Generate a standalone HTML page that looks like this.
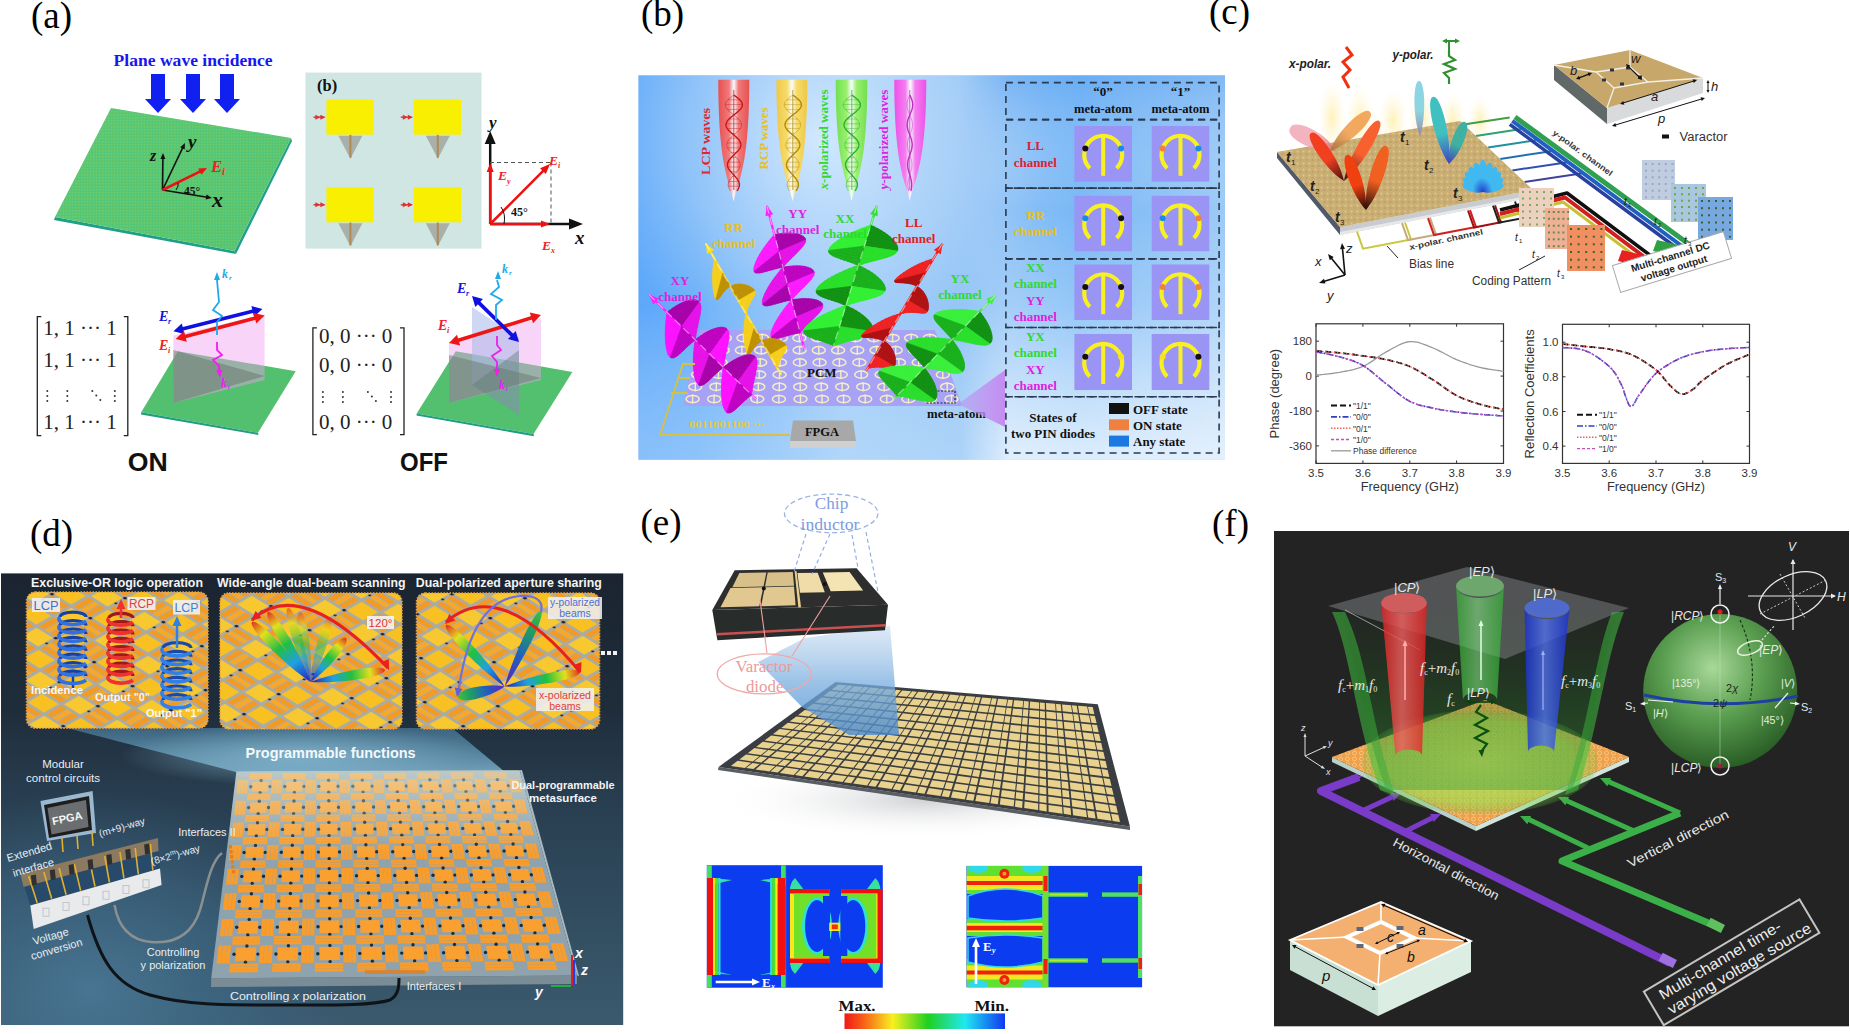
<!DOCTYPE html>
<html><head><meta charset="utf-8"><title>Programmable metasurfaces figure</title>
<style>html,body{margin:0;padding:0;background:#fff;overflow:hidden;width:1850px;height:1034px}svg{display:block}</style>
</head><body>
<svg width="1850" height="1034" viewBox="0 0 1850 1034">
<defs>
<linearGradient id="gplate" x1="0" y1="0" x2="1" y2="1"><stop offset="0" stop-color="#5cc874"/><stop offset="1" stop-color="#56c472"/></linearGradient>
<pattern id="gdots" width="3" height="3" patternUnits="userSpaceOnUse"><rect width="1.5" height="1.5" fill="#c8e040"/><rect x="1.5" y="1.5" width="1.5" height="1.5" fill="#30c8a0"/></pattern>
<linearGradient id="hfade" gradientUnits="userSpaceOnUse" x1="960" y1="0" x2="1010" y2="0"><stop offset="0" stop-color="#000"/><stop offset="1" stop-color="#fff"/></linearGradient>
<mask id="tmask" maskUnits="userSpaceOnUse" x="0" y="0" width="1850" height="1034"><rect x="960" y="75" width="270" height="390" fill="url(#hfade)"/></mask>
<linearGradient id="btable" x1="0" y1="0" x2="0" y2="1"><stop offset="0" stop-color="#4a98f0" stop-opacity="0.35"/><stop offset="0.35" stop-color="#ffffff" stop-opacity="0"/><stop offset="0.7" stop-color="#ffffff" stop-opacity="0.3"/><stop offset="1" stop-color="#ffffff" stop-opacity="0.65"/></linearGradient>
<linearGradient id="bbg" x1="0" y1="0" x2="1" y2="0"><stop offset="0" stop-color="#5ea8fa"/><stop offset="0.1" stop-color="#66aef8"/><stop offset="0.35" stop-color="#9ccaf8"/><stop offset="0.6" stop-color="#92c4f6"/><stop offset="0.75" stop-color="#78b8f6"/><stop offset="1" stop-color="#9ccaf6"/></linearGradient>
<radialGradient id="bglow" cx="820" cy="140" r="230" gradientUnits="userSpaceOnUse"><stop offset="0" stop-color="#d8ecff" stop-opacity="0.9"/><stop offset="0.6" stop-color="#c0dcfa" stop-opacity="0.45"/><stop offset="1" stop-color="#a8d0f8" stop-opacity="0"/></radialGradient>
<linearGradient id="bglow2" x1="0" y1="0" x2="0" y2="1"><stop offset="0" stop-color="#ffffff" stop-opacity="0"/><stop offset="0.6" stop-color="#ffffff" stop-opacity="0"/><stop offset="1" stop-color="#d8ecfc" stop-opacity="0.35"/></linearGradient>
<linearGradient id="tri" x1="0" y1="0" x2="1" y2="0"><stop offset="0" stop-color="#b890f0" stop-opacity="0.5"/><stop offset="1" stop-color="#c48cf0"/></linearGradient>
<radialGradient id="yglow"><stop offset="0" stop-color="#fff0b0" stop-opacity="0.9"/><stop offset="1" stop-color="#fff8e0" stop-opacity="0"/></radialGradient>
<pattern id="sand" width="6" height="6" patternUnits="userSpaceOnUse"><rect width="6" height="6" fill="#c8ac70"/><circle cx="1.5" cy="1.5" r="1" fill="#e8d8a8"/><circle cx="4.5" cy="4" r="0.9" fill="#a89058"/></pattern>
<clipPath id="dclip"><rect x="1" y="573.4" width="622.2" height="451.6"/></clipPath>
<linearGradient id="dbg" x1="0" y1="0" x2="0" y2="1"><stop offset="0" stop-color="#1b2430"/><stop offset="0.3" stop-color="#1f2d3b"/><stop offset="0.5" stop-color="#283e50"/><stop offset="1" stop-color="#3b5a6e"/></linearGradient>
<radialGradient id="dlow"><stop offset="0" stop-color="#4a7896" stop-opacity="0.9"/><stop offset="0.6" stop-color="#3e6a88" stop-opacity="0.5"/><stop offset="1" stop-color="#3a6080" stop-opacity="0"/></radialGradient>
<linearGradient id="dspot" x1="0" y1="0" x2="0" y2="1"><stop offset="0" stop-color="#4e86a8" stop-opacity="0.6"/><stop offset="1" stop-color="#78aac4" stop-opacity="0.9"/></linearGradient>
<radialGradient id="dspot2"><stop offset="0" stop-color="#8cc0d8" stop-opacity="0.7"/><stop offset="1" stop-color="#8cc0d8" stop-opacity="0"/></radialGradient>
<linearGradient id="dboardlight" x1="0" y1="0" x2="0" y2="1"><stop offset="0" stop-color="#e8f0e0" stop-opacity="0.5"/><stop offset="1" stop-color="#e8f0e0" stop-opacity="0"/></linearGradient>
<pattern id="tiles" width="40" height="40" patternUnits="userSpaceOnUse" patternTransform="rotate(-30) skewX(28)"><rect x="2" y="2" width="17" height="17" fill="#f8c830"/><rect x="22" y="2" width="17" height="5" fill="#f59a20"/><rect x="22" y="8" width="17" height="5" fill="#f8a828"/><rect x="22" y="14" width="17" height="5" fill="#f59a20"/><rect x="2" y="22" width="5" height="17" fill="#f59a20"/><rect x="8" y="22" width="5" height="17" fill="#f8a828"/><rect x="14" y="22" width="5" height="17" fill="#f59a20"/><rect x="22" y="22" width="17" height="17" fill="#f8c020"/><circle cx="20.5" cy="20.5" r="1.6" fill="#223"/><circle cx="10" cy="20.5" r="1.2" fill="#223"/></pattern>
<radialGradient id="eshadow"><stop offset="0" stop-color="#b0b4b8" stop-opacity="0.6"/><stop offset="1" stop-color="#ffffff" stop-opacity="0"/></radialGradient>
<linearGradient id="econe" x1="0" y1="0" x2="0" y2="1"><stop offset="0" stop-color="#c8dcf0" stop-opacity="0.6"/><stop offset="0.5" stop-color="#7cb0e0" stop-opacity="0.75"/><stop offset="1" stop-color="#4a8ad0" stop-opacity="0.8"/></linearGradient>
<linearGradient id="jet" x1="0" y1="0" x2="1" y2="0"><stop offset="0" stop-color="#f01818"/><stop offset="0.12" stop-color="#f86018"/><stop offset="0.3" stop-color="#f8f020"/><stop offset="0.52" stop-color="#20d020"/><stop offset="0.75" stop-color="#20e8f0"/><stop offset="1" stop-color="#1038f0"/></linearGradient>
<linearGradient id="funnel" x1="0" y1="0" x2="0" y2="1"><stop offset="0" stop-color="#1a5a1a" stop-opacity="0.05"/><stop offset="0.5" stop-color="#207820" stop-opacity="0.3"/><stop offset="1" stop-color="#40a040" stop-opacity="0.45"/></linearGradient>
<pattern id="hexp" width="7" height="6" patternUnits="userSpaceOnUse"><circle cx="3.5" cy="3" r="2" fill="none" stroke="#fde0b0" stroke-width="0.8"/></pattern>
<radialGradient id="fglow"><stop offset="0" stop-color="#c8f060" stop-opacity="0.75"/><stop offset="0.8" stop-color="#90e050" stop-opacity="0.6"/><stop offset="1" stop-color="#60c040" stop-opacity="0.2"/></radialGradient>
<radialGradient id="sph" cx="0.45" cy="0.35" r="0.65"><stop offset="0" stop-color="#a8d898"/><stop offset="0.5" stop-color="#5a9e50"/><stop offset="1" stop-color="#2a5e26"/></radialGradient>
<linearGradient id="cr" x1="0" y1="0" x2="1" y2="0"><stop offset="0" stop-color="#e85050"/><stop offset="0.35" stop-color="#f07a7a"/><stop offset="0.5" stop-color="#ffffff" stop-opacity="0.9"/><stop offset="0.65" stop-color="#f07a7a"/><stop offset="1" stop-color="#e85050"/></linearGradient>
<linearGradient id="cy" x1="0" y1="0" x2="1" y2="0"><stop offset="0" stop-color="#eec848"/><stop offset="0.35" stop-color="#f7dc6a"/><stop offset="0.5" stop-color="#ffffff" stop-opacity="0.9"/><stop offset="0.65" stop-color="#f7dc6a"/><stop offset="1" stop-color="#eec848"/></linearGradient>
<linearGradient id="cg" x1="0" y1="0" x2="1" y2="0"><stop offset="0" stop-color="#70e050"/><stop offset="0.35" stop-color="#9cf070"/><stop offset="0.5" stop-color="#ffffff" stop-opacity="0.9"/><stop offset="0.65" stop-color="#9cf070"/><stop offset="1" stop-color="#70e050"/></linearGradient>
<linearGradient id="cm" x1="0" y1="0" x2="1" y2="0"><stop offset="0" stop-color="#ee50e8"/><stop offset="0.35" stop-color="#f57ef0"/><stop offset="0.5" stop-color="#ffffff" stop-opacity="0.9"/><stop offset="0.65" stop-color="#f57ef0"/><stop offset="1" stop-color="#ee50e8"/></linearGradient>
<linearGradient id="lb1" gradientUnits="userSpaceOnUse" x1="0" y1="0" x2="51.4" y2="0"><stop offset="0" stop-color="#e07070"/><stop offset="0.45" stop-color="#f0a0b0"/><stop offset="1" stop-color="#f0a0b0"/></linearGradient>
<linearGradient id="lb2" gradientUnits="userSpaceOnUse" x1="0" y1="0" x2="55.9" y2="0"><stop offset="0" stop-color="#a07040"/><stop offset="0.45" stop-color="#f0a050"/><stop offset="1" stop-color="#f0a050"/></linearGradient>
<linearGradient id="lb3" gradientUnits="userSpaceOnUse" x1="0" y1="0" x2="58.2" y2="0"><stop offset="0" stop-color="#401010"/><stop offset="0.45" stop-color="#f04020"/><stop offset="1" stop-color="#f04020"/></linearGradient>
<linearGradient id="lb4" gradientUnits="userSpaceOnUse" x1="0" y1="0" x2="69.5" y2="0"><stop offset="0" stop-color="#401010"/><stop offset="0.45" stop-color="#f86030"/><stop offset="1" stop-color="#f86030"/></linearGradient>
<linearGradient id="lb5" gradientUnits="userSpaceOnUse" x1="0" y1="0" x2="58.2" y2="0"><stop offset="0" stop-color="#200808"/><stop offset="0.45" stop-color="#f04010"/><stop offset="1" stop-color="#f04010"/></linearGradient>
<linearGradient id="lb6" gradientUnits="userSpaceOnUse" x1="0" y1="0" x2="67.1" y2="0"><stop offset="0" stop-color="#200808"/><stop offset="0.45" stop-color="#f06020"/><stop offset="1" stop-color="#f06020"/></linearGradient>
<linearGradient id="lb7" gradientUnits="userSpaceOnUse" x1="0" y1="0" x2="55" y2="0"><stop offset="0" stop-color="#9080b0"/><stop offset="0.45" stop-color="#80d0e0"/><stop offset="1" stop-color="#80d0e0"/></linearGradient>
<linearGradient id="lb8" gradientUnits="userSpaceOnUse" x1="0" y1="0" x2="68.9" y2="0"><stop offset="0" stop-color="#4040c0"/><stop offset="0.45" stop-color="#40c0c0"/><stop offset="1" stop-color="#40c0c0"/></linearGradient>
<linearGradient id="lb9" gradientUnits="userSpaceOnUse" x1="0" y1="0" x2="44.9" y2="0"><stop offset="0" stop-color="#4040c0"/><stop offset="0.45" stop-color="#40b0a0"/><stop offset="1" stop-color="#40b0a0"/></linearGradient>
<linearGradient id="lbb0" gradientUnits="userSpaceOnUse" x1="0" y1="0" x2="21.6" y2="0"><stop offset="0" stop-color="#2040d0"/><stop offset="0.45" stop-color="#40b8f0"/><stop offset="1" stop-color="#40b8f0"/></linearGradient>
<linearGradient id="lbb1" gradientUnits="userSpaceOnUse" x1="0" y1="0" x2="23.9" y2="0"><stop offset="0" stop-color="#2040d0"/><stop offset="0.45" stop-color="#40b8f0"/><stop offset="1" stop-color="#40b8f0"/></linearGradient>
<linearGradient id="lbb2" gradientUnits="userSpaceOnUse" x1="0" y1="0" x2="26.1" y2="0"><stop offset="0" stop-color="#2040d0"/><stop offset="0.45" stop-color="#40b8f0"/><stop offset="1" stop-color="#40b8f0"/></linearGradient>
<linearGradient id="lbb3" gradientUnits="userSpaceOnUse" x1="0" y1="0" x2="28.1" y2="0"><stop offset="0" stop-color="#2040d0"/><stop offset="0.45" stop-color="#40b8f0"/><stop offset="1" stop-color="#40b8f0"/></linearGradient>
<linearGradient id="lbb4" gradientUnits="userSpaceOnUse" x1="0" y1="0" x2="30.1" y2="0"><stop offset="0" stop-color="#2040d0"/><stop offset="0.45" stop-color="#40b8f0"/><stop offset="1" stop-color="#40b8f0"/></linearGradient>
<linearGradient id="lbb5" gradientUnits="userSpaceOnUse" x1="0" y1="0" x2="32" y2="0"><stop offset="0" stop-color="#2040d0"/><stop offset="0.45" stop-color="#40b8f0"/><stop offset="1" stop-color="#40b8f0"/></linearGradient>
<linearGradient id="lbb6" gradientUnits="userSpaceOnUse" x1="0" y1="0" x2="30.1" y2="0"><stop offset="0" stop-color="#2040d0"/><stop offset="0.45" stop-color="#40b8f0"/><stop offset="1" stop-color="#40b8f0"/></linearGradient>
<linearGradient id="lbb7" gradientUnits="userSpaceOnUse" x1="0" y1="0" x2="28.1" y2="0"><stop offset="0" stop-color="#2040d0"/><stop offset="0.45" stop-color="#40b8f0"/><stop offset="1" stop-color="#40b8f0"/></linearGradient>
<linearGradient id="lbb8" gradientUnits="userSpaceOnUse" x1="0" y1="0" x2="26.1" y2="0"><stop offset="0" stop-color="#2040d0"/><stop offset="0.45" stop-color="#40b8f0"/><stop offset="1" stop-color="#40b8f0"/></linearGradient>
<linearGradient id="lbb9" gradientUnits="userSpaceOnUse" x1="0" y1="0" x2="23.9" y2="0"><stop offset="0" stop-color="#2040d0"/><stop offset="0.45" stop-color="#40b8f0"/><stop offset="1" stop-color="#40b8f0"/></linearGradient>
<linearGradient id="lbb10" gradientUnits="userSpaceOnUse" x1="0" y1="0" x2="21.6" y2="0"><stop offset="0" stop-color="#2040d0"/><stop offset="0.45" stop-color="#40b8f0"/><stop offset="1" stop-color="#40b8f0"/></linearGradient>
<clipPath id="ins0"><rect x="26.5" y="592" width="181.5" height="136.2" rx="9"/></clipPath>
<clipPath id="ins1"><rect x="220" y="592.9" width="182" height="136.1" rx="9"/></clipPath>
<clipPath id="ins2"><rect x="416.5" y="592.9" width="183.1" height="136.1" rx="9"/></clipPath>
<linearGradient id="rb2_0" gradientUnits="userSpaceOnUse" x1="0" y1="0" x2="83.8" y2="0"><stop offset="0" stop-color="#2020c0"/><stop offset="0.3" stop-color="#20a0e0"/><stop offset="0.55" stop-color="#20c040"/><stop offset="0.8" stop-color="#e0e020"/><stop offset="1" stop-color="#e03020"/></linearGradient>
<linearGradient id="rb2_1" gradientUnits="userSpaceOnUse" x1="0" y1="0" x2="81.9" y2="0"><stop offset="0" stop-color="#2020c0"/><stop offset="0.3" stop-color="#20a0e0"/><stop offset="0.55" stop-color="#20c040"/><stop offset="0.8" stop-color="#e0e020"/><stop offset="1" stop-color="#e03020"/></linearGradient>
<linearGradient id="rb2_2" gradientUnits="userSpaceOnUse" x1="0" y1="0" x2="77.3" y2="0"><stop offset="0" stop-color="#2020c0"/><stop offset="0.3" stop-color="#20a0e0"/><stop offset="0.55" stop-color="#20c040"/><stop offset="0.8" stop-color="#e0e020"/><stop offset="1" stop-color="#e03020"/></linearGradient>
<linearGradient id="rb2_3" gradientUnits="userSpaceOnUse" x1="0" y1="0" x2="70.8" y2="0"><stop offset="0" stop-color="#2020c0"/><stop offset="0.3" stop-color="#20a0e0"/><stop offset="0.55" stop-color="#20c040"/><stop offset="0.8" stop-color="#e0e020"/><stop offset="1" stop-color="#e03020"/></linearGradient>
<linearGradient id="rb2_4" gradientUnits="userSpaceOnUse" x1="0" y1="0" x2="67.9" y2="0"><stop offset="0" stop-color="#2020c0"/><stop offset="0.3" stop-color="#20a0e0"/><stop offset="0.55" stop-color="#20c040"/><stop offset="0.8" stop-color="#e0e020"/><stop offset="1" stop-color="#e03020"/></linearGradient>
<linearGradient id="rb2_5" gradientUnits="userSpaceOnUse" x1="0" y1="0" x2="56.5" y2="0"><stop offset="0" stop-color="#2020c0"/><stop offset="0.3" stop-color="#20a0e0"/><stop offset="0.55" stop-color="#20c040"/><stop offset="0.8" stop-color="#e0e020"/><stop offset="1" stop-color="#e03020"/></linearGradient>
<linearGradient id="rb2_6" gradientUnits="userSpaceOnUse" x1="0" y1="0" x2="75.5" y2="0"><stop offset="0" stop-color="#2020c0"/><stop offset="0.3" stop-color="#20a0e0"/><stop offset="0.55" stop-color="#20c040"/><stop offset="0.8" stop-color="#e0e020"/><stop offset="1" stop-color="#e03020"/></linearGradient>
<linearGradient id="rb3_0" gradientUnits="userSpaceOnUse" x1="0" y1="0" x2="85.1" y2="0"><stop offset="0" stop-color="#2020c0"/><stop offset="0.3" stop-color="#20a0e0"/><stop offset="0.55" stop-color="#20c040"/><stop offset="0.8" stop-color="#e0e020"/><stop offset="1" stop-color="#e03020"/></linearGradient>
<linearGradient id="rb3_1" gradientUnits="userSpaceOnUse" x1="0" y1="0" x2="76.7" y2="0"><stop offset="0" stop-color="#2020c0"/><stop offset="0.3" stop-color="#20a0e0"/><stop offset="0.55" stop-color="#20c040"/><stop offset="0.8" stop-color="#e0e020"/><stop offset="1" stop-color="#e03020"/></linearGradient>
<linearGradient id="rb3_2" gradientUnits="userSpaceOnUse" x1="0" y1="0" x2="83.9" y2="0"><stop offset="0" stop-color="#6020c0"/><stop offset="0.4" stop-color="#2060c0"/><stop offset="0.75" stop-color="#20a060"/><stop offset="1" stop-color="#40c040"/></linearGradient>
<linearGradient id="rb3_3" gradientUnits="userSpaceOnUse" x1="0" y1="0" x2="47.8" y2="0"><stop offset="0" stop-color="#6020c0"/><stop offset="0.4" stop-color="#2060c0"/><stop offset="0.75" stop-color="#20a060"/><stop offset="1" stop-color="#40c040"/></linearGradient>
<clipPath id="fp1"><rect x="706.8" y="865.2" width="176" height="122.5"/></clipPath>
<clipPath id="fp2"><rect x="966.5" y="865.9" width="175.6" height="121.4"/></clipPath>
<linearGradient id="cylr" x1="0" y1="0" x2="1" y2="0"><stop offset="0" stop-color="#e02020"/><stop offset="0.45" stop-color="#f06060"/><stop offset="1" stop-color="#e02020"/></linearGradient>
<linearGradient id="cylg" x1="0" y1="0" x2="1" y2="0"><stop offset="0" stop-color="#30c030"/><stop offset="0.45" stop-color="#80e080"/><stop offset="1" stop-color="#30c030"/></linearGradient>
<linearGradient id="cylb" x1="0" y1="0" x2="1" y2="0"><stop offset="0" stop-color="#1830d0"/><stop offset="0.45" stop-color="#5070e8"/><stop offset="1" stop-color="#1830d0"/></linearGradient>
</defs>
<rect x="0" y="0" width="1850" height="1034" fill="#ffffff" />
<text x="31" y="27.9" font-family="'Liberation Serif', 'Times New Roman', serif" font-size="37" fill="#000" font-weight="normal" font-style="normal" text-anchor="start" >(a)</text>
<text x="113.6" y="66" font-family="'Liberation Serif', 'Times New Roman', serif" font-size="17.5" fill="#1717ee" font-weight="bold" font-style="normal" text-anchor="start" textLength="159" lengthAdjust="spacingAndGlyphs" >Plane wave incidence</text>
<polygon points="151,74 165,74 165,99 171,99 158,113 145,99 151,99" fill="#1020f0" />
<polygon points="186,74 200,74 200,99 206,99 193,113 180,99 186,99" fill="#1020f0" />
<polygon points="220,74 234,74 234,99 240,99 227,113 214,99 220,99" fill="#1020f0" />
<polygon points="55,217 234.5,251 236,254 54,220" fill="#1f9f86" />
<polygon points="234.5,251 291,138 292,141 236,254" fill="#23a08a" />
<polygon points="111,108 291,138 234.5,251 55,217" fill="url(#gplate)" />
<polygon points="111,108 291,138 234.5,251 55,217" fill="url(#gdots)" opacity="0.18"/>
<line x1="162.5" y1="190" x2="162.9" y2="157.8" stroke="#111" stroke-width="1.6" />
<polygon points="163,153 165.4,159 160.4,159" fill="#111" />
<line x1="162.5" y1="190" x2="182.9" y2="147.3" stroke="#111" stroke-width="1.6" />
<polygon points="185,143 184.7,149.5 180.2,147.3" fill="#111" />
<line x1="162.5" y1="190" x2="207.3" y2="197.2" stroke="#111" stroke-width="1.6" />
<polygon points="212,198 205.7,199.5 206.5,194.6" fill="#111" />
<line x1="162.5" y1="190" x2="201.3" y2="170.8" stroke="#ee1111" stroke-width="2.6" />
<polygon points="207,168 201.4,174.7 198.3,168.4" fill="#ee1111" />
<path d="M 176,190 Q 179,186 178,183" fill="none" stroke="#111" stroke-width="1" />
<text x="150" y="161" font-family="'Liberation Serif', 'Times New Roman', serif" font-size="16" fill="#111" font-weight="bold" font-style="italic" text-anchor="start" >z</text>
<text x="188" y="148" font-family="'Liberation Serif', 'Times New Roman', serif" font-size="19" fill="#111" font-weight="bold" font-style="italic" text-anchor="start" >y</text>
<text x="212" y="207" font-family="'Liberation Serif', 'Times New Roman', serif" font-size="22" fill="#111" font-weight="bold" font-style="italic" text-anchor="start" >x</text>
<text x="211" y="172" font-family="'Liberation Serif', 'Times New Roman', serif" font-size="17" fill="#ee2222" font-weight="bold" font-style="italic" text-anchor="start" >E</text>
<text x="222" y="175" font-family="'Liberation Serif', 'Times New Roman', serif" font-size="10" fill="#ee2222" font-weight="bold" font-style="italic" text-anchor="start" >i</text>
<text x="184" y="195" font-family="'Liberation Serif', 'Times New Roman', serif" font-size="11.5" fill="#111" font-weight="bold" font-style="normal" text-anchor="start" >45°</text>
<rect x="305.5" y="72.6" width="176" height="176" fill="#cfe6e2" />
<text x="317" y="91" font-family="'Liberation Serif', 'Times New Roman', serif" font-size="16.5" fill="#111" font-weight="bold" font-style="normal" text-anchor="start" >(b)</text>
<polygon points="338.4,135.7 362.4,135.7 350.4,158.7" fill="#a9b0aa" />
<line x1="350.4" y1="134.7" x2="350.4" y2="157.7" stroke="#b08a50" stroke-width="2" />
<rect x="326.4" y="99.7" width="47.2" height="35" fill="#f8f000" />
<line x1="313.4" y1="117.2" x2="324.4" y2="117.2" stroke="#e04040" stroke-width="1.5" />
<polygon points="325.4,117.2 320.4,114.7 320.4,119.7" fill="#e03030" />
<polygon points="320.4,117.2 315.4,114.7 315.4,119.7" fill="#e03030" />
<polygon points="425.8,135.7 449.8,135.7 437.8,158.7" fill="#a9b0aa" />
<line x1="437.8" y1="134.7" x2="437.8" y2="157.7" stroke="#b08a50" stroke-width="2" />
<rect x="413.8" y="99.7" width="47.2" height="35" fill="#f8f000" />
<line x1="400.8" y1="117.2" x2="411.8" y2="117.2" stroke="#e04040" stroke-width="1.5" />
<polygon points="412.8,117.2 407.8,114.7 407.8,119.7" fill="#e03030" />
<polygon points="407.8,117.2 402.8,114.7 402.8,119.7" fill="#e03030" />
<polygon points="338.4,223.3 362.4,223.3 350.4,246.3" fill="#a9b0aa" />
<line x1="350.4" y1="222.3" x2="350.4" y2="245.3" stroke="#b08a50" stroke-width="2" />
<rect x="326.4" y="187.3" width="47.2" height="35" fill="#f8f000" />
<line x1="313.4" y1="204.8" x2="324.4" y2="204.8" stroke="#e04040" stroke-width="1.5" />
<polygon points="325.4,204.8 320.4,202.3 320.4,207.3" fill="#e03030" />
<polygon points="320.4,204.8 315.4,202.3 315.4,207.3" fill="#e03030" />
<polygon points="425.8,223.3 449.8,223.3 437.8,246.3" fill="#a9b0aa" />
<line x1="437.8" y1="222.3" x2="437.8" y2="245.3" stroke="#b08a50" stroke-width="2" />
<rect x="413.8" y="187.3" width="47.2" height="35" fill="#f8f000" />
<line x1="400.8" y1="204.8" x2="411.8" y2="204.8" stroke="#e04040" stroke-width="1.5" />
<polygon points="412.8,204.8 407.8,202.3 407.8,207.3" fill="#e03030" />
<polygon points="407.8,204.8 402.8,202.3 402.8,207.3" fill="#e03030" />
<line x1="490.2" y1="224" x2="490.2" y2="141.4" stroke="#111" stroke-width="2.5" />
<polygon points="490.2,131 495.7,144 484.7,144" fill="#111" />
<line x1="490.2" y1="224" x2="571.8" y2="224" stroke="#111" stroke-width="2.5" />
<polygon points="583,224 569,229.5 569,218.5" fill="#111" />
<line x1="490" y1="162.5" x2="551" y2="162.5" stroke="#555" stroke-width="1" stroke-dasharray="4,3"/>
<line x1="551" y1="162.5" x2="551" y2="224" stroke="#555" stroke-width="1" stroke-dasharray="4,3"/>
<line x1="490.2" y1="224" x2="490.2" y2="170.2" stroke="#ee1111" stroke-width="2.5" />
<polygon points="490.2,163 493.7,172 486.7,172" fill="#ee1111" />
<line x1="490.2" y1="224" x2="542.8" y2="224" stroke="#ee1111" stroke-width="2.5" />
<polygon points="550,224 541,227.5 541,220.5" fill="#ee1111" />
<line x1="490.2" y1="224" x2="544.4" y2="169.7" stroke="#ee1111" stroke-width="2.5" />
<polygon points="550,164 545.8,173.9 540.1,168.3" fill="#ee1111" />
<path d="M 504,224 Q 506,214 501,207" fill="none" stroke="#111" stroke-width="1" />
<text x="489" y="128" font-family="'Liberation Serif', 'Times New Roman', serif" font-size="17" fill="#111" font-weight="bold" font-style="italic" text-anchor="start" >y</text>
<text x="575" y="244" font-family="'Liberation Serif', 'Times New Roman', serif" font-size="19" fill="#111" font-weight="bold" font-style="italic" text-anchor="start" >x</text>
<text x="549" y="165" font-family="'Liberation Serif', 'Times New Roman', serif" font-size="13.5" fill="#ee2222" font-weight="bold" font-style="italic" text-anchor="start" >E</text>
<text x="558" y="168" font-family="'Liberation Serif', 'Times New Roman', serif" font-size="8" fill="#ee2222" font-weight="bold" font-style="italic" text-anchor="start" >i</text>
<text x="498" y="180" font-family="'Liberation Serif', 'Times New Roman', serif" font-size="13.5" fill="#ee2222" font-weight="bold" font-style="italic" text-anchor="start" >E</text>
<text x="507" y="184" font-family="'Liberation Serif', 'Times New Roman', serif" font-size="8" fill="#ee2222" font-weight="bold" font-style="italic" text-anchor="start" >y</text>
<text x="542" y="250" font-family="'Liberation Serif', 'Times New Roman', serif" font-size="13.5" fill="#ee2222" font-weight="bold" font-style="italic" text-anchor="start" >E</text>
<text x="551" y="253" font-family="'Liberation Serif', 'Times New Roman', serif" font-size="8" fill="#ee2222" font-weight="bold" font-style="italic" text-anchor="start" >x</text>
<text x="511" y="216" font-family="'Liberation Serif', 'Times New Roman', serif" font-size="12" fill="#111" font-weight="bold" font-style="normal" text-anchor="start" >45°</text>
<path d="M 41.3,316.7 h -4 v 119 h 4" fill="none" stroke="#222" stroke-width="1.3"/>
<path d="M 123.8,316.7 h 4 v 119 h -4" fill="none" stroke="#222" stroke-width="1.3"/>
<text x="43.3" y="334.5" font-family="'Liberation Serif', 'Times New Roman', serif" font-size="21" fill="#222" font-weight="normal" font-style="normal" text-anchor="start" >1, 1 ··· 1</text>
<text x="43.3" y="366.7" font-family="'Liberation Serif', 'Times New Roman', serif" font-size="21" fill="#222" font-weight="normal" font-style="normal" text-anchor="start" >1, 1 ··· 1</text>
<circle cx="47.3" cy="391" r="1" fill="#333"/>
<circle cx="47.3" cy="396" r="1" fill="#333"/>
<circle cx="47.3" cy="401" r="1" fill="#333"/>
<circle cx="67.3" cy="391" r="1" fill="#333"/>
<circle cx="67.3" cy="396" r="1" fill="#333"/>
<circle cx="67.3" cy="401" r="1" fill="#333"/>
<circle cx="92.3" cy="391" r="1" fill="#333"/>
<circle cx="96.3" cy="395.5" r="1" fill="#333"/>
<circle cx="100.3" cy="400" r="1" fill="#333"/>
<circle cx="114.8" cy="391" r="1" fill="#333"/>
<circle cx="114.8" cy="396" r="1" fill="#333"/>
<circle cx="114.8" cy="401" r="1" fill="#333"/>
<text x="43.3" y="429" font-family="'Liberation Serif', 'Times New Roman', serif" font-size="21" fill="#222" font-weight="normal" font-style="normal" text-anchor="start" >1, 1 ··· 1</text>
<path d="M 316.9,327.8 h -4 v 106.8 h 4" fill="none" stroke="#222" stroke-width="1.3"/>
<path d="M 400,327.8 h 4 v 106.8 h -4" fill="none" stroke="#222" stroke-width="1.3"/>
<text x="318.9" y="343.4" font-family="'Liberation Serif', 'Times New Roman', serif" font-size="21" fill="#222" font-weight="normal" font-style="normal" text-anchor="start" >0, 0 ··· 0</text>
<text x="318.9" y="372.3" font-family="'Liberation Serif', 'Times New Roman', serif" font-size="21" fill="#222" font-weight="normal" font-style="normal" text-anchor="start" >0, 0 ··· 0</text>
<circle cx="322.9" cy="392" r="1" fill="#333"/>
<circle cx="322.9" cy="397" r="1" fill="#333"/>
<circle cx="322.9" cy="402" r="1" fill="#333"/>
<circle cx="342.9" cy="392" r="1" fill="#333"/>
<circle cx="342.9" cy="397" r="1" fill="#333"/>
<circle cx="342.9" cy="402" r="1" fill="#333"/>
<circle cx="367.9" cy="392" r="1" fill="#333"/>
<circle cx="371.9" cy="396.5" r="1" fill="#333"/>
<circle cx="375.9" cy="401" r="1" fill="#333"/>
<circle cx="391" cy="392" r="1" fill="#333"/>
<circle cx="391" cy="397" r="1" fill="#333"/>
<circle cx="391" cy="402" r="1" fill="#333"/>
<text x="318.9" y="429" font-family="'Liberation Serif', 'Times New Roman', serif" font-size="21" fill="#222" font-weight="normal" font-style="normal" text-anchor="start" >0, 0 ··· 0</text>
<text x="127.8" y="471.3" font-family="'Liberation Sans', Arial, sans-serif" font-size="26" fill="#111" font-weight="bold" font-style="normal" text-anchor="start" textLength="40" lengthAdjust="spacingAndGlyphs" >ON</text>
<text x="400" y="471" font-family="'Liberation Sans', Arial, sans-serif" font-size="26" fill="#111" font-weight="bold" font-style="normal" text-anchor="start" textLength="48" lengthAdjust="spacingAndGlyphs" >OFF</text>
<polygon points="177.9,351.2 295.7,371.2 258,432.8 141.2,412.3" fill="#52c06e" />
<polygon points="141.2,412.3 258,432.8 258.5,435 141,414.5" fill="#1e9d80" />
<polygon points="173.4,335.6 264.6,314.5 264.6,380 173.4,403" fill="#f0a0f0" opacity="0.45"/>
<polygon points="173.4,350 264.6,376 173.4,403" fill="#6a7a70" opacity="0.55"/>
<line x1="181.2" y1="329.3" x2="254.6" y2="310.8" stroke="#1010e0" stroke-width="3.6" />
<polygon points="262.4,308.9 254,316.7 251.4,306" fill="#1010e0" />
<polygon points="173.4,331.2 181.8,323.4 184.4,334.1" fill="#1010e0" />
<line x1="183.4" y1="337" x2="256.9" y2="317.6" stroke="#ee1515" stroke-width="3.6" />
<polygon points="264.6,315.6 256.3,323.5 253.5,312.8" fill="#ee1515" />
<polygon points="175.7,339 184,331.1 186.8,341.8" fill="#ee1515" />
<path d="M 217,335 L 217,322 L 222,316 L 213,310 L 219,302 L 217,280" fill="none" stroke="#20aae8" stroke-width="1.8" />
<polygon points="217,272 220,280 214,280" fill="#20aae8" />
<path d="M 217,342 L 217,350 L 222,355 L 213,360 L 219,366 L 219,372" fill="none" stroke="#ee20ee" stroke-width="1.8" />
<polygon points="220,378 216.3,370.3 222.3,369.8" fill="#ee20ee" />
<text x="159" y="321" font-family="'Liberation Serif', 'Times New Roman', serif" font-size="14" fill="#1515dd" font-weight="bold" font-style="italic" text-anchor="start" >E</text>
<text x="168" y="324" font-family="'Liberation Serif', 'Times New Roman', serif" font-size="8" fill="#1515dd" font-weight="bold" font-style="italic" text-anchor="start" >r</text>
<text x="159" y="350" font-family="'Liberation Serif', 'Times New Roman', serif" font-size="14" fill="#ee2222" font-weight="bold" font-style="italic" text-anchor="start" >E</text>
<text x="168" y="353" font-family="'Liberation Serif', 'Times New Roman', serif" font-size="8" fill="#ee2222" font-weight="bold" font-style="italic" text-anchor="start" >i</text>
<text x="222" y="278" font-family="'Liberation Serif', 'Times New Roman', serif" font-size="12" fill="#20aae8" font-weight="bold" font-style="italic" text-anchor="start" >k</text>
<text x="229" y="280" font-family="'Liberation Serif', 'Times New Roman', serif" font-size="7" fill="#20aae8" font-weight="bold" font-style="italic" text-anchor="start" >r</text>
<text x="221" y="387" font-family="'Liberation Serif', 'Times New Roman', serif" font-size="12" fill="#ee20ee" font-weight="bold" font-style="italic" text-anchor="start" >k</text>
<text x="228" y="389" font-family="'Liberation Serif', 'Times New Roman', serif" font-size="7" fill="#ee20ee" font-weight="bold" font-style="italic" text-anchor="start" >i</text>
<polygon points="455.7,351.2 572.4,371.9 533.5,434.1 416.7,413.4" fill="#52c06e" />
<polygon points="416.7,413.4 533.5,434.1 534,436.3 416.5,415.6" fill="#1e9d80" />
<polygon points="449,342 541,318 541,380 449,403" fill="#f0a0f0" opacity="0.45"/>
<polygon points="472,307 519,338 519,415 472,385" fill="#a8b8e8" opacity="0.55"/>
<polygon points="449,355 541,378 449,403" fill="#6a7a70" opacity="0.5"/>
<polygon points="472,385 519,415 519,350" fill="#5a7a68" opacity="0.4"/>
<line x1="456.7" y1="340.7" x2="533.3" y2="317.3" stroke="#ee1515" stroke-width="3.6" />
<polygon points="541,315 533,323.2 529.8,312.6" fill="#ee1515" />
<polygon points="449,343 457,334.8 460.2,345.4" fill="#ee1515" />
<line x1="477.7" y1="301.6" x2="513.3" y2="336.4" stroke="#1010e0" stroke-width="3.6" />
<polygon points="519,342 508,338.9 515.7,331.1" fill="#1010e0" />
<polygon points="472,296 483,299.1 475.3,306.9" fill="#1010e0" />
<path d="M 496,320 L 496,305 L 502,300 L 491,294 L 499,287 L 497,280" fill="none" stroke="#20aae8" stroke-width="1.8" />
<polygon points="498,271 501,279 495,279" fill="#20aae8" />
<path d="M 497,336 L 497,345 L 501,350 L 492,356 L 497,362 L 497,370" fill="none" stroke="#ee20ee" stroke-width="1.8" />
<polygon points="497,377 494,369 500,369" fill="#ee20ee" />
<text x="457" y="293" font-family="'Liberation Serif', 'Times New Roman', serif" font-size="14" fill="#1515dd" font-weight="bold" font-style="italic" text-anchor="start" >E</text>
<text x="466" y="296" font-family="'Liberation Serif', 'Times New Roman', serif" font-size="8" fill="#1515dd" font-weight="bold" font-style="italic" text-anchor="start" >r</text>
<text x="438" y="330" font-family="'Liberation Serif', 'Times New Roman', serif" font-size="14" fill="#ee2222" font-weight="bold" font-style="italic" text-anchor="start" >E</text>
<text x="447" y="333" font-family="'Liberation Serif', 'Times New Roman', serif" font-size="8" fill="#ee2222" font-weight="bold" font-style="italic" text-anchor="start" >i</text>
<text x="502" y="273" font-family="'Liberation Serif', 'Times New Roman', serif" font-size="12" fill="#20aae8" font-weight="bold" font-style="italic" text-anchor="start" >k</text>
<text x="509" y="275" font-family="'Liberation Serif', 'Times New Roman', serif" font-size="7" fill="#20aae8" font-weight="bold" font-style="italic" text-anchor="start" >r</text>
<text x="499" y="389" font-family="'Liberation Serif', 'Times New Roman', serif" font-size="12" fill="#ee20ee" font-weight="bold" font-style="italic" text-anchor="start" >k</text>
<text x="506" y="391" font-family="'Liberation Serif', 'Times New Roman', serif" font-size="7" fill="#ee20ee" font-weight="bold" font-style="italic" text-anchor="start" >i</text>
<text x="641" y="26.3" font-family="'Liberation Serif', 'Times New Roman', serif" font-size="37" fill="#000" font-weight="normal" font-style="normal" text-anchor="start" >(b)</text>
<rect x="638.4" y="75.3" width="586.6" height="384.5" fill="url(#bbg)" />
<rect x="638.4" y="75.3" width="586.6" height="384.5" fill="url(#bglow)" />
<rect x="638.4" y="75.3" width="586.6" height="384.5" fill="url(#bglow2)" />
<rect x="960" y="75.3" width="265" height="384.5" fill="url(#btable)" mask="url(#tmask)"/>
<path d="M 718.3,79.7 L 749.3,79.7 C 749.3,164.7 738.8,179.5 733.8,201.5 C 728.8,179.5 718.3,164.7 718.3,79.7 Z" fill="url(#cr)" stroke="none" stroke-width="1" />
<path d="M 776.4,79.7 L 807.3,79.7 C 807.3,164.7 797.8,179.5 792.8,201.5 C 787.8,179.5 776.4,164.7 776.4,79.7 Z" fill="url(#cy)" stroke="none" stroke-width="1" />
<path d="M 835.7,79.7 L 867.3,79.7 C 867.3,164.7 856.8,179 851.8,201 C 846.8,179 835.7,164.7 835.7,79.7 Z" fill="url(#cg)" stroke="none" stroke-width="1" />
<path d="M 894.3,79.7 L 926.3,79.7 C 926.3,164.7 914.8,179 909.8,201 C 904.8,179 894.3,164.7 894.3,79.7 Z" fill="url(#cm)" stroke="none" stroke-width="1" />
<path d="M 733.8,95 L 736,96.6 L 738.1,98.2 L 739.8,99.8 L 741.2,101.4 L 742.1,103 L 742.4,104.6 L 742.2,106.2 L 741.5,107.8 L 740.3,109.4 L 738.7,111 L 736.9,112.6 L 734.8,114.2 L 732.8,115.8 L 730.8,117.4 L 729,119 L 727.6,120.6 L 726.6,122.2 L 726,123.8 L 726,125.4 L 726.4,127 L 727.3,128.6 L 728.5,130.2 L 730.1,131.8 L 731.9,133.4 L 733.8,135 L 735.7,136.6 L 737.4,138.2 L 738.8,139.8 L 739.9,141.4 L 740.6,143 L 740.9,144.6 L 740.8,146.2 L 740.2,147.8 L 739.2,149.4 L 737.9,151 L 736.3,152.6 L 734.6,154.2 L 733,155.8 L 731.3,157.4 L 729.9,159 L 728.8,160.6 L 727.9,162.2 L 727.5,163.8 L 727.5,165.4 L 727.8,167 L 728.5,168.6 L 729.6,170.2 L 730.9,171.8 L 732.3,173.4 L 733.8,175 L 735.3,176.6 L 736.6,178.2 L 737.8,179.8 L 738.7,181.4 L 739.2,183 L 739.4,184.6 L 739.3,186.2 L 738.8,187.8 L 738,189.4 L 737,191" fill="none" stroke="#c81818" stroke-width="1.4" />
<path d="M 733.8,95 L 731.6,96.6 L 729.5,98.2 L 727.8,99.8 L 726.4,101.4 L 725.5,103 L 725.2,104.6 L 725.4,106.2 L 726.1,107.8 L 727.3,109.4 L 728.9,111 L 730.7,112.6 L 732.8,114.2 L 734.8,115.8 L 736.8,117.4 L 738.6,119 L 740,120.6 L 741,122.2 L 741.6,123.8 L 741.6,125.4 L 741.2,127 L 740.3,128.6 L 739.1,130.2 L 737.5,131.8 L 735.7,133.4 L 733.8,135 L 731.9,136.6 L 730.2,138.2 L 728.8,139.8 L 727.7,141.4 L 727,143 L 726.7,144.6 L 726.8,146.2 L 727.4,147.8 L 728.4,149.4 L 729.7,151 L 731.3,152.6 L 733,154.2 L 734.6,155.8 L 736.3,157.4 L 737.7,159 L 738.8,160.6 L 739.7,162.2 L 740.1,163.8 L 740.1,165.4 L 739.8,167 L 739.1,168.6 L 738,170.2 L 736.7,171.8 L 735.3,173.4 L 733.8,175 L 732.3,176.6 L 731,178.2 L 729.8,179.8 L 728.9,181.4 L 728.4,183 L 728.2,184.6 L 728.3,186.2 L 728.8,187.8 L 729.6,189.4 L 730.6,191" fill="none" stroke="#c81818" stroke-width="0.8" opacity="0.6"/>
<line x1="733.8" y1="95" x2="733.8" y2="95" stroke="#c81818" stroke-width="0.6" opacity="0.7"/>
<line x1="727.8" y1="99.8" x2="739.8" y2="99.8" stroke="#c81818" stroke-width="0.6" opacity="0.7"/>
<line x1="725.2" y1="104.6" x2="742.4" y2="104.6" stroke="#c81818" stroke-width="0.6" opacity="0.7"/>
<line x1="727.3" y1="109.4" x2="740.3" y2="109.4" stroke="#c81818" stroke-width="0.6" opacity="0.7"/>
<line x1="732.8" y1="114.2" x2="734.8" y2="114.2" stroke="#c81818" stroke-width="0.6" opacity="0.7"/>
<line x1="738.6" y1="119" x2="729" y2="119" stroke="#c81818" stroke-width="0.6" opacity="0.7"/>
<line x1="741.6" y1="123.8" x2="726" y2="123.8" stroke="#c81818" stroke-width="0.6" opacity="0.7"/>
<line x1="740.3" y1="128.6" x2="727.3" y2="128.6" stroke="#c81818" stroke-width="0.6" opacity="0.7"/>
<line x1="735.7" y1="133.4" x2="731.9" y2="133.4" stroke="#c81818" stroke-width="0.6" opacity="0.7"/>
<line x1="730.2" y1="138.2" x2="737.4" y2="138.2" stroke="#c81818" stroke-width="0.6" opacity="0.7"/>
<line x1="727" y1="143" x2="740.6" y2="143" stroke="#c81818" stroke-width="0.6" opacity="0.7"/>
<line x1="727.4" y1="147.8" x2="740.2" y2="147.8" stroke="#c81818" stroke-width="0.6" opacity="0.7"/>
<line x1="731.3" y1="152.6" x2="736.3" y2="152.6" stroke="#c81818" stroke-width="0.6" opacity="0.7"/>
<line x1="736.3" y1="157.4" x2="731.3" y2="157.4" stroke="#c81818" stroke-width="0.6" opacity="0.7"/>
<line x1="739.7" y1="162.2" x2="727.9" y2="162.2" stroke="#c81818" stroke-width="0.6" opacity="0.7"/>
<line x1="739.8" y1="167" x2="727.8" y2="167" stroke="#c81818" stroke-width="0.6" opacity="0.7"/>
<line x1="736.7" y1="171.8" x2="730.9" y2="171.8" stroke="#c81818" stroke-width="0.6" opacity="0.7"/>
<line x1="732.3" y1="176.6" x2="735.3" y2="176.6" stroke="#c81818" stroke-width="0.6" opacity="0.7"/>
<line x1="728.9" y1="181.4" x2="738.7" y2="181.4" stroke="#c81818" stroke-width="0.6" opacity="0.7"/>
<line x1="728.3" y1="186.2" x2="739.3" y2="186.2" stroke="#c81818" stroke-width="0.6" opacity="0.7"/>
<line x1="733.8" y1="90" x2="733.8" y2="190" stroke="#c81818" stroke-width="0.8" />
<path d="M 792.8,95 L 795,96.6 L 797.1,98.2 L 798.8,99.8 L 800.2,101.4 L 801.1,103 L 801.4,104.6 L 801.2,106.2 L 800.5,107.8 L 799.3,109.4 L 797.7,111 L 795.9,112.6 L 793.8,114.2 L 791.8,115.8 L 789.8,117.4 L 788,119 L 786.6,120.6 L 785.6,122.2 L 785,123.8 L 785,125.4 L 785.4,127 L 786.3,128.6 L 787.5,130.2 L 789.1,131.8 L 790.9,133.4 L 792.8,135 L 794.7,136.6 L 796.4,138.2 L 797.8,139.8 L 798.9,141.4 L 799.6,143 L 799.9,144.6 L 799.8,146.2 L 799.2,147.8 L 798.2,149.4 L 796.9,151 L 795.3,152.6 L 793.6,154.2 L 792,155.8 L 790.3,157.4 L 788.9,159 L 787.8,160.6 L 786.9,162.2 L 786.5,163.8 L 786.5,165.4 L 786.8,167 L 787.5,168.6 L 788.6,170.2 L 789.9,171.8 L 791.3,173.4 L 792.8,175 L 794.3,176.6 L 795.6,178.2 L 796.8,179.8 L 797.7,181.4 L 798.2,183 L 798.4,184.6 L 798.3,186.2 L 797.8,187.8 L 797,189.4 L 796,191" fill="none" stroke="#b08a10" stroke-width="1.4" />
<path d="M 792.8,95 L 790.6,96.6 L 788.5,98.2 L 786.8,99.8 L 785.4,101.4 L 784.5,103 L 784.2,104.6 L 784.4,106.2 L 785.1,107.8 L 786.3,109.4 L 787.9,111 L 789.7,112.6 L 791.8,114.2 L 793.8,115.8 L 795.8,117.4 L 797.6,119 L 799,120.6 L 800,122.2 L 800.6,123.8 L 800.6,125.4 L 800.2,127 L 799.3,128.6 L 798.1,130.2 L 796.5,131.8 L 794.7,133.4 L 792.8,135 L 790.9,136.6 L 789.2,138.2 L 787.8,139.8 L 786.7,141.4 L 786,143 L 785.7,144.6 L 785.8,146.2 L 786.4,147.8 L 787.4,149.4 L 788.7,151 L 790.3,152.6 L 792,154.2 L 793.6,155.8 L 795.3,157.4 L 796.7,159 L 797.8,160.6 L 798.7,162.2 L 799.1,163.8 L 799.1,165.4 L 798.8,167 L 798.1,168.6 L 797,170.2 L 795.7,171.8 L 794.3,173.4 L 792.8,175 L 791.3,176.6 L 790,178.2 L 788.8,179.8 L 787.9,181.4 L 787.4,183 L 787.2,184.6 L 787.3,186.2 L 787.8,187.8 L 788.6,189.4 L 789.6,191" fill="none" stroke="#b08a10" stroke-width="0.8" opacity="0.6"/>
<line x1="792.8" y1="95" x2="792.8" y2="95" stroke="#b08a10" stroke-width="0.6" opacity="0.7"/>
<line x1="786.8" y1="99.8" x2="798.8" y2="99.8" stroke="#b08a10" stroke-width="0.6" opacity="0.7"/>
<line x1="784.2" y1="104.6" x2="801.4" y2="104.6" stroke="#b08a10" stroke-width="0.6" opacity="0.7"/>
<line x1="786.3" y1="109.4" x2="799.3" y2="109.4" stroke="#b08a10" stroke-width="0.6" opacity="0.7"/>
<line x1="791.8" y1="114.2" x2="793.8" y2="114.2" stroke="#b08a10" stroke-width="0.6" opacity="0.7"/>
<line x1="797.6" y1="119" x2="788" y2="119" stroke="#b08a10" stroke-width="0.6" opacity="0.7"/>
<line x1="800.6" y1="123.8" x2="785" y2="123.8" stroke="#b08a10" stroke-width="0.6" opacity="0.7"/>
<line x1="799.3" y1="128.6" x2="786.3" y2="128.6" stroke="#b08a10" stroke-width="0.6" opacity="0.7"/>
<line x1="794.7" y1="133.4" x2="790.9" y2="133.4" stroke="#b08a10" stroke-width="0.6" opacity="0.7"/>
<line x1="789.2" y1="138.2" x2="796.4" y2="138.2" stroke="#b08a10" stroke-width="0.6" opacity="0.7"/>
<line x1="786" y1="143" x2="799.6" y2="143" stroke="#b08a10" stroke-width="0.6" opacity="0.7"/>
<line x1="786.4" y1="147.8" x2="799.2" y2="147.8" stroke="#b08a10" stroke-width="0.6" opacity="0.7"/>
<line x1="790.3" y1="152.6" x2="795.3" y2="152.6" stroke="#b08a10" stroke-width="0.6" opacity="0.7"/>
<line x1="795.3" y1="157.4" x2="790.3" y2="157.4" stroke="#b08a10" stroke-width="0.6" opacity="0.7"/>
<line x1="798.7" y1="162.2" x2="786.9" y2="162.2" stroke="#b08a10" stroke-width="0.6" opacity="0.7"/>
<line x1="798.8" y1="167" x2="786.8" y2="167" stroke="#b08a10" stroke-width="0.6" opacity="0.7"/>
<line x1="795.7" y1="171.8" x2="789.9" y2="171.8" stroke="#b08a10" stroke-width="0.6" opacity="0.7"/>
<line x1="791.3" y1="176.6" x2="794.3" y2="176.6" stroke="#b08a10" stroke-width="0.6" opacity="0.7"/>
<line x1="787.9" y1="181.4" x2="797.7" y2="181.4" stroke="#b08a10" stroke-width="0.6" opacity="0.7"/>
<line x1="787.3" y1="186.2" x2="798.3" y2="186.2" stroke="#b08a10" stroke-width="0.6" opacity="0.7"/>
<line x1="792.8" y1="90" x2="792.8" y2="190" stroke="#b08a10" stroke-width="0.8" />
<path d="M 851.8,95 L 854,96.6 L 856.1,98.2 L 857.8,99.8 L 859.2,101.4 L 860.1,103 L 860.4,104.6 L 860.2,106.2 L 859.5,107.8 L 858.3,109.4 L 856.7,111 L 854.9,112.6 L 852.8,114.2 L 850.8,115.8 L 848.8,117.4 L 847,119 L 845.6,120.6 L 844.6,122.2 L 844,123.8 L 844,125.4 L 844.4,127 L 845.3,128.6 L 846.5,130.2 L 848.1,131.8 L 849.9,133.4 L 851.8,135 L 853.7,136.6 L 855.4,138.2 L 856.8,139.8 L 857.9,141.4 L 858.6,143 L 858.9,144.6 L 858.8,146.2 L 858.2,147.8 L 857.2,149.4 L 855.9,151 L 854.3,152.6 L 852.6,154.2 L 851,155.8 L 849.3,157.4 L 847.9,159 L 846.8,160.6 L 845.9,162.2 L 845.5,163.8 L 845.5,165.4 L 845.8,167 L 846.5,168.6 L 847.6,170.2 L 848.9,171.8 L 850.3,173.4 L 851.8,175 L 853.3,176.6 L 854.6,178.2 L 855.8,179.8 L 856.7,181.4 L 857.2,183 L 857.4,184.6 L 857.3,186.2 L 856.8,187.8 L 856,189.4 L 855,191" fill="none" stroke="#30b030" stroke-width="1.4" />
<path d="M 851.8,95 L 849.6,96.6 L 847.5,98.2 L 845.8,99.8 L 844.4,101.4 L 843.5,103 L 843.2,104.6 L 843.4,106.2 L 844.1,107.8 L 845.3,109.4 L 846.9,111 L 848.7,112.6 L 850.8,114.2 L 852.8,115.8 L 854.8,117.4 L 856.6,119 L 858,120.6 L 859,122.2 L 859.6,123.8 L 859.6,125.4 L 859.2,127 L 858.3,128.6 L 857.1,130.2 L 855.5,131.8 L 853.7,133.4 L 851.8,135 L 849.9,136.6 L 848.2,138.2 L 846.8,139.8 L 845.7,141.4 L 845,143 L 844.7,144.6 L 844.8,146.2 L 845.4,147.8 L 846.4,149.4 L 847.7,151 L 849.3,152.6 L 851,154.2 L 852.6,155.8 L 854.3,157.4 L 855.7,159 L 856.8,160.6 L 857.7,162.2 L 858.1,163.8 L 858.1,165.4 L 857.8,167 L 857.1,168.6 L 856,170.2 L 854.7,171.8 L 853.3,173.4 L 851.8,175 L 850.3,176.6 L 849,178.2 L 847.8,179.8 L 846.9,181.4 L 846.4,183 L 846.2,184.6 L 846.3,186.2 L 846.8,187.8 L 847.6,189.4 L 848.6,191" fill="none" stroke="#30b030" stroke-width="0.8" opacity="0.6"/>
<line x1="851.8" y1="95" x2="851.8" y2="95" stroke="#30b030" stroke-width="0.6" opacity="0.7"/>
<line x1="845.8" y1="99.8" x2="857.8" y2="99.8" stroke="#30b030" stroke-width="0.6" opacity="0.7"/>
<line x1="843.2" y1="104.6" x2="860.4" y2="104.6" stroke="#30b030" stroke-width="0.6" opacity="0.7"/>
<line x1="845.3" y1="109.4" x2="858.3" y2="109.4" stroke="#30b030" stroke-width="0.6" opacity="0.7"/>
<line x1="850.8" y1="114.2" x2="852.8" y2="114.2" stroke="#30b030" stroke-width="0.6" opacity="0.7"/>
<line x1="856.6" y1="119" x2="847" y2="119" stroke="#30b030" stroke-width="0.6" opacity="0.7"/>
<line x1="859.6" y1="123.8" x2="844" y2="123.8" stroke="#30b030" stroke-width="0.6" opacity="0.7"/>
<line x1="858.3" y1="128.6" x2="845.3" y2="128.6" stroke="#30b030" stroke-width="0.6" opacity="0.7"/>
<line x1="853.7" y1="133.4" x2="849.9" y2="133.4" stroke="#30b030" stroke-width="0.6" opacity="0.7"/>
<line x1="848.2" y1="138.2" x2="855.4" y2="138.2" stroke="#30b030" stroke-width="0.6" opacity="0.7"/>
<line x1="845" y1="143" x2="858.6" y2="143" stroke="#30b030" stroke-width="0.6" opacity="0.7"/>
<line x1="845.4" y1="147.8" x2="858.2" y2="147.8" stroke="#30b030" stroke-width="0.6" opacity="0.7"/>
<line x1="849.3" y1="152.6" x2="854.3" y2="152.6" stroke="#30b030" stroke-width="0.6" opacity="0.7"/>
<line x1="854.3" y1="157.4" x2="849.3" y2="157.4" stroke="#30b030" stroke-width="0.6" opacity="0.7"/>
<line x1="857.7" y1="162.2" x2="845.9" y2="162.2" stroke="#30b030" stroke-width="0.6" opacity="0.7"/>
<line x1="857.8" y1="167" x2="845.8" y2="167" stroke="#30b030" stroke-width="0.6" opacity="0.7"/>
<line x1="854.7" y1="171.8" x2="848.9" y2="171.8" stroke="#30b030" stroke-width="0.6" opacity="0.7"/>
<line x1="850.3" y1="176.6" x2="853.3" y2="176.6" stroke="#30b030" stroke-width="0.6" opacity="0.7"/>
<line x1="846.9" y1="181.4" x2="856.7" y2="181.4" stroke="#30b030" stroke-width="0.6" opacity="0.7"/>
<line x1="846.3" y1="186.2" x2="857.3" y2="186.2" stroke="#30b030" stroke-width="0.6" opacity="0.7"/>
<line x1="851.8" y1="90" x2="851.8" y2="190" stroke="#30b030" stroke-width="0.8" />
<path d="M 909.8,95 L 910.5,96.6 L 911.2,98.2 L 911.8,99.8 L 912.3,101.4 L 912.6,103 L 912.7,104.6 L 912.6,106.2 L 912.4,107.8 L 912,109.4 L 911.4,111 L 910.8,112.6 L 910.1,114.2 L 909.5,115.8 L 908.8,117.4 L 908.2,119 L 907.7,120.6 L 907.4,122.2 L 907.2,123.8 L 907.2,125.4 L 907.3,127 L 907.6,128.6 L 908,130.2 L 908.6,131.8 L 909.2,133.4 L 909.8,135 L 910.4,136.6 L 911,138.2 L 911.5,139.8 L 911.8,141.4 L 912.1,143 L 912.2,144.6 L 912.1,146.2 L 911.9,147.8 L 911.6,149.4 L 911.2,151 L 910.6,152.6 L 910.1,154.2 L 909.5,155.8 L 909,157.4 L 908.5,159 L 908.1,160.6 L 907.8,162.2 L 907.7,163.8 L 907.7,165.4 L 907.8,167 L 908,168.6 L 908.4,170.2 L 908.8,171.8 L 909.3,173.4 L 909.8,175 L 910.3,176.6 L 910.7,178.2 L 911.1,179.8 L 911.4,181.4 L 911.6,183 L 911.7,184.6 L 911.6,186.2 L 911.5,187.8 L 911.2,189.4 L 910.9,191" fill="none" stroke="#c030c0" stroke-width="1.4" />
<path d="M 909.8,95 L 909.1,96.6 L 908.4,98.2 L 907.8,99.8 L 907.3,101.4 L 907,103 L 906.9,104.6 L 907,106.2 L 907.2,107.8 L 907.6,109.4 L 908.2,111 L 908.8,112.6 L 909.5,114.2 L 910.1,115.8 L 910.8,117.4 L 911.4,119 L 911.9,120.6 L 912.2,122.2 L 912.4,123.8 L 912.4,125.4 L 912.3,127 L 912,128.6 L 911.6,130.2 L 911,131.8 L 910.4,133.4 L 909.8,135 L 909.2,136.6 L 908.6,138.2 L 908.1,139.8 L 907.8,141.4 L 907.5,143 L 907.4,144.6 L 907.5,146.2 L 907.7,147.8 L 908,149.4 L 908.4,151 L 909,152.6 L 909.5,154.2 L 910.1,155.8 L 910.6,157.4 L 911.1,159 L 911.5,160.6 L 911.8,162.2 L 911.9,163.8 L 911.9,165.4 L 911.8,167 L 911.6,168.6 L 911.2,170.2 L 910.8,171.8 L 910.3,173.4 L 909.8,175 L 909.3,176.6 L 908.9,178.2 L 908.5,179.8 L 908.2,181.4 L 908,183 L 907.9,184.6 L 908,186.2 L 908.1,187.8 L 908.4,189.4 L 908.7,191" fill="none" stroke="#c030c0" stroke-width="0.8" opacity="0.6"/>
<line x1="909.8" y1="90" x2="909.8" y2="190" stroke="#c030c0" stroke-width="0.8" />
<text x="705.8" y="141.5" font-family="'Liberation Serif', 'Times New Roman', serif" font-size="12.5" fill="#e02828" font-weight="bold" font-style="normal" text-anchor="middle" textLength="67" lengthAdjust="spacingAndGlyphs" transform="rotate(-90 705.8 141.5)" dominant-baseline="central">LCP waves</text>
<text x="763.8" y="138.5" font-family="'Liberation Serif', 'Times New Roman', serif" font-size="12.5" fill="#e8c020" font-weight="bold" font-style="normal" text-anchor="middle" textLength="62" lengthAdjust="spacingAndGlyphs" transform="rotate(-90 763.8 138.5)" dominant-baseline="central">RCP waves</text>
<text x="823.8" y="139.5" font-family="'Liberation Serif', 'Times New Roman', serif" font-size="12.5" fill="#30d830" font-weight="bold" font-style="normal" text-anchor="middle" textLength="100" lengthAdjust="spacingAndGlyphs" transform="rotate(-90 823.8 139.5)" dominant-baseline="central"><tspan font-style="italic">x</tspan>-polarized waves</text>
<text x="883.7" y="139.5" font-family="'Liberation Serif', 'Times New Roman', serif" font-size="12.5" fill="#e020e0" font-weight="bold" font-style="normal" text-anchor="middle" textLength="100" lengthAdjust="spacingAndGlyphs" transform="rotate(-90 883.7 139.5)" dominant-baseline="central"><tspan font-style="italic">y</tspan>-polarized waves</text>
<polygon points="700,330 935,330 962,406 683,406" fill="#a8a2f6" />
<ellipse cx="706.2" cy="338" rx="6.5" ry="3.6" fill="none" stroke="#f4eec0" stroke-width="1.5"/>
<line x1="706.2" y1="333.5" x2="706.2" y2="342.5" stroke="#f4eec0" stroke-width="1.4" />
<ellipse cx="724.8" cy="338" rx="6.5" ry="3.6" fill="none" stroke="#f4eec0" stroke-width="1.5"/>
<line x1="724.8" y1="333.5" x2="724.8" y2="342.5" stroke="#f4eec0" stroke-width="1.4" />
<ellipse cx="743.5" cy="338" rx="6.5" ry="3.6" fill="none" stroke="#f4eec0" stroke-width="1.5"/>
<line x1="743.5" y1="333.5" x2="743.5" y2="342.5" stroke="#f4eec0" stroke-width="1.4" />
<ellipse cx="762.1" cy="338" rx="6.5" ry="3.6" fill="none" stroke="#f4eec0" stroke-width="1.5"/>
<line x1="762.1" y1="333.5" x2="762.1" y2="342.5" stroke="#f4eec0" stroke-width="1.4" />
<ellipse cx="780.8" cy="338" rx="6.5" ry="3.6" fill="none" stroke="#f4eec0" stroke-width="1.5"/>
<line x1="780.8" y1="333.5" x2="780.8" y2="342.5" stroke="#f4eec0" stroke-width="1.4" />
<ellipse cx="799.4" cy="338" rx="6.5" ry="3.6" fill="none" stroke="#f4eec0" stroke-width="1.5"/>
<line x1="799.4" y1="333.5" x2="799.4" y2="342.5" stroke="#f4eec0" stroke-width="1.4" />
<ellipse cx="818" cy="338" rx="6.5" ry="3.6" fill="none" stroke="#f4eec0" stroke-width="1.5"/>
<line x1="818" y1="333.5" x2="818" y2="342.5" stroke="#f4eec0" stroke-width="1.4" />
<ellipse cx="836.7" cy="338" rx="6.5" ry="3.6" fill="none" stroke="#f4eec0" stroke-width="1.5"/>
<line x1="836.7" y1="333.5" x2="836.7" y2="342.5" stroke="#f4eec0" stroke-width="1.4" />
<ellipse cx="855.3" cy="338" rx="6.5" ry="3.6" fill="none" stroke="#f4eec0" stroke-width="1.5"/>
<line x1="855.3" y1="333.5" x2="855.3" y2="342.5" stroke="#f4eec0" stroke-width="1.4" />
<ellipse cx="873.9" cy="338" rx="6.5" ry="3.6" fill="none" stroke="#f4eec0" stroke-width="1.5"/>
<line x1="873.9" y1="333.5" x2="873.9" y2="342.5" stroke="#f4eec0" stroke-width="1.4" />
<ellipse cx="892.6" cy="338" rx="6.5" ry="3.6" fill="none" stroke="#f4eec0" stroke-width="1.5"/>
<line x1="892.6" y1="333.5" x2="892.6" y2="342.5" stroke="#f4eec0" stroke-width="1.4" />
<ellipse cx="911.2" cy="338" rx="6.5" ry="3.6" fill="none" stroke="#f4eec0" stroke-width="1.5"/>
<line x1="911.2" y1="333.5" x2="911.2" y2="342.5" stroke="#f4eec0" stroke-width="1.4" />
<ellipse cx="929.8" cy="338" rx="6.5" ry="3.6" fill="none" stroke="#f4eec0" stroke-width="1.5"/>
<line x1="929.8" y1="333.5" x2="929.8" y2="342.5" stroke="#f4eec0" stroke-width="1.4" />
<ellipse cx="703.5" cy="350.2" rx="6.5" ry="3.6" fill="none" stroke="#f4eec0" stroke-width="1.5"/>
<line x1="703.5" y1="345.7" x2="703.5" y2="354.7" stroke="#f4eec0" stroke-width="1.4" />
<ellipse cx="722.7" cy="350.2" rx="6.5" ry="3.6" fill="none" stroke="#f4eec0" stroke-width="1.5"/>
<line x1="722.7" y1="345.7" x2="722.7" y2="354.7" stroke="#f4eec0" stroke-width="1.4" />
<ellipse cx="741.9" cy="350.2" rx="6.5" ry="3.6" fill="none" stroke="#f4eec0" stroke-width="1.5"/>
<line x1="741.9" y1="345.7" x2="741.9" y2="354.7" stroke="#f4eec0" stroke-width="1.4" />
<ellipse cx="761.2" cy="350.2" rx="6.5" ry="3.6" fill="none" stroke="#f4eec0" stroke-width="1.5"/>
<line x1="761.2" y1="345.7" x2="761.2" y2="354.7" stroke="#f4eec0" stroke-width="1.4" />
<ellipse cx="780.4" cy="350.2" rx="6.5" ry="3.6" fill="none" stroke="#f4eec0" stroke-width="1.5"/>
<line x1="780.4" y1="345.7" x2="780.4" y2="354.7" stroke="#f4eec0" stroke-width="1.4" />
<ellipse cx="799.6" cy="350.2" rx="6.5" ry="3.6" fill="none" stroke="#f4eec0" stroke-width="1.5"/>
<line x1="799.6" y1="345.7" x2="799.6" y2="354.7" stroke="#f4eec0" stroke-width="1.4" />
<ellipse cx="818.8" cy="350.2" rx="6.5" ry="3.6" fill="none" stroke="#f4eec0" stroke-width="1.5"/>
<line x1="818.8" y1="345.7" x2="818.8" y2="354.7" stroke="#f4eec0" stroke-width="1.4" />
<ellipse cx="838.1" cy="350.2" rx="6.5" ry="3.6" fill="none" stroke="#f4eec0" stroke-width="1.5"/>
<line x1="838.1" y1="345.7" x2="838.1" y2="354.7" stroke="#f4eec0" stroke-width="1.4" />
<ellipse cx="857.3" cy="350.2" rx="6.5" ry="3.6" fill="none" stroke="#f4eec0" stroke-width="1.5"/>
<line x1="857.3" y1="345.7" x2="857.3" y2="354.7" stroke="#f4eec0" stroke-width="1.4" />
<ellipse cx="876.5" cy="350.2" rx="6.5" ry="3.6" fill="none" stroke="#f4eec0" stroke-width="1.5"/>
<line x1="876.5" y1="345.7" x2="876.5" y2="354.7" stroke="#f4eec0" stroke-width="1.4" />
<ellipse cx="895.7" cy="350.2" rx="6.5" ry="3.6" fill="none" stroke="#f4eec0" stroke-width="1.5"/>
<line x1="895.7" y1="345.7" x2="895.7" y2="354.7" stroke="#f4eec0" stroke-width="1.4" />
<ellipse cx="915" cy="350.2" rx="6.5" ry="3.6" fill="none" stroke="#f4eec0" stroke-width="1.5"/>
<line x1="915" y1="345.7" x2="915" y2="354.7" stroke="#f4eec0" stroke-width="1.4" />
<ellipse cx="934.2" cy="350.2" rx="6.5" ry="3.6" fill="none" stroke="#f4eec0" stroke-width="1.5"/>
<line x1="934.2" y1="345.7" x2="934.2" y2="354.7" stroke="#f4eec0" stroke-width="1.4" />
<ellipse cx="700.8" cy="362.4" rx="6.5" ry="3.6" fill="none" stroke="#f4eec0" stroke-width="1.5"/>
<line x1="700.8" y1="357.9" x2="700.8" y2="366.9" stroke="#f4eec0" stroke-width="1.4" />
<ellipse cx="720.6" cy="362.4" rx="6.5" ry="3.6" fill="none" stroke="#f4eec0" stroke-width="1.5"/>
<line x1="720.6" y1="357.9" x2="720.6" y2="366.9" stroke="#f4eec0" stroke-width="1.4" />
<ellipse cx="740.4" cy="362.4" rx="6.5" ry="3.6" fill="none" stroke="#f4eec0" stroke-width="1.5"/>
<line x1="740.4" y1="357.9" x2="740.4" y2="366.9" stroke="#f4eec0" stroke-width="1.4" />
<ellipse cx="760.2" cy="362.4" rx="6.5" ry="3.6" fill="none" stroke="#f4eec0" stroke-width="1.5"/>
<line x1="760.2" y1="357.9" x2="760.2" y2="366.9" stroke="#f4eec0" stroke-width="1.4" />
<ellipse cx="780" cy="362.4" rx="6.5" ry="3.6" fill="none" stroke="#f4eec0" stroke-width="1.5"/>
<line x1="780" y1="357.9" x2="780" y2="366.9" stroke="#f4eec0" stroke-width="1.4" />
<ellipse cx="799.8" cy="362.4" rx="6.5" ry="3.6" fill="none" stroke="#f4eec0" stroke-width="1.5"/>
<line x1="799.8" y1="357.9" x2="799.8" y2="366.9" stroke="#f4eec0" stroke-width="1.4" />
<ellipse cx="819.6" cy="362.4" rx="6.5" ry="3.6" fill="none" stroke="#f4eec0" stroke-width="1.5"/>
<line x1="819.6" y1="357.9" x2="819.6" y2="366.9" stroke="#f4eec0" stroke-width="1.4" />
<ellipse cx="839.4" cy="362.4" rx="6.5" ry="3.6" fill="none" stroke="#f4eec0" stroke-width="1.5"/>
<line x1="839.4" y1="357.9" x2="839.4" y2="366.9" stroke="#f4eec0" stroke-width="1.4" />
<ellipse cx="859.3" cy="362.4" rx="6.5" ry="3.6" fill="none" stroke="#f4eec0" stroke-width="1.5"/>
<line x1="859.3" y1="357.9" x2="859.3" y2="366.9" stroke="#f4eec0" stroke-width="1.4" />
<ellipse cx="879.1" cy="362.4" rx="6.5" ry="3.6" fill="none" stroke="#f4eec0" stroke-width="1.5"/>
<line x1="879.1" y1="357.9" x2="879.1" y2="366.9" stroke="#f4eec0" stroke-width="1.4" />
<ellipse cx="898.9" cy="362.4" rx="6.5" ry="3.6" fill="none" stroke="#f4eec0" stroke-width="1.5"/>
<line x1="898.9" y1="357.9" x2="898.9" y2="366.9" stroke="#f4eec0" stroke-width="1.4" />
<ellipse cx="918.7" cy="362.4" rx="6.5" ry="3.6" fill="none" stroke="#f4eec0" stroke-width="1.5"/>
<line x1="918.7" y1="357.9" x2="918.7" y2="366.9" stroke="#f4eec0" stroke-width="1.4" />
<ellipse cx="938.5" cy="362.4" rx="6.5" ry="3.6" fill="none" stroke="#f4eec0" stroke-width="1.5"/>
<line x1="938.5" y1="357.9" x2="938.5" y2="366.9" stroke="#f4eec0" stroke-width="1.4" />
<ellipse cx="698" cy="374.6" rx="6.5" ry="3.6" fill="none" stroke="#f4eec0" stroke-width="1.5"/>
<line x1="698" y1="370.1" x2="698" y2="379.1" stroke="#f4eec0" stroke-width="1.4" />
<ellipse cx="718.4" cy="374.6" rx="6.5" ry="3.6" fill="none" stroke="#f4eec0" stroke-width="1.5"/>
<line x1="718.4" y1="370.1" x2="718.4" y2="379.1" stroke="#f4eec0" stroke-width="1.4" />
<ellipse cx="738.8" cy="374.6" rx="6.5" ry="3.6" fill="none" stroke="#f4eec0" stroke-width="1.5"/>
<line x1="738.8" y1="370.1" x2="738.8" y2="379.1" stroke="#f4eec0" stroke-width="1.4" />
<ellipse cx="759.2" cy="374.6" rx="6.5" ry="3.6" fill="none" stroke="#f4eec0" stroke-width="1.5"/>
<line x1="759.2" y1="370.1" x2="759.2" y2="379.1" stroke="#f4eec0" stroke-width="1.4" />
<ellipse cx="779.6" cy="374.6" rx="6.5" ry="3.6" fill="none" stroke="#f4eec0" stroke-width="1.5"/>
<line x1="779.6" y1="370.1" x2="779.6" y2="379.1" stroke="#f4eec0" stroke-width="1.4" />
<ellipse cx="800" cy="374.6" rx="6.5" ry="3.6" fill="none" stroke="#f4eec0" stroke-width="1.5"/>
<line x1="800" y1="370.1" x2="800" y2="379.1" stroke="#f4eec0" stroke-width="1.4" />
<ellipse cx="820.4" cy="374.6" rx="6.5" ry="3.6" fill="none" stroke="#f4eec0" stroke-width="1.5"/>
<line x1="820.4" y1="370.1" x2="820.4" y2="379.1" stroke="#f4eec0" stroke-width="1.4" />
<ellipse cx="840.8" cy="374.6" rx="6.5" ry="3.6" fill="none" stroke="#f4eec0" stroke-width="1.5"/>
<line x1="840.8" y1="370.1" x2="840.8" y2="379.1" stroke="#f4eec0" stroke-width="1.4" />
<ellipse cx="861.2" cy="374.6" rx="6.5" ry="3.6" fill="none" stroke="#f4eec0" stroke-width="1.5"/>
<line x1="861.2" y1="370.1" x2="861.2" y2="379.1" stroke="#f4eec0" stroke-width="1.4" />
<ellipse cx="881.6" cy="374.6" rx="6.5" ry="3.6" fill="none" stroke="#f4eec0" stroke-width="1.5"/>
<line x1="881.6" y1="370.1" x2="881.6" y2="379.1" stroke="#f4eec0" stroke-width="1.4" />
<ellipse cx="902" cy="374.6" rx="6.5" ry="3.6" fill="none" stroke="#f4eec0" stroke-width="1.5"/>
<line x1="902" y1="370.1" x2="902" y2="379.1" stroke="#f4eec0" stroke-width="1.4" />
<ellipse cx="922.4" cy="374.6" rx="6.5" ry="3.6" fill="none" stroke="#f4eec0" stroke-width="1.5"/>
<line x1="922.4" y1="370.1" x2="922.4" y2="379.1" stroke="#f4eec0" stroke-width="1.4" />
<ellipse cx="942.8" cy="374.6" rx="6.5" ry="3.6" fill="none" stroke="#f4eec0" stroke-width="1.5"/>
<line x1="942.8" y1="370.1" x2="942.8" y2="379.1" stroke="#f4eec0" stroke-width="1.4" />
<ellipse cx="695.3" cy="386.8" rx="6.5" ry="3.6" fill="none" stroke="#f4eec0" stroke-width="1.5"/>
<line x1="695.3" y1="382.3" x2="695.3" y2="391.3" stroke="#f4eec0" stroke-width="1.4" />
<ellipse cx="716.3" cy="386.8" rx="6.5" ry="3.6" fill="none" stroke="#f4eec0" stroke-width="1.5"/>
<line x1="716.3" y1="382.3" x2="716.3" y2="391.3" stroke="#f4eec0" stroke-width="1.4" />
<ellipse cx="737.3" cy="386.8" rx="6.5" ry="3.6" fill="none" stroke="#f4eec0" stroke-width="1.5"/>
<line x1="737.3" y1="382.3" x2="737.3" y2="391.3" stroke="#f4eec0" stroke-width="1.4" />
<ellipse cx="758.3" cy="386.8" rx="6.5" ry="3.6" fill="none" stroke="#f4eec0" stroke-width="1.5"/>
<line x1="758.3" y1="382.3" x2="758.3" y2="391.3" stroke="#f4eec0" stroke-width="1.4" />
<ellipse cx="779.3" cy="386.8" rx="6.5" ry="3.6" fill="none" stroke="#f4eec0" stroke-width="1.5"/>
<line x1="779.3" y1="382.3" x2="779.3" y2="391.3" stroke="#f4eec0" stroke-width="1.4" />
<ellipse cx="800.2" cy="386.8" rx="6.5" ry="3.6" fill="none" stroke="#f4eec0" stroke-width="1.5"/>
<line x1="800.2" y1="382.3" x2="800.2" y2="391.3" stroke="#f4eec0" stroke-width="1.4" />
<ellipse cx="821.2" cy="386.8" rx="6.5" ry="3.6" fill="none" stroke="#f4eec0" stroke-width="1.5"/>
<line x1="821.2" y1="382.3" x2="821.2" y2="391.3" stroke="#f4eec0" stroke-width="1.4" />
<ellipse cx="842.2" cy="386.8" rx="6.5" ry="3.6" fill="none" stroke="#f4eec0" stroke-width="1.5"/>
<line x1="842.2" y1="382.3" x2="842.2" y2="391.3" stroke="#f4eec0" stroke-width="1.4" />
<ellipse cx="863.2" cy="386.8" rx="6.5" ry="3.6" fill="none" stroke="#f4eec0" stroke-width="1.5"/>
<line x1="863.2" y1="382.3" x2="863.2" y2="391.3" stroke="#f4eec0" stroke-width="1.4" />
<ellipse cx="884.2" cy="386.8" rx="6.5" ry="3.6" fill="none" stroke="#f4eec0" stroke-width="1.5"/>
<line x1="884.2" y1="382.3" x2="884.2" y2="391.3" stroke="#f4eec0" stroke-width="1.4" />
<ellipse cx="905.2" cy="386.8" rx="6.5" ry="3.6" fill="none" stroke="#f4eec0" stroke-width="1.5"/>
<line x1="905.2" y1="382.3" x2="905.2" y2="391.3" stroke="#f4eec0" stroke-width="1.4" />
<ellipse cx="926.2" cy="386.8" rx="6.5" ry="3.6" fill="none" stroke="#f4eec0" stroke-width="1.5"/>
<line x1="926.2" y1="382.3" x2="926.2" y2="391.3" stroke="#f4eec0" stroke-width="1.4" />
<ellipse cx="947.2" cy="386.8" rx="6.5" ry="3.6" fill="none" stroke="#f4eec0" stroke-width="1.5"/>
<line x1="947.2" y1="382.3" x2="947.2" y2="391.3" stroke="#f4eec0" stroke-width="1.4" />
<ellipse cx="692.6" cy="399" rx="6.5" ry="3.6" fill="none" stroke="#f4eec0" stroke-width="1.5"/>
<line x1="692.6" y1="394.5" x2="692.6" y2="403.5" stroke="#f4eec0" stroke-width="1.4" />
<ellipse cx="714.1" cy="399" rx="6.5" ry="3.6" fill="none" stroke="#f4eec0" stroke-width="1.5"/>
<line x1="714.1" y1="394.5" x2="714.1" y2="403.5" stroke="#f4eec0" stroke-width="1.4" />
<ellipse cx="735.7" cy="399" rx="6.5" ry="3.6" fill="none" stroke="#f4eec0" stroke-width="1.5"/>
<line x1="735.7" y1="394.5" x2="735.7" y2="403.5" stroke="#f4eec0" stroke-width="1.4" />
<ellipse cx="757.3" cy="399" rx="6.5" ry="3.6" fill="none" stroke="#f4eec0" stroke-width="1.5"/>
<line x1="757.3" y1="394.5" x2="757.3" y2="403.5" stroke="#f4eec0" stroke-width="1.4" />
<ellipse cx="778.9" cy="399" rx="6.5" ry="3.6" fill="none" stroke="#f4eec0" stroke-width="1.5"/>
<line x1="778.9" y1="394.5" x2="778.9" y2="403.5" stroke="#f4eec0" stroke-width="1.4" />
<ellipse cx="800.5" cy="399" rx="6.5" ry="3.6" fill="none" stroke="#f4eec0" stroke-width="1.5"/>
<line x1="800.5" y1="394.5" x2="800.5" y2="403.5" stroke="#f4eec0" stroke-width="1.4" />
<ellipse cx="822" cy="399" rx="6.5" ry="3.6" fill="none" stroke="#f4eec0" stroke-width="1.5"/>
<line x1="822" y1="394.5" x2="822" y2="403.5" stroke="#f4eec0" stroke-width="1.4" />
<ellipse cx="843.6" cy="399" rx="6.5" ry="3.6" fill="none" stroke="#f4eec0" stroke-width="1.5"/>
<line x1="843.6" y1="394.5" x2="843.6" y2="403.5" stroke="#f4eec0" stroke-width="1.4" />
<ellipse cx="865.2" cy="399" rx="6.5" ry="3.6" fill="none" stroke="#f4eec0" stroke-width="1.5"/>
<line x1="865.2" y1="394.5" x2="865.2" y2="403.5" stroke="#f4eec0" stroke-width="1.4" />
<ellipse cx="886.8" cy="399" rx="6.5" ry="3.6" fill="none" stroke="#f4eec0" stroke-width="1.5"/>
<line x1="886.8" y1="394.5" x2="886.8" y2="403.5" stroke="#f4eec0" stroke-width="1.4" />
<ellipse cx="908.4" cy="399" rx="6.5" ry="3.6" fill="none" stroke="#f4eec0" stroke-width="1.5"/>
<line x1="908.4" y1="394.5" x2="908.4" y2="403.5" stroke="#f4eec0" stroke-width="1.4" />
<ellipse cx="929.9" cy="399" rx="6.5" ry="3.6" fill="none" stroke="#f4eec0" stroke-width="1.5"/>
<line x1="929.9" y1="394.5" x2="929.9" y2="403.5" stroke="#f4eec0" stroke-width="1.4" />
<ellipse cx="951.5" cy="399" rx="6.5" ry="3.6" fill="none" stroke="#f4eec0" stroke-width="1.5"/>
<line x1="951.5" y1="394.5" x2="951.5" y2="403.5" stroke="#f4eec0" stroke-width="1.4" />
<rect x="927" y="391" width="28" height="12" fill="none" stroke="#223" stroke-width="1.2" stroke-dasharray="2,1.5"/>
<line x1="804.6" y1="350" x2="766.8" y2="205.6" stroke="#ff20ff" stroke-width="2.2" />
<polygon points="766.8,205.6 773.2,214.3 765.5,216.3" fill="#ff20ff" />
<polygon points="774.4,234.5 774.4,234.5 778,233.9 774.7,235.8" fill="#a800a8" stroke="#a800a8" stroke-width="0.7"/>
<polygon points="774.7,235.8 778,233.9 781.5,233.4 775,237.1" fill="#a800a8" stroke="#a800a8" stroke-width="0.7"/>
<polygon points="775,237.1 781.5,233.4 785.1,233.2 775.4,238.4" fill="#a800a8" stroke="#a800a8" stroke-width="0.7"/>
<polygon points="775.4,238.4 785.1,233.2 788.4,233.1 775.7,239.7" fill="#a800a8" stroke="#a800a8" stroke-width="0.7"/>
<polygon points="775.7,239.7 788.4,233.1 791.6,233.2 776.1,241" fill="#a800a8" stroke="#a800a8" stroke-width="0.7"/>
<polygon points="776.1,241 791.6,233.2 794.6,233.5 776.4,242.3" fill="#a800a8" stroke="#a800a8" stroke-width="0.7"/>
<polygon points="776.4,242.3 794.6,233.5 797.3,234 776.8,243.6" fill="#a800a8" stroke="#a800a8" stroke-width="0.7"/>
<polygon points="776.8,243.6 797.3,234 799.7,234.6 777.1,245" fill="#a800a8" stroke="#a800a8" stroke-width="0.7"/>
<polygon points="777.1,245 799.7,234.6 801.7,235.4 777.4,246.3" fill="#a800a8" stroke="#a800a8" stroke-width="0.7"/>
<polygon points="777.4,246.3 801.7,235.4 803.4,236.4 777.8,247.6" fill="#a800a8" stroke="#a800a8" stroke-width="0.7"/>
<polygon points="777.8,247.6 803.4,236.4 804.6,237.5 778.1,248.9" fill="#a800a8" stroke="#a800a8" stroke-width="0.7"/>
<polygon points="778.1,248.9 804.6,237.5 805.4,238.7 778.5,250.2" fill="#a800a8" stroke="#a800a8" stroke-width="0.7"/>
<polygon points="778.5,250.2 805.4,238.7 805.7,240 778.8,251.5" fill="#a800a8" stroke="#a800a8" stroke-width="0.7"/>
<polygon points="778.8,251.5 805.7,240 805.6,241.4 779.2,252.8" fill="#e810e8" stroke="#e810e8" stroke-width="0.7"/>
<polygon points="779.2,252.8 805.6,241.4 805.1,242.9 779.5,254.1" fill="#e810e8" stroke="#e810e8" stroke-width="0.7"/>
<polygon points="779.5,254.1 805.1,242.9 804.1,244.6 779.8,255.4" fill="#e810e8" stroke="#e810e8" stroke-width="0.7"/>
<polygon points="779.8,255.4 804.1,244.6 802.8,246.4 780.2,256.7" fill="#e810e8" stroke="#e810e8" stroke-width="0.7"/>
<polygon points="780.2,256.7 802.8,246.4 801.1,248.4 780.5,258" fill="#e810e8" stroke="#e810e8" stroke-width="0.7"/>
<polygon points="780.5,258 801.1,248.4 799.1,250.5 780.9,259.4" fill="#e810e8" stroke="#e810e8" stroke-width="0.7"/>
<polygon points="780.9,259.4 799.1,250.5 796.8,252.9 781.2,260.7" fill="#e810e8" stroke="#e810e8" stroke-width="0.7"/>
<polygon points="781.2,260.7 796.8,252.9 794.3,255.4 781.6,262" fill="#e810e8" stroke="#e810e8" stroke-width="0.7"/>
<polygon points="781.6,262 794.3,255.4 791.6,258.1 781.9,263.3" fill="#e810e8" stroke="#e810e8" stroke-width="0.7"/>
<polygon points="781.9,263.3 791.6,258.1 788.7,260.9 782.2,264.6" fill="#e810e8" stroke="#e810e8" stroke-width="0.7"/>
<polygon points="782.2,264.6 788.7,260.9 785.8,264 782.6,265.9" fill="#e810e8" stroke="#e810e8" stroke-width="0.7"/>
<polygon points="782.6,265.9 785.8,264 782.9,267.2 782.9,267.2" fill="#e810e8" stroke="#e810e8" stroke-width="0.7"/>
<polygon points="782.9,267.2 782.9,267.2 780,270.6 783.3,268.5" fill="#e810e8" stroke="#e810e8" stroke-width="0.7"/>
<polygon points="783.3,268.5 780,270.6 777.3,274 783.6,269.8" fill="#e810e8" stroke="#e810e8" stroke-width="0.7"/>
<polygon points="783.6,269.8 777.3,274 774.6,277.5 784,271.1" fill="#e810e8" stroke="#e810e8" stroke-width="0.7"/>
<polygon points="784,271.1 774.6,277.5 772.1,281 784.3,272.4" fill="#e810e8" stroke="#e810e8" stroke-width="0.7"/>
<polygon points="784.3,272.4 772.1,281 769.8,284.5 784.6,273.8" fill="#e810e8" stroke="#e810e8" stroke-width="0.7"/>
<polygon points="784.6,273.8 769.8,284.5 767.8,287.8 785,275.1" fill="#e810e8" stroke="#e810e8" stroke-width="0.7"/>
<polygon points="785,275.1 767.8,287.8 766.1,291 785.3,276.4" fill="#e810e8" stroke="#e810e8" stroke-width="0.7"/>
<polygon points="785.3,276.4 766.1,291 764.6,294 785.7,277.7" fill="#e810e8" stroke="#e810e8" stroke-width="0.7"/>
<polygon points="785.7,277.7 764.6,294 763.5,296.7 786,279" fill="#e810e8" stroke="#e810e8" stroke-width="0.7"/>
<polygon points="786,279 763.5,296.7 762.8,299.1 786.4,280.3" fill="#e810e8" stroke="#e810e8" stroke-width="0.7"/>
<polygon points="786.4,280.3 762.8,299.1 762.4,301.2 786.7,281.6" fill="#e810e8" stroke="#e810e8" stroke-width="0.7"/>
<polygon points="786.7,281.6 762.4,301.2 762.3,302.8 787,282.9" fill="#e810e8" stroke="#e810e8" stroke-width="0.7"/>
<polygon points="787,282.9 762.3,302.8 762.7,304.2 787.4,284.2" fill="#e810e8" stroke="#e810e8" stroke-width="0.7"/>
<polygon points="787.4,284.2 762.7,304.2 763.4,305.1 787.7,285.5" fill="#a800a8" stroke="#a800a8" stroke-width="0.7"/>
<polygon points="787.7,285.5 763.4,305.1 764.5,305.6 788.1,286.8" fill="#a800a8" stroke="#a800a8" stroke-width="0.7"/>
<polygon points="788.1,286.8 764.5,305.6 765.9,305.9 788.4,288.2" fill="#a800a8" stroke="#a800a8" stroke-width="0.7"/>
<polygon points="788.4,288.2 765.9,305.9 767.7,305.8 788.8,289.5" fill="#a800a8" stroke="#a800a8" stroke-width="0.7"/>
<polygon points="788.8,289.5 767.7,305.8 769.8,305.4 789.1,290.8" fill="#a800a8" stroke="#a800a8" stroke-width="0.7"/>
<polygon points="789.1,290.8 769.8,305.4 772.3,304.8 789.4,292.1" fill="#a800a8" stroke="#a800a8" stroke-width="0.7"/>
<polygon points="789.4,292.1 772.3,304.8 775,304.1 789.8,293.4" fill="#a800a8" stroke="#a800a8" stroke-width="0.7"/>
<polygon points="789.8,293.4 775,304.1 777.9,303.3 790.1,294.7" fill="#a800a8" stroke="#a800a8" stroke-width="0.7"/>
<polygon points="790.1,294.7 777.9,303.3 781.1,302.4 790.5,296" fill="#a800a8" stroke="#a800a8" stroke-width="0.7"/>
<polygon points="790.5,296 781.1,302.4 784.4,301.5 790.8,297.3" fill="#a800a8" stroke="#a800a8" stroke-width="0.7"/>
<polygon points="790.8,297.3 784.4,301.5 787.9,300.7 791.2,298.6" fill="#a800a8" stroke="#a800a8" stroke-width="0.7"/>
<polygon points="791.2,298.6 787.9,300.7 791.5,299.9 791.5,299.9" fill="#a800a8" stroke="#a800a8" stroke-width="0.7"/>
<polygon points="791.5,299.9 791.5,299.9 795.1,299.3 791.8,301.3" fill="#a800a8" stroke="#a800a8" stroke-width="0.7"/>
<polygon points="791.8,301.3 795.1,299.3 798.7,298.9 792.2,302.6" fill="#a800a8" stroke="#a800a8" stroke-width="0.7"/>
<polygon points="792.2,302.6 798.7,298.9 802.2,298.6 792.5,303.9" fill="#a800a8" stroke="#a800a8" stroke-width="0.7"/>
<polygon points="792.5,303.9 802.2,298.6 805.6,298.6 792.9,305.2" fill="#a800a8" stroke="#a800a8" stroke-width="0.7"/>
<polygon points="792.9,305.2 805.6,298.6 808.8,298.7 793.2,306.5" fill="#a800a8" stroke="#a800a8" stroke-width="0.7"/>
<polygon points="793.2,306.5 808.8,298.7 811.8,299 793.6,307.8" fill="#a800a8" stroke="#a800a8" stroke-width="0.7"/>
<polygon points="793.6,307.8 811.8,299 814.5,299.5 793.9,309.1" fill="#a800a8" stroke="#a800a8" stroke-width="0.7"/>
<polygon points="793.9,309.1 814.5,299.5 816.9,300.1 794.2,310.4" fill="#a800a8" stroke="#a800a8" stroke-width="0.7"/>
<polygon points="794.2,310.4 816.9,300.1 818.9,300.9 794.6,311.7" fill="#a800a8" stroke="#a800a8" stroke-width="0.7"/>
<polygon points="794.6,311.7 818.9,300.9 820.5,301.9 794.9,313" fill="#a800a8" stroke="#a800a8" stroke-width="0.7"/>
<polygon points="794.9,313 820.5,301.9 821.7,302.9 795.3,314.3" fill="#a800a8" stroke="#a800a8" stroke-width="0.7"/>
<polygon points="795.3,314.3 821.7,302.9 822.5,304.1 795.6,315.7" fill="#a800a8" stroke="#a800a8" stroke-width="0.7"/>
<polygon points="795.6,315.7 822.5,304.1 822.8,305.4 796,317" fill="#a800a8" stroke="#a800a8" stroke-width="0.7"/>
<polygon points="796,317 822.8,305.4 822.8,306.8 796.3,318.3" fill="#e810e8" stroke="#e810e8" stroke-width="0.7"/>
<polygon points="796.3,318.3 822.8,306.8 822.2,308.4 796.6,319.6" fill="#e810e8" stroke="#e810e8" stroke-width="0.7"/>
<polygon points="796.6,319.6 822.2,308.4 821.3,310.1 797,320.9" fill="#e810e8" stroke="#e810e8" stroke-width="0.7"/>
<polygon points="797,320.9 821.3,310.1 819.9,311.9 797.3,322.2" fill="#e810e8" stroke="#e810e8" stroke-width="0.7"/>
<polygon points="797.3,322.2 819.9,311.9 818.2,313.9 797.7,323.5" fill="#e810e8" stroke="#e810e8" stroke-width="0.7"/>
<polygon points="797.7,323.5 818.2,313.9 816.2,316 798,324.8" fill="#e810e8" stroke="#e810e8" stroke-width="0.7"/>
<polygon points="798,324.8 816.2,316 813.9,318.3 798.4,326.1" fill="#e810e8" stroke="#e810e8" stroke-width="0.7"/>
<polygon points="798.4,326.1 813.9,318.3 811.4,320.8 798.7,327.4" fill="#e810e8" stroke="#e810e8" stroke-width="0.7"/>
<polygon points="798.7,327.4 811.4,320.8 808.7,323.5 799,328.7" fill="#e810e8" stroke="#e810e8" stroke-width="0.7"/>
<polygon points="799,328.7 808.7,323.5 805.9,326.4 799.4,330.1" fill="#e810e8" stroke="#e810e8" stroke-width="0.7"/>
<polygon points="799.4,330.1 805.9,326.4 803,329.5 799.7,331.4" fill="#e810e8" stroke="#e810e8" stroke-width="0.7"/>
<polygon points="799.7,331.4 803,329.5 800.1,332.7 800.1,332.7" fill="#e810e8" stroke="#e810e8" stroke-width="0.7"/>
<polygon points="774.4,234.5 774.4,234.5 771.5,237.8 774.7,235.8" fill="#ff18ff" stroke="#ff18ff" stroke-width="0.7"/>
<polygon points="774.7,235.8 771.5,237.8 768.7,241.3 775,237.1" fill="#ff18ff" stroke="#ff18ff" stroke-width="0.7"/>
<polygon points="775,237.1 768.7,241.3 766,244.8 775.4,238.4" fill="#ff18ff" stroke="#ff18ff" stroke-width="0.7"/>
<polygon points="775.4,238.4 766,244.8 763.5,248.3 775.7,239.7" fill="#ff18ff" stroke="#ff18ff" stroke-width="0.7"/>
<polygon points="775.7,239.7 763.5,248.3 761.3,251.7 776.1,241" fill="#ff18ff" stroke="#ff18ff" stroke-width="0.7"/>
<polygon points="776.1,241 761.3,251.7 759.2,255.1 776.4,242.3" fill="#ff18ff" stroke="#ff18ff" stroke-width="0.7"/>
<polygon points="776.4,242.3 759.2,255.1 757.5,258.3 776.8,243.6" fill="#ff18ff" stroke="#ff18ff" stroke-width="0.7"/>
<polygon points="776.8,243.6 757.5,258.3 756.1,261.3 777.1,245" fill="#ff18ff" stroke="#ff18ff" stroke-width="0.7"/>
<polygon points="777.1,245 756.1,261.3 755,264 777.4,246.3" fill="#ff18ff" stroke="#ff18ff" stroke-width="0.7"/>
<polygon points="777.4,246.3 755,264 754.2,266.4 777.8,247.6" fill="#ff18ff" stroke="#ff18ff" stroke-width="0.7"/>
<polygon points="777.8,247.6 754.2,266.4 753.8,268.4 778.1,248.9" fill="#ff18ff" stroke="#ff18ff" stroke-width="0.7"/>
<polygon points="778.1,248.9 753.8,268.4 753.8,270.1 778.5,250.2" fill="#ff18ff" stroke="#ff18ff" stroke-width="0.7"/>
<polygon points="778.5,250.2 753.8,270.1 754.1,271.4 778.8,251.5" fill="#ff18ff" stroke="#ff18ff" stroke-width="0.7"/>
<polygon points="778.8,251.5 754.1,271.4 754.8,272.4 779.2,252.8" fill="#c000c0" stroke="#c000c0" stroke-width="0.7"/>
<polygon points="779.2,252.8 754.8,272.4 755.9,272.9 779.5,254.1" fill="#c000c0" stroke="#c000c0" stroke-width="0.7"/>
<polygon points="779.5,254.1 755.9,272.9 757.4,273.1 779.8,255.4" fill="#c000c0" stroke="#c000c0" stroke-width="0.7"/>
<polygon points="779.8,255.4 757.4,273.1 759.1,273 780.2,256.7" fill="#c000c0" stroke="#c000c0" stroke-width="0.7"/>
<polygon points="780.2,256.7 759.1,273 761.3,272.7 780.5,258" fill="#c000c0" stroke="#c000c0" stroke-width="0.7"/>
<polygon points="780.5,258 761.3,272.7 763.7,272.1 780.9,259.4" fill="#c000c0" stroke="#c000c0" stroke-width="0.7"/>
<polygon points="780.9,259.4 763.7,272.1 766.4,271.4 781.2,260.7" fill="#c000c0" stroke="#c000c0" stroke-width="0.7"/>
<polygon points="781.2,260.7 766.4,271.4 769.4,270.5 781.6,262" fill="#c000c0" stroke="#c000c0" stroke-width="0.7"/>
<polygon points="781.6,262 769.4,270.5 772.5,269.7 781.9,263.3" fill="#c000c0" stroke="#c000c0" stroke-width="0.7"/>
<polygon points="781.9,263.3 772.5,269.7 775.9,268.8 782.2,264.6" fill="#c000c0" stroke="#c000c0" stroke-width="0.7"/>
<polygon points="782.2,264.6 775.9,268.8 779.4,267.9 782.6,265.9" fill="#c000c0" stroke="#c000c0" stroke-width="0.7"/>
<polygon points="782.6,265.9 779.4,267.9 782.9,267.2 782.9,267.2" fill="#c000c0" stroke="#c000c0" stroke-width="0.7"/>
<polygon points="782.9,267.2 782.9,267.2 786.5,266.6 783.3,268.5" fill="#c000c0" stroke="#c000c0" stroke-width="0.7"/>
<polygon points="783.3,268.5 786.5,266.6 790.1,266.2 783.6,269.8" fill="#c000c0" stroke="#c000c0" stroke-width="0.7"/>
<polygon points="783.6,269.8 790.1,266.2 793.6,265.9 784,271.1" fill="#c000c0" stroke="#c000c0" stroke-width="0.7"/>
<polygon points="784,271.1 793.6,265.9 797,265.8 784.3,272.4" fill="#c000c0" stroke="#c000c0" stroke-width="0.7"/>
<polygon points="784.3,272.4 797,265.8 800.2,265.9 784.6,273.8" fill="#c000c0" stroke="#c000c0" stroke-width="0.7"/>
<polygon points="784.6,273.8 800.2,265.9 803.2,266.2 785,275.1" fill="#c000c0" stroke="#c000c0" stroke-width="0.7"/>
<polygon points="785,275.1 803.2,266.2 805.9,266.7 785.3,276.4" fill="#c000c0" stroke="#c000c0" stroke-width="0.7"/>
<polygon points="785.3,276.4 805.9,266.7 808.3,267.4 785.7,277.7" fill="#c000c0" stroke="#c000c0" stroke-width="0.7"/>
<polygon points="785.7,277.7 808.3,267.4 810.3,268.2 786,279" fill="#c000c0" stroke="#c000c0" stroke-width="0.7"/>
<polygon points="786,279 810.3,268.2 811.9,269.1 786.4,280.3" fill="#c000c0" stroke="#c000c0" stroke-width="0.7"/>
<polygon points="786.4,280.3 811.9,269.1 813.2,270.2 786.7,281.6" fill="#c000c0" stroke="#c000c0" stroke-width="0.7"/>
<polygon points="786.7,281.6 813.2,270.2 813.9,271.4 787,282.9" fill="#c000c0" stroke="#c000c0" stroke-width="0.7"/>
<polygon points="787,282.9 813.9,271.4 814.3,272.7 787.4,284.2" fill="#c000c0" stroke="#c000c0" stroke-width="0.7"/>
<polygon points="787.4,284.2 814.3,272.7 814.2,274.1 787.7,285.5" fill="#ff18ff" stroke="#ff18ff" stroke-width="0.7"/>
<polygon points="787.7,285.5 814.2,274.1 813.7,275.7 788.1,286.8" fill="#ff18ff" stroke="#ff18ff" stroke-width="0.7"/>
<polygon points="788.1,286.8 813.7,275.7 812.7,277.3 788.4,288.2" fill="#ff18ff" stroke="#ff18ff" stroke-width="0.7"/>
<polygon points="788.4,288.2 812.7,277.3 811.4,279.2 788.8,289.5" fill="#ff18ff" stroke="#ff18ff" stroke-width="0.7"/>
<polygon points="788.8,289.5 811.4,279.2 809.7,281.1 789.1,290.8" fill="#ff18ff" stroke="#ff18ff" stroke-width="0.7"/>
<polygon points="789.1,290.8 809.7,281.1 807.7,283.3 789.4,292.1" fill="#ff18ff" stroke="#ff18ff" stroke-width="0.7"/>
<polygon points="789.4,292.1 807.7,283.3 805.4,285.6 789.8,293.4" fill="#ff18ff" stroke="#ff18ff" stroke-width="0.7"/>
<polygon points="789.8,293.4 805.4,285.6 802.8,288.1 790.1,294.7" fill="#ff18ff" stroke="#ff18ff" stroke-width="0.7"/>
<polygon points="790.1,294.7 802.8,288.1 800.1,290.8 790.5,296" fill="#ff18ff" stroke="#ff18ff" stroke-width="0.7"/>
<polygon points="790.5,296 800.1,290.8 797.3,293.7 790.8,297.3" fill="#ff18ff" stroke="#ff18ff" stroke-width="0.7"/>
<polygon points="790.8,297.3 797.3,293.7 794.4,296.7 791.2,298.6" fill="#ff18ff" stroke="#ff18ff" stroke-width="0.7"/>
<polygon points="791.2,298.6 794.4,296.7 791.5,299.9 791.5,299.9" fill="#ff18ff" stroke="#ff18ff" stroke-width="0.7"/>
<polygon points="791.5,299.9 791.5,299.9 788.6,303.3 791.8,301.3" fill="#ff18ff" stroke="#ff18ff" stroke-width="0.7"/>
<polygon points="791.8,301.3 788.6,303.3 785.8,306.7 792.2,302.6" fill="#ff18ff" stroke="#ff18ff" stroke-width="0.7"/>
<polygon points="792.2,302.6 785.8,306.7 783.2,310.2 792.5,303.9" fill="#ff18ff" stroke="#ff18ff" stroke-width="0.7"/>
<polygon points="792.5,303.9 783.2,310.2 780.7,313.7 792.9,305.2" fill="#ff18ff" stroke="#ff18ff" stroke-width="0.7"/>
<polygon points="792.9,305.2 780.7,313.7 778.4,317.2 793.2,306.5" fill="#ff18ff" stroke="#ff18ff" stroke-width="0.7"/>
<polygon points="793.2,306.5 778.4,317.2 776.4,320.6 793.6,307.8" fill="#ff18ff" stroke="#ff18ff" stroke-width="0.7"/>
<polygon points="793.6,307.8 776.4,320.6 774.6,323.7 793.9,309.1" fill="#ff18ff" stroke="#ff18ff" stroke-width="0.7"/>
<polygon points="793.9,309.1 774.6,323.7 773.2,326.7 794.2,310.4" fill="#ff18ff" stroke="#ff18ff" stroke-width="0.7"/>
<polygon points="794.2,310.4 773.2,326.7 772.1,329.4 794.6,311.7" fill="#ff18ff" stroke="#ff18ff" stroke-width="0.7"/>
<polygon points="794.6,311.7 772.1,329.4 771.3,331.8 794.9,313" fill="#ff18ff" stroke="#ff18ff" stroke-width="0.7"/>
<polygon points="794.9,313 771.3,331.8 770.9,333.9 795.3,314.3" fill="#ff18ff" stroke="#ff18ff" stroke-width="0.7"/>
<polygon points="795.3,314.3 770.9,333.9 770.9,335.6 795.6,315.7" fill="#ff18ff" stroke="#ff18ff" stroke-width="0.7"/>
<polygon points="795.6,315.7 770.9,335.6 771.2,336.9 796,317" fill="#ff18ff" stroke="#ff18ff" stroke-width="0.7"/>
<polygon points="796,317 771.2,336.9 772,337.8 796.3,318.3" fill="#c000c0" stroke="#c000c0" stroke-width="0.7"/>
<polygon points="796.3,318.3 772,337.8 773,338.4 796.6,319.6" fill="#c000c0" stroke="#c000c0" stroke-width="0.7"/>
<polygon points="796.6,319.6 773,338.4 774.5,338.6 797,320.9" fill="#c000c0" stroke="#c000c0" stroke-width="0.7"/>
<polygon points="797,320.9 774.5,338.6 776.3,338.5 797.3,322.2" fill="#c000c0" stroke="#c000c0" stroke-width="0.7"/>
<polygon points="797.3,322.2 776.3,338.5 778.4,338.1 797.7,323.5" fill="#c000c0" stroke="#c000c0" stroke-width="0.7"/>
<polygon points="797.7,323.5 778.4,338.1 780.8,337.6 798,324.8" fill="#c000c0" stroke="#c000c0" stroke-width="0.7"/>
<polygon points="798,324.8 780.8,337.6 783.5,336.8 798.4,326.1" fill="#c000c0" stroke="#c000c0" stroke-width="0.7"/>
<polygon points="798.4,326.1 783.5,336.8 786.5,336 798.7,327.4" fill="#c000c0" stroke="#c000c0" stroke-width="0.7"/>
<polygon points="798.7,327.4 786.5,336 789.7,335.1 799,328.7" fill="#c000c0" stroke="#c000c0" stroke-width="0.7"/>
<polygon points="799,328.7 789.7,335.1 793,334.2 799.4,330.1" fill="#c000c0" stroke="#c000c0" stroke-width="0.7"/>
<polygon points="799.4,330.1 793,334.2 796.5,333.4 799.7,331.4" fill="#c000c0" stroke="#c000c0" stroke-width="0.7"/>
<polygon points="799.7,331.4 796.5,333.4 800.1,332.7 800.1,332.7" fill="#c000c0" stroke="#c000c0" stroke-width="0.7"/>
<line x1="833.5" y1="345.7" x2="876.9" y2="205.6" stroke="#30e030" stroke-width="2.2" />
<polygon points="876.9,205.6 877.8,216.3 870.1,214" fill="#30e030" />
<polygon points="870.8,225.2 870.8,225.2 874.6,226.9 870.3,226.8" fill="#109010" stroke="#109010" stroke-width="0.7"/>
<polygon points="870.3,226.8 874.6,226.9 878.3,228.8 869.8,228.4" fill="#109010" stroke="#109010" stroke-width="0.7"/>
<polygon points="869.8,228.4 878.3,228.8 881.8,230.8 869.3,230" fill="#109010" stroke="#109010" stroke-width="0.7"/>
<polygon points="869.3,230 881.8,230.8 885.1,232.9 868.8,231.6" fill="#109010" stroke="#109010" stroke-width="0.7"/>
<polygon points="868.8,231.6 885.1,232.9 888.1,235.1 868.3,233.2" fill="#109010" stroke="#109010" stroke-width="0.7"/>
<polygon points="868.3,233.2 888.1,235.1 890.7,237.3 867.8,234.9" fill="#109010" stroke="#109010" stroke-width="0.7"/>
<polygon points="867.8,234.9 890.7,237.3 893,239.5 867.3,236.5" fill="#109010" stroke="#109010" stroke-width="0.7"/>
<polygon points="867.3,236.5 893,239.5 894.9,241.7 866.8,238.1" fill="#109010" stroke="#109010" stroke-width="0.7"/>
<polygon points="866.8,238.1 894.9,241.7 896.3,243.8 866.3,239.7" fill="#109010" stroke="#109010" stroke-width="0.7"/>
<polygon points="866.3,239.7 896.3,243.8 897.3,245.8 865.8,241.3" fill="#109010" stroke="#109010" stroke-width="0.7"/>
<polygon points="865.8,241.3 897.3,245.8 897.8,247.8 865.3,242.9" fill="#109010" stroke="#109010" stroke-width="0.7"/>
<polygon points="865.3,242.9 897.8,247.8 897.8,249.5 864.9,244.5" fill="#109010" stroke="#109010" stroke-width="0.7"/>
<polygon points="864.9,244.5 897.8,249.5 897.3,251.1 864.4,246.1" fill="#109010" stroke="#109010" stroke-width="0.7"/>
<polygon points="864.4,246.1 897.3,251.1 896.3,252.6 863.9,247.7" fill="#28e028" stroke="#28e028" stroke-width="0.7"/>
<polygon points="863.9,247.7 896.3,252.6 894.8,253.9 863.4,249.3" fill="#28e028" stroke="#28e028" stroke-width="0.7"/>
<polygon points="863.4,249.3 894.8,253.9 892.8,255.1 862.9,250.9" fill="#28e028" stroke="#28e028" stroke-width="0.7"/>
<polygon points="862.9,250.9 892.8,255.1 890.4,256.2 862.4,252.5" fill="#28e028" stroke="#28e028" stroke-width="0.7"/>
<polygon points="862.4,252.5 890.4,256.2 887.5,257.2 861.9,254.1" fill="#28e028" stroke="#28e028" stroke-width="0.7"/>
<polygon points="861.9,254.1 887.5,257.2 884.3,258.2 861.4,255.7" fill="#28e028" stroke="#28e028" stroke-width="0.7"/>
<polygon points="861.4,255.7 884.3,258.2 880.6,259.2 860.9,257.3" fill="#28e028" stroke="#28e028" stroke-width="0.7"/>
<polygon points="860.9,257.3 880.6,259.2 876.6,260.2 860.4,259" fill="#28e028" stroke="#28e028" stroke-width="0.7"/>
<polygon points="860.4,259 876.6,260.2 872.4,261.3 859.9,260.6" fill="#28e028" stroke="#28e028" stroke-width="0.7"/>
<polygon points="859.9,260.6 872.4,261.3 867.9,262.5 859.4,262.2" fill="#28e028" stroke="#28e028" stroke-width="0.7"/>
<polygon points="859.4,262.2 867.9,262.5 863.2,263.9 858.9,263.8" fill="#28e028" stroke="#28e028" stroke-width="0.7"/>
<polygon points="858.9,263.8 863.2,263.9 858.4,265.4 858.4,265.4" fill="#28e028" stroke="#28e028" stroke-width="0.7"/>
<polygon points="858.4,265.4 858.4,265.4 853.5,267 857.9,267" fill="#28e028" stroke="#28e028" stroke-width="0.7"/>
<polygon points="857.9,267 853.5,267 848.7,268.8 857.4,268.6" fill="#28e028" stroke="#28e028" stroke-width="0.7"/>
<polygon points="857.4,268.6 848.7,268.8 844,270.7 856.9,270.2" fill="#28e028" stroke="#28e028" stroke-width="0.7"/>
<polygon points="856.9,270.2 844,270.7 839.5,272.8 856.4,271.8" fill="#28e028" stroke="#28e028" stroke-width="0.7"/>
<polygon points="856.4,271.8 839.5,272.8 835.1,274.9 855.9,273.4" fill="#28e028" stroke="#28e028" stroke-width="0.7"/>
<polygon points="855.9,273.4 835.1,274.9 831.1,277 855.4,275" fill="#28e028" stroke="#28e028" stroke-width="0.7"/>
<polygon points="855.4,275 831.1,277 827.5,279.2 854.9,276.6" fill="#28e028" stroke="#28e028" stroke-width="0.7"/>
<polygon points="854.9,276.6 827.5,279.2 824.3,281.3 854.4,278.2" fill="#28e028" stroke="#28e028" stroke-width="0.7"/>
<polygon points="854.4,278.2 824.3,281.3 821.5,283.4 853.9,279.8" fill="#28e028" stroke="#28e028" stroke-width="0.7"/>
<polygon points="853.9,279.8 821.5,283.4 819.3,285.4 853.4,281.4" fill="#28e028" stroke="#28e028" stroke-width="0.7"/>
<polygon points="853.4,281.4 819.3,285.4 817.7,287.3 852.9,283" fill="#28e028" stroke="#28e028" stroke-width="0.7"/>
<polygon points="852.9,283 817.7,287.3 816.6,289.1 852.4,284.7" fill="#28e028" stroke="#28e028" stroke-width="0.7"/>
<polygon points="852.4,284.7 816.6,289.1 816.1,290.7 851.9,286.3" fill="#28e028" stroke="#28e028" stroke-width="0.7"/>
<polygon points="851.9,286.3 816.1,290.7 816.2,292.1 851.4,287.9" fill="#109010" stroke="#109010" stroke-width="0.7"/>
<polygon points="851.4,287.9 816.2,292.1 816.8,293.5 850.9,289.5" fill="#109010" stroke="#109010" stroke-width="0.7"/>
<polygon points="850.9,289.5 816.8,293.5 818,294.7 850.4,291.1" fill="#109010" stroke="#109010" stroke-width="0.7"/>
<polygon points="850.4,291.1 818,294.7 819.8,295.8 849.9,292.7" fill="#109010" stroke="#109010" stroke-width="0.7"/>
<polygon points="849.9,292.7 819.8,295.8 822,296.9 849.4,294.3" fill="#109010" stroke="#109010" stroke-width="0.7"/>
<polygon points="849.4,294.3 822,296.9 824.7,297.9 848.9,295.9" fill="#109010" stroke="#109010" stroke-width="0.7"/>
<polygon points="848.9,295.9 824.7,297.9 827.7,299 848.4,297.5" fill="#109010" stroke="#109010" stroke-width="0.7"/>
<polygon points="848.4,297.5 827.7,299 831,300.1 847.9,299.1" fill="#109010" stroke="#109010" stroke-width="0.7"/>
<polygon points="847.9,299.1 831,300.1 834.6,301.2 847.4,300.7" fill="#109010" stroke="#109010" stroke-width="0.7"/>
<polygon points="847.4,300.7 834.6,301.2 838.3,302.5 846.9,302.3" fill="#109010" stroke="#109010" stroke-width="0.7"/>
<polygon points="846.9,302.3 838.3,302.5 842.1,304 846.4,303.9" fill="#109010" stroke="#109010" stroke-width="0.7"/>
<polygon points="846.4,303.9 842.1,304 845.9,305.5 845.9,305.5" fill="#109010" stroke="#109010" stroke-width="0.7"/>
<polygon points="845.9,305.5 845.9,305.5 849.7,307.3 845.4,307.1" fill="#109010" stroke="#109010" stroke-width="0.7"/>
<polygon points="845.4,307.1 849.7,307.3 853.4,309.1 844.9,308.8" fill="#109010" stroke="#109010" stroke-width="0.7"/>
<polygon points="844.9,308.8 853.4,309.1 856.9,311.1 844.4,310.4" fill="#109010" stroke="#109010" stroke-width="0.7"/>
<polygon points="844.4,310.4 856.9,311.1 860.2,313.2 844,312" fill="#109010" stroke="#109010" stroke-width="0.7"/>
<polygon points="844,312 860.2,313.2 863.2,315.4 843.5,313.6" fill="#109010" stroke="#109010" stroke-width="0.7"/>
<polygon points="843.5,313.6 863.2,315.4 865.9,317.6 843,315.2" fill="#109010" stroke="#109010" stroke-width="0.7"/>
<polygon points="843,315.2 865.9,317.6 868.1,319.8 842.5,316.8" fill="#109010" stroke="#109010" stroke-width="0.7"/>
<polygon points="842.5,316.8 868.1,319.8 870,322 842,318.4" fill="#109010" stroke="#109010" stroke-width="0.7"/>
<polygon points="842,318.4 870,322 871.4,324.1 841.5,320" fill="#109010" stroke="#109010" stroke-width="0.7"/>
<polygon points="841.5,320 871.4,324.1 872.4,326.2 841,321.6" fill="#109010" stroke="#109010" stroke-width="0.7"/>
<polygon points="841,321.6 872.4,326.2 872.9,328.1 840.5,323.2" fill="#109010" stroke="#109010" stroke-width="0.7"/>
<polygon points="840.5,323.2 872.9,328.1 872.9,329.8 840,324.8" fill="#109010" stroke="#109010" stroke-width="0.7"/>
<polygon points="840,324.8 872.9,329.8 872.4,331.4 839.5,326.4" fill="#109010" stroke="#109010" stroke-width="0.7"/>
<polygon points="839.5,326.4 872.4,331.4 871.4,332.9 839,328" fill="#28e028" stroke="#28e028" stroke-width="0.7"/>
<polygon points="839,328 871.4,332.9 869.9,334.2 838.5,329.6" fill="#28e028" stroke="#28e028" stroke-width="0.7"/>
<polygon points="838.5,329.6 869.9,334.2 868,335.4 838,331.2" fill="#28e028" stroke="#28e028" stroke-width="0.7"/>
<polygon points="838,331.2 868,335.4 865.5,336.5 837.5,332.8" fill="#28e028" stroke="#28e028" stroke-width="0.7"/>
<polygon points="837.5,332.8 865.5,336.5 862.7,337.5 837,334.5" fill="#28e028" stroke="#28e028" stroke-width="0.7"/>
<polygon points="837,334.5 862.7,337.5 859.4,338.5 836.5,336.1" fill="#28e028" stroke="#28e028" stroke-width="0.7"/>
<polygon points="836.5,336.1 859.4,338.5 855.7,339.5 836,337.7" fill="#28e028" stroke="#28e028" stroke-width="0.7"/>
<polygon points="836,337.7 855.7,339.5 851.7,340.5 835.5,339.3" fill="#28e028" stroke="#28e028" stroke-width="0.7"/>
<polygon points="835.5,339.3 851.7,340.5 847.5,341.6 835,340.9" fill="#28e028" stroke="#28e028" stroke-width="0.7"/>
<polygon points="835,340.9 847.5,341.6 843,342.9 834.5,342.5" fill="#28e028" stroke="#28e028" stroke-width="0.7"/>
<polygon points="834.5,342.5 843,342.9 838.3,344.2 834,344.1" fill="#28e028" stroke="#28e028" stroke-width="0.7"/>
<polygon points="834,344.1 838.3,344.2 833.5,345.7 833.5,345.7" fill="#28e028" stroke="#28e028" stroke-width="0.7"/>
<polygon points="870.8,225.2 870.8,225.2 866,226.9 870.3,226.8" fill="#30f030" stroke="#30f030" stroke-width="0.7"/>
<polygon points="870.3,226.8 866,226.9 861.2,228.6 869.8,228.4" fill="#30f030" stroke="#30f030" stroke-width="0.7"/>
<polygon points="869.8,228.4 861.2,228.6 856.5,230.6 869.3,230" fill="#30f030" stroke="#30f030" stroke-width="0.7"/>
<polygon points="869.3,230 856.5,230.6 851.9,232.6 868.8,231.6" fill="#30f030" stroke="#30f030" stroke-width="0.7"/>
<polygon points="868.8,231.6 851.9,232.6 847.6,234.7 868.3,233.2" fill="#30f030" stroke="#30f030" stroke-width="0.7"/>
<polygon points="868.3,233.2 847.6,234.7 843.6,236.9 867.8,234.9" fill="#30f030" stroke="#30f030" stroke-width="0.7"/>
<polygon points="867.8,234.9 843.6,236.9 839.9,239 867.3,236.5" fill="#30f030" stroke="#30f030" stroke-width="0.7"/>
<polygon points="867.3,236.5 839.9,239 836.7,241.2 866.8,238.1" fill="#30f030" stroke="#30f030" stroke-width="0.7"/>
<polygon points="866.8,238.1 836.7,241.2 834,243.3 866.3,239.7" fill="#30f030" stroke="#30f030" stroke-width="0.7"/>
<polygon points="866.3,239.7 834,243.3 831.8,245.3 865.8,241.3" fill="#30f030" stroke="#30f030" stroke-width="0.7"/>
<polygon points="865.8,241.3 831.8,245.3 830.1,247.1 865.3,242.9" fill="#30f030" stroke="#30f030" stroke-width="0.7"/>
<polygon points="865.3,242.9 830.1,247.1 829,248.9 864.9,244.5" fill="#30f030" stroke="#30f030" stroke-width="0.7"/>
<polygon points="864.9,244.5 829,248.9 828.5,250.5 864.4,246.1" fill="#30f030" stroke="#30f030" stroke-width="0.7"/>
<polygon points="864.4,246.1 828.5,250.5 828.6,252 863.9,247.7" fill="#18b018" stroke="#18b018" stroke-width="0.7"/>
<polygon points="863.9,247.7 828.6,252 829.3,253.3 863.4,249.3" fill="#18b018" stroke="#18b018" stroke-width="0.7"/>
<polygon points="863.4,249.3 829.3,253.3 830.5,254.5 862.9,250.9" fill="#18b018" stroke="#18b018" stroke-width="0.7"/>
<polygon points="862.9,250.9 830.5,254.5 832.2,255.6 862.4,252.5" fill="#18b018" stroke="#18b018" stroke-width="0.7"/>
<polygon points="862.4,252.5 832.2,255.6 834.5,256.7 861.9,254.1" fill="#18b018" stroke="#18b018" stroke-width="0.7"/>
<polygon points="861.9,254.1 834.5,256.7 837.1,257.7 861.4,255.7" fill="#18b018" stroke="#18b018" stroke-width="0.7"/>
<polygon points="861.4,255.7 837.1,257.7 840.1,258.8 860.9,257.3" fill="#18b018" stroke="#18b018" stroke-width="0.7"/>
<polygon points="860.9,257.3 840.1,258.8 843.4,259.9 860.4,259" fill="#18b018" stroke="#18b018" stroke-width="0.7"/>
<polygon points="860.4,259 843.4,259.9 847,261.1 859.9,260.6" fill="#18b018" stroke="#18b018" stroke-width="0.7"/>
<polygon points="859.9,260.6 847,261.1 850.7,262.4 859.4,262.2" fill="#18b018" stroke="#18b018" stroke-width="0.7"/>
<polygon points="859.4,262.2 850.7,262.4 854.5,263.8 858.9,263.8" fill="#18b018" stroke="#18b018" stroke-width="0.7"/>
<polygon points="858.9,263.8 854.5,263.8 858.4,265.4 858.4,265.4" fill="#18b018" stroke="#18b018" stroke-width="0.7"/>
<polygon points="858.4,265.4 858.4,265.4 862.2,267.1 857.9,267" fill="#18b018" stroke="#18b018" stroke-width="0.7"/>
<polygon points="857.9,267 862.2,267.1 865.9,269 857.4,268.6" fill="#18b018" stroke="#18b018" stroke-width="0.7"/>
<polygon points="857.4,268.6 865.9,269 869.4,270.9 856.9,270.2" fill="#18b018" stroke="#18b018" stroke-width="0.7"/>
<polygon points="856.9,270.2 869.4,270.9 872.6,273 856.4,271.8" fill="#18b018" stroke="#18b018" stroke-width="0.7"/>
<polygon points="856.4,271.8 872.6,273 875.6,275.2 855.9,273.4" fill="#18b018" stroke="#18b018" stroke-width="0.7"/>
<polygon points="855.9,273.4 875.6,275.2 878.3,277.4 855.4,275" fill="#18b018" stroke="#18b018" stroke-width="0.7"/>
<polygon points="855.4,275 878.3,277.4 880.6,279.7 854.9,276.6" fill="#18b018" stroke="#18b018" stroke-width="0.7"/>
<polygon points="854.9,276.6 880.6,279.7 882.4,281.9 854.4,278.2" fill="#18b018" stroke="#18b018" stroke-width="0.7"/>
<polygon points="854.4,278.2 882.4,281.9 883.9,284 853.9,279.8" fill="#18b018" stroke="#18b018" stroke-width="0.7"/>
<polygon points="853.9,279.8 883.9,284 884.8,286 853.4,281.4" fill="#18b018" stroke="#18b018" stroke-width="0.7"/>
<polygon points="853.4,281.4 884.8,286 885.3,287.9 852.9,283" fill="#18b018" stroke="#18b018" stroke-width="0.7"/>
<polygon points="852.9,283 885.3,287.9 885.3,289.7 852.4,284.7" fill="#18b018" stroke="#18b018" stroke-width="0.7"/>
<polygon points="852.4,284.7 885.3,289.7 884.8,291.3 851.9,286.3" fill="#18b018" stroke="#18b018" stroke-width="0.7"/>
<polygon points="851.9,286.3 884.8,291.3 883.8,292.7 851.4,287.9" fill="#30f030" stroke="#30f030" stroke-width="0.7"/>
<polygon points="851.4,287.9 883.8,292.7 882.4,294 850.9,289.5" fill="#30f030" stroke="#30f030" stroke-width="0.7"/>
<polygon points="850.9,289.5 882.4,294 880.4,295.2 850.4,291.1" fill="#30f030" stroke="#30f030" stroke-width="0.7"/>
<polygon points="850.4,291.1 880.4,295.2 878,296.3 849.9,292.7" fill="#30f030" stroke="#30f030" stroke-width="0.7"/>
<polygon points="849.9,292.7 878,296.3 875.1,297.3 849.4,294.3" fill="#30f030" stroke="#30f030" stroke-width="0.7"/>
<polygon points="849.4,294.3 875.1,297.3 871.8,298.3 848.9,295.9" fill="#30f030" stroke="#30f030" stroke-width="0.7"/>
<polygon points="848.9,295.9 871.8,298.3 868.2,299.3 848.4,297.5" fill="#30f030" stroke="#30f030" stroke-width="0.7"/>
<polygon points="848.4,297.5 868.2,299.3 864.2,300.4 847.9,299.1" fill="#30f030" stroke="#30f030" stroke-width="0.7"/>
<polygon points="847.9,299.1 864.2,300.4 859.9,301.5 847.4,300.7" fill="#30f030" stroke="#30f030" stroke-width="0.7"/>
<polygon points="847.4,300.7 859.9,301.5 855.4,302.7 846.9,302.3" fill="#30f030" stroke="#30f030" stroke-width="0.7"/>
<polygon points="846.9,302.3 855.4,302.7 850.7,304 846.4,303.9" fill="#30f030" stroke="#30f030" stroke-width="0.7"/>
<polygon points="846.4,303.9 850.7,304 845.9,305.5 845.9,305.5" fill="#30f030" stroke="#30f030" stroke-width="0.7"/>
<polygon points="845.9,305.5 845.9,305.5 841.1,307.2 845.4,307.1" fill="#30f030" stroke="#30f030" stroke-width="0.7"/>
<polygon points="845.4,307.1 841.1,307.2 836.3,309 844.9,308.8" fill="#30f030" stroke="#30f030" stroke-width="0.7"/>
<polygon points="844.9,308.8 836.3,309 831.6,310.9 844.4,310.4" fill="#30f030" stroke="#30f030" stroke-width="0.7"/>
<polygon points="844.4,310.4 831.6,310.9 827,312.9 844,312" fill="#30f030" stroke="#30f030" stroke-width="0.7"/>
<polygon points="844,312 827,312.9 822.7,315 843.5,313.6" fill="#30f030" stroke="#30f030" stroke-width="0.7"/>
<polygon points="843.5,313.6 822.7,315 818.7,317.2 843,315.2" fill="#30f030" stroke="#30f030" stroke-width="0.7"/>
<polygon points="843,315.2 818.7,317.2 815,319.4 842.5,316.8" fill="#30f030" stroke="#30f030" stroke-width="0.7"/>
<polygon points="842.5,316.8 815,319.4 811.8,321.5 842,318.4" fill="#30f030" stroke="#30f030" stroke-width="0.7"/>
<polygon points="842,318.4 811.8,321.5 809.1,323.6 841.5,320" fill="#30f030" stroke="#30f030" stroke-width="0.7"/>
<polygon points="841.5,320 809.1,323.6 806.9,325.6 841,321.6" fill="#30f030" stroke="#30f030" stroke-width="0.7"/>
<polygon points="841,321.6 806.9,325.6 805.2,327.5 840.5,323.2" fill="#30f030" stroke="#30f030" stroke-width="0.7"/>
<polygon points="840.5,323.2 805.2,327.5 804.1,329.2 840,324.8" fill="#30f030" stroke="#30f030" stroke-width="0.7"/>
<polygon points="840,324.8 804.1,329.2 803.6,330.8 839.5,326.4" fill="#30f030" stroke="#30f030" stroke-width="0.7"/>
<polygon points="839.5,326.4 803.6,330.8 803.7,332.3 839,328" fill="#18b018" stroke="#18b018" stroke-width="0.7"/>
<polygon points="839,328 803.7,332.3 804.4,333.6 838.5,329.6" fill="#18b018" stroke="#18b018" stroke-width="0.7"/>
<polygon points="838.5,329.6 804.4,333.6 805.6,334.8 838,331.2" fill="#18b018" stroke="#18b018" stroke-width="0.7"/>
<polygon points="838,331.2 805.6,334.8 807.3,336 837.5,332.8" fill="#18b018" stroke="#18b018" stroke-width="0.7"/>
<polygon points="837.5,332.8 807.3,336 809.6,337 837,334.5" fill="#18b018" stroke="#18b018" stroke-width="0.7"/>
<polygon points="837,334.5 809.6,337 812.2,338.1 836.5,336.1" fill="#18b018" stroke="#18b018" stroke-width="0.7"/>
<polygon points="836.5,336.1 812.2,338.1 815.2,339.1 836,337.7" fill="#18b018" stroke="#18b018" stroke-width="0.7"/>
<polygon points="836,337.7 815.2,339.1 818.6,340.2 835.5,339.3" fill="#18b018" stroke="#18b018" stroke-width="0.7"/>
<polygon points="835.5,339.3 818.6,340.2 822.1,341.4 835,340.9" fill="#18b018" stroke="#18b018" stroke-width="0.7"/>
<polygon points="835,340.9 822.1,341.4 825.8,342.7 834.5,342.5" fill="#18b018" stroke="#18b018" stroke-width="0.7"/>
<polygon points="834.5,342.5 825.8,342.7 829.7,344.1 834,344.1" fill="#18b018" stroke="#18b018" stroke-width="0.7"/>
<polygon points="834,344.1 829.7,344.1 833.5,345.7 833.5,345.7" fill="#18b018" stroke="#18b018" stroke-width="0.7"/>
<line x1="781.2" y1="374.6" x2="705.6" y2="243.4" stroke="#f8e020" stroke-width="2.2" />
<polygon points="705.6,243.4 714.1,250.1 707.1,254.1" fill="#f8e020" />
<polygon points="714.7,259.1 714.7,259.1 713.9,262.6 715.3,260.2" fill="#f8d018" stroke="#f8d018" stroke-width="0.7"/>
<polygon points="715.3,260.2 713.9,262.6 713.3,266.2 715.9,261.3" fill="#f8d018" stroke="#f8d018" stroke-width="0.7"/>
<polygon points="715.9,261.3 713.3,266.2 712.9,270 716.6,262.4" fill="#f8d018" stroke="#f8d018" stroke-width="0.7"/>
<polygon points="716.6,262.4 712.9,270 712.6,273.9 717.2,263.5" fill="#f8d018" stroke="#f8d018" stroke-width="0.7"/>
<polygon points="717.2,263.5 712.6,273.9 712.6,277.8 717.8,264.6" fill="#f8d018" stroke="#f8d018" stroke-width="0.7"/>
<polygon points="717.8,264.6 712.6,277.8 712.6,281.7 718.4,265.7" fill="#f8d018" stroke="#f8d018" stroke-width="0.7"/>
<polygon points="718.4,265.7 712.6,281.7 712.9,285.3 719.1,266.8" fill="#f8d018" stroke="#f8d018" stroke-width="0.7"/>
<polygon points="719.1,266.8 712.9,285.3 713.2,288.7 719.7,267.9" fill="#f8d018" stroke="#f8d018" stroke-width="0.7"/>
<polygon points="719.7,267.9 713.2,288.7 713.6,291.7 720.3,268.9" fill="#f8d018" stroke="#f8d018" stroke-width="0.7"/>
<polygon points="720.3,268.9 713.6,291.7 714.1,294.3 720.9,270" fill="#f8d018" stroke="#f8d018" stroke-width="0.7"/>
<polygon points="720.9,270 714.1,294.3 714.6,296.5 721.6,271.1" fill="#f8d018" stroke="#f8d018" stroke-width="0.7"/>
<polygon points="721.6,271.1 714.6,296.5 715.2,298.1 722.2,272.2" fill="#f8d018" stroke="#f8d018" stroke-width="0.7"/>
<polygon points="722.2,272.2 715.2,298.1 715.9,299.2 722.8,273.3" fill="#f8d018" stroke="#f8d018" stroke-width="0.7"/>
<polygon points="722.8,273.3 715.9,299.2 716.5,299.7 723.5,274.4" fill="#c09000" stroke="#c09000" stroke-width="0.7"/>
<polygon points="723.5,274.4 716.5,299.7 717.2,299.8 724.1,275.5" fill="#c09000" stroke="#c09000" stroke-width="0.7"/>
<polygon points="724.1,275.5 717.2,299.8 718,299.3 724.7,276.6" fill="#c09000" stroke="#c09000" stroke-width="0.7"/>
<polygon points="724.7,276.6 718,299.3 718.8,298.5 725.3,277.7" fill="#c09000" stroke="#c09000" stroke-width="0.7"/>
<polygon points="725.3,277.7 718.8,298.5 719.8,297.3 726,278.7" fill="#c09000" stroke="#c09000" stroke-width="0.7"/>
<polygon points="726,278.7 719.8,297.3 720.8,295.8 726.6,279.8" fill="#c09000" stroke="#c09000" stroke-width="0.7"/>
<polygon points="726.6,279.8 720.8,295.8 722,294.2 727.2,280.9" fill="#c09000" stroke="#c09000" stroke-width="0.7"/>
<polygon points="727.2,280.9 722,294.2 723.3,292.5 727.8,282" fill="#c09000" stroke="#c09000" stroke-width="0.7"/>
<polygon points="727.8,282 723.3,292.5 724.8,290.7 728.5,283.1" fill="#c09000" stroke="#c09000" stroke-width="0.7"/>
<polygon points="728.5,283.1 724.8,290.7 726.5,289.1 729.1,284.2" fill="#c09000" stroke="#c09000" stroke-width="0.7"/>
<polygon points="729.1,284.2 726.5,289.1 728.3,287.6 729.7,285.3" fill="#c09000" stroke="#c09000" stroke-width="0.7"/>
<polygon points="729.7,285.3 728.3,287.6 730.4,286.4 730.4,286.4" fill="#c09000" stroke="#c09000" stroke-width="0.7"/>
<polygon points="730.4,286.4 730.4,286.4 732.5,285.4 731,287.5" fill="#c09000" stroke="#c09000" stroke-width="0.7"/>
<polygon points="731,287.5 732.5,285.4 734.8,284.6 731.6,288.5" fill="#c09000" stroke="#c09000" stroke-width="0.7"/>
<polygon points="731.6,288.5 734.8,284.6 737.2,284.2 732.2,289.6" fill="#c09000" stroke="#c09000" stroke-width="0.7"/>
<polygon points="732.2,289.6 737.2,284.2 739.6,284.1 732.9,290.7" fill="#c09000" stroke="#c09000" stroke-width="0.7"/>
<polygon points="732.9,290.7 739.6,284.1 742,284.2 733.5,291.8" fill="#c09000" stroke="#c09000" stroke-width="0.7"/>
<polygon points="733.5,291.8 742,284.2 744.4,284.6 734.1,292.9" fill="#c09000" stroke="#c09000" stroke-width="0.7"/>
<polygon points="734.1,292.9 744.4,284.6 746.6,285.2 734.8,294" fill="#c09000" stroke="#c09000" stroke-width="0.7"/>
<polygon points="734.8,294 746.6,285.2 748.7,286 735.4,295.1" fill="#c09000" stroke="#c09000" stroke-width="0.7"/>
<polygon points="735.4,295.1 748.7,286 750.5,286.9 736,296.2" fill="#c09000" stroke="#c09000" stroke-width="0.7"/>
<polygon points="736,296.2 750.5,286.9 752.1,287.9 736.6,297.3" fill="#c09000" stroke="#c09000" stroke-width="0.7"/>
<polygon points="736.6,297.3 752.1,287.9 753.3,288.9 737.3,298.3" fill="#c09000" stroke="#c09000" stroke-width="0.7"/>
<polygon points="737.3,298.3 753.3,288.9 754.3,290 737.9,299.4" fill="#c09000" stroke="#c09000" stroke-width="0.7"/>
<polygon points="737.9,299.4 754.3,290 754.9,291 738.5,300.5" fill="#c09000" stroke="#c09000" stroke-width="0.7"/>
<polygon points="738.5,300.5 754.9,291 755.2,292.2 739.1,301.6" fill="#f8d018" stroke="#f8d018" stroke-width="0.7"/>
<polygon points="739.1,301.6 755.2,292.2 755.2,293.3 739.8,302.7" fill="#f8d018" stroke="#f8d018" stroke-width="0.7"/>
<polygon points="739.8,302.7 755.2,293.3 754.9,294.5 740.4,303.8" fill="#f8d018" stroke="#f8d018" stroke-width="0.7"/>
<polygon points="740.4,303.8 754.9,294.5 754.3,295.8 741,304.9" fill="#f8d018" stroke="#f8d018" stroke-width="0.7"/>
<polygon points="741,304.9 754.3,295.8 753.5,297.2 741.7,306" fill="#f8d018" stroke="#f8d018" stroke-width="0.7"/>
<polygon points="741.7,306 753.5,297.2 752.5,298.8 742.3,307.1" fill="#f8d018" stroke="#f8d018" stroke-width="0.7"/>
<polygon points="742.3,307.1 752.5,298.8 751.4,300.6 742.9,308.1" fill="#f8d018" stroke="#f8d018" stroke-width="0.7"/>
<polygon points="742.9,308.1 751.4,300.6 750.3,302.6 743.5,309.2" fill="#f8d018" stroke="#f8d018" stroke-width="0.7"/>
<polygon points="743.5,309.2 750.3,302.6 749.1,304.9 744.2,310.3" fill="#f8d018" stroke="#f8d018" stroke-width="0.7"/>
<polygon points="744.2,310.3 749.1,304.9 748,307.5 744.8,311.4" fill="#f8d018" stroke="#f8d018" stroke-width="0.7"/>
<polygon points="744.8,311.4 748,307.5 747,310.4 745.4,312.5" fill="#f8d018" stroke="#f8d018" stroke-width="0.7"/>
<polygon points="745.4,312.5 747,310.4 746,313.6 746,313.6" fill="#f8d018" stroke="#f8d018" stroke-width="0.7"/>
<polygon points="746,313.6 746,313.6 745.3,317 746.7,314.7" fill="#f8d018" stroke="#f8d018" stroke-width="0.7"/>
<polygon points="746.7,314.7 745.3,317 744.7,320.7 747.3,315.8" fill="#f8d018" stroke="#f8d018" stroke-width="0.7"/>
<polygon points="747.3,315.8 744.7,320.7 744.3,324.5 747.9,316.9" fill="#f8d018" stroke="#f8d018" stroke-width="0.7"/>
<polygon points="747.9,316.9 744.3,324.5 744,328.4 748.6,317.9" fill="#f8d018" stroke="#f8d018" stroke-width="0.7"/>
<polygon points="748.6,317.9 744,328.4 743.9,332.3 749.2,319" fill="#f8d018" stroke="#f8d018" stroke-width="0.7"/>
<polygon points="749.2,319 743.9,332.3 744,336.1 749.8,320.1" fill="#f8d018" stroke="#f8d018" stroke-width="0.7"/>
<polygon points="749.8,320.1 744,336.1 744.2,339.8 750.4,321.2" fill="#f8d018" stroke="#f8d018" stroke-width="0.7"/>
<polygon points="750.4,321.2 744.2,339.8 744.6,343.1 751.1,322.3" fill="#f8d018" stroke="#f8d018" stroke-width="0.7"/>
<polygon points="751.1,322.3 744.6,343.1 745,346.2 751.7,323.4" fill="#f8d018" stroke="#f8d018" stroke-width="0.7"/>
<polygon points="751.7,323.4 745,346.2 745.5,348.8 752.3,324.5" fill="#f8d018" stroke="#f8d018" stroke-width="0.7"/>
<polygon points="752.3,324.5 745.5,348.8 746,350.9 752.9,325.6" fill="#f8d018" stroke="#f8d018" stroke-width="0.7"/>
<polygon points="752.9,325.6 746,350.9 746.6,352.5 753.6,326.7" fill="#f8d018" stroke="#f8d018" stroke-width="0.7"/>
<polygon points="753.6,326.7 746.6,352.5 747.2,353.6 754.2,327.7" fill="#f8d018" stroke="#f8d018" stroke-width="0.7"/>
<polygon points="754.2,327.7 747.2,353.6 747.9,354.2 754.8,328.8" fill="#c09000" stroke="#c09000" stroke-width="0.7"/>
<polygon points="754.8,328.8 747.9,354.2 748.6,354.2 755.5,329.9" fill="#c09000" stroke="#c09000" stroke-width="0.7"/>
<polygon points="755.5,329.9 748.6,354.2 749.4,353.8 756.1,331" fill="#c09000" stroke="#c09000" stroke-width="0.7"/>
<polygon points="756.1,331 749.4,353.8 750.2,352.9 756.7,332.1" fill="#c09000" stroke="#c09000" stroke-width="0.7"/>
<polygon points="756.7,332.1 750.2,352.9 751.1,351.7 757.3,333.2" fill="#c09000" stroke="#c09000" stroke-width="0.7"/>
<polygon points="757.3,333.2 751.1,351.7 752.2,350.3 758,334.3" fill="#c09000" stroke="#c09000" stroke-width="0.7"/>
<polygon points="758,334.3 752.2,350.3 753.3,348.6 758.6,335.4" fill="#c09000" stroke="#c09000" stroke-width="0.7"/>
<polygon points="758.6,335.4 753.3,348.6 754.7,346.9 759.2,336.5" fill="#c09000" stroke="#c09000" stroke-width="0.7"/>
<polygon points="759.2,336.5 754.7,346.9 756.2,345.2 759.9,337.5" fill="#c09000" stroke="#c09000" stroke-width="0.7"/>
<polygon points="759.9,337.5 756.2,345.2 757.9,343.6 760.5,338.6" fill="#c09000" stroke="#c09000" stroke-width="0.7"/>
<polygon points="760.5,338.6 757.9,343.6 759.7,342.1 761.1,339.7" fill="#c09000" stroke="#c09000" stroke-width="0.7"/>
<polygon points="761.1,339.7 759.7,342.1 761.7,340.8 761.7,340.8" fill="#c09000" stroke="#c09000" stroke-width="0.7"/>
<polygon points="761.7,340.8 761.7,340.8 763.9,339.8 762.4,341.9" fill="#c09000" stroke="#c09000" stroke-width="0.7"/>
<polygon points="762.4,341.9 763.9,339.8 766.2,339.1 763,343" fill="#c09000" stroke="#c09000" stroke-width="0.7"/>
<polygon points="763,343 766.2,339.1 768.6,338.7 763.6,344.1" fill="#c09000" stroke="#c09000" stroke-width="0.7"/>
<polygon points="763.6,344.1 768.6,338.7 771,338.5 764.2,345.2" fill="#c09000" stroke="#c09000" stroke-width="0.7"/>
<polygon points="764.2,345.2 771,338.5 773.4,338.7 764.9,346.3" fill="#c09000" stroke="#c09000" stroke-width="0.7"/>
<polygon points="764.9,346.3 773.4,338.7 775.7,339.1 765.5,347.3" fill="#c09000" stroke="#c09000" stroke-width="0.7"/>
<polygon points="765.5,347.3 775.7,339.1 778,339.7 766.1,348.4" fill="#c09000" stroke="#c09000" stroke-width="0.7"/>
<polygon points="766.1,348.4 778,339.7 780,340.4 766.8,349.5" fill="#c09000" stroke="#c09000" stroke-width="0.7"/>
<polygon points="766.8,349.5 780,340.4 781.9,341.3 767.4,350.6" fill="#c09000" stroke="#c09000" stroke-width="0.7"/>
<polygon points="767.4,350.6 781.9,341.3 783.4,342.3 768,351.7" fill="#c09000" stroke="#c09000" stroke-width="0.7"/>
<polygon points="768,351.7 783.4,342.3 784.7,343.3 768.6,352.8" fill="#c09000" stroke="#c09000" stroke-width="0.7"/>
<polygon points="768.6,352.8 784.7,343.3 785.7,344.4 769.3,353.9" fill="#c09000" stroke="#c09000" stroke-width="0.7"/>
<polygon points="769.3,353.9 785.7,344.4 786.3,345.5 769.9,355" fill="#c09000" stroke="#c09000" stroke-width="0.7"/>
<polygon points="769.9,355 786.3,345.5 786.6,346.6 770.5,356.1" fill="#f8d018" stroke="#f8d018" stroke-width="0.7"/>
<polygon points="770.5,356.1 786.6,346.6 786.6,347.7 771.1,357.2" fill="#f8d018" stroke="#f8d018" stroke-width="0.7"/>
<polygon points="771.1,357.2 786.6,347.7 786.3,348.9 771.8,358.2" fill="#f8d018" stroke="#f8d018" stroke-width="0.7"/>
<polygon points="771.8,358.2 786.3,348.9 785.7,350.2 772.4,359.3" fill="#f8d018" stroke="#f8d018" stroke-width="0.7"/>
<polygon points="772.4,359.3 785.7,350.2 784.9,351.7 773,360.4" fill="#f8d018" stroke="#f8d018" stroke-width="0.7"/>
<polygon points="773,360.4 784.9,351.7 783.9,353.2 773.7,361.5" fill="#f8d018" stroke="#f8d018" stroke-width="0.7"/>
<polygon points="773.7,361.5 783.9,353.2 782.8,355 774.3,362.6" fill="#f8d018" stroke="#f8d018" stroke-width="0.7"/>
<polygon points="774.3,362.6 782.8,355 781.7,357.1 774.9,363.7" fill="#f8d018" stroke="#f8d018" stroke-width="0.7"/>
<polygon points="774.9,363.7 781.7,357.1 780.5,359.4 775.5,364.8" fill="#f8d018" stroke="#f8d018" stroke-width="0.7"/>
<polygon points="775.5,364.8 780.5,359.4 779.4,362 776.2,365.9" fill="#f8d018" stroke="#f8d018" stroke-width="0.7"/>
<polygon points="776.2,365.9 779.4,362 778.3,364.9 776.8,367" fill="#f8d018" stroke="#f8d018" stroke-width="0.7"/>
<polygon points="776.8,367 778.3,364.9 777.4,368 777.4,368" fill="#f8d018" stroke="#f8d018" stroke-width="0.7"/>
<line x1="866" y1="371" x2="942.5" y2="243.6" stroke="#f02020" stroke-width="2.2" />
<polygon points="942.5,243.6 940.8,254.2 933.9,250.1" fill="#f02020" />
<polygon points="933.3,258.9 933.3,258.9 929.5,259.9 932.7,260" fill="#f02020" stroke="#f02020" stroke-width="0.7"/>
<polygon points="932.7,260 929.5,259.9 925.6,261.2 932,261.1" fill="#f02020" stroke="#f02020" stroke-width="0.7"/>
<polygon points="932,261.1 925.6,261.2 921.6,262.8 931.3,262.2" fill="#f02020" stroke="#f02020" stroke-width="0.7"/>
<polygon points="931.3,262.2 921.6,262.8 917.6,264.5 930.7,263.3" fill="#f02020" stroke="#f02020" stroke-width="0.7"/>
<polygon points="930.7,263.3 917.6,264.5 913.7,266.5 930,264.4" fill="#f02020" stroke="#f02020" stroke-width="0.7"/>
<polygon points="930,264.4 913.7,266.5 909.9,268.6 929.4,265.5" fill="#f02020" stroke="#f02020" stroke-width="0.7"/>
<polygon points="929.4,265.5 909.9,268.6 906.5,270.7 928.7,266.6" fill="#f02020" stroke="#f02020" stroke-width="0.7"/>
<polygon points="928.7,266.6 906.5,270.7 903.3,272.8 928.1,267.7" fill="#f02020" stroke="#f02020" stroke-width="0.7"/>
<polygon points="928.1,267.7 903.3,272.8 900.6,274.8 927.4,268.7" fill="#f02020" stroke="#f02020" stroke-width="0.7"/>
<polygon points="927.4,268.7 900.6,274.8 898.3,276.6 926.7,269.8" fill="#f02020" stroke="#f02020" stroke-width="0.7"/>
<polygon points="926.7,269.8 898.3,276.6 896.5,278.2 926.1,270.9" fill="#f02020" stroke="#f02020" stroke-width="0.7"/>
<polygon points="926.1,270.9 896.5,278.2 895.3,279.5 925.4,272" fill="#f02020" stroke="#f02020" stroke-width="0.7"/>
<polygon points="925.4,272 895.3,279.5 894.7,280.6 924.8,273.1" fill="#f02020" stroke="#f02020" stroke-width="0.7"/>
<polygon points="924.8,273.1 894.7,280.6 894.6,281.5 924.1,274.2" fill="#b01010" stroke="#b01010" stroke-width="0.7"/>
<polygon points="924.1,274.2 894.6,281.5 895,282.1 923.5,275.3" fill="#b01010" stroke="#b01010" stroke-width="0.7"/>
<polygon points="923.5,275.3 895,282.1 896,282.4 922.8,276.4" fill="#b01010" stroke="#b01010" stroke-width="0.7"/>
<polygon points="922.8,276.4 896,282.4 897.4,282.6 922.1,277.5" fill="#b01010" stroke="#b01010" stroke-width="0.7"/>
<polygon points="922.1,277.5 897.4,282.6 899.2,282.7 921.5,278.6" fill="#b01010" stroke="#b01010" stroke-width="0.7"/>
<polygon points="921.5,278.6 899.2,282.7 901.4,282.8 920.8,279.7" fill="#b01010" stroke="#b01010" stroke-width="0.7"/>
<polygon points="920.8,279.7 901.4,282.8 903.8,282.9 920.2,280.8" fill="#b01010" stroke="#b01010" stroke-width="0.7"/>
<polygon points="920.2,280.8 903.8,282.9 906.4,283.2 919.5,281.9" fill="#b01010" stroke="#b01010" stroke-width="0.7"/>
<polygon points="919.5,281.9 906.4,283.2 909.1,283.6 918.8,283" fill="#b01010" stroke="#b01010" stroke-width="0.7"/>
<polygon points="918.8,283 909.1,283.6 911.7,284.2 918.2,284.1" fill="#b01010" stroke="#b01010" stroke-width="0.7"/>
<polygon points="918.2,284.1 911.7,284.2 914.4,285.1 917.5,285.2" fill="#b01010" stroke="#b01010" stroke-width="0.7"/>
<polygon points="917.5,285.2 914.4,285.1 916.9,286.3 916.9,286.3" fill="#b01010" stroke="#b01010" stroke-width="0.7"/>
<polygon points="916.9,286.3 916.9,286.3 919.2,287.8 916.2,287.4" fill="#b01010" stroke="#b01010" stroke-width="0.7"/>
<polygon points="916.2,287.4 919.2,287.8 921.3,289.5 915.6,288.5" fill="#b01010" stroke="#b01010" stroke-width="0.7"/>
<polygon points="915.6,288.5 921.3,289.5 923.2,291.5 914.9,289.6" fill="#b01010" stroke="#b01010" stroke-width="0.7"/>
<polygon points="914.9,289.6 923.2,291.5 924.7,293.8 914.2,290.7" fill="#b01010" stroke="#b01010" stroke-width="0.7"/>
<polygon points="914.2,290.7 924.7,293.8 926,296.1 913.6,291.8" fill="#b01010" stroke="#b01010" stroke-width="0.7"/>
<polygon points="913.6,291.8 926,296.1 927.1,298.6 912.9,292.9" fill="#b01010" stroke="#b01010" stroke-width="0.7"/>
<polygon points="912.9,292.9 927.1,298.6 927.8,301 912.3,293.9" fill="#b01010" stroke="#b01010" stroke-width="0.7"/>
<polygon points="912.3,293.9 927.8,301 928.3,303.4 911.6,295" fill="#b01010" stroke="#b01010" stroke-width="0.7"/>
<polygon points="911.6,295 928.3,303.4 928.5,305.6 911,296.1" fill="#b01010" stroke="#b01010" stroke-width="0.7"/>
<polygon points="911,296.1 928.5,305.6 928.5,307.6 910.3,297.2" fill="#b01010" stroke="#b01010" stroke-width="0.7"/>
<polygon points="910.3,297.2 928.5,307.6 928.3,309.3 909.6,298.3" fill="#b01010" stroke="#b01010" stroke-width="0.7"/>
<polygon points="909.6,298.3 928.3,309.3 927.8,310.7 909,299.4" fill="#b01010" stroke="#b01010" stroke-width="0.7"/>
<polygon points="909,299.4 927.8,310.7 927.2,311.8 908.3,300.5" fill="#b01010" stroke="#b01010" stroke-width="0.7"/>
<polygon points="908.3,300.5 927.2,311.8 926.3,312.6 907.7,301.6" fill="#f02020" stroke="#f02020" stroke-width="0.7"/>
<polygon points="907.7,301.6 926.3,312.6 925.2,313 907,302.7" fill="#f02020" stroke="#f02020" stroke-width="0.7"/>
<polygon points="907,302.7 925.2,313 923.9,313.2 906.3,303.8" fill="#f02020" stroke="#f02020" stroke-width="0.7"/>
<polygon points="906.3,303.8 923.9,313.2 922.4,313.2 905.7,304.9" fill="#f02020" stroke="#f02020" stroke-width="0.7"/>
<polygon points="905.7,304.9 922.4,313.2 920.6,313.1 905,306" fill="#f02020" stroke="#f02020" stroke-width="0.7"/>
<polygon points="905,306 920.6,313.1 918.5,312.8 904.4,307.1" fill="#f02020" stroke="#f02020" stroke-width="0.7"/>
<polygon points="904.4,307.1 918.5,312.8 916.2,312.6 903.7,308.2" fill="#f02020" stroke="#f02020" stroke-width="0.7"/>
<polygon points="903.7,308.2 916.2,312.6 913.6,312.4 903.1,309.3" fill="#f02020" stroke="#f02020" stroke-width="0.7"/>
<polygon points="903.1,309.3 913.6,312.4 910.7,312.4 902.4,310.4" fill="#f02020" stroke="#f02020" stroke-width="0.7"/>
<polygon points="902.4,310.4 910.7,312.4 907.5,312.5 901.7,311.5" fill="#f02020" stroke="#f02020" stroke-width="0.7"/>
<polygon points="901.7,311.5 907.5,312.5 904.1,313 901.1,312.6" fill="#f02020" stroke="#f02020" stroke-width="0.7"/>
<polygon points="901.1,312.6 904.1,313 900.4,313.7 900.4,313.7" fill="#f02020" stroke="#f02020" stroke-width="0.7"/>
<polygon points="900.4,313.7 900.4,313.7 896.6,314.7 899.8,314.8" fill="#f02020" stroke="#f02020" stroke-width="0.7"/>
<polygon points="899.8,314.8 896.6,314.7 892.7,316 899.1,315.9" fill="#f02020" stroke="#f02020" stroke-width="0.7"/>
<polygon points="899.1,315.9 892.7,316 888.7,317.5 898.5,317" fill="#f02020" stroke="#f02020" stroke-width="0.7"/>
<polygon points="898.5,317 888.7,317.5 884.7,319.3 897.8,318.1" fill="#f02020" stroke="#f02020" stroke-width="0.7"/>
<polygon points="897.8,318.1 884.7,319.3 880.8,321.3 897.1,319.1" fill="#f02020" stroke="#f02020" stroke-width="0.7"/>
<polygon points="897.1,319.1 880.8,321.3 877,323.4 896.5,320.2" fill="#f02020" stroke="#f02020" stroke-width="0.7"/>
<polygon points="896.5,320.2 877,323.4 873.6,325.5 895.8,321.3" fill="#f02020" stroke="#f02020" stroke-width="0.7"/>
<polygon points="895.8,321.3 873.6,325.5 870.4,327.6 895.2,322.4" fill="#f02020" stroke="#f02020" stroke-width="0.7"/>
<polygon points="895.2,322.4 870.4,327.6 867.7,329.5 894.5,323.5" fill="#f02020" stroke="#f02020" stroke-width="0.7"/>
<polygon points="894.5,323.5 867.7,329.5 865.4,331.4 893.8,324.6" fill="#f02020" stroke="#f02020" stroke-width="0.7"/>
<polygon points="893.8,324.6 865.4,331.4 863.6,333 893.2,325.7" fill="#f02020" stroke="#f02020" stroke-width="0.7"/>
<polygon points="893.2,325.7 863.6,333 862.4,334.3 892.5,326.8" fill="#f02020" stroke="#f02020" stroke-width="0.7"/>
<polygon points="892.5,326.8 862.4,334.3 861.8,335.4 891.9,327.9" fill="#f02020" stroke="#f02020" stroke-width="0.7"/>
<polygon points="891.9,327.9 861.8,335.4 861.7,336.2 891.2,329" fill="#b01010" stroke="#b01010" stroke-width="0.7"/>
<polygon points="891.2,329 861.7,336.2 862.1,336.8 890.6,330.1" fill="#b01010" stroke="#b01010" stroke-width="0.7"/>
<polygon points="890.6,330.1 862.1,336.8 863.1,337.2 889.9,331.2" fill="#b01010" stroke="#b01010" stroke-width="0.7"/>
<polygon points="889.9,331.2 863.1,337.2 864.5,337.4 889.2,332.3" fill="#b01010" stroke="#b01010" stroke-width="0.7"/>
<polygon points="889.2,332.3 864.5,337.4 866.3,337.5 888.6,333.4" fill="#b01010" stroke="#b01010" stroke-width="0.7"/>
<polygon points="888.6,333.4 866.3,337.5 868.5,337.6 887.9,334.5" fill="#b01010" stroke="#b01010" stroke-width="0.7"/>
<polygon points="887.9,334.5 868.5,337.6 870.9,337.7 887.3,335.6" fill="#b01010" stroke="#b01010" stroke-width="0.7"/>
<polygon points="887.3,335.6 870.9,337.7 873.5,338 886.6,336.7" fill="#b01010" stroke="#b01010" stroke-width="0.7"/>
<polygon points="886.6,336.7 873.5,338 876.2,338.4 886,337.8" fill="#b01010" stroke="#b01010" stroke-width="0.7"/>
<polygon points="886,337.8 876.2,338.4 878.8,339 885.3,338.9" fill="#b01010" stroke="#b01010" stroke-width="0.7"/>
<polygon points="885.3,338.9 878.8,339 881.5,339.9 884.6,340" fill="#b01010" stroke="#b01010" stroke-width="0.7"/>
<polygon points="884.6,340 881.5,339.9 884,341.1 884,341.1" fill="#b01010" stroke="#b01010" stroke-width="0.7"/>
<polygon points="884,341.1 884,341.1 886.3,342.5 883.3,342.2" fill="#b01010" stroke="#b01010" stroke-width="0.7"/>
<polygon points="883.3,342.2 886.3,342.5 888.4,344.3 882.7,343.3" fill="#b01010" stroke="#b01010" stroke-width="0.7"/>
<polygon points="882.7,343.3 888.4,344.3 890.3,346.3 882,344.3" fill="#b01010" stroke="#b01010" stroke-width="0.7"/>
<polygon points="882,344.3 890.3,346.3 891.8,348.5 881.3,345.4" fill="#b01010" stroke="#b01010" stroke-width="0.7"/>
<polygon points="881.3,345.4 891.8,348.5 893.1,350.9 880.7,346.5" fill="#b01010" stroke="#b01010" stroke-width="0.7"/>
<polygon points="880.7,346.5 893.1,350.9 894.2,353.4 880,347.6" fill="#b01010" stroke="#b01010" stroke-width="0.7"/>
<polygon points="880,347.6 894.2,353.4 894.9,355.8 879.4,348.7" fill="#b01010" stroke="#b01010" stroke-width="0.7"/>
<polygon points="879.4,348.7 894.9,355.8 895.4,358.1 878.7,349.8" fill="#b01010" stroke="#b01010" stroke-width="0.7"/>
<polygon points="878.7,349.8 895.4,358.1 895.6,360.4 878.1,350.9" fill="#b01010" stroke="#b01010" stroke-width="0.7"/>
<polygon points="878.1,350.9 895.6,360.4 895.6,362.3 877.4,352" fill="#b01010" stroke="#b01010" stroke-width="0.7"/>
<polygon points="877.4,352 895.6,362.3 895.4,364.1 876.7,353.1" fill="#b01010" stroke="#b01010" stroke-width="0.7"/>
<polygon points="876.7,353.1 895.4,364.1 894.9,365.5 876.1,354.2" fill="#b01010" stroke="#b01010" stroke-width="0.7"/>
<polygon points="876.1,354.2 894.9,365.5 894.3,366.6 875.4,355.3" fill="#b01010" stroke="#b01010" stroke-width="0.7"/>
<polygon points="875.4,355.3 894.3,366.6 893.4,367.4 874.8,356.4" fill="#f02020" stroke="#f02020" stroke-width="0.7"/>
<polygon points="874.8,356.4 893.4,367.4 892.3,367.8 874.1,357.5" fill="#f02020" stroke="#f02020" stroke-width="0.7"/>
<polygon points="874.1,357.5 892.3,367.8 891,368 873.5,358.6" fill="#f02020" stroke="#f02020" stroke-width="0.7"/>
<polygon points="873.5,358.6 891,368 889.5,368 872.8,359.7" fill="#f02020" stroke="#f02020" stroke-width="0.7"/>
<polygon points="872.8,359.7 889.5,368 887.7,367.8 872.1,360.8" fill="#f02020" stroke="#f02020" stroke-width="0.7"/>
<polygon points="872.1,360.8 887.7,367.8 885.6,367.6 871.5,361.9" fill="#f02020" stroke="#f02020" stroke-width="0.7"/>
<polygon points="871.5,361.9 885.6,367.6 883.3,367.3 870.8,363" fill="#f02020" stroke="#f02020" stroke-width="0.7"/>
<polygon points="870.8,363 883.3,367.3 880.7,367.2 870.2,364.1" fill="#f02020" stroke="#f02020" stroke-width="0.7"/>
<polygon points="870.2,364.1 880.7,367.2 877.8,367.1 869.5,365.2" fill="#f02020" stroke="#f02020" stroke-width="0.7"/>
<polygon points="869.5,365.2 877.8,367.1 874.6,367.3 868.8,366.3" fill="#f02020" stroke="#f02020" stroke-width="0.7"/>
<polygon points="868.8,366.3 874.6,367.3 871.2,367.7 868.2,367.4" fill="#f02020" stroke="#f02020" stroke-width="0.7"/>
<polygon points="868.2,367.4 871.2,367.7 867.5,368.5 867.5,368.5" fill="#f02020" stroke="#f02020" stroke-width="0.7"/>
<line x1="755.7" y1="399" x2="648.9" y2="294.5" stroke="#ff20ff" stroke-width="2.2" />
<polygon points="648.9,294.5 658.8,298.6 653.3,304.4" fill="#ff20ff" />
<polygon points="667.1,312.3 667.1,312.3 670.1,309.9 668.2,313.4" fill="#a800a8" stroke="#a800a8" stroke-width="0.7"/>
<polygon points="668.2,313.4 670.1,309.9 673.1,307.8 669.3,314.5" fill="#a800a8" stroke="#a800a8" stroke-width="0.7"/>
<polygon points="669.3,314.5 673.1,307.8 676.2,305.8 670.4,315.6" fill="#a800a8" stroke="#a800a8" stroke-width="0.7"/>
<polygon points="670.4,315.6 676.2,305.8 679.3,304 671.6,316.7" fill="#a800a8" stroke="#a800a8" stroke-width="0.7"/>
<polygon points="671.6,316.7 679.3,304 682.3,302.6 672.7,317.8" fill="#a800a8" stroke="#a800a8" stroke-width="0.7"/>
<polygon points="672.7,317.8 682.3,302.6 685.3,301.4 673.8,318.9" fill="#a800a8" stroke="#a800a8" stroke-width="0.7"/>
<polygon points="673.8,318.9 685.3,301.4 688,300.5 674.9,320" fill="#a800a8" stroke="#a800a8" stroke-width="0.7"/>
<polygon points="674.9,320 688,300.5 690.6,299.9 676.1,321.1" fill="#a800a8" stroke="#a800a8" stroke-width="0.7"/>
<polygon points="676.1,321.1 690.6,299.9 693,299.7 677.2,322.2" fill="#a800a8" stroke="#a800a8" stroke-width="0.7"/>
<polygon points="677.2,322.2 693,299.7 695.1,299.7 678.3,323.3" fill="#a800a8" stroke="#a800a8" stroke-width="0.7"/>
<polygon points="678.3,323.3 695.1,299.7 696.8,300.2 679.4,324.4" fill="#a800a8" stroke="#a800a8" stroke-width="0.7"/>
<polygon points="679.4,324.4 696.8,300.2 698.3,300.9 680.6,325.5" fill="#a800a8" stroke="#a800a8" stroke-width="0.7"/>
<polygon points="680.6,325.5 698.3,300.9 699.4,302 681.7,326.6" fill="#a800a8" stroke="#a800a8" stroke-width="0.7"/>
<polygon points="681.7,326.6 699.4,302 700.2,303.5 682.8,327.7" fill="#e810e8" stroke="#e810e8" stroke-width="0.7"/>
<polygon points="682.8,327.7 700.2,303.5 700.7,305.2 683.9,328.8" fill="#e810e8" stroke="#e810e8" stroke-width="0.7"/>
<polygon points="683.9,328.8 700.7,305.2 700.9,307.4 685.1,329.9" fill="#e810e8" stroke="#e810e8" stroke-width="0.7"/>
<polygon points="685.1,329.9 700.9,307.4 700.8,309.8 686.2,331" fill="#e810e8" stroke="#e810e8" stroke-width="0.7"/>
<polygon points="686.2,331 700.8,309.8 700.4,312.6 687.3,332.1" fill="#e810e8" stroke="#e810e8" stroke-width="0.7"/>
<polygon points="687.3,332.1 700.4,312.6 699.9,315.7 688.4,333.2" fill="#e810e8" stroke="#e810e8" stroke-width="0.7"/>
<polygon points="688.4,333.2 699.9,315.7 699.2,319.1 689.6,334.3" fill="#e810e8" stroke="#e810e8" stroke-width="0.7"/>
<polygon points="689.6,334.3 699.2,319.1 698.4,322.7 690.7,335.4" fill="#e810e8" stroke="#e810e8" stroke-width="0.7"/>
<polygon points="690.7,335.4 698.4,322.7 697.6,326.7 691.8,336.5" fill="#e810e8" stroke="#e810e8" stroke-width="0.7"/>
<polygon points="691.8,336.5 697.6,326.7 696.7,330.9 692.9,337.6" fill="#e810e8" stroke="#e810e8" stroke-width="0.7"/>
<polygon points="692.9,337.6 696.7,330.9 695.9,335.3 694.1,338.7" fill="#e810e8" stroke="#e810e8" stroke-width="0.7"/>
<polygon points="694.1,338.7 695.9,335.3 695.2,339.8 695.2,339.8" fill="#e810e8" stroke="#e810e8" stroke-width="0.7"/>
<polygon points="695.2,339.8 695.2,339.8 694.5,344.4 696.3,340.9" fill="#e810e8" stroke="#e810e8" stroke-width="0.7"/>
<polygon points="696.3,340.9 694.5,344.4 694,349.1 697.4,342" fill="#e810e8" stroke="#e810e8" stroke-width="0.7"/>
<polygon points="697.4,342 694,349.1 693.6,353.7 698.6,343.1" fill="#e810e8" stroke="#e810e8" stroke-width="0.7"/>
<polygon points="698.6,343.1 693.6,353.7 693.4,358.3 699.7,344.2" fill="#e810e8" stroke="#e810e8" stroke-width="0.7"/>
<polygon points="699.7,344.2 693.4,358.3 693.4,362.7 700.8,345.3" fill="#e810e8" stroke="#e810e8" stroke-width="0.7"/>
<polygon points="700.8,345.3 693.4,362.7 693.5,366.8 701.9,346.4" fill="#e810e8" stroke="#e810e8" stroke-width="0.7"/>
<polygon points="701.9,346.4 693.5,366.8 693.8,370.7 703.1,347.5" fill="#e810e8" stroke="#e810e8" stroke-width="0.7"/>
<polygon points="703.1,347.5 693.8,370.7 694.2,374.3 704.2,348.6" fill="#e810e8" stroke="#e810e8" stroke-width="0.7"/>
<polygon points="704.2,348.6 694.2,374.3 694.8,377.4 705.3,349.7" fill="#e810e8" stroke="#e810e8" stroke-width="0.7"/>
<polygon points="705.3,349.7 694.8,377.4 695.5,380 706.4,350.8" fill="#e810e8" stroke="#e810e8" stroke-width="0.7"/>
<polygon points="706.4,350.8 695.5,380 696.4,382.2 707.6,351.9" fill="#e810e8" stroke="#e810e8" stroke-width="0.7"/>
<polygon points="707.6,351.9 696.4,382.2 697.4,383.8 708.7,353" fill="#e810e8" stroke="#e810e8" stroke-width="0.7"/>
<polygon points="708.7,353 697.4,383.8 698.5,384.9 709.8,354.1" fill="#e810e8" stroke="#e810e8" stroke-width="0.7"/>
<polygon points="709.8,354.1 698.5,384.9 699.7,385.5 710.9,355.2" fill="#a800a8" stroke="#a800a8" stroke-width="0.7"/>
<polygon points="710.9,355.2 699.7,385.5 701.1,385.5 712.1,356.3" fill="#a800a8" stroke="#a800a8" stroke-width="0.7"/>
<polygon points="712.1,356.3 701.1,385.5 702.6,385.1 713.2,357.4" fill="#a800a8" stroke="#a800a8" stroke-width="0.7"/>
<polygon points="713.2,357.4 702.6,385.1 704.3,384.2 714.3,358.5" fill="#a800a8" stroke="#a800a8" stroke-width="0.7"/>
<polygon points="714.3,358.5 704.3,384.2 706.1,382.8 715.4,359.6" fill="#a800a8" stroke="#a800a8" stroke-width="0.7"/>
<polygon points="715.4,359.6 706.1,382.8 708.1,381.2 716.6,360.7" fill="#a800a8" stroke="#a800a8" stroke-width="0.7"/>
<polygon points="716.6,360.7 708.1,381.2 710.2,379.2 717.7,361.8" fill="#a800a8" stroke="#a800a8" stroke-width="0.7"/>
<polygon points="717.7,361.8 710.2,379.2 712.5,377 718.8,362.9" fill="#a800a8" stroke="#a800a8" stroke-width="0.7"/>
<polygon points="718.8,362.9 712.5,377 715,374.6 719.9,364" fill="#a800a8" stroke="#a800a8" stroke-width="0.7"/>
<polygon points="719.9,364 715,374.6 717.6,372.2 721.1,365.1" fill="#a800a8" stroke="#a800a8" stroke-width="0.7"/>
<polygon points="721.1,365.1 717.6,372.2 720.4,369.7 722.2,366.2" fill="#a800a8" stroke="#a800a8" stroke-width="0.7"/>
<polygon points="722.2,366.2 720.4,369.7 723.3,367.3 723.3,367.3" fill="#a800a8" stroke="#a800a8" stroke-width="0.7"/>
<polygon points="723.3,367.3 723.3,367.3 726.3,365 724.4,368.4" fill="#a800a8" stroke="#a800a8" stroke-width="0.7"/>
<polygon points="724.4,368.4 726.3,365 729.4,362.8 725.6,369.5" fill="#a800a8" stroke="#a800a8" stroke-width="0.7"/>
<polygon points="725.6,369.5 729.4,362.8 732.5,360.8 726.7,370.6" fill="#a800a8" stroke="#a800a8" stroke-width="0.7"/>
<polygon points="726.7,370.6 732.5,360.8 735.6,359.1 727.8,371.7" fill="#a800a8" stroke="#a800a8" stroke-width="0.7"/>
<polygon points="727.8,371.7 735.6,359.1 738.6,357.6 728.9,372.8" fill="#a800a8" stroke="#a800a8" stroke-width="0.7"/>
<polygon points="728.9,372.8 738.6,357.6 741.5,356.4 730.1,373.9" fill="#a800a8" stroke="#a800a8" stroke-width="0.7"/>
<polygon points="730.1,373.9 741.5,356.4 744.3,355.5 731.2,375" fill="#a800a8" stroke="#a800a8" stroke-width="0.7"/>
<polygon points="731.2,375 744.3,355.5 746.9,354.9 732.3,376.1" fill="#a800a8" stroke="#a800a8" stroke-width="0.7"/>
<polygon points="732.3,376.1 746.9,354.9 749.2,354.7 733.4,377.2" fill="#a800a8" stroke="#a800a8" stroke-width="0.7"/>
<polygon points="733.4,377.2 749.2,354.7 751.3,354.8 734.6,378.3" fill="#a800a8" stroke="#a800a8" stroke-width="0.7"/>
<polygon points="734.6,378.3 751.3,354.8 753.1,355.2 735.7,379.4" fill="#a800a8" stroke="#a800a8" stroke-width="0.7"/>
<polygon points="735.7,379.4 753.1,355.2 754.5,356 736.8,380.5" fill="#a800a8" stroke="#a800a8" stroke-width="0.7"/>
<polygon points="736.8,380.5 754.5,356 755.7,357.1 737.9,381.6" fill="#a800a8" stroke="#a800a8" stroke-width="0.7"/>
<polygon points="737.9,381.6 755.7,357.1 756.4,358.5 739.1,382.7" fill="#e810e8" stroke="#e810e8" stroke-width="0.7"/>
<polygon points="739.1,382.7 756.4,358.5 756.9,360.3 740.2,383.8" fill="#e810e8" stroke="#e810e8" stroke-width="0.7"/>
<polygon points="740.2,383.8 756.9,360.3 757.1,362.4 741.3,384.9" fill="#e810e8" stroke="#e810e8" stroke-width="0.7"/>
<polygon points="741.3,384.9 757.1,362.4 757,364.8 742.4,386" fill="#e810e8" stroke="#e810e8" stroke-width="0.7"/>
<polygon points="742.4,386 757,364.8 756.7,367.6 743.6,387.1" fill="#e810e8" stroke="#e810e8" stroke-width="0.7"/>
<polygon points="743.6,387.1 756.7,367.6 756.1,370.7 744.7,388.2" fill="#e810e8" stroke="#e810e8" stroke-width="0.7"/>
<polygon points="744.7,388.2 756.1,370.7 755.5,374.1 745.8,389.3" fill="#e810e8" stroke="#e810e8" stroke-width="0.7"/>
<polygon points="745.8,389.3 755.5,374.1 754.7,377.8 746.9,390.4" fill="#e810e8" stroke="#e810e8" stroke-width="0.7"/>
<polygon points="746.9,390.4 754.7,377.8 753.8,381.7 748.1,391.5" fill="#e810e8" stroke="#e810e8" stroke-width="0.7"/>
<polygon points="748.1,391.5 753.8,381.7 753,385.9 749.2,392.6" fill="#e810e8" stroke="#e810e8" stroke-width="0.7"/>
<polygon points="749.2,392.6 753,385.9 752.2,390.3 750.3,393.7" fill="#e810e8" stroke="#e810e8" stroke-width="0.7"/>
<polygon points="750.3,393.7 752.2,390.3 751.4,394.8 751.4,394.8" fill="#e810e8" stroke="#e810e8" stroke-width="0.7"/>
<polygon points="667.1,312.3 667.1,312.3 666.4,316.9 668.2,313.4" fill="#ff10ff" stroke="#ff10ff" stroke-width="0.7"/>
<polygon points="668.2,313.4 666.4,316.9 665.9,321.6 669.3,314.5" fill="#ff10ff" stroke="#ff10ff" stroke-width="0.7"/>
<polygon points="669.3,314.5 665.9,321.6 665.5,326.2 670.4,315.6" fill="#ff10ff" stroke="#ff10ff" stroke-width="0.7"/>
<polygon points="670.4,315.6 665.5,326.2 665.3,330.8 671.6,316.7" fill="#ff10ff" stroke="#ff10ff" stroke-width="0.7"/>
<polygon points="671.6,316.7 665.3,330.8 665.2,335.2 672.7,317.8" fill="#ff10ff" stroke="#ff10ff" stroke-width="0.7"/>
<polygon points="672.7,317.8 665.2,335.2 665.4,339.3 673.8,318.9" fill="#ff10ff" stroke="#ff10ff" stroke-width="0.7"/>
<polygon points="673.8,318.9 665.4,339.3 665.6,343.2 674.9,320" fill="#ff10ff" stroke="#ff10ff" stroke-width="0.7"/>
<polygon points="674.9,320 665.6,343.2 666.1,346.7 676.1,321.1" fill="#ff10ff" stroke="#ff10ff" stroke-width="0.7"/>
<polygon points="676.1,321.1 666.1,346.7 666.7,349.8 677.2,322.2" fill="#ff10ff" stroke="#ff10ff" stroke-width="0.7"/>
<polygon points="677.2,322.2 666.7,349.8 667.4,352.5 678.3,323.3" fill="#ff10ff" stroke="#ff10ff" stroke-width="0.7"/>
<polygon points="678.3,323.3 667.4,352.5 668.2,354.7 679.4,324.4" fill="#ff10ff" stroke="#ff10ff" stroke-width="0.7"/>
<polygon points="679.4,324.4 668.2,354.7 669.2,356.3 680.6,325.5" fill="#ff10ff" stroke="#ff10ff" stroke-width="0.7"/>
<polygon points="680.6,325.5 669.2,356.3 670.4,357.4 681.7,326.6" fill="#ff10ff" stroke="#ff10ff" stroke-width="0.7"/>
<polygon points="681.7,326.6 670.4,357.4 671.6,358 682.8,327.7" fill="#c000c0" stroke="#c000c0" stroke-width="0.7"/>
<polygon points="682.8,327.7 671.6,358 673,358 683.9,328.8" fill="#c000c0" stroke="#c000c0" stroke-width="0.7"/>
<polygon points="683.9,328.8 673,358 674.5,357.6 685.1,329.9" fill="#c000c0" stroke="#c000c0" stroke-width="0.7"/>
<polygon points="685.1,329.9 674.5,357.6 676.2,356.6 686.2,331" fill="#c000c0" stroke="#c000c0" stroke-width="0.7"/>
<polygon points="686.2,331 676.2,356.6 678,355.3 687.3,332.1" fill="#c000c0" stroke="#c000c0" stroke-width="0.7"/>
<polygon points="687.3,332.1 678,355.3 680,353.6 688.4,333.2" fill="#c000c0" stroke="#c000c0" stroke-width="0.7"/>
<polygon points="688.4,333.2 680,353.6 682.1,351.7 689.6,334.3" fill="#c000c0" stroke="#c000c0" stroke-width="0.7"/>
<polygon points="689.6,334.3 682.1,351.7 684.4,349.5 690.7,335.4" fill="#c000c0" stroke="#c000c0" stroke-width="0.7"/>
<polygon points="690.7,335.4 684.4,349.5 686.9,347.1 691.8,336.5" fill="#c000c0" stroke="#c000c0" stroke-width="0.7"/>
<polygon points="691.8,336.5 686.9,347.1 689.5,344.7 692.9,337.6" fill="#c000c0" stroke="#c000c0" stroke-width="0.7"/>
<polygon points="692.9,337.6 689.5,344.7 692.3,342.2 694.1,338.7" fill="#c000c0" stroke="#c000c0" stroke-width="0.7"/>
<polygon points="694.1,338.7 692.3,342.2 695.2,339.8 695.2,339.8" fill="#c000c0" stroke="#c000c0" stroke-width="0.7"/>
<polygon points="695.2,339.8 695.2,339.8 698.2,337.5 696.3,340.9" fill="#c000c0" stroke="#c000c0" stroke-width="0.7"/>
<polygon points="696.3,340.9 698.2,337.5 701.2,335.3 697.4,342" fill="#c000c0" stroke="#c000c0" stroke-width="0.7"/>
<polygon points="697.4,342 701.2,335.3 704.3,333.3 698.6,343.1" fill="#c000c0" stroke="#c000c0" stroke-width="0.7"/>
<polygon points="698.6,343.1 704.3,333.3 707.4,331.6 699.7,344.2" fill="#c000c0" stroke="#c000c0" stroke-width="0.7"/>
<polygon points="699.7,344.2 707.4,331.6 710.5,330.1 700.8,345.3" fill="#c000c0" stroke="#c000c0" stroke-width="0.7"/>
<polygon points="700.8,345.3 710.5,330.1 713.4,328.9 701.9,346.4" fill="#c000c0" stroke="#c000c0" stroke-width="0.7"/>
<polygon points="701.9,346.4 713.4,328.9 716.2,328 703.1,347.5" fill="#c000c0" stroke="#c000c0" stroke-width="0.7"/>
<polygon points="703.1,347.5 716.2,328 718.8,327.4 704.2,348.6" fill="#c000c0" stroke="#c000c0" stroke-width="0.7"/>
<polygon points="704.2,348.6 718.8,327.4 721.1,327.2 705.3,349.7" fill="#c000c0" stroke="#c000c0" stroke-width="0.7"/>
<polygon points="705.3,349.7 721.1,327.2 723.2,327.3 706.4,350.8" fill="#c000c0" stroke="#c000c0" stroke-width="0.7"/>
<polygon points="706.4,350.8 723.2,327.3 724.9,327.7 707.6,351.9" fill="#c000c0" stroke="#c000c0" stroke-width="0.7"/>
<polygon points="707.6,351.9 724.9,327.7 726.4,328.4 708.7,353" fill="#c000c0" stroke="#c000c0" stroke-width="0.7"/>
<polygon points="708.7,353 726.4,328.4 727.5,329.5 709.8,354.1" fill="#c000c0" stroke="#c000c0" stroke-width="0.7"/>
<polygon points="709.8,354.1 727.5,329.5 728.3,331 710.9,355.2" fill="#ff10ff" stroke="#ff10ff" stroke-width="0.7"/>
<polygon points="710.9,355.2 728.3,331 728.8,332.8 712.1,356.3" fill="#ff10ff" stroke="#ff10ff" stroke-width="0.7"/>
<polygon points="712.1,356.3 728.8,332.8 729,334.9 713.2,357.4" fill="#ff10ff" stroke="#ff10ff" stroke-width="0.7"/>
<polygon points="713.2,357.4 729,334.9 728.9,337.3 714.3,358.5" fill="#ff10ff" stroke="#ff10ff" stroke-width="0.7"/>
<polygon points="714.3,358.5 728.9,337.3 728.5,340.1 715.4,359.6" fill="#ff10ff" stroke="#ff10ff" stroke-width="0.7"/>
<polygon points="715.4,359.6 728.5,340.1 728,343.2 716.6,360.7" fill="#ff10ff" stroke="#ff10ff" stroke-width="0.7"/>
<polygon points="716.6,360.7 728,343.2 727.3,346.6 717.7,361.8" fill="#ff10ff" stroke="#ff10ff" stroke-width="0.7"/>
<polygon points="717.7,361.8 727.3,346.6 726.6,350.3 718.8,362.9" fill="#ff10ff" stroke="#ff10ff" stroke-width="0.7"/>
<polygon points="718.8,362.9 726.6,350.3 725.7,354.2 719.9,364" fill="#ff10ff" stroke="#ff10ff" stroke-width="0.7"/>
<polygon points="719.9,364 725.7,354.2 724.9,358.4 721.1,365.1" fill="#ff10ff" stroke="#ff10ff" stroke-width="0.7"/>
<polygon points="721.1,365.1 724.9,358.4 724.1,362.8 722.2,366.2" fill="#ff10ff" stroke="#ff10ff" stroke-width="0.7"/>
<polygon points="722.2,366.2 724.1,362.8 723.3,367.3 723.3,367.3" fill="#ff10ff" stroke="#ff10ff" stroke-width="0.7"/>
<polygon points="723.3,367.3 723.3,367.3 722.7,371.9 724.4,368.4" fill="#ff10ff" stroke="#ff10ff" stroke-width="0.7"/>
<polygon points="724.4,368.4 722.7,371.9 722.1,376.6 725.6,369.5" fill="#ff10ff" stroke="#ff10ff" stroke-width="0.7"/>
<polygon points="725.6,369.5 722.1,376.6 721.8,381.2 726.7,370.6" fill="#ff10ff" stroke="#ff10ff" stroke-width="0.7"/>
<polygon points="726.7,370.6 721.8,381.2 721.5,385.8 727.8,371.7" fill="#ff10ff" stroke="#ff10ff" stroke-width="0.7"/>
<polygon points="727.8,371.7 721.5,385.8 721.5,390.2 728.9,372.8" fill="#ff10ff" stroke="#ff10ff" stroke-width="0.7"/>
<polygon points="728.9,372.8 721.5,390.2 721.6,394.4 730.1,373.9" fill="#ff10ff" stroke="#ff10ff" stroke-width="0.7"/>
<polygon points="730.1,373.9 721.6,394.4 721.9,398.2 731.2,375" fill="#ff10ff" stroke="#ff10ff" stroke-width="0.7"/>
<polygon points="731.2,375 721.9,398.2 722.3,401.8 732.3,376.1" fill="#ff10ff" stroke="#ff10ff" stroke-width="0.7"/>
<polygon points="732.3,376.1 722.3,401.8 722.9,404.9 733.4,377.2" fill="#ff10ff" stroke="#ff10ff" stroke-width="0.7"/>
<polygon points="733.4,377.2 722.9,404.9 723.6,407.5 734.6,378.3" fill="#ff10ff" stroke="#ff10ff" stroke-width="0.7"/>
<polygon points="734.6,378.3 723.6,407.5 724.5,409.7 735.7,379.4" fill="#ff10ff" stroke="#ff10ff" stroke-width="0.7"/>
<polygon points="735.7,379.4 724.5,409.7 725.5,411.3 736.8,380.5" fill="#ff10ff" stroke="#ff10ff" stroke-width="0.7"/>
<polygon points="736.8,380.5 725.5,411.3 726.6,412.4 737.9,381.6" fill="#ff10ff" stroke="#ff10ff" stroke-width="0.7"/>
<polygon points="737.9,381.6 726.6,412.4 727.9,413 739.1,382.7" fill="#c000c0" stroke="#c000c0" stroke-width="0.7"/>
<polygon points="739.1,382.7 727.9,413 729.3,413 740.2,383.8" fill="#c000c0" stroke="#c000c0" stroke-width="0.7"/>
<polygon points="740.2,383.8 729.3,413 730.8,412.6 741.3,384.9" fill="#c000c0" stroke="#c000c0" stroke-width="0.7"/>
<polygon points="741.3,384.9 730.8,412.6 732.4,411.7 742.4,386" fill="#c000c0" stroke="#c000c0" stroke-width="0.7"/>
<polygon points="742.4,386 732.4,411.7 734.3,410.4 743.6,387.1" fill="#c000c0" stroke="#c000c0" stroke-width="0.7"/>
<polygon points="743.6,387.1 734.3,410.4 736.2,408.7 744.7,388.2" fill="#c000c0" stroke="#c000c0" stroke-width="0.7"/>
<polygon points="744.7,388.2 736.2,408.7 738.4,406.7 745.8,389.3" fill="#c000c0" stroke="#c000c0" stroke-width="0.7"/>
<polygon points="745.8,389.3 738.4,406.7 740.7,404.5 746.9,390.4" fill="#c000c0" stroke="#c000c0" stroke-width="0.7"/>
<polygon points="746.9,390.4 740.7,404.5 743.1,402.2 748.1,391.5" fill="#c000c0" stroke="#c000c0" stroke-width="0.7"/>
<polygon points="748.1,391.5 743.1,402.2 745.8,399.7 749.2,392.6" fill="#c000c0" stroke="#c000c0" stroke-width="0.7"/>
<polygon points="749.2,392.6 745.8,399.7 748.5,397.2 750.3,393.7" fill="#c000c0" stroke="#c000c0" stroke-width="0.7"/>
<polygon points="750.3,393.7 748.5,397.2 751.4,394.8 751.4,394.8" fill="#c000c0" stroke="#c000c0" stroke-width="0.7"/>
<line x1="893.8" y1="399" x2="996" y2="294.7" stroke="#40f040" stroke-width="2.2" />
<polygon points="996,294.7 991.9,304.6 986.1,299" fill="#40f040" />
<polygon points="979.6,311.4 979.6,311.4 982,314.4 978.5,312.5" fill="#109010" stroke="#109010" stroke-width="0.7"/>
<polygon points="978.5,312.5 982,314.4 984.1,317.5 977.4,313.6" fill="#109010" stroke="#109010" stroke-width="0.7"/>
<polygon points="977.4,313.6 984.1,317.5 986.1,320.6 976.3,314.8" fill="#109010" stroke="#109010" stroke-width="0.7"/>
<polygon points="976.3,314.8 986.1,320.6 987.9,323.7 975.2,315.9" fill="#109010" stroke="#109010" stroke-width="0.7"/>
<polygon points="975.2,315.9 987.9,323.7 989.3,326.7 974.1,317" fill="#109010" stroke="#109010" stroke-width="0.7"/>
<polygon points="974.1,317 989.3,326.7 990.5,329.6 973,318.1" fill="#109010" stroke="#109010" stroke-width="0.7"/>
<polygon points="973,318.1 990.5,329.6 991.4,332.4 971.9,319.3" fill="#109010" stroke="#109010" stroke-width="0.7"/>
<polygon points="971.9,319.3 991.4,332.4 992,335 970.8,320.4" fill="#109010" stroke="#109010" stroke-width="0.7"/>
<polygon points="970.8,320.4 992,335 992.2,337.3 969.7,321.5" fill="#109010" stroke="#109010" stroke-width="0.7"/>
<polygon points="969.7,321.5 992.2,337.3 992.1,339.4 968.6,322.7" fill="#109010" stroke="#109010" stroke-width="0.7"/>
<polygon points="968.6,322.7 992.1,339.4 991.7,341.2 967.5,323.8" fill="#109010" stroke="#109010" stroke-width="0.7"/>
<polygon points="967.5,323.8 991.7,341.2 990.9,342.6 966.4,324.9" fill="#109010" stroke="#109010" stroke-width="0.7"/>
<polygon points="966.4,324.9 990.9,342.6 989.8,343.8 965.3,326" fill="#109010" stroke="#109010" stroke-width="0.7"/>
<polygon points="965.3,326 989.8,343.8 988.4,344.6 964.2,327.2" fill="#28e028" stroke="#28e028" stroke-width="0.7"/>
<polygon points="964.2,327.2 988.4,344.6 986.6,345 963.1,328.3" fill="#28e028" stroke="#28e028" stroke-width="0.7"/>
<polygon points="963.1,328.3 986.6,345 984.5,345.2 962,329.4" fill="#28e028" stroke="#28e028" stroke-width="0.7"/>
<polygon points="962,329.4 984.5,345.2 982,345.1 960.9,330.5" fill="#28e028" stroke="#28e028" stroke-width="0.7"/>
<polygon points="960.9,330.5 982,345.1 979.3,344.8 959.8,331.7" fill="#28e028" stroke="#28e028" stroke-width="0.7"/>
<polygon points="959.8,331.7 979.3,344.8 976.2,344.3 958.7,332.8" fill="#28e028" stroke="#28e028" stroke-width="0.7"/>
<polygon points="958.7,332.8 976.2,344.3 972.8,343.6 957.6,333.9" fill="#28e028" stroke="#28e028" stroke-width="0.7"/>
<polygon points="957.6,333.9 972.8,343.6 969.1,342.8 956.5,335" fill="#28e028" stroke="#28e028" stroke-width="0.7"/>
<polygon points="956.5,335 969.1,342.8 965.1,342 955.4,336.2" fill="#28e028" stroke="#28e028" stroke-width="0.7"/>
<polygon points="955.4,336.2 965.1,342 961,341.1 954.3,337.3" fill="#28e028" stroke="#28e028" stroke-width="0.7"/>
<polygon points="954.3,337.3 961,341.1 956.6,340.3 953.2,338.4" fill="#28e028" stroke="#28e028" stroke-width="0.7"/>
<polygon points="953.2,338.4 956.6,340.3 952.1,339.5 952.1,339.5" fill="#28e028" stroke="#28e028" stroke-width="0.7"/>
<polygon points="952.1,339.5 952.1,339.5 947.4,338.9 951,340.7" fill="#28e028" stroke="#28e028" stroke-width="0.7"/>
<polygon points="951,340.7 947.4,338.9 942.8,338.4 949.8,341.8" fill="#28e028" stroke="#28e028" stroke-width="0.7"/>
<polygon points="949.8,341.8 942.8,338.4 938.1,338 948.7,342.9" fill="#28e028" stroke="#28e028" stroke-width="0.7"/>
<polygon points="948.7,342.9 938.1,338 933.6,337.8 947.6,344.1" fill="#28e028" stroke="#28e028" stroke-width="0.7"/>
<polygon points="947.6,344.1 933.6,337.8 929.1,337.7 946.5,345.2" fill="#28e028" stroke="#28e028" stroke-width="0.7"/>
<polygon points="946.5,345.2 929.1,337.7 925,337.8 945.4,346.3" fill="#28e028" stroke="#28e028" stroke-width="0.7"/>
<polygon points="945.4,346.3 925,337.8 921.1,338.1 944.3,347.4" fill="#28e028" stroke="#28e028" stroke-width="0.7"/>
<polygon points="944.3,347.4 921.1,338.1 917.6,338.6 943.2,348.6" fill="#28e028" stroke="#28e028" stroke-width="0.7"/>
<polygon points="943.2,348.6 917.6,338.6 914.5,339.1 942.1,349.7" fill="#28e028" stroke="#28e028" stroke-width="0.7"/>
<polygon points="942.1,349.7 914.5,339.1 911.8,339.9 941,350.8" fill="#28e028" stroke="#28e028" stroke-width="0.7"/>
<polygon points="941,350.8 911.8,339.9 909.6,340.7 939.9,351.9" fill="#28e028" stroke="#28e028" stroke-width="0.7"/>
<polygon points="939.9,351.9 909.6,340.7 908,341.7 938.8,353.1" fill="#28e028" stroke="#28e028" stroke-width="0.7"/>
<polygon points="938.8,353.1 908,341.7 906.9,342.9 937.7,354.2" fill="#28e028" stroke="#28e028" stroke-width="0.7"/>
<polygon points="937.7,354.2 906.9,342.9 906.3,344.1 936.6,355.3" fill="#109010" stroke="#109010" stroke-width="0.7"/>
<polygon points="936.6,355.3 906.3,344.1 906.3,345.5 935.5,356.4" fill="#109010" stroke="#109010" stroke-width="0.7"/>
<polygon points="935.5,356.4 906.3,345.5 906.7,347 934.4,357.6" fill="#109010" stroke="#109010" stroke-width="0.7"/>
<polygon points="934.4,357.6 906.7,347 907.6,348.7 933.3,358.7" fill="#109010" stroke="#109010" stroke-width="0.7"/>
<polygon points="933.3,358.7 907.6,348.7 909,350.5 932.2,359.8" fill="#109010" stroke="#109010" stroke-width="0.7"/>
<polygon points="932.2,359.8 909,350.5 910.6,352.5 931.1,361" fill="#109010" stroke="#109010" stroke-width="0.7"/>
<polygon points="931.1,361 910.6,352.5 912.6,354.6 930,362.1" fill="#109010" stroke="#109010" stroke-width="0.7"/>
<polygon points="930,362.1 912.6,354.6 914.8,356.9 928.9,363.2" fill="#109010" stroke="#109010" stroke-width="0.7"/>
<polygon points="928.9,363.2 914.8,356.9 917.1,359.4 927.8,364.3" fill="#109010" stroke="#109010" stroke-width="0.7"/>
<polygon points="927.8,364.3 917.1,359.4 919.6,362 926.7,365.5" fill="#109010" stroke="#109010" stroke-width="0.7"/>
<polygon points="926.7,365.5 919.6,362 922,364.8 925.6,366.6" fill="#109010" stroke="#109010" stroke-width="0.7"/>
<polygon points="925.6,366.6 922,364.8 924.5,367.7 924.5,367.7" fill="#109010" stroke="#109010" stroke-width="0.7"/>
<polygon points="924.5,367.7 924.5,367.7 926.8,370.7 923.4,368.8" fill="#109010" stroke="#109010" stroke-width="0.7"/>
<polygon points="923.4,368.8 926.8,370.7 929,373.8 922.3,370" fill="#109010" stroke="#109010" stroke-width="0.7"/>
<polygon points="922.3,370 929,373.8 930.9,376.9 921.1,371.1" fill="#109010" stroke="#109010" stroke-width="0.7"/>
<polygon points="921.1,371.1 930.9,376.9 932.7,380 920,372.2" fill="#109010" stroke="#109010" stroke-width="0.7"/>
<polygon points="920,372.2 932.7,380 934.2,383 918.9,373.3" fill="#109010" stroke="#109010" stroke-width="0.7"/>
<polygon points="918.9,373.3 934.2,383 935.3,385.9 917.8,374.5" fill="#109010" stroke="#109010" stroke-width="0.7"/>
<polygon points="917.8,374.5 935.3,385.9 936.2,388.7 916.7,375.6" fill="#109010" stroke="#109010" stroke-width="0.7"/>
<polygon points="916.7,375.6 936.2,388.7 936.8,391.3 915.6,376.7" fill="#109010" stroke="#109010" stroke-width="0.7"/>
<polygon points="915.6,376.7 936.8,391.3 937,393.7 914.5,377.8" fill="#109010" stroke="#109010" stroke-width="0.7"/>
<polygon points="914.5,377.8 937,393.7 936.9,395.7 913.4,379" fill="#109010" stroke="#109010" stroke-width="0.7"/>
<polygon points="913.4,379 936.9,395.7 936.5,397.5 912.3,380.1" fill="#109010" stroke="#109010" stroke-width="0.7"/>
<polygon points="912.3,380.1 936.5,397.5 935.7,399 911.2,381.2" fill="#109010" stroke="#109010" stroke-width="0.7"/>
<polygon points="911.2,381.2 935.7,399 934.6,400.1 910.1,382.4" fill="#109010" stroke="#109010" stroke-width="0.7"/>
<polygon points="910.1,382.4 934.6,400.1 933.2,400.9 909,383.5" fill="#28e028" stroke="#28e028" stroke-width="0.7"/>
<polygon points="909,383.5 933.2,400.9 931.4,401.4 907.9,384.6" fill="#28e028" stroke="#28e028" stroke-width="0.7"/>
<polygon points="907.9,384.6 931.4,401.4 929.3,401.5 906.8,385.7" fill="#28e028" stroke="#28e028" stroke-width="0.7"/>
<polygon points="906.8,385.7 929.3,401.5 926.9,401.5 905.7,386.9" fill="#28e028" stroke="#28e028" stroke-width="0.7"/>
<polygon points="905.7,386.9 926.9,401.5 924.1,401.1 904.6,388" fill="#28e028" stroke="#28e028" stroke-width="0.7"/>
<polygon points="904.6,388 924.1,401.1 921,400.6 903.5,389.1" fill="#28e028" stroke="#28e028" stroke-width="0.7"/>
<polygon points="903.5,389.1 921,400.6 917.6,399.9 902.4,390.2" fill="#28e028" stroke="#28e028" stroke-width="0.7"/>
<polygon points="902.4,390.2 917.6,399.9 913.9,399.1 901.3,391.4" fill="#28e028" stroke="#28e028" stroke-width="0.7"/>
<polygon points="901.3,391.4 913.9,399.1 910,398.3 900.2,392.5" fill="#28e028" stroke="#28e028" stroke-width="0.7"/>
<polygon points="900.2,392.5 910,398.3 905.8,397.4 899.1,393.6" fill="#28e028" stroke="#28e028" stroke-width="0.7"/>
<polygon points="899.1,393.6 905.8,397.4 901.4,396.6 898,394.7" fill="#28e028" stroke="#28e028" stroke-width="0.7"/>
<polygon points="898,394.7 901.4,396.6 896.9,395.9 896.9,395.9" fill="#28e028" stroke="#28e028" stroke-width="0.7"/>
<polygon points="979.6,311.4 979.6,311.4 975,310.7 978.5,312.5" fill="#38f038" stroke="#38f038" stroke-width="0.7"/>
<polygon points="978.5,312.5 975,310.7 970.4,310.2 977.4,313.6" fill="#38f038" stroke="#38f038" stroke-width="0.7"/>
<polygon points="977.4,313.6 970.4,310.2 965.7,309.8 976.3,314.8" fill="#38f038" stroke="#38f038" stroke-width="0.7"/>
<polygon points="976.3,314.8 965.7,309.8 961.1,309.6 975.2,315.9" fill="#38f038" stroke="#38f038" stroke-width="0.7"/>
<polygon points="975.2,315.9 961.1,309.6 956.7,309.6 974.1,317" fill="#38f038" stroke="#38f038" stroke-width="0.7"/>
<polygon points="974.1,317 956.7,309.6 952.6,309.7 973,318.1" fill="#38f038" stroke="#38f038" stroke-width="0.7"/>
<polygon points="973,318.1 952.6,309.7 948.7,310 971.9,319.3" fill="#38f038" stroke="#38f038" stroke-width="0.7"/>
<polygon points="971.9,319.3 948.7,310 945.2,310.4 970.8,320.4" fill="#38f038" stroke="#38f038" stroke-width="0.7"/>
<polygon points="970.8,320.4 945.2,310.4 942,311 969.7,321.5" fill="#38f038" stroke="#38f038" stroke-width="0.7"/>
<polygon points="969.7,321.5 942,311 939.4,311.7 968.6,322.7" fill="#38f038" stroke="#38f038" stroke-width="0.7"/>
<polygon points="968.6,322.7 939.4,311.7 937.2,312.6 967.5,323.8" fill="#38f038" stroke="#38f038" stroke-width="0.7"/>
<polygon points="967.5,323.8 937.2,312.6 935.6,313.6 966.4,324.9" fill="#38f038" stroke="#38f038" stroke-width="0.7"/>
<polygon points="966.4,324.9 935.6,313.6 934.5,314.7 965.3,326" fill="#38f038" stroke="#38f038" stroke-width="0.7"/>
<polygon points="965.3,326 934.5,314.7 933.9,315.9 964.2,327.2" fill="#18b018" stroke="#18b018" stroke-width="0.7"/>
<polygon points="964.2,327.2 933.9,315.9 933.9,317.3 963.1,328.3" fill="#18b018" stroke="#18b018" stroke-width="0.7"/>
<polygon points="963.1,328.3 933.9,317.3 934.3,318.9 962,329.4" fill="#18b018" stroke="#18b018" stroke-width="0.7"/>
<polygon points="962,329.4 934.3,318.9 935.2,320.5 960.9,330.5" fill="#18b018" stroke="#18b018" stroke-width="0.7"/>
<polygon points="960.9,330.5 935.2,320.5 936.5,322.3 959.8,331.7" fill="#18b018" stroke="#18b018" stroke-width="0.7"/>
<polygon points="959.8,331.7 936.5,322.3 938.2,324.3 958.7,332.8" fill="#18b018" stroke="#18b018" stroke-width="0.7"/>
<polygon points="958.7,332.8 938.2,324.3 940.2,326.5 957.6,333.9" fill="#18b018" stroke="#18b018" stroke-width="0.7"/>
<polygon points="957.6,333.9 940.2,326.5 942.4,328.8 956.5,335" fill="#18b018" stroke="#18b018" stroke-width="0.7"/>
<polygon points="956.5,335 942.4,328.8 944.7,331.2 955.4,336.2" fill="#18b018" stroke="#18b018" stroke-width="0.7"/>
<polygon points="955.4,336.2 944.7,331.2 947.2,333.9 954.3,337.3" fill="#18b018" stroke="#18b018" stroke-width="0.7"/>
<polygon points="954.3,337.3 947.2,333.9 949.6,336.6 953.2,338.4" fill="#18b018" stroke="#18b018" stroke-width="0.7"/>
<polygon points="953.2,338.4 949.6,336.6 952.1,339.5 952.1,339.5" fill="#18b018" stroke="#18b018" stroke-width="0.7"/>
<polygon points="952.1,339.5 952.1,339.5 954.4,342.6 951,340.7" fill="#18b018" stroke="#18b018" stroke-width="0.7"/>
<polygon points="951,340.7 954.4,342.6 956.5,345.6 949.8,341.8" fill="#18b018" stroke="#18b018" stroke-width="0.7"/>
<polygon points="949.8,341.8 956.5,345.6 958.5,348.7 948.7,342.9" fill="#18b018" stroke="#18b018" stroke-width="0.7"/>
<polygon points="948.7,342.9 958.5,348.7 960.3,351.8 947.6,344.1" fill="#18b018" stroke="#18b018" stroke-width="0.7"/>
<polygon points="947.6,344.1 960.3,351.8 961.7,354.9 946.5,345.2" fill="#18b018" stroke="#18b018" stroke-width="0.7"/>
<polygon points="946.5,345.2 961.7,354.9 962.9,357.8 945.4,346.3" fill="#18b018" stroke="#18b018" stroke-width="0.7"/>
<polygon points="945.4,346.3 962.9,357.8 963.8,360.6 944.3,347.4" fill="#18b018" stroke="#18b018" stroke-width="0.7"/>
<polygon points="944.3,347.4 963.8,360.6 964.4,363.2 943.2,348.6" fill="#18b018" stroke="#18b018" stroke-width="0.7"/>
<polygon points="943.2,348.6 964.4,363.2 964.6,365.5 942.1,349.7" fill="#18b018" stroke="#18b018" stroke-width="0.7"/>
<polygon points="942.1,349.7 964.6,365.5 964.5,367.6 941,350.8" fill="#18b018" stroke="#18b018" stroke-width="0.7"/>
<polygon points="941,350.8 964.5,367.6 964.1,369.4 939.9,351.9" fill="#18b018" stroke="#18b018" stroke-width="0.7"/>
<polygon points="939.9,351.9 964.1,369.4 963.3,370.8 938.8,353.1" fill="#18b018" stroke="#18b018" stroke-width="0.7"/>
<polygon points="938.8,353.1 963.3,370.8 962.2,371.9 937.7,354.2" fill="#18b018" stroke="#18b018" stroke-width="0.7"/>
<polygon points="937.7,354.2 962.2,371.9 960.8,372.7 936.6,355.3" fill="#38f038" stroke="#38f038" stroke-width="0.7"/>
<polygon points="936.6,355.3 960.8,372.7 959,373.2 935.5,356.4" fill="#38f038" stroke="#38f038" stroke-width="0.7"/>
<polygon points="935.5,356.4 959,373.2 956.9,373.4 934.4,357.6" fill="#38f038" stroke="#38f038" stroke-width="0.7"/>
<polygon points="934.4,357.6 956.9,373.4 954.5,373.3 933.3,358.7" fill="#38f038" stroke="#38f038" stroke-width="0.7"/>
<polygon points="933.3,358.7 954.5,373.3 951.7,373 932.2,359.8" fill="#38f038" stroke="#38f038" stroke-width="0.7"/>
<polygon points="932.2,359.8 951.7,373 948.6,372.4 931.1,361" fill="#38f038" stroke="#38f038" stroke-width="0.7"/>
<polygon points="931.1,361 948.6,372.4 945.2,371.8 930,362.1" fill="#38f038" stroke="#38f038" stroke-width="0.7"/>
<polygon points="930,362.1 945.2,371.8 941.5,371 928.9,363.2" fill="#38f038" stroke="#38f038" stroke-width="0.7"/>
<polygon points="928.9,363.2 941.5,371 937.6,370.1 927.8,364.3" fill="#38f038" stroke="#38f038" stroke-width="0.7"/>
<polygon points="927.8,364.3 937.6,370.1 933.4,369.3 926.7,365.5" fill="#38f038" stroke="#38f038" stroke-width="0.7"/>
<polygon points="926.7,365.5 933.4,369.3 929,368.5 925.6,366.6" fill="#38f038" stroke="#38f038" stroke-width="0.7"/>
<polygon points="925.6,366.6 929,368.5 924.5,367.7 924.5,367.7" fill="#38f038" stroke="#38f038" stroke-width="0.7"/>
<polygon points="924.5,367.7 924.5,367.7 919.8,367.1 923.4,368.8" fill="#38f038" stroke="#38f038" stroke-width="0.7"/>
<polygon points="923.4,368.8 919.8,367.1 915.2,366.5 922.3,370" fill="#38f038" stroke="#38f038" stroke-width="0.7"/>
<polygon points="922.3,370 915.2,366.5 910.5,366.2 921.1,371.1" fill="#38f038" stroke="#38f038" stroke-width="0.7"/>
<polygon points="921.1,371.1 910.5,366.2 906,365.9 920,372.2" fill="#38f038" stroke="#38f038" stroke-width="0.7"/>
<polygon points="920,372.2 906,365.9 901.6,365.9 918.9,373.3" fill="#38f038" stroke="#38f038" stroke-width="0.7"/>
<polygon points="918.9,373.3 901.6,365.9 897.4,366 917.8,374.5" fill="#38f038" stroke="#38f038" stroke-width="0.7"/>
<polygon points="917.8,374.5 897.4,366 893.5,366.3 916.7,375.6" fill="#38f038" stroke="#38f038" stroke-width="0.7"/>
<polygon points="916.7,375.6 893.5,366.3 890,366.7 915.6,376.7" fill="#38f038" stroke="#38f038" stroke-width="0.7"/>
<polygon points="915.6,376.7 890,366.7 886.9,367.3 914.5,377.8" fill="#38f038" stroke="#38f038" stroke-width="0.7"/>
<polygon points="914.5,377.8 886.9,367.3 884.2,368 913.4,379" fill="#38f038" stroke="#38f038" stroke-width="0.7"/>
<polygon points="913.4,379 884.2,368 882,368.9 912.3,380.1" fill="#38f038" stroke="#38f038" stroke-width="0.7"/>
<polygon points="912.3,380.1 882,368.9 880.4,369.9 911.2,381.2" fill="#38f038" stroke="#38f038" stroke-width="0.7"/>
<polygon points="911.2,381.2 880.4,369.9 879.3,371 910.1,382.4" fill="#38f038" stroke="#38f038" stroke-width="0.7"/>
<polygon points="910.1,382.4 879.3,371 878.7,372.3 909,383.5" fill="#18b018" stroke="#18b018" stroke-width="0.7"/>
<polygon points="909,383.5 878.7,372.3 878.7,373.7 907.9,384.6" fill="#18b018" stroke="#18b018" stroke-width="0.7"/>
<polygon points="907.9,384.6 878.7,373.7 879.1,375.2 906.8,385.7" fill="#18b018" stroke="#18b018" stroke-width="0.7"/>
<polygon points="906.8,385.7 879.1,375.2 880,376.9 905.7,386.9" fill="#18b018" stroke="#18b018" stroke-width="0.7"/>
<polygon points="905.7,386.9 880,376.9 881.4,378.7 904.6,388" fill="#18b018" stroke="#18b018" stroke-width="0.7"/>
<polygon points="904.6,388 881.4,378.7 883,380.6 903.5,389.1" fill="#18b018" stroke="#18b018" stroke-width="0.7"/>
<polygon points="903.5,389.1 883,380.6 885,382.8 902.4,390.2" fill="#18b018" stroke="#18b018" stroke-width="0.7"/>
<polygon points="902.4,390.2 885,382.8 887.2,385.1 901.3,391.4" fill="#18b018" stroke="#18b018" stroke-width="0.7"/>
<polygon points="901.3,391.4 887.2,385.1 889.5,387.6 900.2,392.5" fill="#18b018" stroke="#18b018" stroke-width="0.7"/>
<polygon points="900.2,392.5 889.5,387.6 892,390.2 899.1,393.6" fill="#18b018" stroke="#18b018" stroke-width="0.7"/>
<polygon points="899.1,393.6 892,390.2 894.4,393 898,394.7" fill="#18b018" stroke="#18b018" stroke-width="0.7"/>
<polygon points="898,394.7 894.4,393 896.9,395.9 896.9,395.9" fill="#18b018" stroke="#18b018" stroke-width="0.7"/>
<line x1="766.8" y1="205.6" x2="804.6" y2="350" stroke="#ffffff" stroke-width="1.2" opacity="0.5" stroke-dasharray="8,4"/>
<line x1="876.9" y1="205.6" x2="833.5" y2="345.7" stroke="#ffffff" stroke-width="1.2" opacity="0.5" stroke-dasharray="8,4"/>
<line x1="705.6" y1="243.4" x2="781.2" y2="374.6" stroke="#ffffff" stroke-width="1.2" opacity="0.5" stroke-dasharray="8,4"/>
<line x1="942.5" y1="243.6" x2="866" y2="371" stroke="#ffffff" stroke-width="1.2" opacity="0.5" stroke-dasharray="8,4"/>
<line x1="648.9" y1="294.5" x2="755.7" y2="399" stroke="#ffffff" stroke-width="1.2" opacity="0.5" stroke-dasharray="8,4"/>
<line x1="996" y1="294.7" x2="893.8" y2="399" stroke="#ffffff" stroke-width="1.2" opacity="0.5" stroke-dasharray="8,4"/>
<text x="680" y="285" font-family="'Liberation Serif', 'Times New Roman', serif" font-size="13" fill="#e020e0" font-weight="bold" font-style="normal" text-anchor="middle" >XY</text>
<text x="680" y="300.5" font-family="'Liberation Serif', 'Times New Roman', serif" font-size="13" fill="#e020e0" font-weight="bold" font-style="normal" text-anchor="middle" >channel</text>
<text x="733.7" y="232" font-family="'Liberation Serif', 'Times New Roman', serif" font-size="13" fill="#e8c020" font-weight="bold" font-style="normal" text-anchor="middle" >RR</text>
<text x="733.7" y="247.5" font-family="'Liberation Serif', 'Times New Roman', serif" font-size="13" fill="#e8c020" font-weight="bold" font-style="normal" text-anchor="middle" >channel</text>
<text x="797.7" y="218" font-family="'Liberation Serif', 'Times New Roman', serif" font-size="13" fill="#e020e0" font-weight="bold" font-style="normal" text-anchor="middle" >YY</text>
<text x="797.7" y="233.5" font-family="'Liberation Serif', 'Times New Roman', serif" font-size="13" fill="#e020e0" font-weight="bold" font-style="normal" text-anchor="middle" >channel</text>
<text x="845" y="222.5" font-family="'Liberation Serif', 'Times New Roman', serif" font-size="13" fill="#30d830" font-weight="bold" font-style="normal" text-anchor="middle" >XX</text>
<text x="845" y="238" font-family="'Liberation Serif', 'Times New Roman', serif" font-size="13" fill="#30d830" font-weight="bold" font-style="normal" text-anchor="middle" >channel</text>
<text x="913.7" y="227" font-family="'Liberation Serif', 'Times New Roman', serif" font-size="13" fill="#e02020" font-weight="bold" font-style="normal" text-anchor="middle" >LL</text>
<text x="913.7" y="242.5" font-family="'Liberation Serif', 'Times New Roman', serif" font-size="13" fill="#e02020" font-weight="bold" font-style="normal" text-anchor="middle" >channel</text>
<text x="960" y="283" font-family="'Liberation Serif', 'Times New Roman', serif" font-size="13" fill="#30d830" font-weight="bold" font-style="normal" text-anchor="middle" >YX</text>
<text x="960" y="298.5" font-family="'Liberation Serif', 'Times New Roman', serif" font-size="13" fill="#30d830" font-weight="bold" font-style="normal" text-anchor="middle" >channel</text>
<text x="821.8" y="376.5" font-family="'Liberation Serif', 'Times New Roman', serif" font-size="13" fill="#111" font-weight="bold" font-style="normal" text-anchor="middle" >PCM</text>
<polygon points="793,420.6 853,420.6 856,441 790,441" fill="#a8a8a8" />
<rect x="790" y="441" width="66" height="7" fill="#d0d0d0" />
<text x="822" y="436" font-family="'Liberation Serif', 'Times New Roman', serif" font-size="12.5" fill="#111" font-weight="bold" font-style="normal" text-anchor="middle" >FPGA</text>
<path d="M 790,435 L 660,435 L 683,364 L 695,364 M 677,378 L 690,378 M 671,393 L 688,393" fill="none" stroke="#d8c040" stroke-width="1.8" />
<text x="689" y="428" font-family="'Liberation Serif', 'Times New Roman', serif" font-size="11" fill="#e0c840" font-weight="bold" font-style="normal" text-anchor="start" textLength="76" lengthAdjust="spacingAndGlyphs" >0011001100 ···</text>
<text x="927" y="417.5" font-family="'Liberation Serif', 'Times New Roman', serif" font-size="12.5" fill="#111" font-weight="bold" font-style="normal" text-anchor="start" textLength="59" lengthAdjust="spacingAndGlyphs" >meta-atom</text>
<polygon points="958,404 1005,370 1005,427" fill="url(#tri)" />
<rect x="1005.9" y="82.6" width="213.2" height="37" stroke="#2a3a50" stroke-width="1.6" stroke-dasharray="7,5" fill="none"/>
<rect x="1005.9" y="119.6" width="213.2" height="68.5" stroke="#2a3a50" stroke-width="1.6" stroke-dasharray="7,5" fill="none"/>
<rect x="1005.9" y="188.1" width="213.2" height="70.8" stroke="#2a3a50" stroke-width="1.6" stroke-dasharray="7,5" fill="none"/>
<rect x="1005.9" y="258.9" width="213.2" height="68.6" stroke="#2a3a50" stroke-width="1.6" stroke-dasharray="7,5" fill="none"/>
<rect x="1005.9" y="327.5" width="213.2" height="69.2" stroke="#2a3a50" stroke-width="1.6" stroke-dasharray="7,5" fill="none"/>
<rect x="1005.9" y="396.7" width="213.2" height="56.3" stroke="#2a3a50" stroke-width="1.6" stroke-dasharray="7,5" fill="none"/>
<text x="1103" y="95.5" font-family="'Liberation Serif', 'Times New Roman', serif" font-size="13" fill="#111" font-weight="bold" font-style="normal" text-anchor="middle" >“0”</text>
<text x="1103" y="113" font-family="'Liberation Serif', 'Times New Roman', serif" font-size="13" fill="#111" font-weight="bold" font-style="normal" text-anchor="middle" textLength="58" lengthAdjust="spacingAndGlyphs" >meta-atom</text>
<text x="1180.6" y="95.5" font-family="'Liberation Serif', 'Times New Roman', serif" font-size="13" fill="#111" font-weight="bold" font-style="normal" text-anchor="middle" >“1”</text>
<text x="1180.6" y="113" font-family="'Liberation Serif', 'Times New Roman', serif" font-size="13" fill="#111" font-weight="bold" font-style="normal" text-anchor="middle" textLength="58" lengthAdjust="spacingAndGlyphs" >meta-atom</text>
<rect x="1074.4" y="126" width="57.6" height="55.6" fill="#9a94f4" />
<path d="M 1089.8,168.2 A 19,19 0 1 1 1116.6,168.2" fill="none" stroke="#f8f020" stroke-width="4.2" />
<line x1="1103.2" y1="135.8" x2="1103.2" y2="175.8" stroke="#f8f020" stroke-width="4" />
<circle cx="1085.3" cy="148.5" r="3" fill="#111"/>
<circle cx="1121.1" cy="148.5" r="3" fill="#1a8ae8"/>
<rect x="1151.7" y="126" width="57.6" height="55.6" fill="#9a94f4" />
<path d="M 1167.1,168.2 A 19,19 0 1 1 1193.9,168.2" fill="none" stroke="#f8f020" stroke-width="4.2" />
<line x1="1180.5" y1="135.8" x2="1180.5" y2="175.8" stroke="#f8f020" stroke-width="4" />
<circle cx="1162.6" cy="148.5" r="3" fill="#f08040"/>
<circle cx="1198.4" cy="148.5" r="3" fill="#1a8ae8"/>
<rect x="1074.4" y="195.8" width="57.6" height="55.4" fill="#9a94f4" />
<path d="M 1089.8,237.9 A 19,19 0 1 1 1116.6,237.9" fill="none" stroke="#f8f020" stroke-width="4.2" />
<line x1="1103.2" y1="205.5" x2="1103.2" y2="245.5" stroke="#f8f020" stroke-width="4" />
<circle cx="1085.3" cy="218.2" r="3" fill="#1a8ae8"/>
<circle cx="1121.1" cy="218.2" r="3" fill="#111"/>
<rect x="1151.7" y="195.8" width="57.6" height="55.4" fill="#9a94f4" />
<path d="M 1167.1,237.9 A 19,19 0 1 1 1193.9,237.9" fill="none" stroke="#f8f020" stroke-width="4.2" />
<line x1="1180.5" y1="205.5" x2="1180.5" y2="245.5" stroke="#f8f020" stroke-width="4" />
<circle cx="1162.6" cy="218.2" r="3" fill="#1a8ae8"/>
<circle cx="1198.4" cy="218.2" r="3" fill="#f08040"/>
<rect x="1074.4" y="264.5" width="57.6" height="55.5" fill="#9a94f4" />
<path d="M 1089.8,306.7 A 19,19 0 1 1 1116.6,306.7" fill="none" stroke="#f8f020" stroke-width="4.2" />
<line x1="1103.2" y1="274.2" x2="1103.2" y2="314.2" stroke="#f8f020" stroke-width="4" />
<circle cx="1085.3" cy="287" r="3" fill="#111"/>
<circle cx="1121.1" cy="287" r="3" fill="#111"/>
<rect x="1151.7" y="264.5" width="57.6" height="55.5" fill="#9a94f4" />
<path d="M 1167.1,306.7 A 19,19 0 1 1 1193.9,306.7" fill="none" stroke="#f8f020" stroke-width="4.2" />
<line x1="1180.5" y1="274.2" x2="1180.5" y2="314.2" stroke="#f8f020" stroke-width="4" />
<circle cx="1162.6" cy="287" r="3" fill="#f08040"/>
<circle cx="1198.4" cy="287" r="3" fill="#f08040"/>
<rect x="1074.4" y="334" width="57.6" height="56" fill="#9a94f4" />
<path d="M 1089.8,376.4 A 19,19 0 1 1 1116.6,376.4" fill="none" stroke="#f8f020" stroke-width="4.2" />
<line x1="1103.2" y1="344" x2="1103.2" y2="384" stroke="#f8f020" stroke-width="4" />
<circle cx="1085.3" cy="356.7" r="3" fill="#111"/>
<circle cx="1121.1" cy="356.7" r="3" fill="#f8e020"/>
<rect x="1151.7" y="334" width="57.6" height="56" fill="#9a94f4" />
<path d="M 1167.1,376.4 A 19,19 0 1 1 1193.9,376.4" fill="none" stroke="#f8f020" stroke-width="4.2" />
<line x1="1180.5" y1="344" x2="1180.5" y2="384" stroke="#f8f020" stroke-width="4" />
<circle cx="1162.6" cy="356.7" r="3" fill="#f8e020"/>
<circle cx="1198.4" cy="356.7" r="3" fill="#111"/>
<text x="1035.3" y="150.1" font-family="'Liberation Serif', 'Times New Roman', serif" font-size="13" fill="#e02030" font-weight="bold" font-style="normal" text-anchor="middle" >LL</text>
<text x="1035.3" y="166.6" font-family="'Liberation Serif', 'Times New Roman', serif" font-size="13" fill="#e02030" font-weight="bold" font-style="normal" text-anchor="middle" >channel</text>
<text x="1035.3" y="219.8" font-family="'Liberation Serif', 'Times New Roman', serif" font-size="13" fill="#e8c020" font-weight="bold" font-style="normal" text-anchor="middle" >RR</text>
<text x="1035.3" y="236.2" font-family="'Liberation Serif', 'Times New Roman', serif" font-size="13" fill="#e8c020" font-weight="bold" font-style="normal" text-anchor="middle" >channel</text>
<text x="1035.3" y="271.8" font-family="'Liberation Serif', 'Times New Roman', serif" font-size="13" fill="#30d830" font-weight="bold" font-style="normal" text-anchor="middle" >XX</text>
<text x="1035.3" y="288.2" font-family="'Liberation Serif', 'Times New Roman', serif" font-size="13" fill="#30d830" font-weight="bold" font-style="normal" text-anchor="middle" >channel</text>
<text x="1035.3" y="304.8" font-family="'Liberation Serif', 'Times New Roman', serif" font-size="13" fill="#e020e0" font-weight="bold" font-style="normal" text-anchor="middle" >YY</text>
<text x="1035.3" y="321.2" font-family="'Liberation Serif', 'Times New Roman', serif" font-size="13" fill="#e020e0" font-weight="bold" font-style="normal" text-anchor="middle" >channel</text>
<text x="1035.3" y="340.8" font-family="'Liberation Serif', 'Times New Roman', serif" font-size="13" fill="#30d830" font-weight="bold" font-style="normal" text-anchor="middle" >YX</text>
<text x="1035.3" y="357.2" font-family="'Liberation Serif', 'Times New Roman', serif" font-size="13" fill="#30d830" font-weight="bold" font-style="normal" text-anchor="middle" >channel</text>
<text x="1035.3" y="373.8" font-family="'Liberation Serif', 'Times New Roman', serif" font-size="13" fill="#e020e0" font-weight="bold" font-style="normal" text-anchor="middle" >XY</text>
<text x="1035.3" y="390.2" font-family="'Liberation Serif', 'Times New Roman', serif" font-size="13" fill="#e020e0" font-weight="bold" font-style="normal" text-anchor="middle" >channel</text>
<text x="1053" y="422" font-family="'Liberation Serif', 'Times New Roman', serif" font-size="13" fill="#111" font-weight="bold" font-style="normal" text-anchor="middle" >States of</text>
<text x="1053" y="438" font-family="'Liberation Serif', 'Times New Roman', serif" font-size="13" fill="#111" font-weight="bold" font-style="normal" text-anchor="middle" textLength="84" lengthAdjust="spacingAndGlyphs" >two PIN diodes</text>
<rect x="1109" y="403" width="20" height="11" fill="#111" />
<text x="1133" y="413.5" font-family="'Liberation Serif', 'Times New Roman', serif" font-size="13" fill="#111" font-weight="bold" font-style="normal" text-anchor="start" >OFF state</text>
<rect x="1109" y="419.3" width="20" height="11" fill="#f08040" />
<text x="1133" y="429.8" font-family="'Liberation Serif', 'Times New Roman', serif" font-size="13" fill="#111" font-weight="bold" font-style="normal" text-anchor="start" >ON state</text>
<rect x="1109" y="435.6" width="20" height="11" fill="#1a78e0" />
<text x="1133" y="446.1" font-family="'Liberation Serif', 'Times New Roman', serif" font-size="13" fill="#111" font-weight="bold" font-style="normal" text-anchor="start" >Any state</text>
<text x="1209" y="24" font-family="'Liberation Serif', 'Times New Roman', serif" font-size="37" fill="#000" font-weight="normal" font-style="normal" text-anchor="start" >(c)</text>
<ellipse cx="1332" cy="117.5" rx="14" ry="37.5" fill="url(#yglow)"/>
<ellipse cx="1360" cy="120" rx="15" ry="35" fill="url(#yglow)"/>
<ellipse cx="1393" cy="120.5" rx="15" ry="32.5" fill="url(#yglow)"/>
<ellipse cx="1422" cy="120" rx="14" ry="30" fill="url(#yglow)"/>
<ellipse cx="1453" cy="119.5" rx="13" ry="27.5" fill="url(#yglow)"/>
<ellipse cx="1480" cy="120" rx="12" ry="25" fill="url(#yglow)"/>
<polygon points="1277,152 1340,227 1340,235 1277,158" fill="#505a6a" />
<polygon points="1340,227 1533,190 1533,197 1340,235" fill="#c8ccd0" />
<polygon points="1340,232 1533,195 1533,197 1340,235" fill="#e8e8e8" />
<path d="M 1357,231.7 L 1363,248.7 L 1411,239.5 L 1405,222.5" fill="none" stroke="#c8c840" stroke-width="2" />
<path d="M 1402,223.1 L 1408,240.1 L 1436,234.7 L 1430,217.7" fill="none" stroke="#c8a880" stroke-width="2" />
<path d="M 1428,218.1 L 1434,235.1 L 1476,227.1 L 1470,210.1" fill="none" stroke="#d02020" stroke-width="2" />
<path d="M 1468,210.5 L 1474,227.5 L 1501,222.3 L 1495,205.3" fill="none" stroke="#a01010" stroke-width="2" />
<path d="M 1493,205.7 L 1499,222.7 L 1521,218.5 L 1515,201.5" fill="none" stroke="#202020" stroke-width="2" />
<line x1="1463.7" y1="124.5" x2="1509.7" y2="117.5" stroke="#40a040" stroke-width="2" />
<line x1="1475.8" y1="135.9" x2="1524.6" y2="128.6" stroke="#30a070" stroke-width="2" />
<line x1="1488" y1="147.4" x2="1539.5" y2="139.7" stroke="#2090a0" stroke-width="2" />
<line x1="1500.2" y1="158.9" x2="1554.4" y2="150.8" stroke="#2070b0" stroke-width="2" />
<line x1="1512.3" y1="170.4" x2="1569.3" y2="161.9" stroke="#3050b0" stroke-width="2" />
<line x1="1524.5" y1="181.9" x2="1584.2" y2="173" stroke="#4040a0" stroke-width="2" />
<polygon points="1277,152 1460,121 1533,190 1340,227" fill="#cdb27a" />
<polygon points="1277,152 1460,121 1533,190 1340,227" fill="url(#sand)" opacity="0.6"/>
<path d="M 1515,117 L 1690,245" fill="none" stroke="#30a050" stroke-width="5" />
<path d="M 1512.3,120.8 L 1686.5,249.5" fill="none" stroke="#2060c0" stroke-width="4" />
<path d="M 1509.8,124.3 L 1683.5,253" fill="none" stroke="#2840a0" stroke-width="3.5" />
<path d="M 1500,210 L 1567,193 L 1651,256" fill="none" stroke="#101010" stroke-width="3.5" stroke-linejoin="round"/>
<path d="M 1500,214 L 1565,197.5 L 1647,259" fill="none" stroke="#d02020" stroke-width="4" stroke-linejoin="round"/>
<path d="M 1500,218 L 1563,202 L 1643,262" fill="none" stroke="#c8c030" stroke-width="3" stroke-linejoin="round"/>
<polygon points="1622,250 1650,257 1646,268 1618,261" fill="#e82020" />
<polygon points="1657,240 1688,247 1684,258 1653,251" fill="#30a040" />
<rect x="1519" y="188" width="35" height="39" fill="#ecd0c0" />
<rect x="1522" y="191" width="2" height="2" fill="#80a860"/>
<rect x="1522" y="197.5" width="2" height="2" fill="#80a860"/>
<rect x="1522" y="204" width="2" height="2" fill="#80a860"/>
<rect x="1522" y="210.5" width="2" height="2" fill="#80a860"/>
<rect x="1522" y="217" width="2" height="2" fill="#80a860"/>
<rect x="1522" y="223.5" width="2" height="2" fill="#80a860"/>
<rect x="1529" y="191" width="2" height="2" fill="#80a860"/>
<rect x="1529" y="197.5" width="2" height="2" fill="#80a860"/>
<rect x="1529" y="204" width="2" height="2" fill="#80a860"/>
<rect x="1529" y="210.5" width="2" height="2" fill="#80a860"/>
<rect x="1529" y="217" width="2" height="2" fill="#80a860"/>
<rect x="1529" y="223.5" width="2" height="2" fill="#80a860"/>
<rect x="1536" y="191" width="2" height="2" fill="#80a860"/>
<rect x="1536" y="197.5" width="2" height="2" fill="#80a860"/>
<rect x="1536" y="204" width="2" height="2" fill="#80a860"/>
<rect x="1536" y="210.5" width="2" height="2" fill="#80a860"/>
<rect x="1536" y="217" width="2" height="2" fill="#80a860"/>
<rect x="1536" y="223.5" width="2" height="2" fill="#80a860"/>
<rect x="1543" y="191" width="2" height="2" fill="#80a860"/>
<rect x="1543" y="197.5" width="2" height="2" fill="#80a860"/>
<rect x="1543" y="204" width="2" height="2" fill="#80a860"/>
<rect x="1543" y="210.5" width="2" height="2" fill="#80a860"/>
<rect x="1543" y="217" width="2" height="2" fill="#80a860"/>
<rect x="1543" y="223.5" width="2" height="2" fill="#80a860"/>
<rect x="1550" y="191" width="2" height="2" fill="#80a860"/>
<rect x="1550" y="197.5" width="2" height="2" fill="#80a860"/>
<rect x="1550" y="204" width="2" height="2" fill="#80a860"/>
<rect x="1550" y="210.5" width="2" height="2" fill="#80a860"/>
<rect x="1550" y="217" width="2" height="2" fill="#80a860"/>
<rect x="1550" y="223.5" width="2" height="2" fill="#80a860"/>
<rect x="1545" y="208" width="24" height="41" fill="#f0b098" />
<rect x="1548" y="211" width="2" height="2" fill="#609040"/>
<rect x="1548" y="217.8" width="2" height="2" fill="#609040"/>
<rect x="1548" y="224.7" width="2" height="2" fill="#609040"/>
<rect x="1548" y="231.5" width="2" height="2" fill="#609040"/>
<rect x="1548" y="238.3" width="2" height="2" fill="#609040"/>
<rect x="1548" y="245.2" width="2" height="2" fill="#609040"/>
<rect x="1552.8" y="211" width="2" height="2" fill="#609040"/>
<rect x="1552.8" y="217.8" width="2" height="2" fill="#609040"/>
<rect x="1552.8" y="224.7" width="2" height="2" fill="#609040"/>
<rect x="1552.8" y="231.5" width="2" height="2" fill="#609040"/>
<rect x="1552.8" y="238.3" width="2" height="2" fill="#609040"/>
<rect x="1552.8" y="245.2" width="2" height="2" fill="#609040"/>
<rect x="1557.6" y="211" width="2" height="2" fill="#609040"/>
<rect x="1557.6" y="217.8" width="2" height="2" fill="#609040"/>
<rect x="1557.6" y="224.7" width="2" height="2" fill="#609040"/>
<rect x="1557.6" y="231.5" width="2" height="2" fill="#609040"/>
<rect x="1557.6" y="238.3" width="2" height="2" fill="#609040"/>
<rect x="1557.6" y="245.2" width="2" height="2" fill="#609040"/>
<rect x="1562.4" y="211" width="2" height="2" fill="#609040"/>
<rect x="1562.4" y="217.8" width="2" height="2" fill="#609040"/>
<rect x="1562.4" y="224.7" width="2" height="2" fill="#609040"/>
<rect x="1562.4" y="231.5" width="2" height="2" fill="#609040"/>
<rect x="1562.4" y="238.3" width="2" height="2" fill="#609040"/>
<rect x="1562.4" y="245.2" width="2" height="2" fill="#609040"/>
<rect x="1567.2" y="211" width="2" height="2" fill="#609040"/>
<rect x="1567.2" y="217.8" width="2" height="2" fill="#609040"/>
<rect x="1567.2" y="224.7" width="2" height="2" fill="#609040"/>
<rect x="1567.2" y="231.5" width="2" height="2" fill="#609040"/>
<rect x="1567.2" y="238.3" width="2" height="2" fill="#609040"/>
<rect x="1567.2" y="245.2" width="2" height="2" fill="#609040"/>
<rect x="1567" y="225" width="38" height="46" fill="#f09060" />
<rect x="1570" y="228" width="2" height="2" fill="#406030"/>
<rect x="1570" y="235.7" width="2" height="2" fill="#406030"/>
<rect x="1570" y="243.3" width="2" height="2" fill="#406030"/>
<rect x="1570" y="251" width="2" height="2" fill="#406030"/>
<rect x="1570" y="258.7" width="2" height="2" fill="#406030"/>
<rect x="1570" y="266.3" width="2" height="2" fill="#406030"/>
<rect x="1577.6" y="228" width="2" height="2" fill="#406030"/>
<rect x="1577.6" y="235.7" width="2" height="2" fill="#406030"/>
<rect x="1577.6" y="243.3" width="2" height="2" fill="#406030"/>
<rect x="1577.6" y="251" width="2" height="2" fill="#406030"/>
<rect x="1577.6" y="258.7" width="2" height="2" fill="#406030"/>
<rect x="1577.6" y="266.3" width="2" height="2" fill="#406030"/>
<rect x="1585.2" y="228" width="2" height="2" fill="#406030"/>
<rect x="1585.2" y="235.7" width="2" height="2" fill="#406030"/>
<rect x="1585.2" y="243.3" width="2" height="2" fill="#406030"/>
<rect x="1585.2" y="251" width="2" height="2" fill="#406030"/>
<rect x="1585.2" y="258.7" width="2" height="2" fill="#406030"/>
<rect x="1585.2" y="266.3" width="2" height="2" fill="#406030"/>
<rect x="1592.8" y="228" width="2" height="2" fill="#406030"/>
<rect x="1592.8" y="235.7" width="2" height="2" fill="#406030"/>
<rect x="1592.8" y="243.3" width="2" height="2" fill="#406030"/>
<rect x="1592.8" y="251" width="2" height="2" fill="#406030"/>
<rect x="1592.8" y="258.7" width="2" height="2" fill="#406030"/>
<rect x="1592.8" y="266.3" width="2" height="2" fill="#406030"/>
<rect x="1600.4" y="228" width="2" height="2" fill="#406030"/>
<rect x="1600.4" y="235.7" width="2" height="2" fill="#406030"/>
<rect x="1600.4" y="243.3" width="2" height="2" fill="#406030"/>
<rect x="1600.4" y="251" width="2" height="2" fill="#406030"/>
<rect x="1600.4" y="258.7" width="2" height="2" fill="#406030"/>
<rect x="1600.4" y="266.3" width="2" height="2" fill="#406030"/>
<rect x="1642" y="160" width="33" height="40" fill="#c0cce0" />
<rect x="1645" y="163" width="2" height="2" fill="#98a8c8"/>
<rect x="1645" y="169.7" width="2" height="2" fill="#98a8c8"/>
<rect x="1645" y="176.3" width="2" height="2" fill="#98a8c8"/>
<rect x="1645" y="183" width="2" height="2" fill="#98a8c8"/>
<rect x="1645" y="189.7" width="2" height="2" fill="#98a8c8"/>
<rect x="1645" y="196.3" width="2" height="2" fill="#98a8c8"/>
<rect x="1651.6" y="163" width="2" height="2" fill="#98a8c8"/>
<rect x="1651.6" y="169.7" width="2" height="2" fill="#98a8c8"/>
<rect x="1651.6" y="176.3" width="2" height="2" fill="#98a8c8"/>
<rect x="1651.6" y="183" width="2" height="2" fill="#98a8c8"/>
<rect x="1651.6" y="189.7" width="2" height="2" fill="#98a8c8"/>
<rect x="1651.6" y="196.3" width="2" height="2" fill="#98a8c8"/>
<rect x="1658.2" y="163" width="2" height="2" fill="#98a8c8"/>
<rect x="1658.2" y="169.7" width="2" height="2" fill="#98a8c8"/>
<rect x="1658.2" y="176.3" width="2" height="2" fill="#98a8c8"/>
<rect x="1658.2" y="183" width="2" height="2" fill="#98a8c8"/>
<rect x="1658.2" y="189.7" width="2" height="2" fill="#98a8c8"/>
<rect x="1658.2" y="196.3" width="2" height="2" fill="#98a8c8"/>
<rect x="1664.8" y="163" width="2" height="2" fill="#98a8c8"/>
<rect x="1664.8" y="169.7" width="2" height="2" fill="#98a8c8"/>
<rect x="1664.8" y="176.3" width="2" height="2" fill="#98a8c8"/>
<rect x="1664.8" y="183" width="2" height="2" fill="#98a8c8"/>
<rect x="1664.8" y="189.7" width="2" height="2" fill="#98a8c8"/>
<rect x="1664.8" y="196.3" width="2" height="2" fill="#98a8c8"/>
<rect x="1671.4" y="163" width="2" height="2" fill="#98a8c8"/>
<rect x="1671.4" y="169.7" width="2" height="2" fill="#98a8c8"/>
<rect x="1671.4" y="176.3" width="2" height="2" fill="#98a8c8"/>
<rect x="1671.4" y="183" width="2" height="2" fill="#98a8c8"/>
<rect x="1671.4" y="189.7" width="2" height="2" fill="#98a8c8"/>
<rect x="1671.4" y="196.3" width="2" height="2" fill="#98a8c8"/>
<rect x="1671" y="184" width="35" height="38" fill="#a8c8e0" />
<rect x="1674" y="187" width="2" height="2" fill="#80a040"/>
<rect x="1674" y="193.3" width="2" height="2" fill="#80a040"/>
<rect x="1674" y="199.7" width="2" height="2" fill="#80a040"/>
<rect x="1674" y="206" width="2" height="2" fill="#80a040"/>
<rect x="1674" y="212.3" width="2" height="2" fill="#80a040"/>
<rect x="1674" y="218.7" width="2" height="2" fill="#80a040"/>
<rect x="1681" y="187" width="2" height="2" fill="#80a040"/>
<rect x="1681" y="193.3" width="2" height="2" fill="#80a040"/>
<rect x="1681" y="199.7" width="2" height="2" fill="#80a040"/>
<rect x="1681" y="206" width="2" height="2" fill="#80a040"/>
<rect x="1681" y="212.3" width="2" height="2" fill="#80a040"/>
<rect x="1681" y="218.7" width="2" height="2" fill="#80a040"/>
<rect x="1688" y="187" width="2" height="2" fill="#80a040"/>
<rect x="1688" y="193.3" width="2" height="2" fill="#80a040"/>
<rect x="1688" y="199.7" width="2" height="2" fill="#80a040"/>
<rect x="1688" y="206" width="2" height="2" fill="#80a040"/>
<rect x="1688" y="212.3" width="2" height="2" fill="#80a040"/>
<rect x="1688" y="218.7" width="2" height="2" fill="#80a040"/>
<rect x="1695" y="187" width="2" height="2" fill="#80a040"/>
<rect x="1695" y="193.3" width="2" height="2" fill="#80a040"/>
<rect x="1695" y="199.7" width="2" height="2" fill="#80a040"/>
<rect x="1695" y="206" width="2" height="2" fill="#80a040"/>
<rect x="1695" y="212.3" width="2" height="2" fill="#80a040"/>
<rect x="1695" y="218.7" width="2" height="2" fill="#80a040"/>
<rect x="1702" y="187" width="2" height="2" fill="#80a040"/>
<rect x="1702" y="193.3" width="2" height="2" fill="#80a040"/>
<rect x="1702" y="199.7" width="2" height="2" fill="#80a040"/>
<rect x="1702" y="206" width="2" height="2" fill="#80a040"/>
<rect x="1702" y="212.3" width="2" height="2" fill="#80a040"/>
<rect x="1702" y="218.7" width="2" height="2" fill="#80a040"/>
<rect x="1698" y="197" width="35" height="43" fill="#78a8e0" />
<rect x="1701" y="200" width="2" height="2" fill="#406030"/>
<rect x="1701" y="207.2" width="2" height="2" fill="#406030"/>
<rect x="1701" y="214.3" width="2" height="2" fill="#406030"/>
<rect x="1701" y="221.5" width="2" height="2" fill="#406030"/>
<rect x="1701" y="228.7" width="2" height="2" fill="#406030"/>
<rect x="1701" y="235.8" width="2" height="2" fill="#406030"/>
<rect x="1708" y="200" width="2" height="2" fill="#406030"/>
<rect x="1708" y="207.2" width="2" height="2" fill="#406030"/>
<rect x="1708" y="214.3" width="2" height="2" fill="#406030"/>
<rect x="1708" y="221.5" width="2" height="2" fill="#406030"/>
<rect x="1708" y="228.7" width="2" height="2" fill="#406030"/>
<rect x="1708" y="235.8" width="2" height="2" fill="#406030"/>
<rect x="1715" y="200" width="2" height="2" fill="#406030"/>
<rect x="1715" y="207.2" width="2" height="2" fill="#406030"/>
<rect x="1715" y="214.3" width="2" height="2" fill="#406030"/>
<rect x="1715" y="221.5" width="2" height="2" fill="#406030"/>
<rect x="1715" y="228.7" width="2" height="2" fill="#406030"/>
<rect x="1715" y="235.8" width="2" height="2" fill="#406030"/>
<rect x="1722" y="200" width="2" height="2" fill="#406030"/>
<rect x="1722" y="207.2" width="2" height="2" fill="#406030"/>
<rect x="1722" y="214.3" width="2" height="2" fill="#406030"/>
<rect x="1722" y="221.5" width="2" height="2" fill="#406030"/>
<rect x="1722" y="228.7" width="2" height="2" fill="#406030"/>
<rect x="1722" y="235.8" width="2" height="2" fill="#406030"/>
<rect x="1729" y="200" width="2" height="2" fill="#406030"/>
<rect x="1729" y="207.2" width="2" height="2" fill="#406030"/>
<rect x="1729" y="214.3" width="2" height="2" fill="#406030"/>
<rect x="1729" y="221.5" width="2" height="2" fill="#406030"/>
<rect x="1729" y="228.7" width="2" height="2" fill="#406030"/>
<rect x="1729" y="235.8" width="2" height="2" fill="#406030"/>
<g transform="translate(1672 262) rotate(-17)"><rect x="-58" y="-14" width="116" height="28" fill="#fff" stroke="#aaa" stroke-width="1"/><text x="0" y="-2" font-family="'Liberation Sans', Arial, sans-serif" font-size="10" font-weight="bold" text-anchor="middle" fill="#222">Multi-channel DC</text><text x="0" y="10" font-family="'Liberation Sans', Arial, sans-serif" font-size="10" font-weight="bold" text-anchor="middle" fill="#222">voltage output</text></g>
<path d="M 0,0 C 18,-12.6 52.5,-10.8 51.4,0 C 52.5,10.8 18,12.6 0,0 Z" fill="url(#lb1)" opacity="0.8" transform="translate(1336 151) rotate(-153.4)" gradientTransform=""/>
<path d="M 0,0 C 19.6,-9.8 57,-8.4 55.9,0 C 57,8.4 19.6,9.8 0,0 Z" fill="url(#lb2)" opacity="0.9" transform="translate(1330 151) rotate(-44.3)" gradientTransform=""/>
<path d="M 0,0 C 20.4,-9.1 59.4,-7.8 58.2,0 C 59.4,7.8 20.4,9.1 0,0 Z" fill="url(#lb3)" opacity="1" transform="translate(1344 181) rotate(-124.5)" gradientTransform=""/>
<path d="M 0,0 C 24.3,-9.1 70.9,-7.8 69.5,0 C 70.9,7.8 24.3,9.1 0,0 Z" fill="url(#lb4)" opacity="1" transform="translate(1344 181) rotate(-59.7)" gradientTransform=""/>
<path d="M 0,0 C 20.4,-9.1 59.4,-7.8 58.2,0 C 59.4,7.8 20.4,9.1 0,0 Z" fill="url(#lb5)" opacity="1" transform="translate(1366 210) rotate(-109.1)" gradientTransform=""/>
<path d="M 0,0 C 23.5,-9.8 68.4,-8.4 67.1,0 C 68.4,8.4 23.5,9.8 0,0 Z" fill="url(#lb6)" opacity="1" transform="translate(1366 210) rotate(-72.6)" gradientTransform=""/>
<path d="M 0,0 C 19.3,-7 56.1,-6 55,0 C 56.1,6 19.3,7 0,0 Z" fill="url(#lb7)" opacity="0.9" transform="translate(1420 136) rotate(-91)" gradientTransform=""/>
<path d="M 0,0 C 24.1,-9.1 70.3,-7.8 68.9,0 C 70.3,7.8 24.1,9.1 0,0 Z" fill="url(#lb8)" opacity="1" transform="translate(1449 164) rotate(-103.4)" gradientTransform=""/>
<path d="M 0,0 C 15.7,-8.4 45.8,-7.2 44.9,0 C 45.8,7.2 15.7,8.4 0,0 Z" fill="url(#lb9)" opacity="1" transform="translate(1449 164) rotate(-69.1)" gradientTransform=""/>
<path d="M 0,0 C 7.6,-5.6 22,-4.8 21.6,0 C 22,4.8 7.6,5.6 0,0 Z" fill="url(#lbb0)" opacity="1" transform="translate(1483 192) rotate(-159.9)" gradientTransform=""/>
<path d="M 0,0 C 8.4,-5.6 24.3,-4.8 23.9,0 C 24.3,4.8 8.4,5.6 0,0 Z" fill="url(#lbb1)" opacity="1" transform="translate(1483 192) rotate(-145.8)" gradientTransform=""/>
<path d="M 0,0 C 9.1,-5.6 26.6,-4.8 26.1,0 C 26.6,4.8 9.1,5.6 0,0 Z" fill="url(#lbb2)" opacity="1" transform="translate(1483 192) rotate(-131.9)" gradientTransform=""/>
<path d="M 0,0 C 9.9,-5.6 28.7,-4.8 28.1,0 C 28.7,4.8 9.9,5.6 0,0 Z" fill="url(#lbb3)" opacity="1" transform="translate(1483 192) rotate(-118)" gradientTransform=""/>
<path d="M 0,0 C 10.5,-5.6 30.7,-4.8 30.1,0 C 30.7,4.8 10.5,5.6 0,0 Z" fill="url(#lbb4)" opacity="1" transform="translate(1483 192) rotate(-104)" gradientTransform=""/>
<path d="M 0,0 C 11.2,-5.6 32.6,-4.8 32,0 C 32.6,4.8 11.2,5.6 0,0 Z" fill="url(#lbb5)" opacity="1" transform="translate(1483 192) rotate(-90)" gradientTransform=""/>
<path d="M 0,0 C 10.5,-5.6 30.7,-4.8 30.1,0 C 30.7,4.8 10.5,5.6 0,0 Z" fill="url(#lbb6)" opacity="1" transform="translate(1483 192) rotate(-76)" gradientTransform=""/>
<path d="M 0,0 C 9.9,-5.6 28.7,-4.8 28.1,0 C 28.7,4.8 9.9,5.6 0,0 Z" fill="url(#lbb7)" opacity="1" transform="translate(1483 192) rotate(-62)" gradientTransform=""/>
<path d="M 0,0 C 9.1,-5.6 26.6,-4.8 26.1,0 C 26.6,4.8 9.1,5.6 0,0 Z" fill="url(#lbb8)" opacity="1" transform="translate(1483 192) rotate(-48.1)" gradientTransform=""/>
<path d="M 0,0 C 8.4,-5.6 24.3,-4.8 23.9,0 C 24.3,4.8 8.4,5.6 0,0 Z" fill="url(#lbb9)" opacity="1" transform="translate(1483 192) rotate(-34.2)" gradientTransform=""/>
<path d="M 0,0 C 7.6,-5.6 22,-4.8 21.6,0 C 22,4.8 7.6,5.6 0,0 Z" fill="url(#lbb10)" opacity="1" transform="translate(1483 192) rotate(-20.1)" gradientTransform=""/>
<path d="M 1346,47 L 1352,55 L 1343,62 L 1350,70 L 1343,77 L 1349,88" fill="none" stroke="#f03010" stroke-width="3" />
<path d="M 1449,50 L 1449,56 L 1455,60 L 1444,64 L 1455,69 L 1444,73 L 1449,78 L 1449,84" fill="none" stroke="#309030" stroke-width="2.2" />
<line x1="1446" y1="41" x2="1456" y2="41" stroke="#309030" stroke-width="2" />
<polygon points="1460,41 1455,43.5 1455,38.5" fill="#309030" />
<polygon points="1442,41 1447,38.5 1447,43.5" fill="#309030" />
<line x1="1449" y1="41" x2="1449" y2="50" stroke="#309030" stroke-width="2" />
<text x="1289" y="68" font-family="'Liberation Sans', Arial, sans-serif" font-size="12.5" fill="#222" font-weight="bold" font-style="italic" text-anchor="start" textLength="42" lengthAdjust="spacingAndGlyphs" >x-polar.</text>
<text x="1392.5" y="59" font-family="'Liberation Sans', Arial, sans-serif" font-size="12.5" fill="#222" font-weight="bold" font-style="italic" text-anchor="start" textLength="41" lengthAdjust="spacingAndGlyphs" >y-polar.</text>
<text x="1286" y="162" font-family="'Liberation Sans', Arial, sans-serif" font-size="14" fill="#222" font-weight="bold" font-style="italic" text-anchor="start" >t</text>
<text x="1291" y="165" font-family="'Liberation Sans', Arial, sans-serif" font-size="8" fill="#222" font-weight="normal" font-style="normal" text-anchor="start" >1</text>
<text x="1310" y="191" font-family="'Liberation Sans', Arial, sans-serif" font-size="14" fill="#222" font-weight="bold" font-style="italic" text-anchor="start" >t</text>
<text x="1315" y="194" font-family="'Liberation Sans', Arial, sans-serif" font-size="8" fill="#222" font-weight="normal" font-style="normal" text-anchor="start" >2</text>
<text x="1335" y="222" font-family="'Liberation Sans', Arial, sans-serif" font-size="14" fill="#222" font-weight="bold" font-style="italic" text-anchor="start" >t</text>
<text x="1340" y="225" font-family="'Liberation Sans', Arial, sans-serif" font-size="8" fill="#222" font-weight="normal" font-style="normal" text-anchor="start" >3</text>
<text x="1400" y="142" font-family="'Liberation Sans', Arial, sans-serif" font-size="14" fill="#222" font-weight="bold" font-style="italic" text-anchor="start" >t</text>
<text x="1405" y="145" font-family="'Liberation Sans', Arial, sans-serif" font-size="8" fill="#222" font-weight="normal" font-style="normal" text-anchor="start" >1</text>
<text x="1424" y="170" font-family="'Liberation Sans', Arial, sans-serif" font-size="14" fill="#222" font-weight="bold" font-style="italic" text-anchor="start" >t</text>
<text x="1429" y="173" font-family="'Liberation Sans', Arial, sans-serif" font-size="8" fill="#222" font-weight="normal" font-style="normal" text-anchor="start" >2</text>
<text x="1453" y="198" font-family="'Liberation Sans', Arial, sans-serif" font-size="14" fill="#222" font-weight="bold" font-style="italic" text-anchor="start" >t</text>
<text x="1458" y="201" font-family="'Liberation Sans', Arial, sans-serif" font-size="8" fill="#222" font-weight="normal" font-style="normal" text-anchor="start" >3</text>
<line x1="1345" y1="275" x2="1342.4" y2="247.8" stroke="#111" stroke-width="1.6" />
<polygon points="1342,243 1345,248.7 1340.1,249.2" fill="#111" />
<line x1="1345" y1="275" x2="1331" y2="257.7" stroke="#111" stroke-width="1.6" />
<polygon points="1328,254 1333.7,257.1 1329.8,260.2" fill="#111" />
<line x1="1345" y1="275" x2="1323.6" y2="281.6" stroke="#111" stroke-width="1.6" />
<polygon points="1319,283 1324,278.8 1325.5,283.6" fill="#111" />
<text x="1346" y="253" font-family="'Liberation Sans', Arial, sans-serif" font-size="13" fill="#222" font-weight="normal" font-style="italic" text-anchor="start" >z</text>
<text x="1315" y="266" font-family="'Liberation Sans', Arial, sans-serif" font-size="13" fill="#222" font-weight="normal" font-style="italic" text-anchor="start" >x</text>
<text x="1327" y="300" font-family="'Liberation Sans', Arial, sans-serif" font-size="13" fill="#222" font-weight="normal" font-style="italic" text-anchor="start" >y</text>
<text x="1409" y="268" font-family="'Liberation Sans', Arial, sans-serif" font-size="12" fill="#333" font-weight="normal" font-style="normal" text-anchor="start" textLength="45" lengthAdjust="spacingAndGlyphs" >Bias line</text>
<line x1="1398" y1="258" x2="1387" y2="246" stroke="#222" stroke-width="1" />
<text x="1472" y="285" font-family="'Liberation Sans', Arial, sans-serif" font-size="12" fill="#333" font-weight="normal" font-style="normal" text-anchor="start" textLength="79" lengthAdjust="spacingAndGlyphs" >Coding Pattern</text>
<line x1="1519" y1="270" x2="1545" y2="256" stroke="#222" stroke-width="1" />
<text x="1410" y="250" font-family="'Liberation Sans', Arial, sans-serif" font-size="8" fill="#333" font-weight="bold" font-style="normal" text-anchor="start" textLength="75" lengthAdjust="spacingAndGlyphs" transform="rotate(-12 1410 250)">x-polar. channel</text>
<text x="1552" y="134" font-family="'Liberation Sans', Arial, sans-serif" font-size="8" fill="#333" font-weight="bold" font-style="normal" text-anchor="start" textLength="72" lengthAdjust="spacingAndGlyphs" transform="rotate(36 1552 134)">y-polar. channel</text>
<text x="1515" y="241" font-family="'Liberation Sans', Arial, sans-serif" font-size="10" fill="#222" font-weight="normal" font-style="italic" text-anchor="start" >t</text>
<text x="1519" y="243" font-family="'Liberation Sans', Arial, sans-serif" font-size="6" fill="#222" font-weight="normal" font-style="normal" text-anchor="start" >1</text>
<text x="1532" y="258" font-family="'Liberation Sans', Arial, sans-serif" font-size="10" fill="#222" font-weight="normal" font-style="italic" text-anchor="start" >t</text>
<text x="1536" y="260" font-family="'Liberation Sans', Arial, sans-serif" font-size="6" fill="#222" font-weight="normal" font-style="normal" text-anchor="start" >2</text>
<text x="1557" y="277" font-family="'Liberation Sans', Arial, sans-serif" font-size="10" fill="#222" font-weight="normal" font-style="italic" text-anchor="start" >t</text>
<text x="1561" y="279" font-family="'Liberation Sans', Arial, sans-serif" font-size="6" fill="#222" font-weight="normal" font-style="normal" text-anchor="start" >3</text>
<text x="1624" y="205" font-family="'Liberation Sans', Arial, sans-serif" font-size="10" fill="#222" font-weight="normal" font-style="italic" text-anchor="start" >t</text>
<text x="1628" y="207" font-family="'Liberation Sans', Arial, sans-serif" font-size="6" fill="#222" font-weight="normal" font-style="normal" text-anchor="start" >1</text>
<text x="1654" y="225" font-family="'Liberation Sans', Arial, sans-serif" font-size="10" fill="#222" font-weight="normal" font-style="italic" text-anchor="start" >t</text>
<text x="1658" y="227" font-family="'Liberation Sans', Arial, sans-serif" font-size="6" fill="#222" font-weight="normal" font-style="normal" text-anchor="start" >2</text>
<text x="1684" y="244" font-family="'Liberation Sans', Arial, sans-serif" font-size="10" fill="#222" font-weight="normal" font-style="italic" text-anchor="start" >t</text>
<text x="1688" y="246" font-family="'Liberation Sans', Arial, sans-serif" font-size="6" fill="#222" font-weight="normal" font-style="normal" text-anchor="start" >3</text>
<polygon points="1554,65 1607,108 1607,124 1554,80" fill="#606868" />
<polygon points="1607,108 1703,78 1703,93 1607,124" fill="#d8dadc" />
<polygon points="1554,65 1630,50 1703,78 1607,108" fill="#c8a86a" />
<path d="M 1596,72 L 1630,67 L 1648,82 L 1614,88 Z M 1554,65 L 1596,72 M 1630,50 L 1630,67 M 1703,78 L 1648,82 M 1607,108 L 1614,88" fill="none" stroke="#f0f0e8" stroke-width="1.3" />
<rect x="1610" y="68.5" width="4" height="3" fill="#334" />
<rect x="1626" y="66.5" width="4" height="3" fill="#334" />
<rect x="1602" y="78.5" width="4" height="3" fill="#334" />
<rect x="1620" y="82.5" width="4" height="3" fill="#334" />
<rect x="1638" y="75.5" width="4" height="3" fill="#334" />
<line x1="1579" y1="77.9" x2="1589" y2="74.1" stroke="#111" stroke-width="1.2" />
<polygon points="1592,73 1589,76.3 1587.6,72.5" fill="#111" />
<polygon points="1576,79 1579,75.7 1580.4,79.5" fill="#111" />
<line x1="1628.3" y1="66.3" x2="1639.7" y2="77.7" stroke="#111" stroke-width="1.2" />
<polygon points="1642,80 1637.8,78.6 1640.6,75.8" fill="#111" />
<polygon points="1626,64 1630.2,65.4 1627.4,68.2" fill="#111" />
<line x1="1623.1" y1="103" x2="1693.9" y2="81" stroke="#111" stroke-width="1" />
<polygon points="1697,80 1693.8,83.1 1692.6,79.3" fill="#111" />
<polygon points="1620,104 1623.2,100.9 1624.4,104.7" fill="#111" />
<line x1="1615.1" y1="125.1" x2="1701.9" y2="98.9" stroke="#111" stroke-width="1" />
<polygon points="1705,98 1701.7,101.1 1700.6,97.2" fill="#111" />
<polygon points="1612,126 1615.3,122.9 1616.4,126.8" fill="#111" />
<line x1="1708" y1="82.4" x2="1708" y2="90.6" stroke="#111" stroke-width="1" />
<polygon points="1708,93 1706.5,90 1709.5,90" fill="#111" />
<polygon points="1708,80 1709.5,83 1706.5,83" fill="#111" />
<text x="1570" y="75" font-family="'Liberation Sans', Arial, sans-serif" font-size="13" fill="#222" font-weight="normal" font-style="italic" text-anchor="start" >b</text>
<text x="1631" y="63" font-family="'Liberation Sans', Arial, sans-serif" font-size="13" fill="#222" font-weight="normal" font-style="italic" text-anchor="start" >w</text>
<text x="1651" y="101" font-family="'Liberation Sans', Arial, sans-serif" font-size="13" fill="#222" font-weight="normal" font-style="italic" text-anchor="start" >a</text>
<text x="1658" y="123" font-family="'Liberation Sans', Arial, sans-serif" font-size="13" fill="#222" font-weight="normal" font-style="italic" text-anchor="start" >p</text>
<text x="1711" y="91" font-family="'Liberation Sans', Arial, sans-serif" font-size="13" fill="#222" font-weight="normal" font-style="italic" text-anchor="start" >h</text>
<rect x="1662" y="134.5" width="7" height="4" fill="#111" />
<text x="1679.6" y="141" font-family="'Liberation Sans', Arial, sans-serif" font-size="12.5" fill="#333" font-weight="normal" font-style="normal" text-anchor="start" textLength="48" lengthAdjust="spacingAndGlyphs" >Varactor</text>
<rect x="1316" y="323.8" width="187.5" height="139.6" fill="#fff" stroke="#333" stroke-width="1.2"/>
<line x1="1316" y1="463.4" x2="1316" y2="460.4" stroke="#333" stroke-width="1" />
<line x1="1316" y1="323.8" x2="1316" y2="326.8" stroke="#333" stroke-width="1" />
<text x="1316" y="476.9" font-family="'Liberation Sans', Arial, sans-serif" font-size="11.5" fill="#333" font-weight="normal" font-style="normal" text-anchor="middle" >3.5</text>
<line x1="1362.9" y1="463.4" x2="1362.9" y2="460.4" stroke="#333" stroke-width="1" />
<line x1="1362.9" y1="323.8" x2="1362.9" y2="326.8" stroke="#333" stroke-width="1" />
<text x="1362.9" y="476.9" font-family="'Liberation Sans', Arial, sans-serif" font-size="11.5" fill="#333" font-weight="normal" font-style="normal" text-anchor="middle" >3.6</text>
<line x1="1409.8" y1="463.4" x2="1409.8" y2="460.4" stroke="#333" stroke-width="1" />
<line x1="1409.8" y1="323.8" x2="1409.8" y2="326.8" stroke="#333" stroke-width="1" />
<text x="1409.8" y="476.9" font-family="'Liberation Sans', Arial, sans-serif" font-size="11.5" fill="#333" font-weight="normal" font-style="normal" text-anchor="middle" >3.7</text>
<line x1="1456.6" y1="463.4" x2="1456.6" y2="460.4" stroke="#333" stroke-width="1" />
<line x1="1456.6" y1="323.8" x2="1456.6" y2="326.8" stroke="#333" stroke-width="1" />
<text x="1456.6" y="476.9" font-family="'Liberation Sans', Arial, sans-serif" font-size="11.5" fill="#333" font-weight="normal" font-style="normal" text-anchor="middle" >3.8</text>
<line x1="1503.5" y1="463.4" x2="1503.5" y2="460.4" stroke="#333" stroke-width="1" />
<line x1="1503.5" y1="323.8" x2="1503.5" y2="326.8" stroke="#333" stroke-width="1" />
<text x="1503.5" y="476.9" font-family="'Liberation Sans', Arial, sans-serif" font-size="11.5" fill="#333" font-weight="normal" font-style="normal" text-anchor="middle" >3.9</text>
<line x1="1316" y1="341.2" x2="1319" y2="341.2" stroke="#333" stroke-width="1" />
<line x1="1503.5" y1="341.2" x2="1500.5" y2="341.2" stroke="#333" stroke-width="1" />
<text x="1312" y="345.2" font-family="'Liberation Sans', Arial, sans-serif" font-size="11.5" fill="#333" font-weight="normal" font-style="normal" text-anchor="end" >180</text>
<line x1="1316" y1="376.1" x2="1319" y2="376.1" stroke="#333" stroke-width="1" />
<line x1="1503.5" y1="376.1" x2="1500.5" y2="376.1" stroke="#333" stroke-width="1" />
<text x="1312" y="380.1" font-family="'Liberation Sans', Arial, sans-serif" font-size="11.5" fill="#333" font-weight="normal" font-style="normal" text-anchor="end" >0</text>
<line x1="1316" y1="411.1" x2="1319" y2="411.1" stroke="#333" stroke-width="1" />
<line x1="1503.5" y1="411.1" x2="1500.5" y2="411.1" stroke="#333" stroke-width="1" />
<text x="1312" y="415.1" font-family="'Liberation Sans', Arial, sans-serif" font-size="11.5" fill="#333" font-weight="normal" font-style="normal" text-anchor="end" >-180</text>
<line x1="1316" y1="445.9" x2="1319" y2="445.9" stroke="#333" stroke-width="1" />
<line x1="1503.5" y1="445.9" x2="1500.5" y2="445.9" stroke="#333" stroke-width="1" />
<text x="1312" y="449.9" font-family="'Liberation Sans', Arial, sans-serif" font-size="11.5" fill="#333" font-weight="normal" font-style="normal" text-anchor="end" >-360</text>
<text x="1409.8" y="490.9" font-family="'Liberation Sans', Arial, sans-serif" font-size="13" fill="#333" font-weight="normal" font-style="normal" text-anchor="middle" textLength="98" lengthAdjust="spacingAndGlyphs" >Frequency (GHz)</text>
<text x="1279.3" y="393.6" font-family="'Liberation Sans', Arial, sans-serif" font-size="13" fill="#333" font-weight="normal" font-style="normal" text-anchor="middle" transform="rotate(-90 1279.3 393.6)">Phase (degree)</text>
<path d="M 1316,375.2 L 1317.4,375 L 1319.2,374.8 L 1321.3,374.6 L 1323.7,374.4 L 1326.3,374.1 L 1328.9,373.8 L 1331.7,373.5 L 1334.4,373.1 L 1337,372.7 L 1339.4,372.3 L 1341.8,371.8 L 1344.1,371.4 L 1346.5,371 L 1348.8,370.6 L 1351.2,370.1 L 1353.5,369.6 L 1355.8,368.9 L 1358.2,368.2 L 1360.5,367.4 L 1362.9,366.5 L 1365.2,365.3 L 1367.6,364 L 1369.9,362.6 L 1372.2,361.1 L 1374.6,359.5 L 1376.9,357.8 L 1379.3,356.2 L 1381.6,354.7 L 1384,353.2 L 1386.3,351.9 L 1388.7,350.6 L 1391,349.3 L 1393.3,348 L 1395.7,346.7 L 1398,345.5 L 1400.4,344.3 L 1402.7,343.4 L 1405.1,342.6 L 1407.4,342 L 1409.8,341.6 L 1412.1,341.6 L 1414.4,341.8 L 1416.8,342.2 L 1419.1,342.7 L 1421.5,343.5 L 1423.8,344.3 L 1426.2,345.2 L 1428.5,346.2 L 1430.8,347.1 L 1433.2,348 L 1435.5,349 L 1437.9,350.1 L 1440.2,351.3 L 1442.6,352.5 L 1444.9,353.8 L 1447.2,355 L 1449.6,356.3 L 1451.9,357.5 L 1454.3,358.6 L 1456.6,359.7 L 1459,360.6 L 1461.3,361.5 L 1463.7,362.4 L 1466,363.2 L 1468.3,364 L 1470.7,364.8 L 1473,365.5 L 1475.4,366.2 L 1477.7,366.8 L 1480.1,367.4 L 1482.5,368 L 1485.1,368.5 L 1487.8,369 L 1490.6,369.4 L 1493.2,369.8 L 1495.8,370.2 L 1498.2,370.5 L 1500.3,370.8 L 1502.1,371.1 L 1503.5,371.3" fill="none" stroke="#999" stroke-width="1.3" />
<path d="M 1316,351.9 L 1317.4,352.2 L 1319.2,352.5 L 1321.3,352.9 L 1323.7,353.3 L 1326.3,353.8 L 1328.9,354.3 L 1331.7,354.9 L 1334.4,355.5 L 1337,356.1 L 1339.4,356.8 L 1341.8,357.4 L 1344.1,358.1 L 1346.5,358.8 L 1348.8,359.5 L 1351.2,360.3 L 1353.5,361.1 L 1355.8,362 L 1358.2,363.1 L 1360.5,364.2 L 1362.9,365.5 L 1365.2,366.9 L 1367.6,368.6 L 1369.9,370.3 L 1372.2,372.2 L 1374.6,374.2 L 1376.9,376.1 L 1379.3,378.1 L 1381.6,380.1 L 1384,382.1 L 1386.3,383.9 L 1388.7,385.7 L 1391,387.6 L 1393.3,389.5 L 1395.7,391.5 L 1398,393.4 L 1400.4,395.2 L 1402.7,396.9 L 1405.1,398.6 L 1407.4,400 L 1409.8,401.4 L 1412.1,402.5 L 1414.4,403.4 L 1416.8,404.3 L 1419.1,405 L 1421.5,405.6 L 1423.8,406.1 L 1426.2,406.7 L 1428.5,407.1 L 1430.8,407.6 L 1433.2,408.1 L 1435.5,408.7 L 1437.9,409.1 L 1440.2,409.6 L 1442.6,410 L 1444.9,410.4 L 1447.2,410.7 L 1449.6,411.1 L 1451.9,411.4 L 1454.3,411.7 L 1456.6,412 L 1459,412.3 L 1461.3,412.6 L 1463.7,412.9 L 1466,413.1 L 1468.3,413.3 L 1470.7,413.5 L 1473,413.8 L 1475.4,414 L 1477.7,414.2 L 1480.1,414.3 L 1482.5,414.5 L 1485.1,414.7 L 1487.8,414.9 L 1490.6,415.1 L 1493.2,415.3 L 1495.8,415.4 L 1498.2,415.6 L 1500.3,415.7 L 1502.1,415.8 L 1503.5,415.9" fill="none" stroke="#3040c0" stroke-width="1.6" stroke-dasharray="6,2,1.5,2"/>
<path d="M 1316,351.9 L 1317.4,352.2 L 1319.2,352.5 L 1321.3,352.9 L 1323.7,353.3 L 1326.3,353.8 L 1328.9,354.3 L 1331.7,354.9 L 1334.4,355.5 L 1337,356.1 L 1339.4,356.8 L 1341.8,357.4 L 1344.1,358.1 L 1346.5,358.8 L 1348.8,359.5 L 1351.2,360.3 L 1353.5,361.1 L 1355.8,362 L 1358.2,363.1 L 1360.5,364.2 L 1362.9,365.5 L 1365.2,366.9 L 1367.6,368.6 L 1369.9,370.3 L 1372.2,372.2 L 1374.6,374.2 L 1376.9,376.1 L 1379.3,378.1 L 1381.6,380.1 L 1384,382.1 L 1386.3,383.9 L 1388.7,385.7 L 1391,387.6 L 1393.3,389.5 L 1395.7,391.5 L 1398,393.4 L 1400.4,395.2 L 1402.7,396.9 L 1405.1,398.6 L 1407.4,400 L 1409.8,401.4 L 1412.1,402.5 L 1414.4,403.4 L 1416.8,404.3 L 1419.1,405 L 1421.5,405.6 L 1423.8,406.1 L 1426.2,406.7 L 1428.5,407.1 L 1430.8,407.6 L 1433.2,408.1 L 1435.5,408.7 L 1437.9,409.1 L 1440.2,409.6 L 1442.6,410 L 1444.9,410.4 L 1447.2,410.7 L 1449.6,411.1 L 1451.9,411.4 L 1454.3,411.7 L 1456.6,412 L 1459,412.3 L 1461.3,412.6 L 1463.7,412.9 L 1466,413.1 L 1468.3,413.3 L 1470.7,413.5 L 1473,413.8 L 1475.4,414 L 1477.7,414.2 L 1480.1,414.3 L 1482.5,414.5 L 1485.1,414.7 L 1487.8,414.9 L 1490.6,415.1 L 1493.2,415.3 L 1495.8,415.4 L 1498.2,415.6 L 1500.3,415.7 L 1502.1,415.8 L 1503.5,415.9" fill="none" stroke="#c050c0" stroke-width="1.3" stroke-dasharray="3,2"/>
<path d="M 1316,350.9 L 1317.4,351.1 L 1319.2,351.2 L 1321.3,351.4 L 1323.7,351.5 L 1326.3,351.7 L 1328.9,351.9 L 1331.7,352.2 L 1334.4,352.4 L 1337,352.6 L 1339.4,352.9 L 1341.8,353.1 L 1344.1,353.4 L 1346.5,353.7 L 1348.8,353.9 L 1351.2,354.2 L 1353.5,354.5 L 1355.8,354.8 L 1358.2,355.1 L 1360.5,355.5 L 1362.9,355.8 L 1365.2,356.1 L 1367.6,356.5 L 1369.9,356.8 L 1372.2,357.1 L 1374.6,357.5 L 1376.9,357.9 L 1379.3,358.3 L 1381.6,358.7 L 1384,359.2 L 1386.3,359.7 L 1388.7,360.2 L 1391,360.7 L 1393.3,361.3 L 1395.7,361.8 L 1398,362.5 L 1400.4,363.1 L 1402.7,363.8 L 1405.1,364.6 L 1407.4,365.5 L 1409.8,366.5 L 1412.1,367.5 L 1414.4,368.7 L 1416.8,370 L 1419.1,371.3 L 1421.5,372.7 L 1423.8,374.1 L 1426.2,375.6 L 1428.5,377.1 L 1430.8,378.6 L 1433.2,380 L 1435.5,381.5 L 1437.9,383.1 L 1440.2,384.8 L 1442.6,386.4 L 1444.9,388.1 L 1447.2,389.7 L 1449.6,391.3 L 1451.9,392.8 L 1454.3,394.3 L 1456.6,395.5 L 1459,396.7 L 1461.3,397.8 L 1463.7,398.8 L 1466,399.7 L 1468.3,400.5 L 1470.7,401.4 L 1473,402.1 L 1475.4,402.9 L 1477.7,403.6 L 1480.1,404.3 L 1482.5,405 L 1485.1,405.6 L 1487.8,406.3 L 1490.6,406.9 L 1493.2,407.4 L 1495.8,407.9 L 1498.2,408.4 L 1500.3,408.8 L 1502.1,409.2 L 1503.5,409.5" fill="none" stroke="#111" stroke-width="1.8" stroke-dasharray="6,3"/>
<path d="M 1316,350.9 L 1317.4,351.1 L 1319.2,351.2 L 1321.3,351.4 L 1323.7,351.5 L 1326.3,351.7 L 1328.9,351.9 L 1331.7,352.2 L 1334.4,352.4 L 1337,352.6 L 1339.4,352.9 L 1341.8,353.1 L 1344.1,353.4 L 1346.5,353.7 L 1348.8,353.9 L 1351.2,354.2 L 1353.5,354.5 L 1355.8,354.8 L 1358.2,355.1 L 1360.5,355.5 L 1362.9,355.8 L 1365.2,356.1 L 1367.6,356.5 L 1369.9,356.8 L 1372.2,357.1 L 1374.6,357.5 L 1376.9,357.9 L 1379.3,358.3 L 1381.6,358.7 L 1384,359.2 L 1386.3,359.7 L 1388.7,360.2 L 1391,360.7 L 1393.3,361.3 L 1395.7,361.8 L 1398,362.5 L 1400.4,363.1 L 1402.7,363.8 L 1405.1,364.6 L 1407.4,365.5 L 1409.8,366.5 L 1412.1,367.5 L 1414.4,368.7 L 1416.8,370 L 1419.1,371.3 L 1421.5,372.7 L 1423.8,374.1 L 1426.2,375.6 L 1428.5,377.1 L 1430.8,378.6 L 1433.2,380 L 1435.5,381.5 L 1437.9,383.1 L 1440.2,384.8 L 1442.6,386.4 L 1444.9,388.1 L 1447.2,389.7 L 1449.6,391.3 L 1451.9,392.8 L 1454.3,394.3 L 1456.6,395.5 L 1459,396.7 L 1461.3,397.8 L 1463.7,398.8 L 1466,399.7 L 1468.3,400.5 L 1470.7,401.4 L 1473,402.1 L 1475.4,402.9 L 1477.7,403.6 L 1480.1,404.3 L 1482.5,405 L 1485.1,405.6 L 1487.8,406.3 L 1490.6,406.9 L 1493.2,407.4 L 1495.8,407.9 L 1498.2,408.4 L 1500.3,408.8 L 1502.1,409.2 L 1503.5,409.5" fill="none" stroke="#f06060" stroke-width="1.2" stroke-dasharray="1.5,1.5"/>
<line x1="1331" y1="405.6" x2="1351" y2="405.6" stroke="#111" stroke-width="2" stroke-dasharray="6,3"/>
<text x="1353" y="409.1" font-family="'Liberation Sans', Arial, sans-serif" font-size="8.5" fill="#333" font-weight="normal" font-style="normal" text-anchor="start" >"1/1"</text>
<line x1="1331" y1="416.9" x2="1351" y2="416.9" stroke="#3040c0" stroke-width="1.6" stroke-dasharray="6,2,1.5,2"/>
<text x="1353" y="420.4" font-family="'Liberation Sans', Arial, sans-serif" font-size="8.5" fill="#333" font-weight="normal" font-style="normal" text-anchor="start" >"0/0"</text>
<line x1="1331" y1="428.2" x2="1351" y2="428.2" stroke="#f06060" stroke-width="1.4" stroke-dasharray="1.5,1.5"/>
<text x="1353" y="431.7" font-family="'Liberation Sans', Arial, sans-serif" font-size="8.5" fill="#333" font-weight="normal" font-style="normal" text-anchor="start" >"0/1"</text>
<line x1="1331" y1="439.5" x2="1351" y2="439.5" stroke="#c050c0" stroke-width="1.4" stroke-dasharray="3,2"/>
<text x="1353" y="443" font-family="'Liberation Sans', Arial, sans-serif" font-size="8.5" fill="#333" font-weight="normal" font-style="normal" text-anchor="start" >"1/0"</text>
<line x1="1331" y1="450.8" x2="1351" y2="450.8" stroke="#999" stroke-width="1.3" />
<text x="1353" y="454.3" font-family="'Liberation Sans', Arial, sans-serif" font-size="8.5" fill="#333" font-weight="normal" font-style="normal" text-anchor="start" >Phase difference</text>
<rect x="1562.5" y="324.3" width="187" height="139.1" fill="#fff" stroke="#333" stroke-width="1.2"/>
<line x1="1562.5" y1="463.4" x2="1562.5" y2="460.4" stroke="#333" stroke-width="1" />
<line x1="1562.5" y1="324.3" x2="1562.5" y2="327.3" stroke="#333" stroke-width="1" />
<text x="1562.5" y="476.9" font-family="'Liberation Sans', Arial, sans-serif" font-size="11.5" fill="#333" font-weight="normal" font-style="normal" text-anchor="middle" >3.5</text>
<line x1="1609.2" y1="463.4" x2="1609.2" y2="460.4" stroke="#333" stroke-width="1" />
<line x1="1609.2" y1="324.3" x2="1609.2" y2="327.3" stroke="#333" stroke-width="1" />
<text x="1609.2" y="476.9" font-family="'Liberation Sans', Arial, sans-serif" font-size="11.5" fill="#333" font-weight="normal" font-style="normal" text-anchor="middle" >3.6</text>
<line x1="1656" y1="463.4" x2="1656" y2="460.4" stroke="#333" stroke-width="1" />
<line x1="1656" y1="324.3" x2="1656" y2="327.3" stroke="#333" stroke-width="1" />
<text x="1656" y="476.9" font-family="'Liberation Sans', Arial, sans-serif" font-size="11.5" fill="#333" font-weight="normal" font-style="normal" text-anchor="middle" >3.7</text>
<line x1="1702.8" y1="463.4" x2="1702.8" y2="460.4" stroke="#333" stroke-width="1" />
<line x1="1702.8" y1="324.3" x2="1702.8" y2="327.3" stroke="#333" stroke-width="1" />
<text x="1702.8" y="476.9" font-family="'Liberation Sans', Arial, sans-serif" font-size="11.5" fill="#333" font-weight="normal" font-style="normal" text-anchor="middle" >3.8</text>
<line x1="1749.5" y1="463.4" x2="1749.5" y2="460.4" stroke="#333" stroke-width="1" />
<line x1="1749.5" y1="324.3" x2="1749.5" y2="327.3" stroke="#333" stroke-width="1" />
<text x="1749.5" y="476.9" font-family="'Liberation Sans', Arial, sans-serif" font-size="11.5" fill="#333" font-weight="normal" font-style="normal" text-anchor="middle" >3.9</text>
<line x1="1562.5" y1="342.2" x2="1565.5" y2="342.2" stroke="#333" stroke-width="1" />
<line x1="1749.5" y1="342.2" x2="1746.5" y2="342.2" stroke="#333" stroke-width="1" />
<text x="1558.5" y="346.2" font-family="'Liberation Sans', Arial, sans-serif" font-size="11.5" fill="#333" font-weight="normal" font-style="normal" text-anchor="end" >1.0</text>
<line x1="1562.5" y1="376.8" x2="1565.5" y2="376.8" stroke="#333" stroke-width="1" />
<line x1="1749.5" y1="376.8" x2="1746.5" y2="376.8" stroke="#333" stroke-width="1" />
<text x="1558.5" y="380.8" font-family="'Liberation Sans', Arial, sans-serif" font-size="11.5" fill="#333" font-weight="normal" font-style="normal" text-anchor="end" >0.8</text>
<line x1="1562.5" y1="411.5" x2="1565.5" y2="411.5" stroke="#333" stroke-width="1" />
<line x1="1749.5" y1="411.5" x2="1746.5" y2="411.5" stroke="#333" stroke-width="1" />
<text x="1558.5" y="415.5" font-family="'Liberation Sans', Arial, sans-serif" font-size="11.5" fill="#333" font-weight="normal" font-style="normal" text-anchor="end" >0.6</text>
<line x1="1562.5" y1="446.1" x2="1565.5" y2="446.1" stroke="#333" stroke-width="1" />
<line x1="1749.5" y1="446.1" x2="1746.5" y2="446.1" stroke="#333" stroke-width="1" />
<text x="1558.5" y="450.1" font-family="'Liberation Sans', Arial, sans-serif" font-size="11.5" fill="#333" font-weight="normal" font-style="normal" text-anchor="end" >0.4</text>
<text x="1656" y="490.9" font-family="'Liberation Sans', Arial, sans-serif" font-size="13" fill="#333" font-weight="normal" font-style="normal" text-anchor="middle" textLength="98" lengthAdjust="spacingAndGlyphs" >Frequency (GHz)</text>
<text x="1534" y="393.9" font-family="'Liberation Sans', Arial, sans-serif" font-size="13" fill="#333" font-weight="normal" font-style="normal" text-anchor="middle" transform="rotate(-90 1534 393.9)">Reflection Coefficients</text>
<path d="M 1562.5,347.4 L 1563.9,347.6 L 1565.7,347.7 L 1567.8,347.8 L 1570.2,348 L 1572.7,348.2 L 1575.4,348.4 L 1578.1,348.8 L 1580.8,349.4 L 1583.4,350 L 1585.9,350.9 L 1588.3,351.9 L 1590.7,353.2 L 1593.3,354.6 L 1595.8,356.2 L 1598.3,357.8 L 1600.7,359.5 L 1603.1,361.3 L 1605.3,363 L 1607.4,364.8 L 1609.2,366.5 L 1610.9,368.1 L 1612.4,369.7 L 1613.7,371.4 L 1614.9,373 L 1616,374.7 L 1617,376.4 L 1618,378.1 L 1618.9,379.9 L 1619.9,381.8 L 1620.9,383.8 L 1622,386 L 1623,388.5 L 1623.9,391.2 L 1624.8,394.1 L 1625.8,396.9 L 1626.7,399.5 L 1627.6,401.9 L 1628.5,403.9 L 1629.4,405.4 L 1630.3,406.3 L 1631.2,406.5 L 1632,406.2 L 1632.9,405.5 L 1633.7,404.3 L 1634.5,402.9 L 1635.4,401.3 L 1636.3,399.5 L 1637.3,397.7 L 1638.4,395.9 L 1639.6,394.2 L 1641,392.4 L 1642.3,390.5 L 1643.8,388.4 L 1645.3,386.2 L 1646.9,383.9 L 1648.6,381.7 L 1650.4,379.4 L 1652.2,377.3 L 1654,375.2 L 1656,373.4 L 1658.1,371.6 L 1660.2,369.9 L 1662.5,368.3 L 1664.8,366.7 L 1667.2,365.2 L 1669.7,363.7 L 1672.1,362.3 L 1674.6,361 L 1677,359.8 L 1679.4,358.7 L 1681.7,357.6 L 1684,356.7 L 1686.4,355.9 L 1688.7,355.1 L 1691.1,354.5 L 1693.4,353.8 L 1695.7,353.3 L 1698.1,352.7 L 1700.4,352.2 L 1702.8,351.7 L 1705.1,351.3 L 1707.4,350.9 L 1709.8,350.5 L 1712.1,350.2 L 1714.4,349.9 L 1716.8,349.7 L 1719.1,349.4 L 1721.4,349.2 L 1723.8,349 L 1726.1,348.8 L 1728.6,348.6 L 1731.2,348.4 L 1733.9,348.2 L 1736.6,348.1 L 1739.3,347.9 L 1741.8,347.8 L 1744.2,347.7 L 1746.3,347.6 L 1748.1,347.5 L 1749.5,347.4" fill="none" stroke="#3040c0" stroke-width="1.6" stroke-dasharray="6,2,1.5,2"/>
<path d="M 1562.5,347.4 L 1563.9,347.6 L 1565.7,347.7 L 1567.8,347.8 L 1570.2,348 L 1572.7,348.2 L 1575.4,348.4 L 1578.1,348.8 L 1580.8,349.4 L 1583.4,350 L 1585.9,350.9 L 1588.3,351.9 L 1590.7,353.2 L 1593.3,354.6 L 1595.8,356.2 L 1598.3,357.8 L 1600.7,359.5 L 1603.1,361.3 L 1605.3,363 L 1607.4,364.8 L 1609.2,366.5 L 1610.9,368.1 L 1612.4,369.7 L 1613.7,371.4 L 1614.9,373 L 1616,374.7 L 1617,376.4 L 1618,378.1 L 1618.9,379.9 L 1619.9,381.8 L 1620.9,383.8 L 1622,386 L 1623,388.5 L 1623.9,391.2 L 1624.8,394.1 L 1625.8,396.9 L 1626.7,399.5 L 1627.6,401.9 L 1628.5,403.9 L 1629.4,405.4 L 1630.3,406.3 L 1631.2,406.5 L 1632,406.2 L 1632.9,405.5 L 1633.7,404.3 L 1634.5,402.9 L 1635.4,401.3 L 1636.3,399.5 L 1637.3,397.7 L 1638.4,395.9 L 1639.6,394.2 L 1641,392.4 L 1642.3,390.5 L 1643.8,388.4 L 1645.3,386.2 L 1646.9,383.9 L 1648.6,381.7 L 1650.4,379.4 L 1652.2,377.3 L 1654,375.2 L 1656,373.4 L 1658.1,371.6 L 1660.2,369.9 L 1662.5,368.3 L 1664.8,366.7 L 1667.2,365.2 L 1669.7,363.7 L 1672.1,362.3 L 1674.6,361 L 1677,359.8 L 1679.4,358.7 L 1681.7,357.6 L 1684,356.7 L 1686.4,355.9 L 1688.7,355.1 L 1691.1,354.5 L 1693.4,353.8 L 1695.7,353.3 L 1698.1,352.7 L 1700.4,352.2 L 1702.8,351.7 L 1705.1,351.3 L 1707.4,350.9 L 1709.8,350.5 L 1712.1,350.2 L 1714.4,349.9 L 1716.8,349.7 L 1719.1,349.4 L 1721.4,349.2 L 1723.8,349 L 1726.1,348.8 L 1728.6,348.6 L 1731.2,348.4 L 1733.9,348.2 L 1736.6,348.1 L 1739.3,347.9 L 1741.8,347.8 L 1744.2,347.7 L 1746.3,347.6 L 1748.1,347.5 L 1749.5,347.4" fill="none" stroke="#c050c0" stroke-width="1.3" stroke-dasharray="3,2"/>
<path d="M 1562.5,343.9 L 1563.9,344.1 L 1565.7,344.3 L 1567.8,344.5 L 1570.2,344.8 L 1572.7,345.1 L 1575.4,345.4 L 1578.1,345.7 L 1580.8,346 L 1583.4,346.3 L 1585.9,346.5 L 1588.2,346.8 L 1590.5,347 L 1592.9,347.2 L 1595.2,347.4 L 1597.6,347.6 L 1599.9,347.9 L 1602.2,348.1 L 1604.6,348.4 L 1606.9,348.7 L 1609.2,349.1 L 1611.6,349.6 L 1613.9,350 L 1616.3,350.4 L 1618.6,350.9 L 1620.9,351.4 L 1623.3,352 L 1625.6,352.6 L 1628,353.4 L 1630.3,354.2 L 1632.6,355.2 L 1635,356.3 L 1637.4,357.6 L 1639.9,359 L 1642.4,360.4 L 1644.9,362 L 1647.3,363.6 L 1649.7,365.2 L 1651.9,366.8 L 1654,368.4 L 1656,369.9 L 1657.8,371.5 L 1659.4,373.1 L 1661,374.7 L 1662.4,376.4 L 1663.7,378.1 L 1665,379.7 L 1666.3,381.3 L 1667.5,382.8 L 1668.8,384.2 L 1670,385.5 L 1671.3,386.7 L 1672.5,387.9 L 1673.7,389 L 1674.9,390.1 L 1676,391.1 L 1677.1,392 L 1678.3,392.8 L 1679.4,393.4 L 1680.6,393.9 L 1681.7,394.2 L 1682.9,394.2 L 1684.1,394.1 L 1685.3,393.7 L 1686.5,393.2 L 1687.7,392.6 L 1688.9,392 L 1690.1,391.2 L 1691.2,390.4 L 1692.3,389.7 L 1693.4,389 L 1694.4,388.3 L 1695.2,387.6 L 1695.9,386.8 L 1696.6,386.1 L 1697.3,385.3 L 1698.1,384.4 L 1699,383.5 L 1700,382.5 L 1701.3,381.5 L 1702.8,380.3 L 1704.5,379 L 1706.5,377.5 L 1708.7,376 L 1711.1,374.3 L 1713.6,372.6 L 1716.1,370.9 L 1718.7,369.2 L 1721.2,367.6 L 1723.7,366.1 L 1726.1,364.7 L 1728.6,363.4 L 1731.2,362.1 L 1733.9,360.9 L 1736.6,359.7 L 1739.3,358.6 L 1741.8,357.5 L 1744.2,356.5 L 1746.3,355.7 L 1748.1,354.9 L 1749.5,354.3" fill="none" stroke="#111" stroke-width="1.8" stroke-dasharray="6,3"/>
<path d="M 1562.5,343.9 L 1563.9,344.1 L 1565.7,344.3 L 1567.8,344.5 L 1570.2,344.8 L 1572.7,345.1 L 1575.4,345.4 L 1578.1,345.7 L 1580.8,346 L 1583.4,346.3 L 1585.9,346.5 L 1588.2,346.8 L 1590.5,347 L 1592.9,347.2 L 1595.2,347.4 L 1597.6,347.6 L 1599.9,347.9 L 1602.2,348.1 L 1604.6,348.4 L 1606.9,348.7 L 1609.2,349.1 L 1611.6,349.6 L 1613.9,350 L 1616.3,350.4 L 1618.6,350.9 L 1620.9,351.4 L 1623.3,352 L 1625.6,352.6 L 1628,353.4 L 1630.3,354.2 L 1632.6,355.2 L 1635,356.3 L 1637.4,357.6 L 1639.9,359 L 1642.4,360.4 L 1644.9,362 L 1647.3,363.6 L 1649.7,365.2 L 1651.9,366.8 L 1654,368.4 L 1656,369.9 L 1657.8,371.5 L 1659.4,373.1 L 1661,374.7 L 1662.4,376.4 L 1663.7,378.1 L 1665,379.7 L 1666.3,381.3 L 1667.5,382.8 L 1668.8,384.2 L 1670,385.5 L 1671.3,386.7 L 1672.5,387.9 L 1673.7,389 L 1674.9,390.1 L 1676,391.1 L 1677.1,392 L 1678.3,392.8 L 1679.4,393.4 L 1680.6,393.9 L 1681.7,394.2 L 1682.9,394.2 L 1684.1,394.1 L 1685.3,393.7 L 1686.5,393.2 L 1687.7,392.6 L 1688.9,392 L 1690.1,391.2 L 1691.2,390.4 L 1692.3,389.7 L 1693.4,389 L 1694.4,388.3 L 1695.2,387.6 L 1695.9,386.8 L 1696.6,386.1 L 1697.3,385.3 L 1698.1,384.4 L 1699,383.5 L 1700,382.5 L 1701.3,381.5 L 1702.8,380.3 L 1704.5,379 L 1706.5,377.5 L 1708.7,376 L 1711.1,374.3 L 1713.6,372.6 L 1716.1,370.9 L 1718.7,369.2 L 1721.2,367.6 L 1723.7,366.1 L 1726.1,364.7 L 1728.6,363.4 L 1731.2,362.1 L 1733.9,360.9 L 1736.6,359.7 L 1739.3,358.6 L 1741.8,357.5 L 1744.2,356.5 L 1746.3,355.7 L 1748.1,354.9 L 1749.5,354.3" fill="none" stroke="#f06060" stroke-width="1.2" stroke-dasharray="1.5,1.5"/>
<line x1="1577" y1="414.7" x2="1597" y2="414.7" stroke="#111" stroke-width="2" stroke-dasharray="6,3"/>
<text x="1599" y="418.2" font-family="'Liberation Sans', Arial, sans-serif" font-size="8.5" fill="#333" font-weight="normal" font-style="normal" text-anchor="start" >"1/1"</text>
<line x1="1577" y1="426" x2="1597" y2="426" stroke="#3040c0" stroke-width="1.6" stroke-dasharray="6,2,1.5,2"/>
<text x="1599" y="429.5" font-family="'Liberation Sans', Arial, sans-serif" font-size="8.5" fill="#333" font-weight="normal" font-style="normal" text-anchor="start" >"0/0"</text>
<line x1="1577" y1="437.3" x2="1597" y2="437.3" stroke="#f06060" stroke-width="1.4" stroke-dasharray="1.5,1.5"/>
<text x="1599" y="440.8" font-family="'Liberation Sans', Arial, sans-serif" font-size="8.5" fill="#333" font-weight="normal" font-style="normal" text-anchor="start" >"0/1"</text>
<line x1="1577" y1="448.6" x2="1597" y2="448.6" stroke="#c050c0" stroke-width="1.4" stroke-dasharray="3,2"/>
<text x="1599" y="452.1" font-family="'Liberation Sans', Arial, sans-serif" font-size="8.5" fill="#333" font-weight="normal" font-style="normal" text-anchor="start" >"1/0"</text>
<text x="30" y="546" font-family="'Liberation Serif', 'Times New Roman', serif" font-size="37" fill="#000" font-weight="normal" font-style="normal" text-anchor="start" >(d)</text>
<rect x="1" y="573.4" width="622.2" height="451.6" fill="url(#dbg)" />
<g clip-path="url(#dclip)">
<ellipse cx="90" cy="990" rx="260" ry="200" fill="url(#dlow)"/>
<polygon points="67,728 452,728 505,772 236,772" fill="url(#dspot)" />
<ellipse cx="300" cy="755" rx="180" ry="32" fill="url(#dspot2)"/>
</g>
<text x="31" y="587" font-family="'Liberation Sans', Arial, sans-serif" font-size="12.6" fill="#f4f4f4" font-weight="bold" font-style="normal" text-anchor="start" textLength="172" lengthAdjust="spacingAndGlyphs" >Exclusive-OR logic operation</text>
<text x="217" y="587" font-family="'Liberation Sans', Arial, sans-serif" font-size="12.6" fill="#f4f4f4" font-weight="bold" font-style="normal" text-anchor="start" textLength="188.5" lengthAdjust="spacingAndGlyphs" >Wide-angle dual-beam scanning</text>
<text x="415.8" y="587" font-family="'Liberation Sans', Arial, sans-serif" font-size="12.6" fill="#f4f4f4" font-weight="bold" font-style="normal" text-anchor="start" textLength="186" lengthAdjust="spacingAndGlyphs" >Dual-polarized aperture sharing</text>
<g clip-path="url(#ins0)">
<rect x="26.5" y="592" width="181.5" height="136.2" fill="#a9aba4" />
<rect x="26.5" y="592" width="181.5" height="136.2" fill="url(#tiles)" />
</g>
<rect x="26.5" y="592" width="181.5" height="136.2" rx="9" fill="none" stroke="#e8a040" stroke-width="1.5" stroke-dasharray="1.5,1.5"/>
<g clip-path="url(#ins1)">
<rect x="220" y="592.9" width="182" height="136.1" fill="#a9aba4" />
<rect x="220" y="592.9" width="182" height="136.1" fill="url(#tiles)" />
</g>
<rect x="220" y="592.9" width="182" height="136.1" rx="9" fill="none" stroke="#e8a040" stroke-width="1.5" stroke-dasharray="1.5,1.5"/>
<g clip-path="url(#ins2)">
<rect x="416.5" y="592.9" width="183.1" height="136.1" fill="#a9aba4" />
<rect x="416.5" y="592.9" width="183.1" height="136.1" fill="url(#tiles)" />
</g>
<rect x="416.5" y="592.9" width="183.1" height="136.1" rx="9" fill="none" stroke="#e8a040" stroke-width="1.5" stroke-dasharray="1.5,1.5"/>
<line x1="73" y1="676" x2="73" y2="688" stroke="#1840a0" stroke-width="2.5" />
<path d="M 60,617 A 13,4.9 0 0 1 86,617" fill="none" stroke="#1840a0" stroke-width="3.2"/>
<path d="M 60,625.4 A 13,4.9 0 0 1 86,625.4" fill="none" stroke="#1840a0" stroke-width="3.2"/>
<path d="M 60,633.9 A 13,4.9 0 0 1 86,633.9" fill="none" stroke="#1840a0" stroke-width="3.2"/>
<path d="M 60,642.3 A 13,4.9 0 0 1 86,642.3" fill="none" stroke="#1840a0" stroke-width="3.2"/>
<path d="M 60,650.7 A 13,4.9 0 0 1 86,650.7" fill="none" stroke="#1840a0" stroke-width="3.2"/>
<path d="M 60,659.1 A 13,4.9 0 0 1 86,659.1" fill="none" stroke="#1840a0" stroke-width="3.2"/>
<path d="M 60,667.6 A 13,4.9 0 0 1 86,667.6" fill="none" stroke="#1840a0" stroke-width="3.2"/>
<path d="M 60,676 A 13,4.9 0 0 1 86,676" fill="none" stroke="#1840a0" stroke-width="3.2"/>
<path d="M 60,617 A 13,4.9 0 0 0 86,621.2" fill="none" stroke="#3070e0" stroke-width="3.6"/>
<path d="M 60,625.4 A 13,4.9 0 0 0 86,629.6" fill="none" stroke="#3070e0" stroke-width="3.6"/>
<path d="M 60,633.9 A 13,4.9 0 0 0 86,638.1" fill="none" stroke="#3070e0" stroke-width="3.6"/>
<path d="M 60,642.3 A 13,4.9 0 0 0 86,646.5" fill="none" stroke="#3070e0" stroke-width="3.6"/>
<path d="M 60,650.7 A 13,4.9 0 0 0 86,654.9" fill="none" stroke="#3070e0" stroke-width="3.6"/>
<path d="M 60,659.1 A 13,4.9 0 0 0 86,663.4" fill="none" stroke="#3070e0" stroke-width="3.6"/>
<path d="M 60,667.6 A 13,4.9 0 0 0 86,671.8" fill="none" stroke="#3070e0" stroke-width="3.6"/>
<path d="M 60,676 A 13,4.9 0 0 0 86,680.2" fill="none" stroke="#3070e0" stroke-width="3.6"/>
<path d="M 109,618 A 12,4.6 0 0 1 133,618" fill="none" stroke="#a01818" stroke-width="3.2"/>
<path d="M 109,626.3 A 12,4.6 0 0 1 133,626.3" fill="none" stroke="#a01818" stroke-width="3.2"/>
<path d="M 109,634.6 A 12,4.6 0 0 1 133,634.6" fill="none" stroke="#a01818" stroke-width="3.2"/>
<path d="M 109,642.9 A 12,4.6 0 0 1 133,642.9" fill="none" stroke="#a01818" stroke-width="3.2"/>
<path d="M 109,651.1 A 12,4.6 0 0 1 133,651.1" fill="none" stroke="#a01818" stroke-width="3.2"/>
<path d="M 109,659.4 A 12,4.6 0 0 1 133,659.4" fill="none" stroke="#a01818" stroke-width="3.2"/>
<path d="M 109,667.7 A 12,4.6 0 0 1 133,667.7" fill="none" stroke="#a01818" stroke-width="3.2"/>
<path d="M 109,676 A 12,4.6 0 0 1 133,676" fill="none" stroke="#a01818" stroke-width="3.2"/>
<path d="M 109,618 A 12,4.6 0 0 0 133,622.1" fill="none" stroke="#f03030" stroke-width="3.6"/>
<path d="M 109,626.3 A 12,4.6 0 0 0 133,630.4" fill="none" stroke="#f03030" stroke-width="3.6"/>
<path d="M 109,634.6 A 12,4.6 0 0 0 133,638.7" fill="none" stroke="#f03030" stroke-width="3.6"/>
<path d="M 109,642.9 A 12,4.6 0 0 0 133,647" fill="none" stroke="#f03030" stroke-width="3.6"/>
<path d="M 109,651.1 A 12,4.6 0 0 0 133,655.3" fill="none" stroke="#f03030" stroke-width="3.6"/>
<path d="M 109,659.4 A 12,4.6 0 0 0 133,663.6" fill="none" stroke="#f03030" stroke-width="3.6"/>
<path d="M 109,667.7 A 12,4.6 0 0 0 133,671.9" fill="none" stroke="#f03030" stroke-width="3.6"/>
<path d="M 109,676 A 12,4.6 0 0 0 133,680.1" fill="none" stroke="#f03030" stroke-width="3.6"/>
<line x1="121" y1="618" x2="121" y2="605" stroke="#f03030" stroke-width="2.5" />
<polygon points="121,599 116.5,609 125.5,609" fill="#f03030" />
<path d="M 163,648 A 14,5.3 0 0 1 191,648" fill="none" stroke="#1848a8" stroke-width="3.2"/>
<path d="M 163,656.7 A 14,5.3 0 0 1 191,656.7" fill="none" stroke="#1848a8" stroke-width="3.2"/>
<path d="M 163,665.3 A 14,5.3 0 0 1 191,665.3" fill="none" stroke="#1848a8" stroke-width="3.2"/>
<path d="M 163,674 A 14,5.3 0 0 1 191,674" fill="none" stroke="#1848a8" stroke-width="3.2"/>
<path d="M 163,682.7 A 14,5.3 0 0 1 191,682.7" fill="none" stroke="#1848a8" stroke-width="3.2"/>
<path d="M 163,691.3 A 14,5.3 0 0 1 191,691.3" fill="none" stroke="#1848a8" stroke-width="3.2"/>
<path d="M 163,700 A 14,5.3 0 0 1 191,700" fill="none" stroke="#1848a8" stroke-width="3.2"/>
<path d="M 163,648 A 14,5.3 0 0 0 191,652.3" fill="none" stroke="#3080e8" stroke-width="3.6"/>
<path d="M 163,656.7 A 14,5.3 0 0 0 191,661" fill="none" stroke="#3080e8" stroke-width="3.6"/>
<path d="M 163,665.3 A 14,5.3 0 0 0 191,669.7" fill="none" stroke="#3080e8" stroke-width="3.6"/>
<path d="M 163,674 A 14,5.3 0 0 0 191,678.3" fill="none" stroke="#3080e8" stroke-width="3.6"/>
<path d="M 163,682.7 A 14,5.3 0 0 0 191,687" fill="none" stroke="#3080e8" stroke-width="3.6"/>
<path d="M 163,691.3 A 14,5.3 0 0 0 191,695.7" fill="none" stroke="#3080e8" stroke-width="3.6"/>
<path d="M 163,700 A 14,5.3 0 0 0 191,704.3" fill="none" stroke="#3080e8" stroke-width="3.6"/>
<line x1="177" y1="648" x2="177" y2="622" stroke="#3080e8" stroke-width="2.5" />
<polygon points="177,616 172.5,626 181.5,626" fill="#3080e8" />
<rect x="32" y="598" width="28" height="14" fill="#eef0f4" opacity="0.9"/>
<text x="46" y="609.5" font-family="'Liberation Sans', Arial, sans-serif" font-size="12.5" fill="#4070d0" font-weight="normal" font-style="normal" text-anchor="middle" textLength="25" lengthAdjust="spacingAndGlyphs" >LCP</text>
<rect x="127.5" y="597" width="28" height="13" fill="#eef0f4" opacity="0.9"/>
<text x="141.5" y="607.5" font-family="'Liberation Sans', Arial, sans-serif" font-size="12.5" fill="#e04040" font-weight="normal" font-style="normal" text-anchor="middle" textLength="25" lengthAdjust="spacingAndGlyphs" >RCP</text>
<rect x="173" y="600" width="27" height="14.5" fill="#eef0f4" opacity="0.9"/>
<text x="186.5" y="612" font-family="'Liberation Sans', Arial, sans-serif" font-size="12.5" fill="#4080d8" font-weight="normal" font-style="normal" text-anchor="middle" textLength="24" lengthAdjust="spacingAndGlyphs" >LCP</text>
<text x="31" y="694" font-family="'Liberation Sans', Arial, sans-serif" font-size="11" fill="#f8f8f8" font-weight="bold" font-style="normal" text-anchor="start" textLength="52" lengthAdjust="spacingAndGlyphs" >Incidence</text>
<text x="95" y="701" font-family="'Liberation Sans', Arial, sans-serif" font-size="11" fill="#f8f8f8" font-weight="bold" font-style="normal" text-anchor="start" textLength="55" lengthAdjust="spacingAndGlyphs" >Output "0"</text>
<text x="146" y="717" font-family="'Liberation Sans', Arial, sans-serif" font-size="11" fill="#f8f8f8" font-weight="bold" font-style="normal" text-anchor="start" textLength="56" lengthAdjust="spacingAndGlyphs" >Output "1"</text>
<path d="M 0,0 C 25.1,-5.5 82.1,-7.7 83.8,0 C 82.1,7.7 25.1,5.5 0,0 Z" fill="url(#rb2_0)" opacity="1" transform="translate(310.5 682) rotate(-134.3)"/>
<path d="M 0,0 C 24.6,-5.5 80.3,-7.7 81.9,0 C 80.3,7.7 24.6,5.5 0,0 Z" fill="url(#rb2_1)" opacity="1" transform="translate(310.5 682) rotate(-121.3)"/>
<path d="M 0,0 C 23.2,-5.5 75.8,-7.7 77.3,0 C 75.8,7.7 23.2,5.5 0,0 Z" fill="url(#rb2_2)" opacity="0.6" transform="translate(310.5 682) rotate(-106.9)"/>
<path d="M 0,0 C 21.2,-5.5 69.4,-7.7 70.8,0 C 69.4,7.7 21.2,5.5 0,0 Z" fill="url(#rb2_3)" opacity="0.5" transform="translate(310.5 682) rotate(-98.5)"/>
<path d="M 0,0 C 20.4,-5.5 66.5,-7.7 67.9,0 C 66.5,7.7 20.4,5.5 0,0 Z" fill="url(#rb2_4)" opacity="0.5" transform="translate(310.5 682) rotate(-73.3)"/>
<path d="M 0,0 C 17,-5.5 55.4,-7.7 56.5,0 C 55.4,7.7 17,5.5 0,0 Z" fill="url(#rb2_5)" opacity="1" transform="translate(310.5 682) rotate(-51.1)"/>
<path d="M 0,0 C 22.6,-5.5 74,-7.7 75.5,0 C 74,7.7 22.6,5.5 0,0 Z" fill="url(#rb2_6)" opacity="1" transform="translate(310.5 682) rotate(-9.2)"/>
<path d="M 252,620 Q 300,575 388,668" fill="none" stroke="#e82020" stroke-width="3.2" />
<polygon points="251,621 255.6,611 261.5,617.8" fill="#e82020" />
<polygon points="389,670 380.7,662.8 388.8,659" fill="#e82020" />
<rect x="367" y="616" width="27" height="13" fill="#f4f4f4" opacity="0.9"/>
<text x="380.5" y="627" font-family="'Liberation Sans', Arial, sans-serif" font-size="11.5" fill="#e03030" font-weight="normal" font-style="normal" text-anchor="middle" >120°</text>
<path d="M 0,0 C 25.5,-5.5 83.4,-7.7 85.1,0 C 83.4,7.7 25.5,5.5 0,0 Z" fill="url(#rb3_0)" opacity="1" transform="translate(504.7 686.6) rotate(-133.6)"/>
<path d="M 0,0 C 23,-5.5 75.2,-7.7 76.7,0 C 75.2,7.7 23,5.5 0,0 Z" fill="url(#rb3_1)" opacity="1" transform="translate(504.7 686.6) rotate(-11)"/>
<path d="M 0,0 C 25.2,-5 82.2,-7 83.9,0 C 82.2,7 25.2,5 0,0 Z" fill="url(#rb3_2)" opacity="1" transform="translate(504.7 686.6) rotate(-64.4)"/>
<path d="M 0,0 C 14.4,-6.5 46.9,-9.1 47.8,0 C 46.9,9.1 14.4,6.5 0,0 Z" fill="url(#rb3_3)" opacity="1" transform="translate(504.7 686.6) rotate(167.4)"/>
<path d="M 446,622 Q 500,575 580,672" fill="none" stroke="#e82020" stroke-width="3" />
<polygon points="445,624 449.2,613.9 455.3,620.4" fill="#e82020" />
<polygon points="581,673 573.2,665.3 581.5,662" fill="#e82020" />
<path d="M 458,695 Q 470,600 520,596 Q 545,595 541,612" fill="none" stroke="#7070e0" stroke-width="2.2" />
<polygon points="457,697 454.7,687.4 462.6,688.9" fill="#6060d8" />
<rect x="548" y="597" width="54" height="22" fill="#f0f2f6" opacity="0.85"/>
<text x="575" y="606" font-family="'Liberation Sans', Arial, sans-serif" font-size="10.5" fill="#5070d0" font-weight="normal" font-style="normal" text-anchor="middle" textLength="50" lengthAdjust="spacingAndGlyphs" >y-polarized</text>
<text x="575" y="617" font-family="'Liberation Sans', Arial, sans-serif" font-size="10.5" fill="#5070d0" font-weight="normal" font-style="normal" text-anchor="middle" >beams</text>
<rect x="536" y="688" width="58" height="23" fill="#f0f2f6" opacity="0.85"/>
<text x="565" y="699" font-family="'Liberation Sans', Arial, sans-serif" font-size="10.5" fill="#e04040" font-weight="normal" font-style="normal" text-anchor="middle" textLength="52" lengthAdjust="spacingAndGlyphs" >x-polarized</text>
<text x="565" y="710" font-family="'Liberation Sans', Arial, sans-serif" font-size="10.5" fill="#e04040" font-weight="normal" font-style="normal" text-anchor="middle" >beams</text>
<rect x="601" y="651" width="4" height="4" fill="#f0f0f0" />
<rect x="607" y="651" width="4" height="4" fill="#f0f0f0" />
<rect x="613" y="651" width="4" height="4" fill="#f0f0f0" />
<text x="330.6" y="758" font-family="'Liberation Sans', Arial, sans-serif" font-size="15" fill="#f4f8fa" font-weight="bold" font-style="normal" text-anchor="middle" textLength="170" lengthAdjust="spacingAndGlyphs" >Programmable functions</text>
<polygon points="211.2,978.3 577,975.5 577,984 211,987" fill="#7a8c96" />
<polygon points="519.6,770.3 577,975.5 579,976 522,770" fill="#a8b8c0" />
<polygon points="236.4,771.4 519.6,770.3 577,975.5 211.2,978.3" fill="#8ea3ae" />
<polygon points="249.7,773.4 272.1,773.3 271.9,775.3 249.5,775.4" fill="#f89c2c" />
<polygon points="249.5,775.5 271.9,775.4 271.8,777.4 249.3,777.5" fill="#f89c2c" />
<polygon points="249.3,777.6 271.8,777.5 271.6,779.5 249,779.6" fill="#f89c2c" />
<polygon points="238.2,780.2 241.5,780.2 240,793.5 236.6,793.5" fill="#f89c2c" />
<polygon points="241.6,780.2 244.9,780.2 243.5,793.5 240.1,793.5" fill="#f89c2c" />
<polygon points="245.1,780.2 248.4,780.2 247,793.5 243.6,793.5" fill="#f89c2c" />
<polygon points="252.5,781.8 268.8,781.7 268,791.5 251.6,791.6" fill="#f9a030" />
<circle cx="261.1" cy="780.5" r="1.7" fill="#1f2a33"/>
<circle cx="260.1" cy="792.6" r="1.7" fill="#1f2a33"/>
<circle cx="250.7" cy="786.7" r="1.7" fill="#1f2a33"/>
<circle cx="270.1" cy="786.6" r="1.7" fill="#1f2a33"/>
<polygon points="283.1,773.3 305.5,773.2 305.4,775.1 283,775.2" fill="#f89c2c" />
<polygon points="283,775.3 305.4,775.2 305.4,777.2 282.9,777.3" fill="#f89c2c" />
<polygon points="282.9,777.4 305.4,777.3 305.3,779.3 282.8,779.4" fill="#f89c2c" />
<polygon points="271.9,780.1 275.2,780.1 274.3,793.3 271,793.4" fill="#f89c2c" />
<polygon points="275.4,780.1 278.7,780 277.9,793.3 274.5,793.3" fill="#f89c2c" />
<polygon points="278.8,780 282.1,780 281.4,793.3 278,793.3" fill="#f89c2c" />
<polygon points="286.3,781.6 302.6,781.6 302.3,791.4 285.9,791.4" fill="#f9a030" />
<circle cx="294.8" cy="780.4" r="1.7" fill="#1f2a33"/>
<circle cx="294.4" cy="792.4" r="1.7" fill="#1f2a33"/>
<circle cx="284.7" cy="786.5" r="1.7" fill="#1f2a33"/>
<circle cx="304.1" cy="786.4" r="1.7" fill="#1f2a33"/>
<polygon points="316.5,773.1 338.9,773 338.9,775 316.5,775.1" fill="#f89c2c" />
<polygon points="316.5,775.2 338.9,775.1 339,777.1 316.5,777.2" fill="#f89c2c" />
<polygon points="316.5,777.3 339,777.2 339,779.2 316.5,779.3" fill="#f89c2c" />
<polygon points="305.7,779.9 309,779.9 308.7,793.2 305.3,793.2" fill="#f89c2c" />
<polygon points="309.1,779.9 312.4,779.9 312.2,793.2 308.8,793.2" fill="#f89c2c" />
<polygon points="312.5,779.9 315.8,779.9 315.7,793.2 312.3,793.2" fill="#f89c2c" />
<polygon points="320.2,781.5 336.4,781.4 336.6,791.2 320.1,791.3" fill="#f9a030" />
<circle cx="328.6" cy="780.2" r="1.7" fill="#1f2a33"/>
<circle cx="328.7" cy="792.3" r="1.7" fill="#1f2a33"/>
<circle cx="318.8" cy="786.4" r="1.7" fill="#1f2a33"/>
<circle cx="338.2" cy="786.3" r="1.7" fill="#1f2a33"/>
<polygon points="349.9,773 372.3,772.9 372.4,774.9 350,775" fill="#f89c2c" />
<polygon points="350,775.1 372.5,775 372.6,777 350.1,777.1" fill="#f89c2c" />
<polygon points="350.1,777.2 372.6,777.1 372.7,779.1 350.2,779.2" fill="#f89c2c" />
<polygon points="339.4,779.8 342.7,779.8 343.1,793 339.7,793.1" fill="#f89c2c" />
<polygon points="342.8,779.8 346.1,779.8 346.6,793 343.2,793" fill="#f89c2c" />
<polygon points="346.3,779.8 349.6,779.8 350.1,793 346.7,793" fill="#f89c2c" />
<polygon points="354,781.4 370.2,781.3 370.8,791.1 354.4,791.1" fill="#f9a030" />
<circle cx="362.3" cy="780.1" r="1.7" fill="#1f2a33"/>
<circle cx="363" cy="792.1" r="1.7" fill="#1f2a33"/>
<circle cx="352.8" cy="786.2" r="1.7" fill="#1f2a33"/>
<circle cx="372.2" cy="786.1" r="1.7" fill="#1f2a33"/>
<polygon points="383.3,772.9 405.7,772.8 406,774.7 383.5,774.8" fill="#f89c2c" />
<polygon points="383.5,774.9 406,774.8 406.2,776.8 383.7,776.9" fill="#f89c2c" />
<polygon points="383.7,777 406.2,776.9 406.4,778.9 383.9,779" fill="#f89c2c" />
<polygon points="373.1,779.7 376.4,779.7 377.4,792.9 374.1,792.9" fill="#f89c2c" />
<polygon points="376.6,779.6 379.9,779.6 380.9,792.9 377.6,792.9" fill="#f89c2c" />
<polygon points="380,779.6 383.3,779.6 384.4,792.9 381.1,792.9" fill="#f89c2c" />
<polygon points="387.8,781.2 404,781.1 405.1,790.9 388.7,791" fill="#f9a030" />
<circle cx="396.1" cy="780" r="1.7" fill="#1f2a33"/>
<circle cx="397.3" cy="792" r="1.7" fill="#1f2a33"/>
<circle cx="386.9" cy="786.1" r="1.7" fill="#1f2a33"/>
<circle cx="406.3" cy="786" r="1.7" fill="#1f2a33"/>
<polygon points="416.8,772.7 439.1,772.6 439.5,774.6 417,774.7" fill="#f89c2c" />
<polygon points="417,774.8 439.5,774.7 439.8,776.7 417.3,776.8" fill="#f89c2c" />
<polygon points="417.3,776.9 439.8,776.8 440.1,778.8 417.6,778.9" fill="#f89c2c" />
<polygon points="406.9,779.5 410.2,779.5 411.8,792.7 408.4,792.8" fill="#f89c2c" />
<polygon points="410.3,779.5 413.6,779.5 415.3,792.7 411.9,792.7" fill="#f89c2c" />
<polygon points="413.7,779.5 417,779.5 418.8,792.7 415.4,792.7" fill="#f89c2c" />
<polygon points="421.6,781.1 437.8,781 439.4,790.8 422.9,790.8" fill="#f9a030" />
<circle cx="429.9" cy="779.8" r="1.7" fill="#1f2a33"/>
<circle cx="431.6" cy="791.8" r="1.7" fill="#1f2a33"/>
<circle cx="420.9" cy="785.9" r="1.7" fill="#1f2a33"/>
<circle cx="440.3" cy="785.8" r="1.7" fill="#1f2a33"/>
<polygon points="450.2,772.6 472.6,772.5 473,774.5 450.5,774.6" fill="#f89c2c" />
<polygon points="450.5,774.7 473,774.6 473.4,776.6 450.9,776.7" fill="#f89c2c" />
<polygon points="450.9,776.8 473.4,776.7 473.9,778.7 451.3,778.7" fill="#f89c2c" />
<polygon points="440.6,779.4 443.9,779.4 446.1,792.6 442.8,792.6" fill="#f89c2c" />
<polygon points="444,779.4 447.3,779.4 449.6,792.6 446.3,792.6" fill="#f89c2c" />
<polygon points="447.5,779.4 450.8,779.3 453.1,792.6 449.8,792.6" fill="#f89c2c" />
<polygon points="455.4,780.9 471.6,780.9 473.6,790.6 457.2,790.7" fill="#f9a030" />
<circle cx="463.6" cy="779.7" r="1.7" fill="#1f2a33"/>
<circle cx="466" cy="791.7" r="1.7" fill="#1f2a33"/>
<circle cx="454.9" cy="785.8" r="1.7" fill="#1f2a33"/>
<circle cx="474.3" cy="785.7" r="1.7" fill="#1f2a33"/>
<polygon points="483.6,772.5 506,772.4 506.5,774.3 484,774.4" fill="#f89c2c" />
<polygon points="484,774.5 506.5,774.4 507,776.4 484.5,776.5" fill="#f89c2c" />
<polygon points="484.5,776.6 507,776.5 507.6,778.5 485,778.6" fill="#f89c2c" />
<polygon points="474.3,779.2 477.6,779.2 480.5,792.4 477.1,792.5" fill="#f89c2c" />
<polygon points="477.8,779.2 481.1,779.2 484,792.4 480.6,792.4" fill="#f89c2c" />
<polygon points="481.2,779.2 484.5,779.2 487.5,792.4 484.1,792.4" fill="#f89c2c" />
<polygon points="489.2,780.8 505.4,780.7 507.9,790.5 491.5,790.5" fill="#f9a030" />
<circle cx="497.4" cy="779.6" r="1.7" fill="#1f2a33"/>
<circle cx="500.3" cy="791.5" r="1.7" fill="#1f2a33"/>
<circle cx="489" cy="785.6" r="1.7" fill="#1f2a33"/>
<circle cx="508.4" cy="785.6" r="1.7" fill="#1f2a33"/>
<polygon points="508.1,779.1 511.4,779.1 514.8,792.3 511.5,792.3" fill="#f89c2c" />
<polygon points="511.5,779.1 514.8,779.1 518.4,792.3 515,792.3" fill="#f89c2c" />
<polygon points="514.9,779.1 518.2,779.1 521.9,792.3 518.5,792.3" fill="#f89c2c" />
<polygon points="247.6,793.7 270.6,793.6 270.5,795.7 247.4,795.8" fill="#f89c2c" />
<polygon points="247.4,795.9 270.5,795.8 270.3,797.8 247.2,798" fill="#f89c2c" />
<polygon points="247.1,798.1 270.3,798 270.2,800.1 246.9,800.2" fill="#f89c2c" />
<polygon points="235.8,800.8 239.2,800.8 237.6,814.8 234.1,814.8" fill="#f89c2c" />
<polygon points="239.3,800.8 242.7,800.8 241.2,814.8 237.7,814.8" fill="#f89c2c" />
<polygon points="242.8,800.8 246.2,800.8 244.8,814.7 241.3,814.8" fill="#f89c2c" />
<polygon points="250.5,802.5 267.2,802.4 266.4,812.7 249.5,812.8" fill="#f9a030" />
<circle cx="259.3" cy="801.2" r="1.7" fill="#1f2a33"/>
<circle cx="258.2" cy="813.8" r="1.7" fill="#1f2a33"/>
<circle cx="248.6" cy="807.6" r="1.7" fill="#1f2a33"/>
<circle cx="268.6" cy="807.5" r="1.7" fill="#1f2a33"/>
<polygon points="282,793.5 305,793.4 304.9,795.5 281.8,795.6" fill="#f89c2c" />
<polygon points="281.8,795.7 304.9,795.6 304.9,797.7 281.7,797.8" fill="#f89c2c" />
<polygon points="281.7,797.9 304.9,797.8 304.8,799.9 281.6,800" fill="#f89c2c" />
<polygon points="270.5,800.7 273.9,800.7 272.9,814.6 269.5,814.6" fill="#f89c2c" />
<polygon points="274,800.7 277.4,800.7 276.5,814.6 273.1,814.6" fill="#f89c2c" />
<polygon points="277.5,800.7 280.9,800.6 280.2,814.6 276.7,814.6" fill="#f89c2c" />
<polygon points="285.3,802.3 302,802.2 301.7,812.5 284.8,812.6" fill="#f9a030" />
<circle cx="294" cy="801" r="1.7" fill="#1f2a33"/>
<circle cx="293.6" cy="813.6" r="1.7" fill="#1f2a33"/>
<circle cx="283.6" cy="807.4" r="1.7" fill="#1f2a33"/>
<circle cx="303.6" cy="807.3" r="1.7" fill="#1f2a33"/>
<polygon points="316.3,793.4 339.4,793.3 339.4,795.3 316.3,795.4" fill="#f89c2c" />
<polygon points="316.3,795.6 339.4,795.4 339.5,797.5 316.3,797.6" fill="#f89c2c" />
<polygon points="316.3,797.7 339.5,797.6 339.5,799.7 316.3,799.8" fill="#f89c2c" />
<polygon points="305.2,800.5 308.6,800.5 308.3,814.4 304.8,814.4" fill="#f89c2c" />
<polygon points="308.7,800.5 312.1,800.5 311.9,814.4 308.4,814.4" fill="#f89c2c" />
<polygon points="312.2,800.5 315.6,800.5 315.5,814.4 312,814.4" fill="#f89c2c" />
<polygon points="320.1,802.2 336.8,802.1 337,812.3 320,812.4" fill="#f9a030" />
<circle cx="328.8" cy="800.8" r="1.7" fill="#1f2a33"/>
<circle cx="328.9" cy="813.5" r="1.7" fill="#1f2a33"/>
<circle cx="318.7" cy="807.3" r="1.7" fill="#1f2a33"/>
<circle cx="338.6" cy="807.2" r="1.7" fill="#1f2a33"/>
<polygon points="350.7,793.2 373.7,793.1 373.9,795.2 350.8,795.3" fill="#f89c2c" />
<polygon points="350.8,795.4 373.9,795.3 374,797.4 350.9,797.5" fill="#f89c2c" />
<polygon points="350.9,797.6 374,797.5 374.2,799.6 350.9,799.7" fill="#f89c2c" />
<polygon points="339.9,800.4 343.3,800.4 343.7,814.3 340.2,814.3" fill="#f89c2c" />
<polygon points="343.4,800.4 346.8,800.3 347.3,814.2 343.8,814.3" fill="#f89c2c" />
<polygon points="346.9,800.3 350.3,800.3 350.9,814.2 347.4,814.2" fill="#f89c2c" />
<polygon points="354.9,802 371.6,801.9 372.2,812.2 355.3,812.3" fill="#f9a030" />
<circle cx="363.5" cy="800.7" r="1.7" fill="#1f2a33"/>
<circle cx="364.2" cy="813.3" r="1.7" fill="#1f2a33"/>
<circle cx="353.7" cy="807.1" r="1.7" fill="#1f2a33"/>
<circle cx="373.6" cy="807" r="1.7" fill="#1f2a33"/>
<polygon points="385.1,793.1 408.1,793 408.3,795 385.2,795.1" fill="#f89c2c" />
<polygon points="385.3,795.2 408.3,795.1 408.6,797.2 385.4,797.3" fill="#f89c2c" />
<polygon points="385.4,797.4 408.6,797.3 408.8,799.4 385.6,799.5" fill="#f89c2c" />
<polygon points="374.6,800.2 378,800.2 379,814.1 375.5,814.1" fill="#f89c2c" />
<polygon points="378.1,800.2 381.5,800.2 382.6,814.1 379.2,814.1" fill="#f89c2c" />
<polygon points="381.6,800.2 385,800.2 386.2,814.1 382.8,814.1" fill="#f89c2c" />
<polygon points="389.6,801.8 406.3,801.8 407.5,812 390.6,812.1" fill="#f9a030" />
<circle cx="398.2" cy="800.5" r="1.7" fill="#1f2a33"/>
<circle cx="399.5" cy="813.1" r="1.7" fill="#1f2a33"/>
<circle cx="388.7" cy="806.9" r="1.7" fill="#1f2a33"/>
<circle cx="408.7" cy="806.8" r="1.7" fill="#1f2a33"/>
<polygon points="419.4,792.9 442.5,792.8 442.8,794.9 419.7,795" fill="#f89c2c" />
<polygon points="419.7,795.1 442.8,795 443.2,797.1 420,797.2" fill="#f89c2c" />
<polygon points="420,797.3 443.2,797.2 443.5,799.3 420.3,799.4" fill="#f89c2c" />
<polygon points="409.3,800.1 412.7,800 414.4,813.9 410.9,813.9" fill="#f89c2c" />
<polygon points="412.8,800 416.2,800 418,813.9 414.5,813.9" fill="#f89c2c" />
<polygon points="416.3,800 419.7,800 421.6,813.9 418.1,813.9" fill="#f89c2c" />
<polygon points="424.4,801.7 441.1,801.6 442.8,811.8 425.8,811.9" fill="#f9a030" />
<circle cx="432.9" cy="800.4" r="1.7" fill="#1f2a33"/>
<circle cx="434.8" cy="813" r="1.7" fill="#1f2a33"/>
<circle cx="423.7" cy="806.8" r="1.7" fill="#1f2a33"/>
<circle cx="443.7" cy="806.7" r="1.7" fill="#1f2a33"/>
<polygon points="453.8,792.8 476.8,792.7 477.3,794.7 454.2,794.8" fill="#f89c2c" />
<polygon points="454.2,794.9 477.3,794.8 477.7,796.9 454.6,797" fill="#f89c2c" />
<polygon points="454.6,797.1 477.7,797 478.2,799.1 455,799.2" fill="#f89c2c" />
<polygon points="444,799.9 447.4,799.9 449.7,813.7 446.3,813.8" fill="#f89c2c" />
<polygon points="447.5,799.9 450.9,799.9 453.3,813.7 449.9,813.7" fill="#f89c2c" />
<polygon points="451,799.9 454.4,799.8 456.9,813.7 453.5,813.7" fill="#f89c2c" />
<polygon points="459.2,801.5 475.9,801.4 478,811.7 461.1,811.7" fill="#f9a030" />
<circle cx="467.6" cy="800.2" r="1.7" fill="#1f2a33"/>
<circle cx="470.1" cy="812.8" r="1.7" fill="#1f2a33"/>
<circle cx="458.7" cy="806.6" r="1.7" fill="#1f2a33"/>
<circle cx="478.7" cy="806.5" r="1.7" fill="#1f2a33"/>
<polygon points="488.2,792.6 511.2,792.5 511.7,794.6 488.6,794.7" fill="#f89c2c" />
<polygon points="488.7,794.8 511.8,794.7 512.3,796.8 489.1,796.9" fill="#f89c2c" />
<polygon points="489.2,797 512.3,796.9 512.9,799 489.6,799.1" fill="#f89c2c" />
<polygon points="478.7,799.7 482.1,799.7 485.1,813.6 481.6,813.6" fill="#f89c2c" />
<polygon points="482.2,799.7 485.6,799.7 488.7,813.6 485.2,813.6" fill="#f89c2c" />
<polygon points="485.7,799.7 489.1,799.7 492.3,813.5 488.8,813.6" fill="#f89c2c" />
<polygon points="494,801.4 510.7,801.3 513.3,811.5 496.4,811.6" fill="#f9a030" />
<circle cx="502.4" cy="800.1" r="1.7" fill="#1f2a33"/>
<circle cx="505.4" cy="812.6" r="1.7" fill="#1f2a33"/>
<circle cx="493.8" cy="806.4" r="1.7" fill="#1f2a33"/>
<circle cx="513.7" cy="806.3" r="1.7" fill="#1f2a33"/>
<polygon points="513.4,799.6 516.8,799.6 520.4,813.4 517,813.4" fill="#f89c2c" />
<polygon points="516.9,799.6 520.3,799.5 524,813.4 520.6,813.4" fill="#f89c2c" />
<polygon points="520.5,799.5 523.9,799.5 527.6,813.4 524.2,813.4" fill="#f89c2c" />
<polygon points="245.4,815 269.1,814.8 269,817 245.2,817.1" fill="#f89c2c" />
<polygon points="245.2,817.2 268.9,817.1 268.8,819.3 244.9,819.4" fill="#f89c2c" />
<polygon points="244.9,819.6 268.8,819.4 268.6,821.6 244.7,821.8" fill="#f89c2c" />
<polygon points="233.2,822.5 236.7,822.5 235.1,837.1 231.5,837.1" fill="#f89c2c" />
<polygon points="236.9,822.5 240.4,822.4 238.8,837 235.2,837.1" fill="#f89c2c" />
<polygon points="240.5,822.4 244,822.4 242.5,837 238.9,837" fill="#f89c2c" />
<polygon points="248.4,824.2 265.6,824.1 264.8,834.9 247.3,834.9" fill="#f9a030" />
<circle cx="257.5" cy="822.8" r="1.7" fill="#1f2a33"/>
<circle cx="256.3" cy="836" r="1.7" fill="#1f2a33"/>
<circle cx="246.4" cy="829.5" r="1.7" fill="#1f2a33"/>
<circle cx="267" cy="829.4" r="1.7" fill="#1f2a33"/>
<polygon points="280.8,814.8 304.5,814.7 304.4,816.8 280.7,817" fill="#f89c2c" />
<polygon points="280.6,817.1 304.4,817 304.4,819.1 280.5,819.3" fill="#f89c2c" />
<polygon points="280.5,819.4 304.4,819.3 304.3,821.5 280.4,821.6" fill="#f89c2c" />
<polygon points="268.9,822.3 272.4,822.3 271.5,836.9 267.9,836.9" fill="#f89c2c" />
<polygon points="272.6,822.3 276.1,822.3 275.2,836.8 271.6,836.9" fill="#f89c2c" />
<polygon points="276.2,822.3 279.7,822.2 278.9,836.8 275.3,836.8" fill="#f89c2c" />
<polygon points="284.2,824 301.4,823.9 301.1,834.7 283.7,834.8" fill="#f9a030" />
<circle cx="293.2" cy="822.6" r="1.7" fill="#1f2a33"/>
<circle cx="292.7" cy="835.8" r="1.7" fill="#1f2a33"/>
<circle cx="282.5" cy="829.4" r="1.7" fill="#1f2a33"/>
<circle cx="303" cy="829.2" r="1.7" fill="#1f2a33"/>
<polygon points="316.1,814.6 339.8,814.5 339.9,816.7 316.1,816.8" fill="#f89c2c" />
<polygon points="316.1,816.9 339.9,816.8 339.9,819 316.1,819.1" fill="#f89c2c" />
<polygon points="316.1,819.2 339.9,819.1 340,821.3 316.1,821.4" fill="#f89c2c" />
<polygon points="304.6,822.1 308.1,822.1 307.9,836.7 304.3,836.7" fill="#f89c2c" />
<polygon points="308.3,822.1 311.8,822.1 311.6,836.6 308,836.7" fill="#f89c2c" />
<polygon points="311.9,822.1 315.4,822.1 315.3,836.6 311.7,836.6" fill="#f89c2c" />
<polygon points="320,823.8 337.2,823.7 337.4,834.5 320,834.6" fill="#f9a030" />
<circle cx="328.9" cy="822.4" r="1.7" fill="#1f2a33"/>
<circle cx="329" cy="835.6" r="1.7" fill="#1f2a33"/>
<circle cx="318.5" cy="829.2" r="1.7" fill="#1f2a33"/>
<circle cx="339.1" cy="829.1" r="1.7" fill="#1f2a33"/>
<polygon points="351.5,814.4 375.2,814.3 375.4,816.5 351.6,816.6" fill="#f89c2c" />
<polygon points="351.6,816.7 375.4,816.6 375.5,818.8 351.7,818.9" fill="#f89c2c" />
<polygon points="351.7,819 375.5,818.9 375.7,821.1 351.8,821.2" fill="#f89c2c" />
<polygon points="340.4,821.9 343.9,821.9 344.3,836.5 340.7,836.5" fill="#f89c2c" />
<polygon points="344,821.9 347.5,821.9 348,836.5 344.4,836.5" fill="#f89c2c" />
<polygon points="347.7,821.9 351.2,821.9 351.7,836.4 348.1,836.5" fill="#f89c2c" />
<polygon points="355.8,823.6 373,823.5 373.7,834.3 356.3,834.4" fill="#f9a030" />
<circle cx="364.7" cy="822.3" r="1.7" fill="#1f2a33"/>
<circle cx="365.4" cy="835.5" r="1.7" fill="#1f2a33"/>
<circle cx="354.6" cy="829" r="1.7" fill="#1f2a33"/>
<circle cx="375.1" cy="828.9" r="1.7" fill="#1f2a33"/>
<polygon points="386.9,814.3 410.6,814.2 410.8,816.3 387.1,816.4" fill="#f89c2c" />
<polygon points="387.1,816.6 410.8,816.4 411.1,818.6 387.3,818.7" fill="#f89c2c" />
<polygon points="387.3,818.8 411.1,818.7 411.4,820.9 387.5,821" fill="#f89c2c" />
<polygon points="376.1,821.8 379.6,821.7 380.7,836.3 377.1,836.3" fill="#f89c2c" />
<polygon points="379.7,821.7 383.2,821.7 384.4,836.3 380.8,836.3" fill="#f89c2c" />
<polygon points="383.4,821.7 386.9,821.7 388.1,836.2 384.5,836.3" fill="#f89c2c" />
<polygon points="391.6,823.4 408.8,823.4 410,834.1 392.6,834.2" fill="#f9a030" />
<circle cx="400.4" cy="822.1" r="1.7" fill="#1f2a33"/>
<circle cx="401.8" cy="835.3" r="1.7" fill="#1f2a33"/>
<circle cx="390.6" cy="828.8" r="1.7" fill="#1f2a33"/>
<circle cx="411.2" cy="828.7" r="1.7" fill="#1f2a33"/>
<polygon points="422.2,814.1 445.9,814 446.3,816.2 422.5,816.3" fill="#f89c2c" />
<polygon points="422.5,816.4 446.3,816.3 446.7,818.4 422.8,818.6" fill="#f89c2c" />
<polygon points="422.9,818.7 446.7,818.6 447.1,820.7 423.1,820.9" fill="#f89c2c" />
<polygon points="411.8,821.6 415.3,821.6 417.1,836.1 413.5,836.1" fill="#f89c2c" />
<polygon points="415.4,821.6 418.9,821.5 420.8,836.1 417.2,836.1" fill="#f89c2c" />
<polygon points="419.1,821.5 422.6,821.5 424.5,836.1 420.9,836.1" fill="#f89c2c" />
<polygon points="427.4,823.3 444.6,823.2 446.3,833.9 428.9,834" fill="#f9a030" />
<circle cx="436.2" cy="821.9" r="1.7" fill="#1f2a33"/>
<circle cx="438.1" cy="835.1" r="1.7" fill="#1f2a33"/>
<circle cx="426.7" cy="828.6" r="1.7" fill="#1f2a33"/>
<circle cx="447.2" cy="828.5" r="1.7" fill="#1f2a33"/>
<polygon points="457.6,813.9 481.3,813.8 481.8,816 458,816.1" fill="#f89c2c" />
<polygon points="458,816.2 481.8,816.1 482.2,818.3 458.4,818.4" fill="#f89c2c" />
<polygon points="458.4,818.5 482.3,818.4 482.7,820.6 458.8,820.7" fill="#f89c2c" />
<polygon points="447.5,821.4 451,821.4 453.5,835.9 449.9,835.9" fill="#f89c2c" />
<polygon points="451.2,821.4 454.7,821.4 457.2,835.9 453.6,835.9" fill="#f89c2c" />
<polygon points="454.8,821.4 458.3,821.3 460.9,835.9 457.3,835.9" fill="#f89c2c" />
<polygon points="463.2,823.1 480.4,823 482.6,833.7 465.2,833.8" fill="#f9a030" />
<circle cx="471.9" cy="821.7" r="1.7" fill="#1f2a33"/>
<circle cx="474.5" cy="834.9" r="1.7" fill="#1f2a33"/>
<circle cx="462.7" cy="828.4" r="1.7" fill="#1f2a33"/>
<circle cx="483.3" cy="828.3" r="1.7" fill="#1f2a33"/>
<polygon points="493,813.8 516.7,813.6 517.2,815.8 493.5,815.9" fill="#f89c2c" />
<polygon points="493.5,816 517.3,815.9 517.8,818.1 494,818.2" fill="#f89c2c" />
<polygon points="494,818.3 517.9,818.2 518.4,820.4 494.5,820.5" fill="#f89c2c" />
<polygon points="483.2,821.2 486.7,821.2 489.9,835.7 486.3,835.7" fill="#f89c2c" />
<polygon points="486.9,821.2 490.4,821.2 493.6,835.7 490,835.7" fill="#f89c2c" />
<polygon points="490.5,821.2 494,821.2 497.3,835.7 493.7,835.7" fill="#f89c2c" />
<polygon points="499,822.9 516.2,822.8 518.9,833.5 501.5,833.6" fill="#f9a030" />
<circle cx="507.6" cy="821.5" r="1.7" fill="#1f2a33"/>
<circle cx="510.8" cy="834.7" r="1.7" fill="#1f2a33"/>
<circle cx="498.8" cy="828.2" r="1.7" fill="#1f2a33"/>
<circle cx="519.3" cy="828.1" r="1.7" fill="#1f2a33"/>
<polygon points="519,821 522.5,821 526.3,835.5 522.7,835.5" fill="#f89c2c" />
<polygon points="522.6,821 526.1,821 530,835.5 526.4,835.5" fill="#f89c2c" />
<polygon points="526.2,821 529.7,821 533.7,835.5 530.1,835.5" fill="#f89c2c" />
<polygon points="243.1,837.2 267.5,837.1 267.4,839.4 242.9,839.5" fill="#f89c2c" />
<polygon points="242.9,839.6 267.3,839.5 267.2,841.8 242.6,841.9" fill="#f89c2c" />
<polygon points="242.6,842 267.2,841.9 267,844.2 242.4,844.4" fill="#f89c2c" />
<polygon points="230.5,845.1 234.2,845.1 232.4,860.3 228.7,860.4" fill="#f89c2c" />
<polygon points="234.3,845.1 237.9,845.1 236.2,860.3 232.6,860.3" fill="#f89c2c" />
<polygon points="238,845.1 241.7,845 240.1,860.3 236.4,860.3" fill="#f89c2c" />
<polygon points="246.2,846.9 263.9,846.8 263,858 245.1,858.1" fill="#f9a030" />
<circle cx="255.5" cy="845.4" r="1.7" fill="#1f2a33"/>
<circle cx="254.3" cy="859.3" r="1.7" fill="#1f2a33"/>
<circle cx="244.1" cy="852.5" r="1.7" fill="#1f2a33"/>
<circle cx="265.3" cy="852.4" r="1.7" fill="#1f2a33"/>
<polygon points="279.5,837 303.9,836.9 303.9,839.2 279.4,839.3" fill="#f89c2c" />
<polygon points="279.4,839.4 303.9,839.3 303.8,841.6 279.3,841.7" fill="#f89c2c" />
<polygon points="279.3,841.8 303.8,841.7 303.8,844 279.1,844.2" fill="#f89c2c" />
<polygon points="267.3,844.9 270.9,844.9 269.9,860.1 266.2,860.1" fill="#f89c2c" />
<polygon points="271.1,844.9 274.7,844.9 273.7,860.1 270.1,860.1" fill="#f89c2c" />
<polygon points="274.8,844.9 278.4,844.8 277.6,860.1 273.9,860.1" fill="#f89c2c" />
<polygon points="283,846.7 300.7,846.6 300.4,857.8 282.5,857.9" fill="#f9a030" />
<circle cx="292.3" cy="845.2" r="1.7" fill="#1f2a33"/>
<circle cx="291.8" cy="859" r="1.7" fill="#1f2a33"/>
<circle cx="281.3" cy="852.3" r="1.7" fill="#1f2a33"/>
<circle cx="302.4" cy="852.2" r="1.7" fill="#1f2a33"/>
<polygon points="315.9,836.9 340.3,836.7 340.4,839 315.9,839.1" fill="#f89c2c" />
<polygon points="315.9,839.2 340.4,839.1 340.4,841.4 315.9,841.5" fill="#f89c2c" />
<polygon points="315.9,841.7 340.5,841.5 340.5,843.8 315.9,844" fill="#f89c2c" />
<polygon points="304.1,844.7 307.7,844.7 307.4,859.9 303.7,859.9" fill="#f89c2c" />
<polygon points="307.9,844.7 311.5,844.7 311.2,859.9 307.6,859.9" fill="#f89c2c" />
<polygon points="311.6,844.7 315.2,844.6 315.1,859.9 311.4,859.9" fill="#f89c2c" />
<polygon points="319.9,846.5 337.6,846.4 337.8,857.6 319.9,857.7" fill="#f9a030" />
<circle cx="329.1" cy="845" r="1.7" fill="#1f2a33"/>
<circle cx="329.2" cy="858.8" r="1.7" fill="#1f2a33"/>
<circle cx="318.4" cy="852.1" r="1.7" fill="#1f2a33"/>
<circle cx="339.6" cy="851.9" r="1.7" fill="#1f2a33"/>
<polygon points="352.4,836.7 376.8,836.5 376.9,838.8 352.4,838.9" fill="#f89c2c" />
<polygon points="352.5,839.1 376.9,838.9 377.1,841.2 352.5,841.3" fill="#f89c2c" />
<polygon points="352.5,841.5 377.1,841.3 377.3,843.6 352.6,843.8" fill="#f89c2c" />
<polygon points="340.9,844.5 344.5,844.5 344.9,859.7 341.2,859.7" fill="#f89c2c" />
<polygon points="344.6,844.5 348.2,844.5 348.7,859.7 345.1,859.7" fill="#f89c2c" />
<polygon points="348.4,844.5 352,844.4 352.6,859.6 348.9,859.7" fill="#f89c2c" />
<polygon points="356.8,846.3 374.5,846.2 375.2,857.4 357.3,857.5" fill="#f9a030" />
<circle cx="365.9" cy="844.8" r="1.7" fill="#1f2a33"/>
<circle cx="366.7" cy="858.6" r="1.7" fill="#1f2a33"/>
<circle cx="355.5" cy="851.9" r="1.7" fill="#1f2a33"/>
<circle cx="376.7" cy="851.7" r="1.7" fill="#1f2a33"/>
<polygon points="388.8,836.5 413.2,836.3 413.4,838.6 389,838.7" fill="#f89c2c" />
<polygon points="389,838.9 413.5,838.7 413.7,841 389.2,841.1" fill="#f89c2c" />
<polygon points="389.2,841.3 413.7,841.1 414,843.4 389.4,843.6" fill="#f89c2c" />
<polygon points="377.7,844.3 381.3,844.3 382.4,859.5 378.7,859.5" fill="#f89c2c" />
<polygon points="381.4,844.3 385,844.3 386.2,859.5 382.6,859.5" fill="#f89c2c" />
<polygon points="385.2,844.3 388.8,844.2 390.1,859.4 386.4,859.5" fill="#f89c2c" />
<polygon points="393.7,846.1 411.3,846 412.6,857.2 394.7,857.3" fill="#f9a030" />
<circle cx="402.7" cy="844.6" r="1.7" fill="#1f2a33"/>
<circle cx="404.1" cy="858.4" r="1.7" fill="#1f2a33"/>
<circle cx="392.7" cy="851.7" r="1.7" fill="#1f2a33"/>
<circle cx="413.8" cy="851.5" r="1.7" fill="#1f2a33"/>
<polygon points="425.2,836.3 449.6,836.1 450,838.4 425.5,838.5" fill="#f89c2c" />
<polygon points="425.5,838.7 450,838.5 450.4,840.8 425.8,840.9" fill="#f89c2c" />
<polygon points="425.8,841.1 450.4,840.9 450.7,843.2 426.1,843.4" fill="#f89c2c" />
<polygon points="414.4,844.1 418.1,844.1 419.9,859.3 416.2,859.3" fill="#f89c2c" />
<polygon points="418.2,844.1 421.8,844.1 423.7,859.2 420.1,859.3" fill="#f89c2c" />
<polygon points="422,844.1 425.6,844 427.6,859.2 423.9,859.2" fill="#f89c2c" />
<polygon points="430.5,845.9 448.2,845.8 450,857 432.1,857.1" fill="#f9a030" />
<circle cx="439.5" cy="844.4" r="1.7" fill="#1f2a33"/>
<circle cx="441.6" cy="858.2" r="1.7" fill="#1f2a33"/>
<circle cx="429.8" cy="851.4" r="1.7" fill="#1f2a33"/>
<circle cx="451" cy="851.3" r="1.7" fill="#1f2a33"/>
<polygon points="461.6,836.1 486,836 486.5,838.2 462,838.4" fill="#f89c2c" />
<polygon points="462,838.5 486.5,838.3 487,840.6 462.4,840.7" fill="#f89c2c" />
<polygon points="462.5,840.9 487,840.7 487.5,843 462.9,843.2" fill="#f89c2c" />
<polygon points="451.2,843.9 454.8,843.9 457.4,859 453.7,859.1" fill="#f89c2c" />
<polygon points="455,843.9 458.6,843.9 461.2,859 457.6,859" fill="#f89c2c" />
<polygon points="458.7,843.9 462.3,843.8 465.1,859 461.4,859" fill="#f89c2c" />
<polygon points="467.4,845.7 485.1,845.6 487.4,856.7 469.5,856.9" fill="#f9a030" />
<circle cx="476.3" cy="844.2" r="1.7" fill="#1f2a33"/>
<circle cx="479" cy="858" r="1.7" fill="#1f2a33"/>
<circle cx="466.9" cy="851.2" r="1.7" fill="#1f2a33"/>
<circle cx="488.1" cy="851.1" r="1.7" fill="#1f2a33"/>
<polygon points="498,835.9 522.4,835.8 523,838 498.5,838.2" fill="#f89c2c" />
<polygon points="498.6,838.3 523,838.1 523.6,840.4 499.1,840.5" fill="#f89c2c" />
<polygon points="499.1,840.7 523.6,840.5 524.2,842.8 499.6,843" fill="#f89c2c" />
<polygon points="488,843.7 491.6,843.7 494.9,858.8 491.2,858.9" fill="#f89c2c" />
<polygon points="491.8,843.7 495.4,843.7 498.7,858.8 495.1,858.8" fill="#f89c2c" />
<polygon points="495.5,843.7 499.1,843.6 502.6,858.8 498.9,858.8" fill="#f89c2c" />
<polygon points="504.3,845.5 522,845.4 524.8,856.5 506.9,856.6" fill="#f9a030" />
<circle cx="513.1" cy="844" r="1.7" fill="#1f2a33"/>
<circle cx="516.5" cy="857.8" r="1.7" fill="#1f2a33"/>
<circle cx="504.1" cy="851" r="1.7" fill="#1f2a33"/>
<circle cx="525.2" cy="850.9" r="1.7" fill="#1f2a33"/>
<polygon points="524.8,843.5 528.4,843.5 532.4,858.6 528.7,858.6" fill="#f89c2c" />
<polygon points="528.5,843.5 532.1,843.5 536.2,858.6 532.5,858.6" fill="#f89c2c" />
<polygon points="532.3,843.5 535.9,843.4 540,858.6 536.4,858.6" fill="#f89c2c" />
<polygon points="240.7,860.5 265.9,860.4 265.7,862.8 240.5,862.9" fill="#f89c2c" />
<polygon points="240.5,863 265.7,862.9 265.5,865.3 240.2,865.4" fill="#f89c2c" />
<polygon points="240.2,865.5 265.5,865.4 265.3,867.8 240,868" fill="#f89c2c" />
<polygon points="227.8,868.7 231.5,868.7 229.7,884.6 225.9,884.6" fill="#f89c2c" />
<polygon points="231.6,868.7 235.3,868.7 233.6,884.6 229.8,884.6" fill="#f89c2c" />
<polygon points="235.5,868.7 239.2,868.7 237.6,884.6 233.8,884.6" fill="#f89c2c" />
<polygon points="243.9,870.6 262.1,870.5 261.2,882.2 242.7,882.3" fill="#f9a030" />
<circle cx="253.5" cy="869.1" r="1.7" fill="#1f2a33"/>
<circle cx="252.2" cy="883.5" r="1.7" fill="#1f2a33"/>
<circle cx="241.8" cy="876.4" r="1.7" fill="#1f2a33"/>
<circle cx="263.6" cy="876.3" r="1.7" fill="#1f2a33"/>
<polygon points="278.2,860.3 303.4,860.2 303.3,862.5 278.1,862.7" fill="#f89c2c" />
<polygon points="278.1,862.8 303.3,862.7 303.2,865.1 278,865.2" fill="#f89c2c" />
<polygon points="278,865.3 303.2,865.2 303.2,867.6 277.8,867.7" fill="#f89c2c" />
<polygon points="265.7,868.5 269.4,868.5 268.3,884.4 264.5,884.4" fill="#f89c2c" />
<polygon points="269.5,868.5 273.2,868.5 272.3,884.4 268.5,884.4" fill="#f89c2c" />
<polygon points="273.4,868.5 277.1,868.5 276.2,884.3 272.4,884.4" fill="#f89c2c" />
<polygon points="281.8,870.4 300.1,870.2 299.7,882 281.3,882.1" fill="#f9a030" />
<circle cx="291.4" cy="868.9" r="1.7" fill="#1f2a33"/>
<circle cx="290.8" cy="883.3" r="1.7" fill="#1f2a33"/>
<circle cx="280" cy="876.2" r="1.7" fill="#1f2a33"/>
<circle cx="301.8" cy="876.1" r="1.7" fill="#1f2a33"/>
<polygon points="315.7,860.1 340.9,860 340.9,862.3 315.7,862.5" fill="#f89c2c" />
<polygon points="315.7,862.6 340.9,862.4 341,864.8 315.7,865" fill="#f89c2c" />
<polygon points="315.7,865.1 341,865 341,867.4 315.7,867.5" fill="#f89c2c" />
<polygon points="303.5,868.3 307.3,868.3 307,884.1 303.2,884.2" fill="#f89c2c" />
<polygon points="307.4,868.3 311.1,868.3 310.9,884.1 307.1,884.1" fill="#f89c2c" />
<polygon points="311.3,868.3 315,868.2 314.8,884.1 311,884.1" fill="#f89c2c" />
<polygon points="319.8,870.1 338.1,870 338.3,881.7 319.8,881.8" fill="#f9a030" />
<circle cx="329.3" cy="868.6" r="1.7" fill="#1f2a33"/>
<circle cx="329.4" cy="883" r="1.7" fill="#1f2a33"/>
<circle cx="318.3" cy="876" r="1.7" fill="#1f2a33"/>
<circle cx="340.1" cy="875.8" r="1.7" fill="#1f2a33"/>
<polygon points="353.2,859.9 378.4,859.7 378.5,862.1 353.3,862.3" fill="#f89c2c" />
<polygon points="353.3,862.4 378.6,862.2 378.7,864.6 353.4,864.8" fill="#f89c2c" />
<polygon points="353.4,864.9 378.7,864.7 378.9,867.1 353.5,867.3" fill="#f89c2c" />
<polygon points="341.4,868.1 345.1,868.1 345.6,883.9 341.8,883.9" fill="#f89c2c" />
<polygon points="345.3,868.1 349,868 349.5,883.9 345.7,883.9" fill="#f89c2c" />
<polygon points="349.2,868 352.9,868 353.5,883.9 349.7,883.9" fill="#f89c2c" />
<polygon points="357.8,869.9 376,869.8 376.8,881.5 358.3,881.6" fill="#f9a030" />
<circle cx="367.2" cy="868.4" r="1.7" fill="#1f2a33"/>
<circle cx="368" cy="882.8" r="1.7" fill="#1f2a33"/>
<circle cx="356.5" cy="875.7" r="1.7" fill="#1f2a33"/>
<circle cx="378.3" cy="875.6" r="1.7" fill="#1f2a33"/>
<polygon points="390.8,859.7 415.9,859.5 416.2,861.9 391,862" fill="#f89c2c" />
<polygon points="391,862.2 416.2,862 416.5,864.4 391.2,864.5" fill="#f89c2c" />
<polygon points="391.2,864.7 416.5,864.5 416.8,866.9 391.4,867.1" fill="#f89c2c" />
<polygon points="379.3,867.9 383,867.8 384.2,883.7 380.4,883.7" fill="#f89c2c" />
<polygon points="383.2,867.8 386.9,867.8 388.2,883.6 384.4,883.7" fill="#f89c2c" />
<polygon points="387.1,867.8 390.8,867.8 392.1,883.6 388.3,883.6" fill="#f89c2c" />
<polygon points="395.8,869.7 414,869.6 415.3,881.3 396.9,881.4" fill="#f9a030" />
<circle cx="405.1" cy="868.2" r="1.7" fill="#1f2a33"/>
<circle cx="406.6" cy="882.5" r="1.7" fill="#1f2a33"/>
<circle cx="394.8" cy="875.5" r="1.7" fill="#1f2a33"/>
<circle cx="416.6" cy="875.4" r="1.7" fill="#1f2a33"/>
<polygon points="428.3,859.4 453.4,859.3 453.8,861.7 428.6,861.8" fill="#f89c2c" />
<polygon points="428.6,861.9 453.8,861.8 454.2,864.2 428.9,864.3" fill="#f89c2c" />
<polygon points="428.9,864.4 454.2,864.3 454.6,866.7 429.2,866.8" fill="#f89c2c" />
<polygon points="417.2,867.6 420.9,867.6 422.9,883.4 419.1,883.5" fill="#f89c2c" />
<polygon points="421.1,867.6 424.8,867.6 426.8,883.4 423,883.4" fill="#f89c2c" />
<polygon points="424.9,867.6 428.7,867.6 430.7,883.4 427,883.4" fill="#f89c2c" />
<polygon points="433.8,869.5 452,869.3 453.9,881 435.4,881.1" fill="#f9a030" />
<circle cx="443.1" cy="868" r="1.7" fill="#1f2a33"/>
<circle cx="445.2" cy="882.3" r="1.7" fill="#1f2a33"/>
<circle cx="433" cy="875.3" r="1.7" fill="#1f2a33"/>
<circle cx="454.9" cy="875.1" r="1.7" fill="#1f2a33"/>
<polygon points="465.8,859.2 490.9,859.1 491.4,861.5 466.2,861.6" fill="#f89c2c" />
<polygon points="466.2,861.7 491.4,861.6 491.9,864 466.6,864.1" fill="#f89c2c" />
<polygon points="466.7,864.2 492,864.1 492.5,866.5 467.1,866.6" fill="#f89c2c" />
<polygon points="455.1,867.4 458.8,867.4 461.5,883.2 457.7,883.2" fill="#f89c2c" />
<polygon points="459,867.4 462.7,867.4 465.4,883.2 461.7,883.2" fill="#f89c2c" />
<polygon points="462.8,867.4 466.5,867.3 469.4,883.1 465.6,883.2" fill="#f89c2c" />
<polygon points="471.8,869.2 490,869.1 492.4,880.8 473.9,880.9" fill="#f9a030" />
<circle cx="481" cy="867.7" r="1.7" fill="#1f2a33"/>
<circle cx="483.8" cy="882.1" r="1.7" fill="#1f2a33"/>
<circle cx="471.3" cy="875" r="1.7" fill="#1f2a33"/>
<circle cx="493.1" cy="874.9" r="1.7" fill="#1f2a33"/>
<polygon points="503.3,859 528.4,858.9 529,861.2 503.8,861.4" fill="#f89c2c" />
<polygon points="503.8,861.5 529.1,861.4 529.7,863.7 504.4,863.9" fill="#f89c2c" />
<polygon points="504.4,864 529.7,863.9 530.3,866.2 505,866.4" fill="#f89c2c" />
<polygon points="493,867.2 496.7,867.2 500.1,883 496.4,883" fill="#f89c2c" />
<polygon points="496.9,867.2 500.6,867.1 504.1,882.9 500.3,883" fill="#f89c2c" />
<polygon points="500.7,867.1 504.4,867.1 508,882.9 504.2,882.9" fill="#f89c2c" />
<polygon points="509.7,869 528,868.9 530.9,880.5 512.5,880.7" fill="#f9a030" />
<circle cx="518.9" cy="867.5" r="1.7" fill="#1f2a33"/>
<circle cx="522.4" cy="881.8" r="1.7" fill="#1f2a33"/>
<circle cx="509.6" cy="874.8" r="1.7" fill="#1f2a33"/>
<circle cx="531.4" cy="874.7" r="1.7" fill="#1f2a33"/>
<polygon points="530.9,867 534.6,866.9 538.8,882.7 535,882.7" fill="#f89c2c" />
<polygon points="534.8,866.9 538.5,866.9 542.7,882.7 538.9,882.7" fill="#f89c2c" />
<polygon points="538.6,866.9 542.3,866.9 546.7,882.7 542.9,882.7" fill="#f89c2c" />
<polygon points="238.2,884.8 264.1,884.7 263.9,887.1 238,887.3" fill="#f89c2c" />
<polygon points="238,887.4 263.9,887.3 263.8,889.8 237.7,889.9" fill="#f89c2c" />
<polygon points="237.7,890 263.7,889.9 263.6,892.4 237.4,892.6" fill="#f89c2c" />
<polygon points="224.9,893.4 228.7,893.4 226.8,909.9 222.9,909.9" fill="#f89c2c" />
<polygon points="228.8,893.4 232.7,893.3 230.9,909.9 227,909.9" fill="#f89c2c" />
<polygon points="232.8,893.3 236.7,893.3 234.9,909.9 231,909.9" fill="#f89c2c" />
<polygon points="241.5,895.3 260.2,895.2 259.3,907.4 240.3,907.5" fill="#f9a030" />
<circle cx="251.4" cy="893.7" r="1.7" fill="#1f2a33"/>
<circle cx="250.1" cy="908.7" r="1.7" fill="#1f2a33"/>
<circle cx="239.3" cy="901.4" r="1.7" fill="#1f2a33"/>
<circle cx="261.8" cy="901.2" r="1.7" fill="#1f2a33"/>
<polygon points="276.9,884.6 302.8,884.4 302.7,886.9 276.7,887.1" fill="#f89c2c" />
<polygon points="276.7,887.2 302.7,887 302.6,889.5 276.6,889.7" fill="#f89c2c" />
<polygon points="276.6,889.8 302.6,889.6 302.6,892.1 276.4,892.3" fill="#f89c2c" />
<polygon points="263.9,893.1 267.7,893.1 266.6,909.6 262.7,909.7" fill="#f89c2c" />
<polygon points="267.9,893.1 271.7,893.1 270.7,909.6 266.8,909.6" fill="#f89c2c" />
<polygon points="271.9,893.1 275.7,893.1 274.8,909.6 270.9,909.6" fill="#f89c2c" />
<polygon points="280.6,895 299.4,894.9 299,907.1 280,907.2" fill="#f9a030" />
<circle cx="290.4" cy="893.5" r="1.7" fill="#1f2a33"/>
<circle cx="289.9" cy="908.5" r="1.7" fill="#1f2a33"/>
<circle cx="278.7" cy="901.1" r="1.7" fill="#1f2a33"/>
<circle cx="301.2" cy="901" r="1.7" fill="#1f2a33"/>
<polygon points="315.5,884.3 341.4,884.2 341.5,886.7 315.5,886.8" fill="#f89c2c" />
<polygon points="315.5,886.9 341.5,886.8 341.5,889.3 315.5,889.4" fill="#f89c2c" />
<polygon points="315.5,889.6 341.5,889.4 341.6,891.9 315.5,892.1" fill="#f89c2c" />
<polygon points="303,892.9 306.8,892.9 306.5,909.4 302.6,909.4" fill="#f89c2c" />
<polygon points="306.9,892.9 310.8,892.8 310.5,909.4 306.6,909.4" fill="#f89c2c" />
<polygon points="310.9,892.8 314.7,892.8 314.6,909.3 310.7,909.4" fill="#f89c2c" />
<polygon points="319.7,894.8 338.5,894.7 338.8,906.9 319.7,907" fill="#f9a030" />
<circle cx="329.5" cy="893.2" r="1.7" fill="#1f2a33"/>
<circle cx="329.6" cy="908.2" r="1.7" fill="#1f2a33"/>
<circle cx="318.1" cy="900.9" r="1.7" fill="#1f2a33"/>
<circle cx="340.6" cy="900.7" r="1.7" fill="#1f2a33"/>
<polygon points="354.2,884.1 380.1,883.9 380.2,886.4 354.3,886.6" fill="#f89c2c" />
<polygon points="354.3,886.7 380.3,886.5 380.4,889 354.4,889.2" fill="#f89c2c" />
<polygon points="354.4,889.3 380.4,889.2 380.6,891.6 354.5,891.8" fill="#f89c2c" />
<polygon points="342,892.6 345.8,892.6 346.3,909.1 342.4,909.1" fill="#f89c2c" />
<polygon points="346,892.6 349.8,892.6 350.4,909.1 346.4,909.1" fill="#f89c2c" />
<polygon points="350,892.6 353.8,892.6 354.4,909.1 350.5,909.1" fill="#f89c2c" />
<polygon points="358.9,894.5 377.7,894.4 378.5,906.6 359.4,906.7" fill="#f9a030" />
<circle cx="368.6" cy="893" r="1.7" fill="#1f2a33"/>
<circle cx="369.4" cy="907.9" r="1.7" fill="#1f2a33"/>
<circle cx="357.6" cy="900.6" r="1.7" fill="#1f2a33"/>
<circle cx="380" cy="900.5" r="1.7" fill="#1f2a33"/>
<polygon points="392.8,883.9 418.7,883.7 419,886.2 393,886.3" fill="#f89c2c" />
<polygon points="393,886.5 419,886.3 419.3,888.8 393.3,888.9" fill="#f89c2c" />
<polygon points="393.3,889.1 419.3,888.9 419.6,891.4 393.5,891.6" fill="#f89c2c" />
<polygon points="381.1,892.4 384.9,892.4 386.1,908.9 382.2,908.9" fill="#f89c2c" />
<polygon points="385,892.4 388.9,892.3 390.2,908.8 386.3,908.9" fill="#f89c2c" />
<polygon points="389,892.3 392.8,892.3 394.2,908.8 390.3,908.8" fill="#f89c2c" />
<polygon points="398,894.3 416.8,894.2 418.2,906.3 399.1,906.5" fill="#f9a030" />
<circle cx="407.7" cy="892.7" r="1.7" fill="#1f2a33"/>
<circle cx="409.2" cy="907.7" r="1.7" fill="#1f2a33"/>
<circle cx="397" cy="900.4" r="1.7" fill="#1f2a33"/>
<circle cx="419.5" cy="900.2" r="1.7" fill="#1f2a33"/>
<polygon points="431.5,883.6 457.4,883.5 457.8,885.9 431.8,886.1" fill="#f89c2c" />
<polygon points="431.8,886.2 457.8,886.1 458.2,888.5 432.1,888.7" fill="#f89c2c" />
<polygon points="432.2,888.8 458.2,888.7 458.6,891.2 432.5,891.3" fill="#f89c2c" />
<polygon points="420.1,892.1 423.9,892.1 425.9,908.6 422,908.6" fill="#f89c2c" />
<polygon points="424.1,892.1 427.9,892.1 430,908.6 426.1,908.6" fill="#f89c2c" />
<polygon points="428.1,892.1 431.9,892.1 434.1,908.5 430.2,908.6" fill="#f89c2c" />
<polygon points="437.2,894 456,893.9 457.9,906.1 438.8,906.2" fill="#f9a030" />
<circle cx="446.7" cy="892.5" r="1.7" fill="#1f2a33"/>
<circle cx="449" cy="907.4" r="1.7" fill="#1f2a33"/>
<circle cx="436.4" cy="900.1" r="1.7" fill="#1f2a33"/>
<circle cx="458.9" cy="900" r="1.7" fill="#1f2a33"/>
<polygon points="470.1,883.4 496,883.2 496.5,885.7 470.6,885.9" fill="#f89c2c" />
<polygon points="470.6,886 496.6,885.8 497.1,888.3 471,888.5" fill="#f89c2c" />
<polygon points="471.1,888.6 497.1,888.4 497.6,890.9 471.5,891.1" fill="#f89c2c" />
<polygon points="459.1,891.9 463,891.9 465.8,908.3 461.9,908.4" fill="#f89c2c" />
<polygon points="463.1,891.9 467,891.9 469.8,908.3 465.9,908.3" fill="#f89c2c" />
<polygon points="467.1,891.9 470.9,891.8 473.9,908.3 470,908.3" fill="#f89c2c" />
<polygon points="476.3,893.8 495.1,893.7 497.6,905.8 478.6,905.9" fill="#f9a030" />
<circle cx="485.8" cy="892.2" r="1.7" fill="#1f2a33"/>
<circle cx="488.7" cy="907.2" r="1.7" fill="#1f2a33"/>
<circle cx="475.9" cy="899.9" r="1.7" fill="#1f2a33"/>
<circle cx="498.3" cy="899.7" r="1.7" fill="#1f2a33"/>
<polygon points="508.8,883.1 534.7,883 535.3,885.4 509.3,885.6" fill="#f89c2c" />
<polygon points="509.4,885.7 535.3,885.6 536,888 509.9,888.2" fill="#f89c2c" />
<polygon points="510,888.3 536,888.2 536.7,890.7 510.5,890.8" fill="#f89c2c" />
<polygon points="498.2,891.7 502,891.6 505.6,908.1 501.7,908.1" fill="#f89c2c" />
<polygon points="502.2,891.6 506,891.6 509.7,908 505.7,908.1" fill="#f89c2c" />
<polygon points="506.2,891.6 510,891.6 513.7,908 509.8,908" fill="#f89c2c" />
<polygon points="515.5,893.5 534.2,893.4 537.3,905.6 518.3,905.7" fill="#f9a030" />
<circle cx="524.9" cy="892" r="1.7" fill="#1f2a33"/>
<circle cx="528.5" cy="906.9" r="1.7" fill="#1f2a33"/>
<circle cx="515.3" cy="899.6" r="1.7" fill="#1f2a33"/>
<circle cx="537.8" cy="899.4" r="1.7" fill="#1f2a33"/>
<polygon points="537.2,891.4 541.1,891.4 545.4,907.8 541.5,907.8" fill="#f89c2c" />
<polygon points="541.2,891.4 545.1,891.4 549.5,907.8 545.6,907.8" fill="#f89c2c" />
<polygon points="545.2,891.4 549,891.3 553.5,907.8 549.6,907.8" fill="#f89c2c" />
<polygon points="235.6,910.1 262.3,909.9 262.1,912.5 235.4,912.7" fill="#f89c2c" />
<polygon points="235.3,912.8 262.1,912.6 261.9,915.2 235.1,915.4" fill="#f89c2c" />
<polygon points="235.1,915.6 261.9,915.4 261.7,918 234.8,918.2" fill="#f89c2c" />
<polygon points="221.8,919 225.8,919 223.8,936.2 219.8,936.2" fill="#f89c2c" />
<polygon points="225.9,919 229.9,919 228,936.2 224,936.2" fill="#f89c2c" />
<polygon points="230,919 234,918.9 232.2,936.1 228.2,936.2" fill="#f89c2c" />
<polygon points="238.9,921 258.3,920.9 257.4,933.6 237.7,933.7" fill="#f9a030" />
<circle cx="249.2" cy="919.4" r="1.7" fill="#1f2a33"/>
<circle cx="247.8" cy="935" r="1.7" fill="#1f2a33"/>
<circle cx="236.7" cy="927.3" r="1.7" fill="#1f2a33"/>
<circle cx="259.9" cy="927.2" r="1.7" fill="#1f2a33"/>
<polygon points="275.5,909.8 302.2,909.7 302.1,912.3 275.3,912.4" fill="#f89c2c" />
<polygon points="275.3,912.6 302.1,912.4 302,915 275.2,915.2" fill="#f89c2c" />
<polygon points="275.2,915.3 302,915.1 302,917.7 275,917.9" fill="#f89c2c" />
<polygon points="262.1,918.8 266,918.7 264.9,935.9 260.9,935.9" fill="#f89c2c" />
<polygon points="266.2,918.7 270.1,918.7 269.1,935.9 265.1,935.9" fill="#f89c2c" />
<polygon points="270.3,918.7 274.2,918.7 273.3,935.9 269.2,935.9" fill="#f89c2c" />
<polygon points="279.3,920.7 298.7,920.6 298.3,933.3 278.6,933.4" fill="#f9a030" />
<circle cx="289.4" cy="919.1" r="1.7" fill="#1f2a33"/>
<circle cx="288.8" cy="934.7" r="1.7" fill="#1f2a33"/>
<circle cx="277.3" cy="927.1" r="1.7" fill="#1f2a33"/>
<circle cx="300.5" cy="926.9" r="1.7" fill="#1f2a33"/>
<polygon points="315.3,909.6 342,909.4 342.1,912 315.3,912.2" fill="#f89c2c" />
<polygon points="315.3,912.3 342.1,912.1 342.1,914.7 315.3,914.9" fill="#f89c2c" />
<polygon points="315.3,915 342.1,914.8 342.2,917.4 315.2,917.6" fill="#f89c2c" />
<polygon points="302.3,918.5 306.3,918.5 306,935.6 301.9,935.7" fill="#f89c2c" />
<polygon points="306.4,918.5 310.4,918.4 310.1,935.6 306.1,935.6" fill="#f89c2c" />
<polygon points="310.6,918.4 314.5,918.4 314.3,935.6 310.3,935.6" fill="#f89c2c" />
<polygon points="319.6,920.5 339,920.3 339.3,933 319.6,933.1" fill="#f9a030" />
<circle cx="329.7" cy="918.8" r="1.7" fill="#1f2a33"/>
<circle cx="329.8" cy="934.4" r="1.7" fill="#1f2a33"/>
<circle cx="318" cy="926.8" r="1.7" fill="#1f2a33"/>
<circle cx="341.2" cy="926.6" r="1.7" fill="#1f2a33"/>
<polygon points="355.1,909.3 381.8,909.1 382,911.7 355.2,911.9" fill="#f89c2c" />
<polygon points="355.2,912 382,911.8 382.2,914.4 355.3,914.6" fill="#f89c2c" />
<polygon points="355.3,914.7 382.2,914.6 382.4,917.2 355.4,917.3" fill="#f89c2c" />
<polygon points="342.6,918.2 346.5,918.2 347,935.3 343,935.4" fill="#f89c2c" />
<polygon points="346.7,918.2 350.6,918.2 351.2,935.3 347.2,935.3" fill="#f89c2c" />
<polygon points="350.8,918.2 354.8,918.1 355.4,935.3 351.4,935.3" fill="#f89c2c" />
<polygon points="360,920.2 379.4,920 380.2,932.7 360.5,932.8" fill="#f9a030" />
<circle cx="370" cy="918.5" r="1.7" fill="#1f2a33"/>
<circle cx="370.9" cy="934.1" r="1.7" fill="#1f2a33"/>
<circle cx="358.6" cy="926.5" r="1.7" fill="#1f2a33"/>
<circle cx="381.8" cy="926.3" r="1.7" fill="#1f2a33"/>
<polygon points="395,909.1 421.7,908.9 422,911.5 395.2,911.6" fill="#f89c2c" />
<polygon points="395.2,911.8 422,911.6 422.3,914.2 395.4,914.3" fill="#f89c2c" />
<polygon points="395.4,914.5 422.3,914.3 422.6,916.9 395.7,917.1" fill="#f89c2c" />
<polygon points="382.8,917.9 386.8,917.9 388.1,935 384.1,935.1" fill="#f89c2c" />
<polygon points="387,917.9 390.9,917.9 392.3,935 388.2,935" fill="#f89c2c" />
<polygon points="391.1,917.9 395,917.9 396.5,935 392.4,935" fill="#f89c2c" />
<polygon points="400.3,919.9 419.7,919.8 421.1,932.4 401.5,932.6" fill="#f9a030" />
<circle cx="410.3" cy="918.3" r="1.7" fill="#1f2a33"/>
<circle cx="411.9" cy="933.8" r="1.7" fill="#1f2a33"/>
<circle cx="399.3" cy="926.2" r="1.7" fill="#1f2a33"/>
<circle cx="422.5" cy="926.1" r="1.7" fill="#1f2a33"/>
<polygon points="434.8,908.8 461.5,908.6 461.9,911.2 435.2,911.4" fill="#f89c2c" />
<polygon points="435.2,911.5 461.9,911.3 462.4,913.9 435.5,914.1" fill="#f89c2c" />
<polygon points="435.5,914.2 462.4,914 462.8,916.6 435.9,916.8" fill="#f89c2c" />
<polygon points="423.1,917.7 427,917.6 429.1,934.8 425.1,934.8" fill="#f89c2c" />
<polygon points="427.2,917.6 431.2,917.6 433.3,934.7 429.3,934.8" fill="#f89c2c" />
<polygon points="431.3,917.6 435.3,917.6 437.5,934.7 433.5,934.7" fill="#f89c2c" />
<polygon points="440.7,919.6 460.1,919.5 462.1,932.1 442.4,932.3" fill="#f9a030" />
<circle cx="450.5" cy="918" r="1.7" fill="#1f2a33"/>
<circle cx="452.9" cy="933.5" r="1.7" fill="#1f2a33"/>
<circle cx="439.9" cy="925.9" r="1.7" fill="#1f2a33"/>
<circle cx="463.1" cy="925.8" r="1.7" fill="#1f2a33"/>
<polygon points="474.7,908.5 501.3,908.4 501.9,910.9 475.1,911.1" fill="#f89c2c" />
<polygon points="475.1,911.2 501.9,911 502.5,913.6 475.6,913.8" fill="#f89c2c" />
<polygon points="475.6,913.9 502.5,913.8 503,916.3 476.1,916.5" fill="#f89c2c" />
<polygon points="463.4,917.4 467.3,917.4 470.2,934.5 466.2,934.5" fill="#f89c2c" />
<polygon points="467.5,917.4 471.4,917.3 474.4,934.4 470.4,934.5" fill="#f89c2c" />
<polygon points="471.6,917.3 475.5,917.3 478.6,934.4 474.6,934.4" fill="#f89c2c" />
<polygon points="481,919.4 500.4,919.2 503,931.8 483.4,932" fill="#f9a030" />
<circle cx="490.8" cy="917.7" r="1.7" fill="#1f2a33"/>
<circle cx="493.9" cy="933.2" r="1.7" fill="#1f2a33"/>
<circle cx="480.6" cy="925.7" r="1.7" fill="#1f2a33"/>
<circle cx="503.8" cy="925.5" r="1.7" fill="#1f2a33"/>
<polygon points="514.5,908.3 541.2,908.1 541.8,910.7 515.1,910.8" fill="#f89c2c" />
<polygon points="515.1,911 541.9,910.8 542.5,913.4 515.7,913.5" fill="#f89c2c" />
<polygon points="515.7,913.7 542.6,913.5 543.3,916.1 516.3,916.3" fill="#f89c2c" />
<polygon points="503.6,917.1 507.5,917.1 511.3,934.2 507.2,934.2" fill="#f89c2c" />
<polygon points="507.7,917.1 511.7,917.1 515.4,934.2 511.4,934.2" fill="#f89c2c" />
<polygon points="511.8,917.1 515.8,917 519.6,934.1 515.6,934.2" fill="#f89c2c" />
<polygon points="521.4,919.1 540.8,919 544,931.6 524.3,931.7" fill="#f9a030" />
<circle cx="531.1" cy="917.5" r="1.7" fill="#1f2a33"/>
<circle cx="534.9" cy="933" r="1.7" fill="#1f2a33"/>
<circle cx="521.2" cy="925.4" r="1.7" fill="#1f2a33"/>
<circle cx="544.4" cy="925.2" r="1.7" fill="#1f2a33"/>
<polygon points="543.9,916.8 547.8,916.8 552.3,933.9 548.3,933.9" fill="#f89c2c" />
<polygon points="548,916.8 551.9,916.8 556.5,933.9 552.5,933.9" fill="#f89c2c" />
<polygon points="552.1,916.8 556,916.8 560.7,933.8 556.7,933.9" fill="#f89c2c" />
<polygon points="232.9,936.4 260.4,936.2 260.3,938.9 232.6,939.1" fill="#f89c2c" />
<polygon points="232.6,939.2 260.2,939 260,941.7 232.4,941.9" fill="#f89c2c" />
<polygon points="232.3,942.1 260,941.9 259.8,944.6 232.1,944.8" fill="#f89c2c" />
<polygon points="218.7,945.7 222.8,945.6 220.7,963.5 216.6,963.5" fill="#f89c2c" />
<polygon points="222.9,945.6 227,945.6 225.1,963.5 220.9,963.5" fill="#f89c2c" />
<polygon points="227.2,945.6 231.2,945.6 229.4,963.4 225.2,963.5" fill="#f89c2c" />
<polygon points="236.3,947.7 256.3,947.6 255.3,960.7 235,960.9" fill="#f9a030" />
<circle cx="246.9" cy="946" r="1.7" fill="#1f2a33"/>
<circle cx="245.5" cy="962.2" r="1.7" fill="#1f2a33"/>
<circle cx="234" cy="954.3" r="1.7" fill="#1f2a33"/>
<circle cx="257.9" cy="954.1" r="1.7" fill="#1f2a33"/>
<polygon points="274,936.1 301.5,935.9 301.4,938.6 273.8,938.8" fill="#f89c2c" />
<polygon points="273.8,938.9 301.4,938.7 301.4,941.4 273.7,941.6" fill="#f89c2c" />
<polygon points="273.7,941.8 301.4,941.6 301.3,944.3 273.5,944.5" fill="#f89c2c" />
<polygon points="260.2,945.4 264.3,945.3 263.1,963.2 258.9,963.2" fill="#f89c2c" />
<polygon points="264.4,945.3 268.5,945.3 267.4,963.1 263.3,963.2" fill="#f89c2c" />
<polygon points="268.7,945.3 272.7,945.3 271.7,963.1 267.6,963.1" fill="#f89c2c" />
<polygon points="277.9,947.4 297.9,947.3 297.5,960.4 277.3,960.6" fill="#f9a030" />
<circle cx="288.4" cy="945.7" r="1.7" fill="#1f2a33"/>
<circle cx="287.8" cy="961.9" r="1.7" fill="#1f2a33"/>
<circle cx="275.9" cy="954" r="1.7" fill="#1f2a33"/>
<circle cx="299.8" cy="953.8" r="1.7" fill="#1f2a33"/>
<polygon points="315.1,935.8 342.6,935.6 342.6,938.3 315,938.5" fill="#f89c2c" />
<polygon points="315,938.6 342.7,938.4 342.7,941.1 315,941.3" fill="#f89c2c" />
<polygon points="315,941.5 342.7,941.3 342.8,944 315,944.2" fill="#f89c2c" />
<polygon points="301.7,945.1 305.8,945 305.4,962.9 301.3,962.9" fill="#f89c2c" />
<polygon points="305.9,945 310,945 309.7,962.8 305.6,962.9" fill="#f89c2c" />
<polygon points="310.2,945 314.2,945 314.1,962.8 309.9,962.8" fill="#f89c2c" />
<polygon points="319.5,947.1 339.5,947 339.8,960.1 319.5,960.3" fill="#f9a030" />
<circle cx="329.9" cy="945.4" r="1.7" fill="#1f2a33"/>
<circle cx="330.1" cy="961.6" r="1.7" fill="#1f2a33"/>
<circle cx="317.8" cy="953.7" r="1.7" fill="#1f2a33"/>
<circle cx="341.7" cy="953.5" r="1.7" fill="#1f2a33"/>
<polygon points="356.1,935.5 383.7,935.3 383.8,938 356.2,938.2" fill="#f89c2c" />
<polygon points="356.2,938.4 383.9,938.2 384,940.8 356.4,941" fill="#f89c2c" />
<polygon points="356.4,941.2 384.1,941 384.2,943.7 356.5,943.9" fill="#f89c2c" />
<polygon points="343.2,944.8 347.3,944.7 347.8,962.6 343.6,962.6" fill="#f89c2c" />
<polygon points="347.4,944.7 351.5,944.7 352.1,962.5 347.9,962.5" fill="#f89c2c" />
<polygon points="351.7,944.7 355.7,944.7 356.4,962.5 352.3,962.5" fill="#f89c2c" />
<polygon points="361.2,946.8 381.1,946.7 382,959.8 361.7,960" fill="#f9a030" />
<circle cx="371.5" cy="945.1" r="1.7" fill="#1f2a33"/>
<circle cx="372.4" cy="961.3" r="1.7" fill="#1f2a33"/>
<circle cx="359.8" cy="953.4" r="1.7" fill="#1f2a33"/>
<circle cx="383.7" cy="953.2" r="1.7" fill="#1f2a33"/>
<polygon points="397.2,935.3 424.7,935.1 425,937.7 397.4,937.9" fill="#f89c2c" />
<polygon points="397.5,938.1 425.1,937.9 425.4,940.5 397.7,940.7" fill="#f89c2c" />
<polygon points="397.7,940.9 425.4,940.7 425.7,943.4 397.9,943.6" fill="#f89c2c" />
<polygon points="384.7,944.5 388.8,944.4 390.1,962.2 386,962.3" fill="#f89c2c" />
<polygon points="388.9,944.4 393,944.4 394.4,962.2 390.3,962.2" fill="#f89c2c" />
<polygon points="393.2,944.4 397.2,944.4 398.8,962.2 394.6,962.2" fill="#f89c2c" />
<polygon points="402.8,946.5 422.7,946.4 424.2,959.5 403.9,959.6" fill="#f9a030" />
<circle cx="413" cy="944.8" r="1.7" fill="#1f2a33"/>
<circle cx="414.6" cy="960.9" r="1.7" fill="#1f2a33"/>
<circle cx="401.7" cy="953.1" r="1.7" fill="#1f2a33"/>
<circle cx="425.6" cy="952.9" r="1.7" fill="#1f2a33"/>
<polygon points="438.3,935 465.8,934.8 466.2,937.4 438.6,937.6" fill="#f89c2c" />
<polygon points="438.7,937.8 466.3,937.6 466.7,940.3 439,940.4" fill="#f89c2c" />
<polygon points="439,940.6 466.7,940.4 467.2,943.1 439.4,943.3" fill="#f89c2c" />
<polygon points="426.2,944.2 430.3,944.2 432.5,961.9 428.3,962" fill="#f89c2c" />
<polygon points="430.5,944.2 434.5,944.1 436.8,961.9 432.6,961.9" fill="#f89c2c" />
<polygon points="434.7,944.1 438.8,944.1 441.1,961.9 436.9,961.9" fill="#f89c2c" />
<polygon points="444.4,946.2 464.3,946.1 466.4,959.2 446.2,959.3" fill="#f9a030" />
<circle cx="454.5" cy="944.5" r="1.7" fill="#1f2a33"/>
<circle cx="456.9" cy="960.6" r="1.7" fill="#1f2a33"/>
<circle cx="443.6" cy="952.8" r="1.7" fill="#1f2a33"/>
<circle cx="467.5" cy="952.6" r="1.7" fill="#1f2a33"/>
<polygon points="479.4,934.7 506.9,934.5 507.4,937.1 479.8,937.3" fill="#f89c2c" />
<polygon points="479.9,937.5 507.5,937.3 508,940 480.3,940.2" fill="#f89c2c" />
<polygon points="480.4,940.3 508.1,940.1 508.6,942.8 480.9,943" fill="#f89c2c" />
<polygon points="467.7,943.9 471.8,943.9 474.8,961.6 470.7,961.6" fill="#f89c2c" />
<polygon points="472,943.9 476,943.8 479.1,961.6 475,961.6" fill="#f89c2c" />
<polygon points="476.2,943.8 480.3,943.8 483.4,961.5 479.3,961.6" fill="#f89c2c" />
<polygon points="486,945.9 505.9,945.8 508.7,958.9 488.4,959" fill="#f9a030" />
<circle cx="496.1" cy="944.2" r="1.7" fill="#1f2a33"/>
<circle cx="499.2" cy="960.3" r="1.7" fill="#1f2a33"/>
<circle cx="485.5" cy="952.5" r="1.7" fill="#1f2a33"/>
<circle cx="509.4" cy="952.3" r="1.7" fill="#1f2a33"/>
<polygon points="520.4,934.4 548,934.2 548.6,936.9 521,937" fill="#f89c2c" />
<polygon points="521.1,937.2 548.7,937 549.4,939.7 521.7,939.9" fill="#f89c2c" />
<polygon points="521.7,940 549.4,939.8 550.1,942.5 522.3,942.7" fill="#f89c2c" />
<polygon points="509.2,943.6 513.3,943.6 517.1,961.3 513,961.3" fill="#f89c2c" />
<polygon points="513.5,943.6 517.5,943.5 521.5,961.3 517.3,961.3" fill="#f89c2c" />
<polygon points="517.7,943.5 521.8,943.5 525.8,961.2 521.6,961.3" fill="#f89c2c" />
<polygon points="527.6,945.6 547.5,945.5 550.9,958.6 530.6,958.7" fill="#f9a030" />
<circle cx="537.6" cy="943.9" r="1.7" fill="#1f2a33"/>
<circle cx="541.5" cy="960" r="1.7" fill="#1f2a33"/>
<circle cx="527.4" cy="952.1" r="1.7" fill="#1f2a33"/>
<circle cx="551.3" cy="952" r="1.7" fill="#1f2a33"/>
<polygon points="550.7,943.3 554.8,943.3 559.5,961 555.3,961" fill="#f89c2c" />
<polygon points="555,943.3 559,943.2 563.8,960.9 559.7,961" fill="#f89c2c" />
<polygon points="559.2,943.2 563.3,943.2 568.1,960.9 564,960.9" fill="#f89c2c" />
<polygon points="230.1,963.7 258.5,963.5 258.3,966.3 229.8,966.5" fill="#f89c2c" />
<polygon points="229.8,966.6 258.3,966.4 258.1,969.2 229.5,969.4" fill="#f89c2c" />
<polygon points="229.5,969.6 258.1,969.3 257.9,972.2 229.2,972.4" fill="#f89c2c" />
<polygon points="272.5,963.4 300.9,963.2 300.8,966 272.3,966.2" fill="#f89c2c" />
<polygon points="272.3,966.3 300.8,966.1 300.7,968.9 272.2,969.1" fill="#f89c2c" />
<polygon points="272.1,969.2 300.7,969 300.6,971.8 272,972" fill="#f89c2c" />
<polygon points="314.8,963.1 343.2,962.9 343.3,965.6 314.8,965.9" fill="#f89c2c" />
<polygon points="314.8,966 343.3,965.8 343.3,968.6 314.8,968.8" fill="#f89c2c" />
<polygon points="314.8,968.9 343.3,968.7 343.4,971.5 314.8,971.7" fill="#f89c2c" />
<polygon points="357.2,962.8 385.6,962.5 385.8,965.3 357.3,965.5" fill="#f89c2c" />
<polygon points="357.3,965.7 385.8,965.5 386,968.2 357.4,968.5" fill="#f89c2c" />
<polygon points="357.4,968.6 386,968.4 386.2,971.2 357.5,971.4" fill="#f89c2c" />
<polygon points="399.5,962.4 427.9,962.2 428.2,965 399.8,965.2" fill="#f89c2c" />
<polygon points="399.8,965.4 428.3,965.1 428.6,967.9 400,968.1" fill="#f89c2c" />
<polygon points="400,968.3 428.6,968.1 428.9,970.9 400.3,971.1" fill="#f89c2c" />
<polygon points="441.9,962.1 470.3,961.9 470.7,964.7 442.3,964.9" fill="#f89c2c" />
<polygon points="442.3,965 470.8,964.8 471.2,967.6 442.7,967.8" fill="#f89c2c" />
<polygon points="442.7,968 471.2,967.7 471.7,970.5 443,970.8" fill="#f89c2c" />
<polygon points="484.3,961.8 512.6,961.6 513.2,964.4 484.7,964.6" fill="#f89c2c" />
<polygon points="484.8,964.7 513.2,964.5 513.8,967.3 485.3,967.5" fill="#f89c2c" />
<polygon points="485.3,967.6 513.9,967.4 514.5,970.2 485.8,970.4" fill="#f89c2c" />
<polygon points="526.6,961.5 555,961.3 555.7,964 527.2,964.3" fill="#f89c2c" />
<polygon points="527.3,964.4 555.7,964.2 556.5,967 527.9,967.2" fill="#f89c2c" />
<polygon points="527.9,967.3 556.5,967.1 557.2,969.9 528.6,970.1" fill="#f89c2c" />
<polygon points="236.4,771.4 519.6,770.3 542.9,853.5 226.2,855.3" fill="url(#dboardlight)" />
<text x="563" y="789" font-family="'Liberation Sans', Arial, sans-serif" font-size="11.5" fill="#f4f4f4" font-weight="bold" font-style="normal" text-anchor="middle" textLength="103" lengthAdjust="spacingAndGlyphs" >Dual-programmable</text>
<text x="563" y="802" font-family="'Liberation Sans', Arial, sans-serif" font-size="11.5" fill="#f4f4f4" font-weight="bold" font-style="normal" text-anchor="middle" >metasurface</text>
<polygon points="20.2,873.4 158,838 160,868.4 30.3,905.4" fill="#27496a" />
<polygon points="20.2,873.4 158,838 158.5,851 23.6,887" fill="#8c7a60" />
<line x1="28.6" y1="876" x2="37.2" y2="902.9" stroke="#e0b030" stroke-width="1.6" />
<line x1="43.8" y1="872" x2="51.7" y2="898.8" stroke="#e0b030" stroke-width="1.6" />
<line x1="59.1" y1="868" x2="66.1" y2="894.7" stroke="#e0b030" stroke-width="1.6" />
<line x1="74.3" y1="864" x2="80.6" y2="890.6" stroke="#e0b030" stroke-width="1.6" />
<line x1="89.5" y1="860" x2="95" y2="886.5" stroke="#e0b030" stroke-width="1.6" />
<line x1="104.7" y1="856" x2="109.4" y2="882.4" stroke="#e0b030" stroke-width="1.6" />
<line x1="119.9" y1="852" x2="123.9" y2="878.3" stroke="#e0b030" stroke-width="1.6" />
<line x1="135.2" y1="848" x2="138.3" y2="874.2" stroke="#e0b030" stroke-width="1.6" />
<line x1="150.4" y1="844" x2="152.8" y2="870.1" stroke="#e0b030" stroke-width="1.6" />
<polygon points="30.9,875.4 35.9,874.4 36.9,884.4 31.9,885.4" fill="#303030" />
<polygon points="49.8,870.3 54.8,869.3 55.8,879.3 50.8,880.3" fill="#303030" />
<polygon points="68.6,865.1 73.6,864.1 74.6,874.1 69.6,875.1" fill="#303030" />
<polygon points="87.5,860 92.5,859 93.5,869 88.5,870" fill="#303030" />
<polygon points="106.4,854.9 111.4,853.9 112.4,863.9 107.4,864.9" fill="#303030" />
<polygon points="125.2,849.7 130.2,848.7 131.2,858.7 126.2,859.7" fill="#303030" />
<polygon points="144.1,844.6 149.1,843.6 150.1,853.6 145.1,854.6" fill="#303030" />
<polygon points="30.3,905.4 160,868.4 161.6,885 33.7,929" fill="#e8eaec" />
<rect x="43" y="908.2" width="6" height="8" fill="none" stroke="#b8bcc0" stroke-width="0.8"/>
<rect x="63" y="902.5" width="6" height="8" fill="none" stroke="#b8bcc0" stroke-width="0.8"/>
<rect x="83" y="896.8" width="6" height="8" fill="none" stroke="#b8bcc0" stroke-width="0.8"/>
<rect x="103" y="891.2" width="6" height="8" fill="none" stroke="#b8bcc0" stroke-width="0.8"/>
<rect x="123" y="885.5" width="6" height="8" fill="none" stroke="#b8bcc0" stroke-width="0.8"/>
<rect x="143" y="879.8" width="6" height="8" fill="none" stroke="#b8bcc0" stroke-width="0.8"/>
<polygon points="40.4,801 92.6,791 96,833 47,841" fill="#9ab8d0" />
<polygon points="44,805 89,796 92,830 49,838" fill="#1e1e1e" />
<polygon points="47.5,808 86,800 88.5,827 51.5,834.5" fill="#6a6e70" />
<text x="68" y="822" font-family="'Liberation Sans', Arial, sans-serif" font-size="11" fill="#f4f4f4" font-weight="bold" font-style="normal" text-anchor="middle" transform="rotate(-12 68 822)">FPGA</text>
<line x1="62" y1="838" x2="63" y2="852" stroke="#e0b030" stroke-width="1.6" />
<line x1="77" y1="835" x2="78" y2="849" stroke="#e0b030" stroke-width="1.6" />
<line x1="92" y1="832" x2="93" y2="846" stroke="#e0b030" stroke-width="1.6" />
<path d="M 87.5,915 C 100,960 115,985 150,995 C 190,1006 230,1005 280,1005 C 330,1005 370,1006 390,1000 C 399,995 399,985 399,978" fill="none" stroke="#101418" stroke-width="3" />
<path d="M 114.5,905 C 118,925 128,940 151,942 C 175,944 192,935 200,910 C 206,890 210,862 222,853" fill="none" stroke="#8a9090" stroke-width="2.5" />
<text x="63" y="768" font-family="'Liberation Sans', Arial, sans-serif" font-size="11.5" fill="#e8eef2" font-weight="normal" font-style="normal" text-anchor="middle" >Modular</text>
<text x="63" y="782" font-family="'Liberation Sans', Arial, sans-serif" font-size="11.5" fill="#e8eef2" font-weight="normal" font-style="normal" text-anchor="middle" textLength="74" lengthAdjust="spacingAndGlyphs" >control circuits</text>
<text x="8" y="862" font-family="'Liberation Sans', Arial, sans-serif" font-size="11" fill="#e8eef2" font-weight="normal" font-style="normal" text-anchor="start" transform="rotate(-16 8 862)">Extended</text>
<text x="14" y="877" font-family="'Liberation Sans', Arial, sans-serif" font-size="11" fill="#e8eef2" font-weight="normal" font-style="normal" text-anchor="start" transform="rotate(-16 14 877)">interface</text>
<text x="100" y="837" font-family="'Liberation Sans', Arial, sans-serif" font-size="10" fill="#e8eef2" font-weight="normal" font-style="normal" text-anchor="start" transform="rotate(-16 100 837)">(m+9)-way</text>
<text x="152" y="865" font-family="'Liberation Sans', Arial, sans-serif" font-size="10" fill="#e8eef2" font-weight="normal" font-style="normal" text-anchor="start" transform="rotate(-16 152 865)">(8×2<tspan font-size="7" dy="-4">m</tspan><tspan dy="4">)-way</tspan></text>
<text x="34" y="945" font-family="'Liberation Sans', Arial, sans-serif" font-size="11" fill="#e8eef2" font-weight="normal" font-style="normal" text-anchor="start" transform="rotate(-16 34 945)">Voltage</text>
<text x="32" y="960" font-family="'Liberation Sans', Arial, sans-serif" font-size="11" fill="#e8eef2" font-weight="normal" font-style="normal" text-anchor="start" transform="rotate(-16 32 960)">conversion</text>
<text x="207" y="836" font-family="'Liberation Sans', Arial, sans-serif" font-size="11" fill="#e8eef2" font-weight="normal" font-style="normal" text-anchor="middle" >Interfaces II</text>
<text x="173" y="956" font-family="'Liberation Sans', Arial, sans-serif" font-size="11" fill="#e8eef2" font-weight="normal" font-style="normal" text-anchor="middle" >Controlling</text>
<text x="173" y="969" font-family="'Liberation Sans', Arial, sans-serif" font-size="11" fill="#e8eef2" font-weight="normal" font-style="normal" text-anchor="middle" >y polarization</text>
<text x="298" y="1000" font-family="'Liberation Sans', Arial, sans-serif" font-size="11" fill="#e8eef2" font-weight="normal" font-style="normal" text-anchor="middle" textLength="136" lengthAdjust="spacingAndGlyphs" >Controlling <tspan font-style="italic">x</tspan> polarization</text>
<text x="434" y="990" font-family="'Liberation Sans', Arial, sans-serif" font-size="11" fill="#e8eef2" font-weight="normal" font-style="normal" text-anchor="middle" >Interfaces I</text>
<rect x="229" y="845" width="3" height="3.5" fill="#e08020" />
<rect x="229.6" y="850" width="3" height="3.5" fill="#e08020" />
<rect x="230.2" y="855" width="3" height="3.5" fill="#e08020" />
<rect x="230.8" y="860" width="3" height="3.5" fill="#e08020" />
<rect x="231.4" y="865" width="3" height="3.5" fill="#e08020" />
<rect x="232" y="870" width="3" height="3.5" fill="#e08020" />
<rect x="365" y="970" width="60" height="4" fill="#e08020" opacity="0.8"/>
<line x1="572" y1="985" x2="572" y2="955" stroke="#e02020" stroke-width="2" />
<line x1="574" y1="985" x2="574" y2="960" stroke="#2040e0" stroke-width="2" />
<line x1="571" y1="986" x2="551" y2="986" stroke="#20b040" stroke-width="2" />
<text x="575" y="958" font-family="'Liberation Sans', Arial, sans-serif" font-size="14" fill="#fafafa" font-weight="bold" font-style="italic" text-anchor="start" >x</text>
<text x="581" y="975" font-family="'Liberation Sans', Arial, sans-serif" font-size="14" fill="#fafafa" font-weight="bold" font-style="italic" text-anchor="start" >z</text>
<text x="535" y="997" font-family="'Liberation Sans', Arial, sans-serif" font-size="14" fill="#fafafa" font-weight="bold" font-style="italic" text-anchor="start" >y</text>
<text x="640.5" y="534.6" font-family="'Liberation Serif', 'Times New Roman', serif" font-size="37" fill="#000" font-weight="normal" font-style="normal" text-anchor="start" >(e)</text>
<ellipse cx="925" cy="800" rx="215" ry="40" fill="url(#eshadow)"/>
<polygon points="718.6,766.9 1130,826.6 1130,830 718,770" fill="#5a5e62" />
<polygon points="835.5,681.9 1097.8,704.3 1130,826.6 718.6,766.9" fill="#3a3d42" />
<polygon points="730.9,765.9 744.9,767.9 751.3,762.7 737.6,760.8" fill="#e8d28e" />
<polygon points="746.1,768.1 753.4,769.1 759.6,763.9 752.5,762.9" fill="#e8d28e" />
<polygon points="755.4,769.4 769.3,771.4 775.2,766.1 761.5,764.2" fill="#e8d28e" />
<polygon points="770.5,771.6 777.8,772.6 783.5,767.3 776.4,766.3" fill="#e8d28e" />
<polygon points="779.8,772.9 793.7,774.9 799.1,769.5 785.5,767.6" fill="#e8d28e" />
<polygon points="795,775.1 802.3,776.2 807.5,770.7 800.3,769.7" fill="#e8d28e" />
<polygon points="804.2,776.4 818.2,778.5 823,772.9 809.4,771" fill="#e8d28e" />
<polygon points="819.4,778.6 826.7,779.7 831.4,774.1 824.2,773.1" fill="#e8d28e" />
<polygon points="828.7,780 842.6,782 846.9,776.3 833.3,774.4" fill="#e8d28e" />
<polygon points="843.8,782.2 851.2,783.2 855.3,777.5 848.1,776.5" fill="#e8d28e" />
<polygon points="853.1,783.5 867.1,785.5 870.8,779.7 857.2,777.8" fill="#e8d28e" />
<polygon points="868.3,785.7 875.6,786.7 879.2,780.9 872,779.9" fill="#e8d28e" />
<polygon points="877.6,787 891.5,789 894.7,783.1 881.1,781.1" fill="#e8d28e" />
<polygon points="892.7,789.2 900,790.3 903.1,784.3 895.9,783.2" fill="#e8d28e" />
<polygon points="902,790.5 915.9,792.5 918.6,786.5 905,784.5" fill="#e8d28e" />
<polygon points="917.2,792.7 924.5,793.8 927,787.7 919.8,786.6" fill="#e8d28e" />
<polygon points="926.4,794.1 940.4,796.1 942.5,789.9 928.9,787.9" fill="#e8d28e" />
<polygon points="941.6,796.2 948.9,797.3 950.9,791 943.7,790" fill="#e8d28e" />
<polygon points="950.9,797.6 964.8,799.6 966.5,793.2 952.8,791.3" fill="#e8d28e" />
<polygon points="966,799.8 973.4,800.8 974.8,794.4 967.7,793.4" fill="#e8d28e" />
<polygon points="975.3,801.1 989.2,803.1 990.4,796.6 976.7,794.7" fill="#e8d28e" />
<polygon points="990.5,803.3 997.8,804.3 998.7,797.8 991.6,796.8" fill="#e8d28e" />
<polygon points="999.8,804.6 1013.7,806.6 1014.3,800 1000.6,798.1" fill="#e8d28e" />
<polygon points="1014.9,806.8 1022.2,807.9 1022.6,801.2 1015.5,800.2" fill="#e8d28e" />
<polygon points="1024.2,808.1 1038.1,810.1 1038.2,803.4 1024.6,801.5" fill="#e8d28e" />
<polygon points="1039.3,810.3 1046.7,811.4 1046.6,804.6 1039.4,803.6" fill="#e8d28e" />
<polygon points="1048.6,811.7 1062.6,813.7 1062.1,806.8 1048.5,804.9" fill="#e8d28e" />
<polygon points="1063.8,813.8 1071.1,814.9 1070.5,808 1063.3,807" fill="#e8d28e" />
<polygon points="1073.1,815.2 1087,817.2 1086,810.2 1072.4,808.3" fill="#e8d28e" />
<polygon points="1088.2,817.4 1095.6,818.4 1094.4,811.4 1087.2,810.4" fill="#e8d28e" />
<polygon points="1097.5,818.7 1111.4,820.7 1109.9,813.6 1096.3,811.6" fill="#e8d28e" />
<polygon points="1112.7,820.9 1120,821.9 1118.3,814.8 1111.1,813.7" fill="#e8d28e" />
<polygon points="739.3,759.5 752.9,761.5 759.3,756.3 746,754.5" fill="#e8d28e" />
<polygon points="754.1,761.6 761.2,762.6 767.4,757.4 760.4,756.5" fill="#e8d28e" />
<polygon points="763.1,762.9 776.6,764.8 782.5,759.5 769.3,757.7" fill="#e8d28e" />
<polygon points="777.8,765 785,766 790.7,760.7 783.7,759.7" fill="#e8d28e" />
<polygon points="786.9,766.3 800.4,768.2 805.8,762.8 792.5,760.9" fill="#e8d28e" />
<polygon points="801.6,768.3 808.7,769.3 813.9,763.9 806.9,762.9" fill="#e8d28e" />
<polygon points="810.6,769.6 824.2,771.5 829,766 815.8,764.1" fill="#e8d28e" />
<polygon points="825.4,771.7 832.5,772.7 837.2,767.1 830.2,766.1" fill="#e8d28e" />
<polygon points="834.4,773 848,774.9 852.3,769.2 839,767.4" fill="#e8d28e" />
<polygon points="849.2,775.1 856.3,776.1 860.4,770.3 853.4,769.4" fill="#e8d28e" />
<polygon points="858.2,776.3 871.8,778.2 875.5,772.4 862.3,770.6" fill="#e8d28e" />
<polygon points="872.9,778.4 880.1,779.4 883.7,773.6 876.7,772.6" fill="#e8d28e" />
<polygon points="882,779.7 895.5,781.6 898.8,775.7 885.5,773.8" fill="#e8d28e" />
<polygon points="896.7,781.8 903.9,782.8 906.9,776.8 899.9,775.8" fill="#e8d28e" />
<polygon points="905.8,783 919.3,784.9 922,778.9 908.8,777" fill="#e8d28e" />
<polygon points="920.5,785.1 927.6,786.1 930.2,780 923.2,779" fill="#e8d28e" />
<polygon points="929.5,786.4 943.1,788.3 945.3,782.1 932,780.3" fill="#e8d28e" />
<polygon points="944.3,788.5 951.4,789.5 953.4,783.2 946.4,782.3" fill="#e8d28e" />
<polygon points="953.3,789.7 966.9,791.7 968.5,785.3 955.3,783.5" fill="#e8d28e" />
<polygon points="968.1,791.8 975.2,792.8 976.7,786.5 969.7,785.5" fill="#e8d28e" />
<polygon points="977.1,793.1 990.6,795 991.8,788.5 978.5,786.7" fill="#e8d28e" />
<polygon points="991.8,795.2 999,796.2 999.9,789.7 992.9,788.7" fill="#e8d28e" />
<polygon points="1000.9,796.5 1014.4,798.4 1015,791.8 1001.8,789.9" fill="#e8d28e" />
<polygon points="1015.6,798.5 1022.7,799.5 1023.2,792.9 1016.2,791.9" fill="#e8d28e" />
<polygon points="1024.7,799.8 1038.2,801.7 1038.3,795 1025,793.2" fill="#e8d28e" />
<polygon points="1039.4,801.9 1046.5,802.9 1046.4,796.1 1039.4,795.2" fill="#e8d28e" />
<polygon points="1048.4,803.2 1062,805.1 1061.5,798.2 1048.3,796.4" fill="#e8d28e" />
<polygon points="1063.2,805.2 1070.3,806.3 1069.7,799.3 1062.7,798.4" fill="#e8d28e" />
<polygon points="1072.2,806.5 1085.8,808.4 1084.8,801.4 1071.5,799.6" fill="#e8d28e" />
<polygon points="1087,808.6 1094.1,809.6 1092.9,802.6 1085.9,801.6" fill="#e8d28e" />
<polygon points="1096,809.9 1109.5,811.8 1108,804.7 1094.8,802.8" fill="#e8d28e" />
<polygon points="1110.7,812 1117.9,813 1116.2,805.8 1109.2,804.8" fill="#e8d28e" />
<polygon points="747.7,753.2 760.9,755 767.3,749.9 754.4,748.1" fill="#e8d28e" />
<polygon points="762,755.2 769,756.1 775.2,751 768.4,750" fill="#e8d28e" />
<polygon points="770.8,756.4 784,758.2 789.9,752.9 777,751.2" fill="#e8d28e" />
<polygon points="785.1,758.4 792.1,759.3 797.8,754 791,753.1" fill="#e8d28e" />
<polygon points="793.9,759.6 807.1,761.4 812.5,756 799.6,754.3" fill="#e8d28e" />
<polygon points="808.3,761.6 815.2,762.5 820.4,757.1 813.6,756.2" fill="#e8d28e" />
<polygon points="817.1,762.8 830.2,764.6 835,759.1 822.2,757.3" fill="#e8d28e" />
<polygon points="831.4,764.8 838.3,765.7 843,760.1 836.2,759.2" fill="#e8d28e" />
<polygon points="840.2,766 853.3,767.8 857.6,762.1 844.8,760.4" fill="#e8d28e" />
<polygon points="854.5,767.9 861.4,768.9 865.5,763.2 858.8,762.3" fill="#e8d28e" />
<polygon points="863.3,769.2 876.5,771 880.2,765.2 867.4,763.4" fill="#e8d28e" />
<polygon points="877.6,771.1 884.6,772.1 888.1,766.2 881.4,765.3" fill="#e8d28e" />
<polygon points="886.4,772.4 899.6,774.2 902.8,768.2 889.9,766.5" fill="#e8d28e" />
<polygon points="900.7,774.3 907.7,775.3 910.7,769.3 903.9,768.4" fill="#e8d28e" />
<polygon points="909.5,775.5 922.7,777.4 925.4,771.3 912.5,769.5" fill="#e8d28e" />
<polygon points="923.9,777.5 930.8,778.5 933.3,772.4 926.5,771.4" fill="#e8d28e" />
<polygon points="932.6,778.7 945.8,780.5 948,774.3 935.1,772.6" fill="#e8d28e" />
<polygon points="947,780.7 953.9,781.7 955.9,775.4 949.1,774.5" fill="#e8d28e" />
<polygon points="955.8,781.9 968.9,783.7 970.6,777.4 957.7,775.7" fill="#e8d28e" />
<polygon points="970.1,783.9 977,784.9 978.5,778.5 971.7,777.6" fill="#e8d28e" />
<polygon points="978.9,785.1 992.1,786.9 993.2,780.5 980.3,778.7" fill="#e8d28e" />
<polygon points="993.2,787.1 1000.1,788 1001.1,781.5 994.3,780.6" fill="#e8d28e" />
<polygon points="1002,788.3 1015.2,790.1 1015.8,783.5 1002.9,781.8" fill="#e8d28e" />
<polygon points="1016.3,790.3 1023.3,791.2 1023.7,784.6 1016.9,783.7" fill="#e8d28e" />
<polygon points="1025.1,791.5 1038.3,793.3 1038.4,786.6 1025.5,784.8" fill="#e8d28e" />
<polygon points="1039.4,793.5 1046.4,794.4 1046.3,787.6 1039.5,786.7" fill="#e8d28e" />
<polygon points="1048.2,794.7 1061.4,796.5 1060.9,789.6 1048.1,787.9" fill="#e8d28e" />
<polygon points="1062.6,796.7 1069.5,797.6 1068.8,790.7 1062.1,789.8" fill="#e8d28e" />
<polygon points="1071.3,797.9 1084.5,799.7 1083.5,792.7 1070.7,791" fill="#e8d28e" />
<polygon points="1085.7,799.8 1092.6,800.8 1091.4,793.8 1084.7,792.8" fill="#e8d28e" />
<polygon points="1094.5,801.1 1107.6,802.9 1106.1,795.8 1093.2,794" fill="#e8d28e" />
<polygon points="1108.8,803 1115.7,804 1114,796.8 1107.3,795.9" fill="#e8d28e" />
<polygon points="756.1,746.9 768.9,748.6 775.3,743.4 762.8,741.8" fill="#e8d28e" />
<polygon points="770,748.7 776.7,749.7 783,744.5 776.4,743.6" fill="#e8d28e" />
<polygon points="778.5,749.9 791.3,751.6 797.2,746.3 784.7,744.7" fill="#e8d28e" />
<polygon points="792.5,751.8 799.2,752.7 804.9,747.4 798.3,746.5" fill="#e8d28e" />
<polygon points="801,752.9 813.8,754.6 819.1,749.2 806.6,747.6" fill="#e8d28e" />
<polygon points="814.9,754.8 821.7,755.7 826.8,750.2 820.2,749.4" fill="#e8d28e" />
<polygon points="823.5,755.9 836.3,757.7 841.1,752.1 828.6,750.5" fill="#e8d28e" />
<polygon points="837.4,757.8 844.1,758.7 848.8,753.1 842.2,752.3" fill="#e8d28e" />
<polygon points="845.9,759 858.7,760.7 863,755 850.5,753.4" fill="#e8d28e" />
<polygon points="859.8,760.8 866.6,761.8 870.7,756 864.1,755.2" fill="#e8d28e" />
<polygon points="868.4,762 881.2,763.7 884.9,757.9 872.4,756.3" fill="#e8d28e" />
<polygon points="882.3,763.9 889,764.8 892.6,758.9 886,758.1" fill="#e8d28e" />
<polygon points="890.8,765 903.6,766.7 906.9,760.8 894.4,759.2" fill="#e8d28e" />
<polygon points="904.7,766.9 911.5,767.8 914.5,761.8 908,760.9" fill="#e8d28e" />
<polygon points="913.3,768 926.1,769.8 928.8,763.7 916.3,762" fill="#e8d28e" />
<polygon points="927.2,769.9 933.9,770.8 936.5,764.7 929.9,763.8" fill="#e8d28e" />
<polygon points="935.7,771.1 948.5,772.8 950.7,766.6 938.2,764.9" fill="#e8d28e" />
<polygon points="949.7,772.9 956.4,773.9 958.4,767.6 951.8,766.7" fill="#e8d28e" />
<polygon points="958.2,774.1 971,775.8 972.6,769.5 960.1,767.8" fill="#e8d28e" />
<polygon points="972.1,776 978.9,776.9 980.3,770.5 973.7,769.6" fill="#e8d28e" />
<polygon points="980.7,777.1 993.5,778.8 994.6,772.4 982.1,770.7" fill="#e8d28e" />
<polygon points="994.6,779 1001.3,779.9 1002.3,773.4 995.7,772.5" fill="#e8d28e" />
<polygon points="1003.1,780.1 1015.9,781.9 1016.5,775.3 1004,773.6" fill="#e8d28e" />
<polygon points="1017,782 1023.8,782.9 1024.2,776.3 1017.6,775.4" fill="#e8d28e" />
<polygon points="1025.6,783.2 1038.4,784.9 1038.4,778.2 1025.9,776.5" fill="#e8d28e" />
<polygon points="1039.5,785 1046.2,786 1046.1,779.2 1039.5,778.3" fill="#e8d28e" />
<polygon points="1048,786.2 1060.8,787.9 1060.4,781.1 1047.9,779.4" fill="#e8d28e" />
<polygon points="1061.9,788.1 1068.7,789 1068,782.1 1061.5,781.2" fill="#e8d28e" />
<polygon points="1070.5,789.2 1083.3,790.9 1082.3,783.9 1069.8,782.3" fill="#e8d28e" />
<polygon points="1084.4,791.1 1091.1,792 1090,785 1083.4,784.1" fill="#e8d28e" />
<polygon points="1092.9,792.2 1105.7,794 1104.2,786.8 1091.7,785.2" fill="#e8d28e" />
<polygon points="1106.9,794.1 1113.6,795 1111.9,787.9 1105.3,787" fill="#e8d28e" />
<polygon points="764.5,740.5 776.9,742.2 783.3,737 771.2,735.5" fill="#e8d28e" />
<polygon points="778,742.3 784.5,743.2 790.7,738 784.4,737.2" fill="#e8d28e" />
<polygon points="786.3,743.4 798.7,745 804.6,739.7 792.4,738.2" fill="#e8d28e" />
<polygon points="799.8,745.2 806.3,746 812,740.7 805.6,739.9" fill="#e8d28e" />
<polygon points="808.1,746.3 820.5,747.9 825.8,742.5 813.7,740.9" fill="#e8d28e" />
<polygon points="821.6,748 828.1,748.9 833.3,743.4 826.9,742.6" fill="#e8d28e" />
<polygon points="829.9,749.1 842.3,750.7 847.1,745.2 835,743.6" fill="#e8d28e" />
<polygon points="843.4,750.9 849.9,751.7 854.5,746.2 848.2,745.3" fill="#e8d28e" />
<polygon points="851.7,752 864.1,753.6 868.4,747.9 856.2,746.4" fill="#e8d28e" />
<polygon points="865.2,753.7 871.7,754.6 875.8,748.9 869.4,748.1" fill="#e8d28e" />
<polygon points="873.5,754.8 885.9,756.5 889.6,750.7 877.5,749.1" fill="#e8d28e" />
<polygon points="887,756.6 893.5,757.5 897.1,751.6 890.7,750.8" fill="#e8d28e" />
<polygon points="895.2,757.7 907.7,759.3 910.9,753.4 898.8,751.8" fill="#e8d28e" />
<polygon points="908.8,759.5 915.3,760.3 918.4,754.3 912,753.5" fill="#e8d28e" />
<polygon points="917,760.5 929.5,762.2 932.2,756.1 920.1,754.6" fill="#e8d28e" />
<polygon points="930.6,762.3 937.1,763.2 939.6,757.1 933.2,756.2" fill="#e8d28e" />
<polygon points="938.8,763.4 951.3,765 953.4,758.8 941.3,757.3" fill="#e8d28e" />
<polygon points="952.4,765.2 958.9,766 960.9,759.8 954.5,759" fill="#e8d28e" />
<polygon points="960.6,766.3 973.1,767.9 974.7,761.6 962.6,760" fill="#e8d28e" />
<polygon points="974.2,768 980.7,768.9 982.2,762.5 975.8,761.7" fill="#e8d28e" />
<polygon points="982.4,769.1 994.9,770.8 996,764.3 983.9,762.7" fill="#e8d28e" />
<polygon points="995.9,770.9 1002.5,771.8 1003.4,765.2 997,764.4" fill="#e8d28e" />
<polygon points="1004.2,772 1016.7,773.6 1017.2,767 1005.1,765.5" fill="#e8d28e" />
<polygon points="1017.7,773.8 1024.3,774.6 1024.7,768 1018.3,767.2" fill="#e8d28e" />
<polygon points="1026,774.8 1038.5,776.5 1038.5,769.7 1026.4,768.2" fill="#e8d28e" />
<polygon points="1039.5,776.6 1046.1,777.5 1046,770.7 1039.6,769.9" fill="#e8d28e" />
<polygon points="1047.8,777.7 1060.2,779.3 1059.8,772.5 1047.7,770.9" fill="#e8d28e" />
<polygon points="1061.3,779.5 1067.9,780.3 1067.2,773.4 1060.8,772.6" fill="#e8d28e" />
<polygon points="1069.6,780.6 1082,782.2 1081.1,775.2 1068.9,773.6" fill="#e8d28e" />
<polygon points="1083.1,782.3 1089.7,783.2 1088.5,776.2 1082.1,775.3" fill="#e8d28e" />
<polygon points="1091.4,783.4 1103.8,785.1 1102.3,777.9 1090.2,776.4" fill="#e8d28e" />
<polygon points="1104.9,785.2 1111.5,786.1 1109.8,778.9 1103.4,778.1" fill="#e8d28e" />
<polygon points="772.9,734.2 784.9,735.7 791.3,730.6 779.6,729.1" fill="#e8d28e" />
<polygon points="786,735.9 792.3,736.7 798.5,731.5 792.3,730.7" fill="#e8d28e" />
<polygon points="794,736.9 806,738.4 811.9,733.1 800.2,731.7" fill="#e8d28e" />
<polygon points="807.1,738.6 813.4,739.4 819.1,734 812.9,733.3" fill="#e8d28e" />
<polygon points="815.1,739.6 827.2,741.1 832.5,735.7 820.8,734.2" fill="#e8d28e" />
<polygon points="828.2,741.3 834.6,742.1 839.7,736.6 833.6,735.8" fill="#e8d28e" />
<polygon points="836.3,742.3 848.3,743.8 853.1,738.3 841.4,736.8" fill="#e8d28e" />
<polygon points="849.4,743.9 855.7,744.8 860.3,739.2 854.2,738.4" fill="#e8d28e" />
<polygon points="857.4,745 869.4,746.5 873.7,740.8 862,739.4" fill="#e8d28e" />
<polygon points="870.5,746.6 876.8,747.4 881,741.7 874.8,741" fill="#e8d28e" />
<polygon points="878.5,747.7 890.6,749.2 894.3,743.4 882.6,741.9" fill="#e8d28e" />
<polygon points="891.6,749.3 898,750.1 901.6,744.3 895.4,743.5" fill="#e8d28e" />
<polygon points="899.7,750.4 911.7,751.9 915,746 903.2,744.5" fill="#e8d28e" />
<polygon points="912.8,752 919.1,752.8 922.2,746.9 916,746.1" fill="#e8d28e" />
<polygon points="920.8,753.1 932.9,754.6 935.6,748.5 923.8,747.1" fill="#e8d28e" />
<polygon points="933.9,754.7 940.3,755.5 942.8,749.4 936.6,748.6" fill="#e8d28e" />
<polygon points="941.9,755.7 954,757.3 956.2,751.1 944.4,749.6" fill="#e8d28e" />
<polygon points="955,757.4 961.4,758.2 963.4,752 957.2,751.2" fill="#e8d28e" />
<polygon points="963.1,758.4 975.1,760 976.8,753.6 965,752.2" fill="#e8d28e" />
<polygon points="976.2,760.1 982.5,760.9 984,754.5 977.8,753.8" fill="#e8d28e" />
<polygon points="984.2,761.1 996.3,762.7 997.4,756.2 985.6,754.7" fill="#e8d28e" />
<polygon points="997.3,762.8 1003.7,763.6 1004.6,757.1 998.4,756.3" fill="#e8d28e" />
<polygon points="1005.3,763.8 1017.4,765.4 1018,758.8 1006.2,757.3" fill="#e8d28e" />
<polygon points="1018.5,765.5 1024.8,766.3 1025.2,759.7 1019,758.9" fill="#e8d28e" />
<polygon points="1026.5,766.5 1038.5,768.1 1038.6,761.3 1026.9,759.9" fill="#e8d28e" />
<polygon points="1039.6,768.2 1045.9,769 1045.8,762.2 1039.6,761.5" fill="#e8d28e" />
<polygon points="1047.6,769.2 1059.7,770.8 1059.2,763.9 1047.5,762.4" fill="#e8d28e" />
<polygon points="1060.7,770.9 1067.1,771.7 1066.4,764.8 1060.2,764" fill="#e8d28e" />
<polygon points="1068.8,771.9 1080.8,773.5 1079.8,766.5 1068.1,765" fill="#e8d28e" />
<polygon points="1081.9,773.6 1088.2,774.4 1087,767.4 1080.8,766.6" fill="#e8d28e" />
<polygon points="1089.9,774.6 1101.9,776.1 1100.4,769 1088.7,767.6" fill="#e8d28e" />
<polygon points="1103,776.3 1109.3,777.1 1107.6,769.9 1101.5,769.1" fill="#e8d28e" />
<polygon points="781.2,727.9 792.9,729.3 799.3,724.2 787.9,722.8" fill="#e8d28e" />
<polygon points="793.9,729.4 800.1,730.2 806.3,725 800.3,724.3" fill="#e8d28e" />
<polygon points="801.7,730.4 813.4,731.8 819.3,726.5 807.9,725.2" fill="#e8d28e" />
<polygon points="814.4,732 820.6,732.7 826.2,727.4 820.3,726.7" fill="#e8d28e" />
<polygon points="822.2,732.9 833.9,734.4 839.2,728.9 827.8,727.6" fill="#e8d28e" />
<polygon points="834.9,734.5 841,735.2 846.2,729.8 840.2,729.1" fill="#e8d28e" />
<polygon points="842.7,735.4 854.3,736.9 859.2,731.3 847.8,730" fill="#e8d28e" />
<polygon points="855.4,737 861.5,737.8 866.1,732.2 860.2,731.5" fill="#e8d28e" />
<polygon points="863.1,738 874.8,739.4 879.1,733.7 867.7,732.4" fill="#e8d28e" />
<polygon points="875.8,739.5 882,740.3 886.1,734.6 880.1,733.9" fill="#e8d28e" />
<polygon points="883.6,740.5 895.3,741.9 899.1,736.1 887.7,734.8" fill="#e8d28e" />
<polygon points="896.3,742.1 902.5,742.8 906,737 900.1,736.3" fill="#e8d28e" />
<polygon points="904.1,743 915.8,744.5 919,738.5 907.6,737.2" fill="#e8d28e" />
<polygon points="916.8,744.6 922.9,745.4 926,739.4 920,738.7" fill="#e8d28e" />
<polygon points="924.6,745.6 936.2,747 938.9,740.9 927.6,739.6" fill="#e8d28e" />
<polygon points="937.3,747.1 943.4,747.9 945.9,741.8 939.9,741" fill="#e8d28e" />
<polygon points="945,748.1 956.7,749.5 958.9,743.3 947.5,742" fill="#e8d28e" />
<polygon points="957.7,749.7 963.9,750.4 965.9,744.2 959.9,743.4" fill="#e8d28e" />
<polygon points="965.5,750.6 977.2,752.1 978.8,745.7 967.5,744.4" fill="#e8d28e" />
<polygon points="978.2,752.2 984.4,752.9 985.8,746.6 979.8,745.8" fill="#e8d28e" />
<polygon points="986,753.1 997.7,754.6 998.8,748.1 987.4,746.8" fill="#e8d28e" />
<polygon points="998.7,754.7 1004.8,755.5 1005.8,749 999.8,748.2" fill="#e8d28e" />
<polygon points="1006.5,755.7 1018.1,757.1 1018.7,750.5 1007.4,749.1" fill="#e8d28e" />
<polygon points="1019.2,757.2 1025.3,758 1025.7,751.4 1019.7,750.6" fill="#e8d28e" />
<polygon points="1026.9,758.2 1038.6,759.6 1038.7,752.9 1027.3,751.5" fill="#e8d28e" />
<polygon points="1039.6,759.8 1045.8,760.5 1045.7,753.8 1039.7,753" fill="#e8d28e" />
<polygon points="1047.4,760.7 1059.1,762.2 1058.6,755.3 1047.3,753.9" fill="#e8d28e" />
<polygon points="1060.1,762.3 1066.3,763.1 1065.6,756.1 1059.6,755.4" fill="#e8d28e" />
<polygon points="1067.9,763.3 1079.6,764.7 1078.6,757.7 1067.2,756.3" fill="#e8d28e" />
<polygon points="1080.6,764.8 1086.7,765.6 1085.6,758.5 1079.6,757.8" fill="#e8d28e" />
<polygon points="1088.4,765.8 1100,767.2 1098.5,760.1 1087.2,758.7" fill="#e8d28e" />
<polygon points="1101.1,767.4 1107.2,768.1 1105.5,760.9 1099.5,760.2" fill="#e8d28e" />
<polygon points="789.6,721.5 800.9,722.9 807.3,717.7 796.3,716.4" fill="#e8d28e" />
<polygon points="801.9,723 807.9,723.7 814.1,718.5 808.3,717.8" fill="#e8d28e" />
<polygon points="809.4,723.9 820.7,725.2 826.6,719.9 815.6,718.7" fill="#e8d28e" />
<polygon points="821.7,725.3 827.7,726.1 833.4,720.7 827.6,720.1" fill="#e8d28e" />
<polygon points="829.3,726.2 840.6,727.6 845.9,722.2 834.9,720.9" fill="#e8d28e" />
<polygon points="841.5,727.7 847.5,728.4 852.7,723 846.9,722.3" fill="#e8d28e" />
<polygon points="849.1,728.6 860.4,730 865.2,724.4 854.2,723.1" fill="#e8d28e" />
<polygon points="861.4,730.1 867.3,730.8 871.9,725.2 866.2,724.5" fill="#e8d28e" />
<polygon points="868.9,731 880.2,732.3 884.5,726.6 873.5,725.4" fill="#e8d28e" />
<polygon points="881.2,732.4 887.1,733.1 891.2,727.4 885.4,726.8" fill="#e8d28e" />
<polygon points="888.7,733.3 900,734.7 903.8,728.9 892.8,727.6" fill="#e8d28e" />
<polygon points="901,734.8 906.9,735.5 910.5,729.7 904.7,729" fill="#e8d28e" />
<polygon points="908.5,735.7 919.8,737 923,731.1 912.1,729.8" fill="#e8d28e" />
<polygon points="920.8,737.2 926.7,737.9 929.8,731.9 924,731.2" fill="#e8d28e" />
<polygon points="928.3,738.1 939.6,739.4 942.3,733.3 931.3,732.1" fill="#e8d28e" />
<polygon points="940.6,739.5 946.6,740.2 949.1,734.1 943.3,733.5" fill="#e8d28e" />
<polygon points="948.1,740.4 959.4,741.8 961.6,735.6 950.6,734.3" fill="#e8d28e" />
<polygon points="960.4,741.9 966.4,742.6 968.4,736.4 962.6,735.7" fill="#e8d28e" />
<polygon points="968,742.8 979.3,744.1 980.9,737.8 969.9,736.5" fill="#e8d28e" />
<polygon points="980.2,744.3 986.2,745 987.7,738.6 981.9,737.9" fill="#e8d28e" />
<polygon points="987.8,745.2 999.1,746.5 1000.2,740 989.2,738.8" fill="#e8d28e" />
<polygon points="1000.1,746.6 1006,747.3 1006.9,740.8 1001.2,740.1" fill="#e8d28e" />
<polygon points="1007.6,747.5 1018.9,748.9 1019.5,742.3 1008.5,741" fill="#e8d28e" />
<polygon points="1019.9,749 1025.8,749.7 1026.2,743 1020.4,742.4" fill="#e8d28e" />
<polygon points="1027.4,749.9 1038.7,751.2 1038.8,744.5 1027.8,743.2" fill="#e8d28e" />
<polygon points="1039.7,751.3 1045.6,752.1 1045.5,745.3 1039.7,744.6" fill="#e8d28e" />
<polygon points="1047.2,752.2 1058.5,753.6 1058,746.7 1047.1,745.5" fill="#e8d28e" />
<polygon points="1059.5,753.7 1065.4,754.4 1064.8,747.5 1059,746.8" fill="#e8d28e" />
<polygon points="1067,754.6 1078.3,756 1077.3,749 1066.3,747.7" fill="#e8d28e" />
<polygon points="1079.3,756.1 1085.3,756.8 1084.1,749.7 1078.3,749.1" fill="#e8d28e" />
<polygon points="1086.8,757 1098.1,758.3 1096.6,751.2 1085.6,749.9" fill="#e8d28e" />
<polygon points="1099.1,758.4 1105.1,759.1 1103.4,752 1097.6,751.3" fill="#e8d28e" />
<polygon points="798,715.2 808.9,716.4 815.3,711.3 804.7,710.1" fill="#e8d28e" />
<polygon points="809.9,716.5 815.6,717.2 821.9,712 816.3,711.4" fill="#e8d28e" />
<polygon points="817.2,717.4 828.1,718.6 834,713.4 823.3,712.2" fill="#e8d28e" />
<polygon points="829,718.7 834.8,719.4 840.5,714.1 834.9,713.5" fill="#e8d28e" />
<polygon points="836.3,719.6 847.2,720.8 852.6,715.4 842,714.2" fill="#e8d28e" />
<polygon points="848.2,720.9 853.9,721.6 859.1,716.1 853.5,715.5" fill="#e8d28e" />
<polygon points="855.5,721.8 866.4,723 871.2,717.5 860.6,716.3" fill="#e8d28e" />
<polygon points="867.4,723.1 873.1,723.8 877.7,718.2 872.1,717.6" fill="#e8d28e" />
<polygon points="874.6,724 885.5,725.2 889.8,719.6 879.2,718.4" fill="#e8d28e" />
<polygon points="886.5,725.3 892.3,726 896.4,720.3 890.8,719.7" fill="#e8d28e" />
<polygon points="893.8,726.2 904.7,727.4 908.5,721.6 897.8,720.4" fill="#e8d28e" />
<polygon points="905.7,727.5 911.4,728.2 915,722.3 909.4,721.7" fill="#e8d28e" />
<polygon points="912.9,728.4 923.9,729.6 927.1,723.7 916.5,722.5" fill="#e8d28e" />
<polygon points="924.8,729.7 930.6,730.4 933.6,724.4 928,723.8" fill="#e8d28e" />
<polygon points="932.1,730.6 943,731.8 945.7,725.7 935.1,724.6" fill="#e8d28e" />
<polygon points="944,731.9 949.7,732.6 952.2,726.5 946.6,725.9" fill="#e8d28e" />
<polygon points="951.2,732.8 962.2,734 964.3,727.8 953.7,726.6" fill="#e8d28e" />
<polygon points="963.1,734.1 968.9,734.8 970.9,728.5 965.3,727.9" fill="#e8d28e" />
<polygon points="970.4,735 981.3,736.2 983,729.9 972.4,728.7" fill="#e8d28e" />
<polygon points="982.3,736.3 988,737 989.5,730.6 983.9,730" fill="#e8d28e" />
<polygon points="989.6,737.2 1000.5,738.4 1001.6,731.9 991,730.8" fill="#e8d28e" />
<polygon points="1001.4,738.5 1007.2,739.2 1008.1,732.7 1002.5,732.1" fill="#e8d28e" />
<polygon points="1008.7,739.4 1019.6,740.6 1020.2,734 1009.6,732.8" fill="#e8d28e" />
<polygon points="1020.6,740.7 1026.3,741.4 1026.7,734.7 1021.2,734.1" fill="#e8d28e" />
<polygon points="1027.9,741.6 1038.8,742.8 1038.8,736.1 1028.2,734.9" fill="#e8d28e" />
<polygon points="1039.7,742.9 1045.5,743.6 1045.4,736.8 1039.8,736.2" fill="#e8d28e" />
<polygon points="1047,743.8 1057.9,745 1057.5,738.1 1046.9,737" fill="#e8d28e" />
<polygon points="1058.9,745.1 1064.6,745.8 1064,738.9 1058.4,738.3" fill="#e8d28e" />
<polygon points="1066.2,746 1077.1,747.2 1076.1,740.2 1065.5,739" fill="#e8d28e" />
<polygon points="1078,747.3 1083.8,748 1082.6,740.9 1077,740.3" fill="#e8d28e" />
<polygon points="1085.3,748.2 1096.2,749.4 1094.7,742.3 1084.1,741.1" fill="#e8d28e" />
<polygon points="1097.2,749.5 1102.9,750.2 1101.2,743 1095.7,742.4" fill="#e8d28e" />
<polygon points="806.4,708.8 816.9,710 823.3,704.9 813.1,703.8" fill="#e8d28e" />
<polygon points="817.9,710.1 823.4,710.7 829.6,705.5 824.2,704.9" fill="#e8d28e" />
<polygon points="824.9,710.9 835.4,712 841.3,706.8 831.1,705.7" fill="#e8d28e" />
<polygon points="836.4,712.1 841.9,712.7 847.6,707.4 842.2,706.8" fill="#e8d28e" />
<polygon points="843.4,712.9 853.9,714.1 859.3,708.7 849,707.6" fill="#e8d28e" />
<polygon points="854.9,714.2 860.4,714.8 865.6,709.3 860.2,708.7" fill="#e8d28e" />
<polygon points="861.9,714.9 872.4,716.1 877.2,710.6 867,709.5" fill="#e8d28e" />
<polygon points="873.3,716.2 878.9,716.8 883.5,711.2 878.1,710.7" fill="#e8d28e" />
<polygon points="880.4,717 890.9,718.1 895.2,712.5 885,711.4" fill="#e8d28e" />
<polygon points="891.8,718.2 897.4,718.8 901.5,713.1 896.1,712.6" fill="#e8d28e" />
<polygon points="898.9,719 909.4,720.2 913.2,714.4 902.9,713.3" fill="#e8d28e" />
<polygon points="910.3,720.3 915.9,720.9 919.5,715 914.1,714.5" fill="#e8d28e" />
<polygon points="917.4,721 927.9,722.2 931.1,716.3 920.9,715.2" fill="#e8d28e" />
<polygon points="928.8,722.3 934.4,722.9 937.4,716.9 932,716.4" fill="#e8d28e" />
<polygon points="935.9,723.1 946.4,724.2 949.1,718.2 938.9,717.1" fill="#e8d28e" />
<polygon points="947.3,724.3 952.9,724.9 955.4,718.8 950,718.3" fill="#e8d28e" />
<polygon points="954.3,725.1 964.9,726.3 967.1,720.1 956.8,719" fill="#e8d28e" />
<polygon points="965.8,726.4 971.4,727 973.4,720.7 968,720.2" fill="#e8d28e" />
<polygon points="972.8,727.1 983.4,728.3 985,722 974.8,720.9" fill="#e8d28e" />
<polygon points="984.3,728.4 989.9,729 991.3,722.6 985.9,722.1" fill="#e8d28e" />
<polygon points="991.3,729.2 1001.9,730.3 1003,723.9 992.8,722.8" fill="#e8d28e" />
<polygon points="1002.8,730.4 1008.3,731 1009.3,724.5 1003.9,724" fill="#e8d28e" />
<polygon points="1009.8,731.2 1020.4,732.4 1021,725.8 1010.7,724.7" fill="#e8d28e" />
<polygon points="1021.3,732.5 1026.8,733.1 1027.2,726.4 1021.9,725.9" fill="#e8d28e" />
<polygon points="1028.3,733.2 1038.9,734.4 1038.9,727.7 1028.7,726.6" fill="#e8d28e" />
<polygon points="1039.8,734.5 1045.3,735.1 1045.2,728.3 1039.8,727.8" fill="#e8d28e" />
<polygon points="1046.8,735.3 1057.4,736.4 1056.9,729.6 1046.7,728.5" fill="#e8d28e" />
<polygon points="1058.3,736.5 1063.8,737.1 1063.2,730.2 1057.8,729.7" fill="#e8d28e" />
<polygon points="1065.3,737.3 1075.8,738.5 1074.9,731.5 1064.6,730.4" fill="#e8d28e" />
<polygon points="1076.8,738.6 1082.3,739.2 1081.1,732.1 1075.8,731.6" fill="#e8d28e" />
<polygon points="1083.8,739.3 1094.3,740.5 1092.8,733.4 1082.6,732.3" fill="#e8d28e" />
<polygon points="1095.3,740.6 1100.8,741.2 1099.1,734 1093.7,733.5" fill="#e8d28e" />
<polygon points="814.8,702.5 824.9,703.6 831.4,698.4 821.5,697.4" fill="#e8d28e" />
<polygon points="825.8,703.7 831.2,704.2 837.4,699 832.2,698.5" fill="#e8d28e" />
<polygon points="832.6,704.4 842.8,705.4 848.7,700.2 838.8,699.2" fill="#e8d28e" />
<polygon points="843.7,705.5 849,706.1 854.7,700.8 849.5,700.2" fill="#e8d28e" />
<polygon points="850.5,706.2 860.6,707.3 866,701.9 856.1,700.9" fill="#e8d28e" />
<polygon points="861.5,707.4 866.9,708 872,702.5 866.8,702" fill="#e8d28e" />
<polygon points="868.3,708.1 878.4,709.2 883.3,703.6 873.4,702.6" fill="#e8d28e" />
<polygon points="879.3,709.3 884.7,709.8 889.3,704.2 884.1,703.7" fill="#e8d28e" />
<polygon points="886.1,710 896.3,711 900.6,705.4 890.7,704.4" fill="#e8d28e" />
<polygon points="897.2,711.1 902.5,711.7 906.6,706 901.4,705.4" fill="#e8d28e" />
<polygon points="903.9,711.8 914.1,712.9 917.9,707.1 908,706.1" fill="#e8d28e" />
<polygon points="915,713 920.4,713.6 923.9,707.7 918.7,707.2" fill="#e8d28e" />
<polygon points="921.8,713.7 931.9,714.8 935.2,708.8 925.3,707.8" fill="#e8d28e" />
<polygon points="932.8,714.9 938.2,715.4 941.2,709.4 936,708.9" fill="#e8d28e" />
<polygon points="939.6,715.6 949.8,716.6 952.5,710.6 942.6,709.6" fill="#e8d28e" />
<polygon points="950.7,716.7 956,717.3 958.5,711.2 953.4,710.7" fill="#e8d28e" />
<polygon points="957.4,717.4 967.6,718.5 969.8,712.3 959.9,711.3" fill="#e8d28e" />
<polygon points="968.5,718.6 973.9,719.2 975.8,712.9 970.7,712.4" fill="#e8d28e" />
<polygon points="975.3,719.3 985.4,720.4 987.1,714 977.2,713.1" fill="#e8d28e" />
<polygon points="986.3,720.5 991.7,721 993.2,714.6 988,714.1" fill="#e8d28e" />
<polygon points="993.1,721.2 1003.3,722.2 1004.4,715.8 994.5,714.8" fill="#e8d28e" />
<polygon points="1004.2,722.3 1009.5,722.9 1010.5,716.4 1005.3,715.9" fill="#e8d28e" />
<polygon points="1010.9,723 1021.1,724.1 1021.7,717.5 1011.8,716.5" fill="#e8d28e" />
<polygon points="1022,724.2 1027.4,724.8 1027.8,718.1 1022.6,717.6" fill="#e8d28e" />
<polygon points="1028.8,724.9 1038.9,726 1039,719.2 1029.1,718.3" fill="#e8d28e" />
<polygon points="1039.8,726.1 1045.2,726.6 1045.1,719.9 1039.9,719.3" fill="#e8d28e" />
<polygon points="1046.6,726.8 1056.8,727.8 1056.3,721 1046.4,720" fill="#e8d28e" />
<polygon points="1057.7,727.9 1063,728.5 1062.4,721.6 1057.2,721.1" fill="#e8d28e" />
<polygon points="1064.4,728.7 1074.6,729.7 1073.6,722.7 1063.8,721.7" fill="#e8d28e" />
<polygon points="1075.5,729.8 1080.8,730.4 1079.7,723.3 1074.5,722.8" fill="#e8d28e" />
<polygon points="1082.3,730.5 1092.4,731.6 1090.9,724.5 1081.1,723.5" fill="#e8d28e" />
<polygon points="1093.3,731.7 1098.7,732.2 1097,725.1 1091.8,724.5" fill="#e8d28e" />
<polygon points="823.2,696.2 833,697.1 839.4,692 829.9,691.1" fill="#e8d28e" />
<polygon points="833.8,697.2 839,697.7 845.2,692.5 840.2,692.1" fill="#e8d28e" />
<polygon points="840.3,697.9 850.1,698.8 856,693.6 846.5,692.7" fill="#e8d28e" />
<polygon points="851,698.9 856.1,699.4 861.8,694.1 856.8,693.6" fill="#e8d28e" />
<polygon points="857.5,699.6 867.3,700.5 872.7,695.1 863.2,694.2" fill="#e8d28e" />
<polygon points="868.2,700.6 873.3,701.1 878.5,695.7 873.5,695.2" fill="#e8d28e" />
<polygon points="874.7,701.3 884.5,702.2 889.3,696.7 879.8,695.8" fill="#e8d28e" />
<polygon points="885.3,702.3 890.5,702.8 895.1,697.2 890.1,696.8" fill="#e8d28e" />
<polygon points="891.9,703 901.6,703.9 905.9,698.3 896.5,697.4" fill="#e8d28e" />
<polygon points="902.5,704 907.7,704.5 911.8,698.8 906.8,698.3" fill="#e8d28e" />
<polygon points="909,704.7 918.8,705.6 922.6,699.8 913.1,698.9" fill="#e8d28e" />
<polygon points="919.7,705.7 924.8,706.2 928.4,700.4 923.4,699.9" fill="#e8d28e" />
<polygon points="926.2,706.4 936,707.3 939.2,701.4 929.7,700.5" fill="#e8d28e" />
<polygon points="936.9,707.4 942,707.9 945.1,702 940.1,701.5" fill="#e8d28e" />
<polygon points="943.4,708.1 953.2,709.1 955.9,703 946.4,702.1" fill="#e8d28e" />
<polygon points="954,709.1 959.2,709.6 961.7,703.5 956.7,703.1" fill="#e8d28e" />
<polygon points="960.5,709.8 970.3,710.8 972.5,704.6 963,703.7" fill="#e8d28e" />
<polygon points="971.2,710.8 976.3,711.4 978.3,705.1 973.3,704.6" fill="#e8d28e" />
<polygon points="977.7,711.5 987.5,712.5 989.2,706.1 979.7,705.2" fill="#e8d28e" />
<polygon points="988.4,712.5 993.5,713.1 995,706.7 990,706.2" fill="#e8d28e" />
<polygon points="994.9,713.2 1004.7,714.2 1005.8,707.7 996.3,706.8" fill="#e8d28e" />
<polygon points="1005.5,714.2 1010.7,714.8 1011.6,708.2 1006.6,707.8" fill="#e8d28e" />
<polygon points="1012.1,714.9 1021.9,715.9 1022.4,709.3 1013,708.4" fill="#e8d28e" />
<polygon points="1022.7,715.9 1027.9,716.5 1028.3,709.8 1023.3,709.3" fill="#e8d28e" />
<polygon points="1029.2,716.6 1039,717.6 1039.1,710.8 1029.6,709.9" fill="#e8d28e" />
<polygon points="1039.9,717.7 1045,718.2 1044.9,711.4 1039.9,710.9" fill="#e8d28e" />
<polygon points="1046.4,718.3 1056.2,719.3 1055.7,712.4 1046.2,711.5" fill="#e8d28e" />
<polygon points="1057.1,719.4 1062.2,719.9 1061.6,713 1056.6,712.5" fill="#e8d28e" />
<polygon points="1063.6,720 1073.4,721 1072.4,714 1062.9,713.1" fill="#e8d28e" />
<polygon points="1074.2,721.1 1079.4,721.6 1078.2,714.5 1073.2,714.1" fill="#e8d28e" />
<polygon points="1080.8,721.7 1090.5,722.7 1089,715.5 1079.5,714.6" fill="#e8d28e" />
<polygon points="1091.4,722.8 1096.6,723.3 1094.8,716.1 1089.9,715.6" fill="#e8d28e" />
<polygon points="831.6,689.8 841,690.7 847.4,685.6 838.3,684.8" fill="#e8d28e" />
<polygon points="841.8,690.8 846.7,691.2 853,686 848.2,685.6" fill="#e8d28e" />
<polygon points="848.1,691.4 857.5,692.2 863.4,687 854.2,686.2" fill="#e8d28e" />
<polygon points="858.3,692.3 863.3,692.8 869,687.5 864.2,687" fill="#e8d28e" />
<polygon points="864.6,692.9 874,693.8 879.3,688.4 870.2,687.6" fill="#e8d28e" />
<polygon points="874.8,693.9 879.8,694.3 884.9,688.9 880.1,688.4" fill="#e8d28e" />
<polygon points="881.1,694.4 890.5,695.3 895.3,689.8 886.2,689" fill="#e8d28e" />
<polygon points="891.3,695.4 896.3,695.9 900.9,690.3 896.1,689.8" fill="#e8d28e" />
<polygon points="897.6,696 907,696.8 911.3,691.2 902.2,690.4" fill="#e8d28e" />
<polygon points="907.8,696.9 912.8,697.4 916.9,691.7 912.1,691.2" fill="#e8d28e" />
<polygon points="914.1,697.5 923.5,698.4 927.3,692.6 918.2,691.8" fill="#e8d28e" />
<polygon points="924.4,698.5 929.3,698.9 932.9,693.1 928.1,692.7" fill="#e8d28e" />
<polygon points="930.6,699 940,699.9 943.3,694 934.2,693.2" fill="#e8d28e" />
<polygon points="940.9,700 945.8,700.5 948.9,694.5 944.1,694.1" fill="#e8d28e" />
<polygon points="947.1,700.6 956.5,701.5 959.3,695.4 950.1,694.6" fill="#e8d28e" />
<polygon points="957.4,701.5 962.3,702 964.9,695.9 960.1,695.5" fill="#e8d28e" />
<polygon points="963.6,702.1 973.1,703 975.2,696.8 966.1,696" fill="#e8d28e" />
<polygon points="973.9,703.1 978.8,703.5 980.8,697.3 976,696.9" fill="#e8d28e" />
<polygon points="980.2,703.7 989.6,704.5 991.2,698.2 982.1,697.4" fill="#e8d28e" />
<polygon points="990.4,704.6 995.4,705.1 996.8,698.7 992,698.3" fill="#e8d28e" />
<polygon points="996.7,705.2 1006.1,706.1 1007.2,699.6 998.1,698.8" fill="#e8d28e" />
<polygon points="1006.9,706.2 1011.9,706.6 1012.8,700.1 1008,699.7" fill="#e8d28e" />
<polygon points="1013.2,706.7 1022.6,707.6 1023.2,701 1014.1,700.2" fill="#e8d28e" />
<polygon points="1023.4,707.7 1028.4,708.2 1028.8,701.5 1024,701.1" fill="#e8d28e" />
<polygon points="1029.7,708.3 1039.1,709.1 1039.2,702.4 1030.1,701.6" fill="#e8d28e" />
<polygon points="1039.9,709.2 1044.9,709.7 1044.8,702.9 1040,702.5" fill="#e8d28e" />
<polygon points="1046.2,709.8 1055.6,710.7 1055.2,703.8 1046,703" fill="#e8d28e" />
<polygon points="1056.4,710.8 1061.4,711.2 1060.7,704.3 1056,703.9" fill="#e8d28e" />
<polygon points="1062.7,711.3 1072.1,712.2 1071.1,705.2 1062,704.4" fill="#e8d28e" />
<polygon points="1073,712.3 1077.9,712.8 1076.7,705.7 1071.9,705.3" fill="#e8d28e" />
<polygon points="1079.2,712.9 1088.6,713.8 1087.1,706.6 1078,705.8" fill="#e8d28e" />
<polygon points="1089.5,713.8 1094.4,714.3 1092.7,707.1 1087.9,706.7" fill="#e8d28e" />
<polygon points="805,638 890,626 899,735 849,735 802,707 758,662" fill="url(#econe)" />
<polygon points="712.3,609.9 888,604.8 885,630.2 717.4,640.3" fill="#282c2a" />
<polygon points="716.5,633 885.5,624 885.3,626.5 716.8,635.5" fill="#c85050" />
<polygon points="734.7,570.3 856.6,568.2 888,604.8 712.3,609.9" fill="#2e2e2e" />
<polygon points="739.4,573 766.4,572.5 763.5,586.4 732.3,587.2" fill="#d8c08a" />
<polygon points="767.7,572.4 792.8,572 794,585.7 765,586.4" fill="#d8c08a" />
<polygon points="730.5,588 763.3,587.2 759.3,606.2 720.5,607.3" fill="#e0c890" />
<polygon points="764.8,587.2 794,586.5 795.6,605.2 761.1,606.2" fill="#e0c890" />
<polygon points="797.4,573 817.7,572.7 824.8,592.2 800,592.8" fill="#f0dca8" />
<polygon points="822.8,572.6 849.6,572.1 863.1,590.5 830.7,591.3" fill="#f4e4b4" />
<polygon points="794.6,571.2 796.5,571.1 801,607.3 798.4,607.4" fill="#e8d090" />
<circle cx="763.8" cy="588.4" r="2" fill="#111"/>
<circle cx="824.7" cy="583.9" r="2" fill="#111"/>
<ellipse cx="831.2" cy="513.4" rx="46.7" ry="19.3" fill="none" stroke="#9ab4e8" stroke-width="1.3" stroke-dasharray="5,3"/>
<text x="831.5" y="509.3" font-family="'Liberation Serif', 'Times New Roman', serif" font-size="17" fill="#7c9ce0" font-weight="normal" font-style="normal" text-anchor="middle" textLength="33.5" lengthAdjust="spacingAndGlyphs" >Chip</text>
<text x="830" y="529.6" font-family="'Liberation Serif', 'Times New Roman', serif" font-size="17" fill="#7c9ce0" font-weight="normal" font-style="normal" text-anchor="middle" textLength="59" lengthAdjust="spacingAndGlyphs" >inductor</text>
<line x1="806" y1="534" x2="794" y2="572" stroke="#8aa8e0" stroke-width="1.1" stroke-dasharray="4,3"/>
<line x1="830" y1="534" x2="812" y2="574" stroke="#8aa8e0" stroke-width="1.1" stroke-dasharray="4,3"/>
<line x1="852" y1="535" x2="858" y2="568" stroke="#8aa8e0" stroke-width="1.1" stroke-dasharray="4,3"/>
<line x1="866" y1="532" x2="878" y2="592" stroke="#8aa8e0" stroke-width="1.1" stroke-dasharray="4,3"/>
<line x1="767" y1="653" x2="760" y2="600" stroke="#f0a0a0" stroke-width="1.1" />
<line x1="792" y1="656" x2="830" y2="596" stroke="#f0a0a0" stroke-width="1.1" />
<ellipse cx="764.2" cy="673.9" rx="47" ry="20" fill="none" stroke="#f0a8a8" stroke-width="1.3"/>
<text x="764" y="671.8" font-family="'Liberation Serif', 'Times New Roman', serif" font-size="17" fill="#ec9a9a" font-weight="normal" font-style="normal" text-anchor="middle" textLength="57" lengthAdjust="spacingAndGlyphs" >Varactor</text>
<text x="764.7" y="692.2" font-family="'Liberation Serif', 'Times New Roman', serif" font-size="17" fill="#ec9a9a" font-weight="normal" font-style="normal" text-anchor="middle" textLength="37.5" lengthAdjust="spacingAndGlyphs" >diode</text>
<rect x="706.8" y="865.2" width="176" height="122.5" fill="#0b3cf0" />
<g clip-path="url(#fp1)">
<path d="M 707,877 Q 719.5,879 732,880 L 707,886 Z" fill="#38e0a0" stroke="none" stroke-width="1" />
<path d="M 707,972 Q 719.5,974 732,975 L 707,969 Z" fill="#38e0a0" stroke="none" stroke-width="1" />
<path d="M 786,877 Q 773,879 760,880 L 786,886 Z" fill="#38e0a0" stroke="none" stroke-width="1" />
<path d="M 786,972 Q 773,974 760,975 L 786,969 Z" fill="#38e0a0" stroke="none" stroke-width="1" />
<rect x="706.8" y="865.2" width="5" height="15" fill="#40e060" />
<rect x="706.8" y="973" width="5" height="15" fill="#40e060" />
<rect x="781" y="865.2" width="5" height="15" fill="#40e060" />
<rect x="781" y="973" width="5" height="15" fill="#40e060" />
<rect x="706.8" y="878" width="6.2" height="97" fill="#f01010" />
<rect x="713" y="878" width="2.5" height="97" fill="#f8e818" />
<rect x="715.5" y="878" width="3" height="97" fill="#50e028" />
<rect x="718.5" y="878" width="2" height="97" fill="#28e0e8" />
<rect x="777.6" y="878" width="8" height="97" fill="#f01010" />
<rect x="775.1" y="878" width="2.5" height="97" fill="#f8e818" />
<rect x="772.1" y="878" width="3" height="97" fill="#50e028" />
<rect x="770.1" y="878" width="2" height="97" fill="#28e0e8" />
<line x1="785.8" y1="865.2" x2="785.8" y2="987.7" stroke="#4070ff" stroke-width="0.8" />
<path d="M 790,890 Q 790,882.8 795,878 L 804,890 Z" fill="#38e0a0" stroke="none" stroke-width="1" />
<path d="M 790,962 Q 790,969.2 795,974 L 804,962 Z" fill="#38e0a0" stroke="none" stroke-width="1" />
<rect x="790" y="889" width="39.2" height="74" fill="#f8e818" />
<rect x="790" y="889" width="39.2" height="4.5" fill="#f01010" />
<rect x="790" y="958.5" width="39.2" height="4.5" fill="#f01010" />
<rect x="794" y="894" width="35.2" height="64" fill="#70e028" />
<ellipse cx="817" cy="926" rx="15" ry="28.5" fill="#30e0d0"/>
<ellipse cx="817" cy="926" rx="12" ry="26" fill="#0b3cf0"/>
<rect x="823" y="896" width="7" height="60" fill="#0b3cf0" />
<path d="M 880.3,890 Q 880.3,882.8 875.3,878 L 866.3,890 Z" fill="#38e0a0" stroke="none" stroke-width="1" />
<path d="M 880.3,962 Q 880.3,969.2 875.3,974 L 866.3,962 Z" fill="#38e0a0" stroke="none" stroke-width="1" />
<rect x="841.1" y="889" width="39.2" height="74" fill="#f8e818" />
<rect x="841.1" y="889" width="39.2" height="4.5" fill="#f01010" />
<rect x="841.1" y="958.5" width="39.2" height="4.5" fill="#f01010" />
<rect x="841.1" y="894" width="35.2" height="64" fill="#70e028" />
<ellipse cx="853.3" cy="926" rx="15" ry="28.5" fill="#30e0d0"/>
<ellipse cx="853.3" cy="926" rx="12" ry="26" fill="#0b3cf0"/>
<rect x="840.3" y="896" width="7" height="60" fill="#0b3cf0" />
<rect x="877.5" y="889" width="5.3" height="74" fill="#f01010" />
<rect x="829.2" y="922.7" width="11.1" height="8.3" fill="#f8e818" />
<rect x="831.8" y="924.5" width="6" height="4.7" fill="#f03010" />
</g>
<line x1="715.7" y1="982" x2="753.6" y2="982" stroke="#ffffff" stroke-width="2.6" />
<polygon points="760,982 752,985.5 752,978.5" fill="#ffffff" />
<text x="762" y="987" font-family="'Liberation Serif', 'Times New Roman', serif" font-size="13" fill="#ffffff" font-weight="bold" font-style="normal" text-anchor="start" >E</text>
<text x="771" y="989" font-family="'Liberation Serif', 'Times New Roman', serif" font-size="8" fill="#ffffff" font-weight="bold" font-style="italic" text-anchor="start" >x</text>
<rect x="966.5" y="865.9" width="175.6" height="121.4" fill="#0b3cf0" />
<g clip-path="url(#fp2)">
<rect x="966.5" y="865.9" width="79" height="28.1" fill="#60e030" />
<rect x="966.5" y="876" width="79" height="14" fill="#f0e820" />
<rect x="966.5" y="881" width="79" height="4" fill="#f02010" />
<rect x="966.5" y="959" width="79" height="28.3" fill="#60e030" />
<rect x="966.5" y="965.5" width="79" height="14" fill="#f0e820" />
<rect x="966.5" y="970.5" width="79" height="4" fill="#f02010" />
<ellipse cx="978" cy="868" rx="10" ry="5" fill="#30d8e8"/>
<ellipse cx="1032" cy="868" rx="10" ry="5" fill="#30d8e8"/>
<ellipse cx="978" cy="985" rx="10" ry="5" fill="#30d8e8"/>
<ellipse cx="1032" cy="985" rx="10" ry="5" fill="#30d8e8"/>
<rect x="966.5" y="919" width="79" height="17" fill="#60e030" />
<rect x="966.5" y="923" width="79" height="9" fill="#f0e820" />
<rect x="966.5" y="925.8" width="79" height="4.5" fill="#f02010" />
<path d="M 968,896 Q 1005,882 1043,896 L 1043,918 Q 1005,924 968,918 Z" fill="#0b3cf0" stroke="#30d8e8" stroke-width="1.5"/>
<path d="M 968,938 Q 1005,932 1043,938 L 1043,962 Q 1005,972 968,962 Z" fill="#0b3cf0" stroke="#30d8e8" stroke-width="1.5"/>
<circle cx="1004.4" cy="873.7" r="5" fill="#f02010"/><circle cx="1004.4" cy="873.7" r="2" fill="#f0a020"/>
<circle cx="1004.4" cy="980" r="5" fill="#f02010"/><circle cx="1004.4" cy="980" r="2" fill="#f0a020"/>
<rect x="1042.5" y="866" width="6" height="121.4" fill="#70e030" />
<rect x="1043.5" y="876" width="4" height="15" fill="#f02010" />
<rect x="1043.5" y="959" width="4" height="15" fill="#f02010" />
<rect x="1048" y="892.4" width="40" height="4.4" fill="#50e060" />
<rect x="1102" y="892.4" width="37" height="4.4" fill="#50e060" />
<rect x="1050" y="893.8" width="36" height="1.6" fill="#b0f020" />
<rect x="1048" y="958.3" width="40" height="4.4" fill="#50e060" />
<rect x="1102" y="958.3" width="37" height="4.4" fill="#50e060" />
<rect x="1050" y="959.7" width="36" height="1.6" fill="#b0f020" />
<rect x="1138" y="876" width="4.2" height="102" fill="#50e060" />
<rect x="1138.5" y="884" width="3.6" height="11" fill="#f02010" />
<rect x="1138.5" y="958" width="3.6" height="11" fill="#f02010" />
</g>
<line x1="976" y1="984" x2="976" y2="945.2" stroke="#ffffff" stroke-width="2.6" />
<polygon points="976,938 980,947 972,947" fill="#ffffff" />
<text x="983" y="951" font-family="'Liberation Serif', 'Times New Roman', serif" font-size="13" fill="#ffffff" font-weight="bold" font-style="normal" text-anchor="start" >E</text>
<text x="992" y="953" font-family="'Liberation Serif', 'Times New Roman', serif" font-size="8" fill="#ffffff" font-weight="bold" font-style="italic" text-anchor="start" >y</text>
<rect x="844.5" y="1013.4" width="160.5" height="15.6" fill="url(#jet)" />
<text x="838.6" y="1011.3" font-family="'Liberation Serif', 'Times New Roman', serif" font-size="15" fill="#111" font-weight="bold" font-style="normal" text-anchor="start" textLength="37" lengthAdjust="spacingAndGlyphs" >Max.</text>
<text x="974.5" y="1011.3" font-family="'Liberation Serif', 'Times New Roman', serif" font-size="15" fill="#111" font-weight="bold" font-style="normal" text-anchor="start" textLength="34.4" lengthAdjust="spacingAndGlyphs" >Min.</text>
<text x="1212" y="536" font-family="'Liberation Serif', 'Times New Roman', serif" font-size="37" fill="#000" font-weight="normal" font-style="normal" text-anchor="start" >(f)</text>
<rect x="1274" y="531" width="575" height="495.3" fill="#232323" />
<path d="M 1359,777 L 1321,791 L 1670,963" fill="none" stroke="#7a3cc8" stroke-width="8" stroke-linejoin="round"/>
<path d="M 1362,811 L 1392,797 M 1404,832 L 1432,818" fill="none" stroke="#7a3cc8" stroke-width="5" />
<polygon points="1362,776 1354.1,783.6 1351.1,775.2" fill="#7a3cc8" />
<polygon points="1401,793 1393.6,801.1 1390,792.9" fill="#7a3cc8" />
<polygon points="1441,814 1433.6,822.1 1430,813.9" fill="#7a3cc8" />
<path d="M 1720,928 L 1562,861 L 1680,813" fill="none" stroke="#3cb048" stroke-width="7" stroke-linejoin="round"/>
<path d="M 1588,848 L 1528,819 M 1634,831 L 1565,800 M 1680,813 L 1607,781" fill="none" stroke="#3cb048" stroke-width="5" />
<polygon points="1520,816 1531,816 1527.3,824.2" fill="#3cb048" />
<polygon points="1558,797 1569,797 1565.3,805.2" fill="#3cb048" />
<polygon points="1600,778 1611,778 1607.3,786.2" fill="#3cb048" />
<rect x="1660" y="956" width="16" height="9" fill="#a070e0" transform="rotate(27 1668 960)"/>
<rect x="1708" y="921" width="16" height="9" fill="#60c060" transform="rotate(27 1716 925)"/>
<text x="1392" y="845" font-family="'Liberation Sans', Arial, sans-serif" font-size="12.5" fill="#e8e8e8" font-weight="normal" font-style="normal" text-anchor="start" textLength="118" lengthAdjust="spacingAndGlyphs" transform="rotate(28 1392 845)">Horizontal direction</text>
<text x="1630" y="868" font-family="'Liberation Sans', Arial, sans-serif" font-size="12.5" fill="#e8e8e8" font-weight="normal" font-style="normal" text-anchor="start" textLength="112" lengthAdjust="spacingAndGlyphs" transform="rotate(-27 1630 868)">Vertical direction</text>
<polygon points="1332,757 1476,826 1476,831 1332,762" fill="#b8d0c8" />
<polygon points="1476,826 1629,757 1629,762 1476,831" fill="#d0e4dc" />
<polygon points="1332,757 1485,700 1629,757 1476,826" fill="#f0a048" />
<polygon points="1332,757 1485,700 1629,757 1476,826" fill="url(#hexp)" opacity="0.7"/>
<ellipse cx="1480" cy="762" rx="118" ry="52" fill="url(#fglow)"/>
<path d="M 1332,612 C 1350,650 1355,720 1380,790 L 1395,795 C 1370,720 1368,660 1345,612 Z" fill="#40c040" stroke="none" stroke-width="1" opacity="0.55"/>
<path d="M 1624,612 C 1605,660 1600,720 1578,790 L 1565,795 C 1590,720 1594,660 1612,612 Z" fill="#40c040" stroke="none" stroke-width="1" opacity="0.55"/>
<path d="M 1338,612 C 1356,650 1361,720 1386,790 L 1572,790 C 1597,720 1600,660 1618,612 Z" fill="url(#funnel)" stroke="none" stroke-width="1" />
<polygon points="1328,606 1467,567 1629,608 1505,659" fill="#8a8e90" opacity="0.45"/>
<line x1="1345" y1="610" x2="1420" y2="650" stroke="#e0e0e0" stroke-width="1" opacity="0.6"/>
<path d="M 1381.2,603 L 1395.5,756 A 13.2,6.6 0 0 1 1422,756 L 1426.8,603 A 22.9,11.4 0 0 1 1381.2,603 Z" fill="url(#cylr)" opacity="0.8"/>
<ellipse cx="1404" cy="603" rx="22.9" ry="10.1" fill="#f06060" opacity="0.8"/>
<path d="M 1456,586 L 1463,700 A 17,8.5 0 0 1 1497,700 L 1504,586 A 24,12 0 0 1 1456,586 Z" fill="url(#cylg)" opacity="0.6"/>
<ellipse cx="1480" cy="586" rx="24" ry="10.6" fill="#80e080" opacity="0.6"/>
<path d="M 1524.5,608 L 1528,752 A 13,6.5 0 0 1 1554,752 L 1569.5,608 A 22.5,11.2 0 0 1 1524.5,608 Z" fill="url(#cylb)" opacity="0.8"/>
<ellipse cx="1547" cy="608" rx="22.5" ry="9.9" fill="#5070e8" opacity="0.8"/>
<line x1="1405" y1="700" x2="1405" y2="644.8" stroke="#ffb0b0" stroke-width="1.5" />
<polygon points="1405,640 1407.5,646 1402.5,646" fill="#ffb0b0" />
<line x1="1481" y1="680" x2="1481" y2="624.8" stroke="#e0ffe0" stroke-width="1.5" />
<polygon points="1481,620 1483.5,626 1478.5,626" fill="#e0ffe0" />
<line x1="1543" y1="710" x2="1543" y2="654" stroke="#a0b0ff" stroke-width="1.2" />
<polygon points="1543,650 1545,655 1541,655" fill="#a0b0ff" />
<path d="M 1481,705 L 1476,712 L 1487,718 L 1475,725 L 1488,731 L 1475,738 L 1487,744 L 1481,752" fill="none" stroke="#0a5010" stroke-width="2.2" />
<polygon points="1482,757 1478.4,750.3 1484.4,749.8" fill="#0a5010" />
<line x1="1470" y1="702" x2="1492" y2="702" stroke="#0a4010" stroke-width="1.6" />
<polygon points="1496,702 1491,704.5 1491,699.5" fill="#0a4010" />
<polygon points="1466,702 1471,699.5 1471,704.5" fill="#0a4010" />
<text x="1394" y="592" font-family="'Liberation Sans', Arial, sans-serif" font-size="13" fill="#e8e8e8" font-weight="normal" font-style="normal" text-anchor="start" >|<tspan font-style="italic">CP</tspan>⟩</text>
<text x="1469" y="576" font-family="'Liberation Sans', Arial, sans-serif" font-size="13" fill="#e8e8e8" font-weight="normal" font-style="normal" text-anchor="start" >|<tspan font-style="italic">EP</tspan>⟩</text>
<text x="1533" y="598" font-family="'Liberation Sans', Arial, sans-serif" font-size="13" fill="#e8e8e8" font-weight="normal" font-style="normal" text-anchor="start" >|<tspan font-style="italic">LP</tspan>⟩</text>
<text x="1467" y="697" font-family="'Liberation Sans', Arial, sans-serif" font-size="12" fill="#e8e8e8" font-weight="normal" font-style="normal" text-anchor="start" >|<tspan font-style="italic">LP</tspan>⟩</text>
<text x="1420" y="673" font-family="'Liberation Serif', 'Times New Roman', serif" font-size="15" fill="#e8e8e8" font-weight="normal" font-style="normal" text-anchor="start" ><tspan font-style="italic">f</tspan><tspan font-size="8" dy="2">c</tspan><tspan dy="-2">+</tspan><tspan font-style="italic">m</tspan><tspan font-size="8" dy="2">2</tspan><tspan dy="-2" font-style="italic">f</tspan><tspan font-size="8" dy="2">0</tspan></text>
<text x="1338" y="690" font-family="'Liberation Serif', 'Times New Roman', serif" font-size="15" fill="#e8e8e8" font-weight="normal" font-style="normal" text-anchor="start" ><tspan font-style="italic">f</tspan><tspan font-size="8" dy="2">c</tspan><tspan dy="-2">+</tspan><tspan font-style="italic">m</tspan><tspan font-size="8" dy="2">1</tspan><tspan dy="-2" font-style="italic">f</tspan><tspan font-size="8" dy="2">0</tspan></text>
<text x="1561" y="686" font-family="'Liberation Serif', 'Times New Roman', serif" font-size="15" fill="#e8e8e8" font-weight="normal" font-style="normal" text-anchor="start" ><tspan font-style="italic">f</tspan><tspan font-size="8" dy="2">c</tspan><tspan dy="-2">+</tspan><tspan font-style="italic">m</tspan><tspan font-size="8" dy="2">3</tspan><tspan dy="-2" font-style="italic">f</tspan><tspan font-size="8" dy="2">0</tspan></text>
<text x="1447" y="704" font-family="'Liberation Serif', 'Times New Roman', serif" font-size="15" fill="#e8e8e8" font-weight="normal" font-style="normal" text-anchor="start" ><tspan font-style="italic">f</tspan><tspan font-size="8" dy="2">c</tspan></text>
<line x1="1305" y1="756" x2="1305" y2="736.2" stroke="#e0e0e0" stroke-width="1" />
<polygon points="1305,733 1306.5,737 1303.5,737" fill="#e0e0e0" />
<line x1="1305" y1="756" x2="1324.1" y2="747.3" stroke="#e0e0e0" stroke-width="1" />
<polygon points="1327,746 1324,749 1322.7,746.3" fill="#e0e0e0" />
<line x1="1305" y1="756" x2="1322.3" y2="767.3" stroke="#e0e0e0" stroke-width="1" />
<polygon points="1325,769 1320.8,768.1 1322.5,765.6" fill="#e0e0e0" />
<text x="1301" y="731" font-family="'Liberation Sans', Arial, sans-serif" font-size="9" fill="#e0e0e0" font-weight="normal" font-style="italic" text-anchor="start" >z</text>
<text x="1328" y="746" font-family="'Liberation Sans', Arial, sans-serif" font-size="9" fill="#e0e0e0" font-weight="normal" font-style="italic" text-anchor="start" >y</text>
<text x="1326" y="775" font-family="'Liberation Sans', Arial, sans-serif" font-size="9" fill="#e0e0e0" font-weight="normal" font-style="italic" text-anchor="start" >x</text>
<polygon points="1290,940 1378,985 1378,1016 1290,970" fill="#c8e0d4" />
<polygon points="1378,985 1471,941 1471,972 1378,1016" fill="#dceee4" />
<polygon points="1290,940 1381,902 1471,941 1378,985" fill="#f4b070" />
<path d="M 1290,940 L 1381,902 L 1471,941 L 1378,985 Z" fill="none" stroke="#ffffff" stroke-width="1.8" />
<path d="M 1347,937 L 1381,922 L 1414,938 L 1380,953 Z" fill="none" stroke="#ffffff" stroke-width="4" />
<path d="M 1290,940 L 1347,937 M 1381,902 L 1381,922 M 1471,941 L 1414,938 M 1378,985 L 1380,953" fill="none" stroke="#ffffff" stroke-width="1.6" />
<rect x="1356.5" y="927" width="7" height="4" fill="#606878" />
<rect x="1396.5" y="926" width="7" height="4" fill="#606878" />
<rect x="1356.5" y="944" width="7" height="4" fill="#606878" />
<rect x="1396.5" y="944" width="7" height="4" fill="#606878" />
<line x1="1383.9" y1="905.3" x2="1465.1" y2="940.7" stroke="#111" stroke-width="1.2" />
<polygon points="1468,942 1463.5,942.2 1465.1,938.6" fill="#111" />
<polygon points="1381,904 1385.5,903.8 1383.9,907.4" fill="#111" />
<line x1="1377.2" y1="943" x2="1397.8" y2="933" stroke="#111" stroke-width="1" />
<polygon points="1400,932 1397.9,934.7 1396.6,931.9" fill="#111" />
<polygon points="1375,944 1377.1,941.3 1378.4,944.1" fill="#111" />
<line x1="1387.2" y1="953.1" x2="1417.8" y2="940.9" stroke="#111" stroke-width="1" />
<polygon points="1420,940 1417.8,942.5 1416.7,939.7" fill="#111" />
<polygon points="1385,954 1387.2,951.5 1388.3,954.3" fill="#111" />
<line x1="1294.8" y1="946.5" x2="1373.2" y2="988.5" stroke="#111" stroke-width="1" />
<polygon points="1376,990 1371.5,989.9 1373.4,986.3" fill="#111" />
<polygon points="1292,945 1296.5,945.1 1294.6,948.7" fill="#111" />
<text x="1418" y="935" font-family="'Liberation Sans', Arial, sans-serif" font-size="14" fill="#111" font-weight="normal" font-style="italic" text-anchor="start" >a</text>
<text x="1387" y="942" font-family="'Liberation Sans', Arial, sans-serif" font-size="14" fill="#111" font-weight="normal" font-style="italic" text-anchor="start" >c</text>
<text x="1407" y="962" font-family="'Liberation Sans', Arial, sans-serif" font-size="14" fill="#111" font-weight="normal" font-style="italic" text-anchor="start" >b</text>
<text x="1322" y="981" font-family="'Liberation Sans', Arial, sans-serif" font-size="15" fill="#111" font-weight="normal" font-style="italic" text-anchor="start" >p</text>
<g transform="translate(1728 965) rotate(-30.7)"><rect x="-86" y="-20" width="181" height="39" fill="#262626" stroke="#c4c4c4" stroke-width="2"/><text x="-74" y="-3" font-family="'Liberation Sans', Arial, sans-serif" font-size="15" fill="#eeeeee" textLength="139" lengthAdjust="spacingAndGlyphs">Multi-channel time-</text><text x="-74" y="14" font-family="'Liberation Sans', Arial, sans-serif" font-size="15" fill="#eeeeee" textLength="164" lengthAdjust="spacingAndGlyphs">varying voltage source</text></g>
<circle cx="1720.2" cy="691" r="77" fill="url(#sph)"/>
<path d="M 1644,695 Q 1720,712 1798,696" fill="none" stroke="#1e40a0" stroke-width="3" />
<line x1="1720" y1="614" x2="1720" y2="768" stroke="#c0e0c0" stroke-width="0.8" opacity="0.6"/>
<path d="M 1740,620 Q 1758,660 1750,700" fill="none" stroke="#1a3a1a" stroke-width="1.2" stroke-dasharray="3,2"/>
<circle cx="1720" cy="614" r="9" fill="none" stroke="#f0f0f0" stroke-width="1.5"/><circle cx="1720" cy="612" r="2.5" fill="#e02020"/>
<circle cx="1720" cy="766" r="9" fill="none" stroke="#f0f0f0" stroke-width="1.5"/><circle cx="1720" cy="766" r="2.5" fill="#a02040"/>
<ellipse cx="1750" cy="648" rx="13" ry="6" fill="none" stroke="#e8f0e0" stroke-width="1.5" transform="rotate(-20 1750 648)"/>
<line x1="1720" y1="604" x2="1720" y2="588" stroke="#f0f0f0" stroke-width="1.2" />
<polygon points="1720,584 1722,589 1718,589" fill="#f0f0f0" />
<line x1="1648" y1="703" x2="1644" y2="703.5" stroke="#f0f0f0" stroke-width="1.2" />
<polygon points="1640,704 1644.7,701.4 1645.2,705.4" fill="#f0f0f0" />
<line x1="1790" y1="703" x2="1796" y2="703.6" stroke="#f0f0f0" stroke-width="1.2" />
<polygon points="1800,704 1794.8,705.5 1795.2,701.5" fill="#f0f0f0" />
<line x1="1648" y1="700" x2="1673" y2="702" stroke="#f0f0f0" stroke-width="1.2" />
<line x1="1775" y1="708" x2="1788" y2="693" stroke="#f0f0f0" stroke-width="1.2" />
<line x1="1762" y1="640" x2="1775" y2="625" stroke="#e0e0e0" stroke-width="1.2" stroke-dasharray="2,2"/>
<line x1="1748" y1="596" x2="1835" y2="596" stroke="#e8e8e8" stroke-width="1.2" />
<polygon points="1836,596 1831,598.5 1831,593.5" fill="#e8e8e8" />
<line x1="1793" y1="630" x2="1793" y2="560" stroke="#e8e8e8" stroke-width="1.2" />
<polygon points="1793,559 1795.5,564 1790.5,564" fill="#e8e8e8" />
<ellipse cx="1793" cy="596" rx="36" ry="21" fill="none" stroke="#e8e8e8" stroke-width="1.3" transform="rotate(-25 1793 596)"/>
<line x1="1760" y1="614" x2="1826" y2="580" stroke="#c8c8c8" stroke-width="1" stroke-dasharray="2,2"/>
<line x1="1780" y1="574" x2="1805" y2="618" stroke="#c8c8c8" stroke-width="1" stroke-dasharray="2,2"/>
<text x="1788" y="551" font-family="'Liberation Sans', Arial, sans-serif" font-size="12" fill="#e8e8e8" font-weight="normal" font-style="italic" text-anchor="start" >V</text>
<text x="1837" y="601" font-family="'Liberation Sans', Arial, sans-serif" font-size="12" fill="#e8e8e8" font-weight="normal" font-style="italic" text-anchor="start" >H</text>
<text x="1715" y="581" font-family="'Liberation Sans', Arial, sans-serif" font-size="11" fill="#e8e8e8" font-weight="normal" font-style="normal" text-anchor="start" >S<tspan font-size="7" dy="2">3</tspan></text>
<text x="1625" y="710" font-family="'Liberation Sans', Arial, sans-serif" font-size="11" fill="#e8e8e8" font-weight="normal" font-style="normal" text-anchor="start" >S<tspan font-size="7" dy="2">1</tspan></text>
<text x="1801" y="711" font-family="'Liberation Sans', Arial, sans-serif" font-size="11" fill="#e8e8e8" font-weight="normal" font-style="normal" text-anchor="start" >S<tspan font-size="7" dy="2">2</tspan></text>
<text x="1671" y="620" font-family="'Liberation Sans', Arial, sans-serif" font-size="12" fill="#e8e8e8" font-weight="normal" font-style="normal" text-anchor="start" >|<tspan font-style="italic">RCP</tspan>⟩</text>
<text x="1671" y="772" font-family="'Liberation Sans', Arial, sans-serif" font-size="12" fill="#e8e8e8" font-weight="normal" font-style="normal" text-anchor="start" >|<tspan font-style="italic">LCP</tspan>⟩</text>
<text x="1759" y="654" font-family="'Liberation Sans', Arial, sans-serif" font-size="12" fill="#e8e8e8" font-weight="normal" font-style="normal" text-anchor="start" >|<tspan font-style="italic">EP</tspan>⟩</text>
<text x="1672" y="687" font-family="'Liberation Sans', Arial, sans-serif" font-size="10.5" fill="#e0f0e0" font-weight="normal" font-style="normal" text-anchor="start" >|135°⟩</text>
<text x="1726" y="692" font-family="'Liberation Sans', Arial, sans-serif" font-size="11" fill="#1a2a1a" font-weight="normal" font-style="normal" text-anchor="start" >2<tspan font-style="italic">χ</tspan></text>
<text x="1713" y="707" font-family="'Liberation Sans', Arial, sans-serif" font-size="11" fill="#1a2a1a" font-weight="normal" font-style="normal" text-anchor="start" >2<tspan font-style="italic">ψ</tspan></text>
<text x="1781" y="687" font-family="'Liberation Sans', Arial, sans-serif" font-size="11" fill="#e0f0e0" font-weight="normal" font-style="normal" text-anchor="start" >|<tspan font-style="italic">V</tspan>⟩</text>
<text x="1653" y="717" font-family="'Liberation Sans', Arial, sans-serif" font-size="11" fill="#e0f0e0" font-weight="normal" font-style="normal" text-anchor="start" >|<tspan font-style="italic">H</tspan>⟩</text>
<text x="1761" y="724" font-family="'Liberation Sans', Arial, sans-serif" font-size="10.5" fill="#e0f0e0" font-weight="normal" font-style="normal" text-anchor="start" >|45°⟩</text>
</svg>
</body></html>
